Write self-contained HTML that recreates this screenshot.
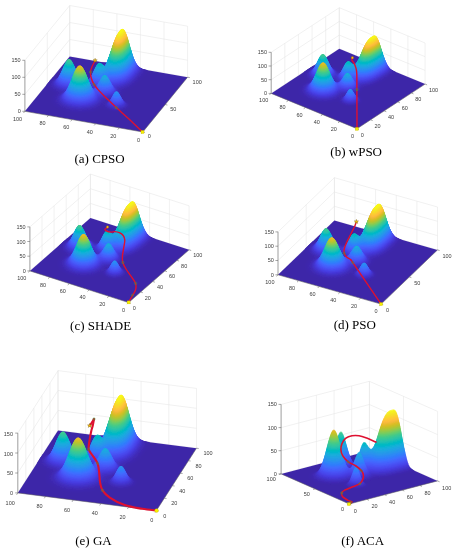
<!DOCTYPE html>
<html><head><meta charset="utf-8"><title>Figure</title><style>html,body{margin:0;padding:0;background:#fff}svg{display:block}</style></head><body>
<svg width="454" height="550" viewBox="0 0 454 550">
<style>.g{stroke:#e2e2e2;stroke-width:.5;fill:none}.ax{stroke:#606060;stroke-width:.55;fill:none}.t{font-family:"Liberation Sans",sans-serif;font-size:5.5px;fill:#3c3c3c}.cap{font-family:"Liberation Serif",serif;font-size:13px;fill:#000}</style>
<filter id="b" x="-5%" y="-5%" width="110%" height="110%"><feGaussianBlur stdDeviation=".3"/></filter>
<rect width="454" height="550" fill="#fff"/>
<g>
<path class="g" d="M24.9 111.3L24.9 60.3M47.3 83.9L47.3 32.9M69.7 56.5L69.7 5.5M24.9 111.3L69.7 56.5L187.6 77.2M24.9 94.3L69.7 39.5L187.6 60.2M24.9 77.3L69.7 22.5L187.6 43.2M24.9 60.3L69.7 5.5L187.6 26.2M187.6 77.2L187.6 26.2M164 73.1L164 22.1M140.4 68.9L140.4 17.9M116.9 64.8L116.9 13.8M93.3 60.6L93.3 9.6M69.7 56.5L69.7 5.5"/>
<g filter="url(#b)"><path fill="#3e26a8" d="M142.8 132L24.9 111.3L69.7 56.5L187.6 77.2Z"/>
<g transform="matrix(-.1179 -.0207 .0448 -.0548 142.8 132)">
<path fill="#3e27aa" transform="translate(.4 1.1)" d="M1000 616l0-134-7-16-14-22-17-20-18-17-34-25-6-6-5-8-5-14-5-50-7-34-7-18-7-16-9-18-9-14-20-24-24-23-26-18-32-16-18-6-22-6-20-3-22-1-20 0-22 3-22 5-20 6-22 10-20 11-18 12-18 16-14 14-13 16-12 18-17 31-7 7-5 2-6-1-36-13-22-5-24-1-24 5-12 4-12 6-20 15-10 10-8 10-11 22-7 24-1 14 0 14 2 14 4 14 5 12 7 12 15 19 18 14 10 6 14 6 40 12 5 5 3 8 0 42 8 49 0 17-4 16-21 50-10 34-6 26-4 24-4 54-2 72 1 68 5 34 4 14 7 16 384 0 6-14 5-14 4-16 3-18 1-26 0-52-2-98 2-20 3-7 4-7 8-6 10-2 50 7 18 1 16-1 26-4 28-10 16-8 14-9 14-11 12-11 11-12 10-14 10-16z"/>
<path fill="#3e27ac" transform="translate(.9 2.4)" d="M1000 558l-1-26-4-26-10-26-12-22-12-16-15-16-18-15-34-23-7-6-5-8-4-14-3-46-6-30-9-30-15-28-20-28-23-24-26-19-14-8-18-9-22-7-22-5-22-3-22-1-24 2-22 5-20 6-20 8-18 10-18 12-16 13-14 14-12 14-10 14-11 20-15 30-4 6-4 2-4 0-6-2-26-15-18-8-14-4-14-2-18 0-18 3-18 7-14 8-12 9-11 12-9 14-7 14-4 14-3 18 1 18 3 16 5 16 10 16 11 14 14 12 12 7 14 6 16 5 30 4 6 3 3 3 2 4 0 6-2 30 1 20 2 16 9 44 0 12-3 10-21 48-12 36-8 36-6 46-3 68 1 90 2 20 3 18 6 16 6 14 353 0 8-14 6-16 4-16 2-16 1-26 0-50-2-104 4-22 8-19 4-5 6-5 10-3 10 1 30 7 20 3 20 0 20-1 16-4 16-4 16-7 14-8 18-12 14-13 13-14 12-18 8-16 8-20 5-20z"/>
<path fill="#3f28ae" transform="translate(1.5 4.1)" d="M990 572l2-28-3-26-8-26-13-26-13-18-17-18-20-15-36-23-7-6-5-8-3-14-2-44-5-30-9-30-15-30-10-14-11-14-11-12-14-12-14-11-16-9-16-8-16-7-16-4-18-4-18-2-18-1-18 2-18 2-32 10-22 9-22 14-18 14-17 17-13 16-13 20-10 20-13 31-6 8-4 2-6-2-30-24-12-7-12-5-12-3-12-2-22 0-16 3-12 4-12 6-12 9-10 9-9 11-7 12-5 12-3 10-2 14 0 14 2 12 3 14 5 12 7 12 8 10 17 15 18 10 12 4 14 3 38 4 4 2 3 6 0 8-4 30 0 22 4 24 9 38 1 16-5 16-23 48-12 38-9 46-5 58-1 86 1 44 2 16 4 18 6 16 6 14 333 0 7-12 6-14 4-14 3-18 2-26 1-44-1-44-2-56 0-16 2-13 4-13 6-14 6-10 8-9 4-3 6-2 12 2 28 7 16 4 28 2 18-1 16-3 18-6 18-8 18-10 14-11 14-14 11-14 10-16 7-16 6-18z"/>
<path fill="#3f29b0" transform="translate(2.3 6)" d="M984 566l1-26-4-26-9-26-13-24-13-16-16-16-18-13-38-22-8-7-4-6-4-14-1-46-4-30-4-16-6-16-8-16-8-14-19-26-24-23-14-10-14-8-16-8-16-6-20-6-22-3-22-1-20 1-20 3-22 6-20 9-20 11-16 11-16 14-13 14-13 16-9 16-8 16-19 53-3 5-3 2-6-3-18-21-10-10-18-13-12-6-14-4-12-3-14 0-14 1-14 4-14 6-12 8-10 9-9 10-7 12-6 14-3 12-2 12 0 14 2 12 4 14 6 12 6 10 9 10 8 7 10 7 12 7 10 3 12 3 12 1 38 0 5 2 2 4-1 8-7 36 0 24 4 26 11 40 1 8 0 8-5 16-23 46-12 36-6 24-4 24-5 54-1 90 1 46 3 18 4 16 5 14 7 14 317 0 9-16 6-16 4-16 3-20 1-22 0-44-3-96 1-20 2-12 5-13 8-16 8-13 4-6 6-5 4-1 6-1 10 2 26 8 18 5 20 2 20 0 28-5 16-6 14-6 16-10 14-11 14-14 11-14 9-16 8-16 5-18z"/>
<path fill="#402ab3" transform="translate(3.1 8.1)" d="M978 568l1-28-4-26-8-24-14-24-14-18-17-15-18-12-39-21-7-6-4-6-3-14 0-46-4-30-4-16-6-16-6-14-9-16-10-14-10-12-11-12-13-11-14-10-14-8-28-12-24-6-24-3-24 0-24 3-24 6-24 10-20 12-20 15-16 16-13 16-12 18-9 18-9 26-6 28-3 22-1 28-2 10-5 11-4 3-4 2-2 0-2-4 4-28 0-16-4-12-6-14-12-18-12-13-16-12-16-8-18-4-18-1-18 3-16 6-16 10-12 11-12 16-7 16-3 12-1 14 1 12 2 14 4 12 7 12 7 10 10 10 10 8 10 5 10 4 12 3 14 2 12 0 38-5 4 1 2 4-2 8-10 38-2 14 0 14 1 14 3 14 14 44 1 8-1 8-4 14-25 48-12 34-6 24-4 22-5 52-2 72 0 42 2 24 2 20 5 16 5 14 7 14 303 0 9-14 7-16 4-18 3-20 1-24 1-44-4-94 1-20 3-12 5-13 20-38 8-9 4-2 6-1 10 2 42 14 28 3 18 0 18-3 16-4 16-6 16-9 14-10 13-12 12-14 10-16 8-16 6-18z"/>
<path fill="#402bb6" transform="translate(4.1 10.9)" d="M446 360l0-16-4-16-7-16-10-14-13-13-14-9-16-6-16-4-18 0-16 4-16 6-14 10-12 12-9 14-7 16-3 16 0 16 4 18 7 16 10 14 12 12 14 9 16 6 16 3 18 0 18-3 20-8 14-8 9-9 7-14 7-18zM972 572l2-26-3-26-8-26-13-24-15-18-17-15-22-14-38-19-7-6-4-6-3-6-1-8 1-40-1-20-3-18-5-20-8-22-12-20-14-20-16-16-25-19-26-14-30-10-16-3-16-2-32 1-30 7-16 5-14 6-26 16-16 14-15 15-12 16-12 20-10 26-7 28-3 26-1 36-3 14-3 6-6 7-28 21-11 12-8 14-7 14-5 14-4 14-2 22 1 24 5 20 13 36 2 8 0 8-2 8-4 8-17 30-8 18-8 20-6 18-6 26-4 24-3 28-1 32-1 86 1 38 3 18 5 16 5 14 7 12 290 0 9-14 7-16 5-18 3-20 1-22 0-42 0-44-3-54 1-22 3-12 5-12 26-48 8-8 4-1 6 0 8 2 26 10 16 5 16 4 18 1 14 0 14-2 16-4 14-6 16-8 14-10 13-11 12-14 10-14 8-16 5-16z"/>
<path fill="#412cba" transform="translate(5.4 14.1)" d="M440 366l1-16-2-16-6-16-8-14-11-12-14-10-14-7-16-4-16-1-18 3-14 5-14 8-12 11-10 13-6 14-4 16-1 16 2 16 6 16 7 12 11 12 13 10 14 7 16 4 16 1 18-2 16-5 16-9 11-10 9-12 7-16zM968 564l0-26-4-26-10-24-14-22-14-16-16-13-20-11-39-18-7-5-4-5-3-8-1-8 2-40-1-22-2-18-6-20-8-22-12-20-13-18-16-16-24-19-14-8-14-6-28-9-30-4-30 2-16 2-16 5-26 10-26 17-18 15-16 19-15 22-10 22-6 20-4 20-1 22 0 36-2 10-2 7-9 11-29 23-14 15-8 12-6 12-5 14-3 12-3 22 2 22 6 22 14 36 2 8 0 8-5 14-19 32-8 16-8 18-6 20-6 24-4 26-4 30-2 34 0 84 2 36 2 16 4 16 6 14 8 14 277 0 10-14 7-16 5-18 3-20 1-24 0-42 0-44-3-52 1-22 3-12 5-12 30-57 4-4 4-3 4-1 6 0 50 19 18 4 16 2 16-1 14-2 14-3 14-5 16-9 14-10 14-12 11-14 10-16 7-14 5-16z"/>
<path fill="#422fc0" transform="translate(7 18.4)" d="M436 358l0-16-4-14-6-14-9-12-11-11-12-8-14-6-16-3-16 0-14 3-14 6-14 10-11 11-7 12-7 16-2 14 0 14 4 16 6 14 9 13 11 11 13 8 14 5 16 3 16 0 14-3 14-6 14-10 11-11 7-12 5-14zM962 566l1-26-4-26-10-24-14-22-15-16-18-13-22-12-38-15-6-4-5-6-2-6-1-10 3-38 0-20-2-20-4-18-8-22-12-22-13-18-16-17-24-18-26-14-28-8-28-4-30 1-28 6-26 11-26 16-18 16-17 19-12 20-10 22-6 20-3 20-2 20 1 38-1 8-3 8-8 10-31 24-15 16-7 10-7 12-5 12-3 14-3 22 3 22 6 22 15 34 2 8 1 8-5 14-19 30-10 20-8 18-6 18-6 24-5 30-4 30-1 34-1 82 2 36 3 16 5 16 5 12 8 14 264 0 10-14 7-16 6-18 3-20 1-26 0-56-4-84 2-20 6-18 19-36 18-36 3-4 4-3 8 0 48 22 16 4 16 3 14 0 16-1 14-3 14-4 16-7 14-9 14-12 11-12 10-14 8-16 6-16zM690 538l-4 3-4 0-12-4-11-9-1-4 0-4 6-4 6-1 8 0 6 2 4 3 3 6 1 6z"/>
<path fill="#4332c9" transform="translate(10.1 26.6)" d="M428 368l2-14-1-14-4-14-6-12-10-12-11-9-12-7-14-5-14-1-14 1-14 4-12 6-11 9-9 10-7 12-4 14-2 14 1 16 4 14 7 12 9 11 10 8 12 7 14 5 14 1 14-1 14-4 12-6 12-9 9-10 6-12zM954 566l1-26-4-24-10-24-7-12-8-10-16-16-20-13-22-10-36-11-8-4-5-6-2-6-1-8 5-40 1-22-1-18-4-20-8-22-10-20-13-19-16-17-22-17-24-12-28-9-28-4-28 2-28 6-26 11-24 16-16 15-15 18-12 20-8 20-6 20-2 18-1 20 2 38-1 8-3 8-8 10-34 24-16 16-8 10-7 12-4 12-3 12-2 22 1 12 2 12 8 22 17 32 3 8 0 6-1 6-3 8-27 40-9 16-6 16-7 18-5 20-8 46-2 32-1 36-1 60 2 28 3 20 4 18 7 16 9 14 244 0 11-14 8-16 6-18 3-22 2-26-1-58-4-82 2-20 7-18 17-30 8-16 13-37 4-8 2-2 4-2 6 2 42 24 16 7 16 4 16 2 14 0 14-1 16-4 16-6 14-8 14-11 12-12 11-14 8-16 6-16zM706 548l-3 10-4 4-5 1-10-4-33-19-11-8-4-5-2-5 0-6 1-4 3-4 4-3 14-4 24-1 10 1 6 2 7 5 3 8 2 14z"/>
<path fill="#4435d1" transform="translate(13.2 34.7)" d="M424 362l1-14-2-12-4-12-7-12-10-10-10-8-12-5-14-4-14 0-12 2-12 4-12 7-10 10-7 10-6 12-3 12 0 12 1 14 5 12 7 12 9 10 10 8 12 5 14 4 14 0 12-2 12-4 12-7 10-9 8-11 5-12zM948 566l1-12 0-14-4-24-5-12-6-12-8-12-8-10-16-14-20-12-22-9-40-9-8-4-4-4-2-6 0-10 7-40 2-22-1-20-3-18-8-24-10-20-13-19-16-17-20-15-24-12-26-8-28-4-26 2-26 6-26 11-22 15-16 15-14 18-12 20-8 20-4 18-2 18-1 20 3 38 0 8-3 8-4 6-5 4-34 22-18 16-8 10-7 12-5 12-3 12-2 22 2 12 3 12 9 22 19 32 3 8 0 6-1 6-3 6-29 40-9 16-7 14-7 20-6 20-7 44-3 32-2 36 0 62 1 28 3 20 6 18 7 16 10 14 228 0 11-14 9-16 6-18 3-20 2-24 0-46-1-42-4-54 2-22 6-18 20-34 10-22 7-22 5-34 2-6 2-1 6 4 25 21 15 11 24 13 16 5 16 3 16 0 16-1 16-4 18-8 16-10 12-11 12-14 9-16 8-18zM716 531l-3 47-1 7-2 2-6-2-34-25-31-18-9-6-4-5-3-5-1-6 0-8 2-6 4-6 6-4 6-2 10-2 20-1 18-1 12 1 10 4 5 7 1 10z"/>
<path fill="#4538d8" transform="translate(16.3 42.9)" d="M420 362l1-14-2-12-5-12-6-10-8-9-10-7-12-6-12-3-12 0-12 1-12 4-10 6-9 8-8 10-6 12-3 12 0 12 2 14 4 12 6 10 8 9 10 7 12 6 12 3 14 0 12-2 12-4 10-7 9-8 7-10 5-10zM944 556l-1-24-3-12-4-12-5-12-6-10-8-10-9-9-16-12-20-10-22-7-42-7-8-3-3-4-1-6 0-8 9-40 3-22 1-20-3-20-7-24-10-22-14-20-16-16-21-16-24-11-26-7-24-3-26 2-24 6-24 11-22 15-15 15-14 18-10 18-8 22-4 16-2 18 1 20 4 38-1 8-3 8-2 4-6 5-36 20-18 15-8 10-8 12-5 12-3 12-2 12 0 12 2 12 3 12 11 22 22 32 2 6 1 6-1 6-4 8-30 36-9 14-8 16-8 20-5 18-5 20-4 24-3 32-2 36 0 66 1 28 3 20 6 18 7 16 10 14 216 0 13-16 9-18 5-12 3-14 2-30 0-68-5-76 1-20 3-10 4-10 21-34 10-22 7-24 1-24-2-12-4-10-6-10-8-10-19-15-12-8-26-13-6-4-6-6-4-10 0-12 3-12 6-8 9-5 18-2 54-2 10 1 6 3 3 5 1 8-3 44 1 24 3 16 5 14 7 10 8 10 21 19 22 12 24 8 24 2 22-2 22-8 20-12 17-15 14-20 9-22z"/>
<path fill="#463cdf" transform="translate(19.4 51)" d="M416 364l1-12-1-12-4-12-5-10-7-8-10-8-10-6-12-3-12-1-10 1-12 3-10 6-10 8-7 8-5 10-4 12-1 12 1 12 4 12 5 10 7 8 10 8 10 6 12 3 12 1 12-1 10-3 11-6 9-8 7-8 5-10zM938 568l2-14 0-14-3-14-3-12-5-12-7-12-8-11-10-10-18-13-22-9-26-6-42-3-6-2-4-4-1-4 1-8 12-40 4-22 2-22-2-20-5-24-10-22-12-20-17-18-20-16-22-11-24-7-26-4-26 2-24 6-24 11-20 14-16 15-14 18-9 18-8 22-4 18-1 18 1 20 5 36 0 8-2 6-4 6-5 4-37 19-10 6-10 9-9 10-7 12-5 12-3 12-2 12 1 12 2 12 3 12 12 22 24 30 3 6 1 6-1 6-4 8-32 36-10 14-8 14-8 18-6 18-5 20-4 22-3 30-2 36-1 68 1 30 3 20 5 18 7 16 9 14 4 4 204 0 14-16 10-20 7-24 2-32 0-68-5-74 1-20 2-10 4-10 24-36 8-18 7-22 1-22-2-14-5-12-7-12-8-10-10-8-12-8-38-19-8-9-4-12 0-18 4-13 6-8 6-3 10-2 40-2 38-3 12 0 6 3 3 4 0 8-6 40-1 24 3 20 5 18 6 10 7 10 17 17 20 14 22 8 22 4 22-1 20-5 20-10 18-14 14-17 11-20z"/>
<path fill="#4740e4" transform="translate(22.5 59.1)" d="M414 354l-1-12-3-10-4-10-6-8-8-7-10-6-10-4-12-2-12 1-10 2-10 5-9 7-8 8-6 10-3 10-2 12 1 12 3 10 5 10 7 10 8 6 10 6 10 3 12 2 12-1 10-3 10-5 8-6 7-8 6-10 3-10zM936 554l0-14-2-14-4-12-5-12-7-11-8-10-10-10-10-8-20-10-24-7-26-2-42 3-4-1-3-2 0-4 1-6 16-40 7-24 4-24 0-22-5-26-10-24-14-22-18-20-20-14-22-10-24-7-24-2-24 2-24 7-22 10-20 14-15 16-12 16-10 20-6 20-3 18-1 16 1 20 6 38 0 8-2 7-4 5-6 4-36 16-12 7-9 7-9 10-7 10-6 12-4 14-1 14 1 12 2 12 4 12 7 12 7 10 26 30 4 6 0 6-1 6-4 6-34 34-10 14-9 14-8 16-6 18-6 20-5 24-3 30-3 38 0 68 1 30 2 20 5 18 8 16 10 14 3 4 194 0 8-8 8-10 6-10 5-12 6-26 2-30 0-68-5-72 1-20 2-10 5-10 22-34 10-18 6-22 1-22-2-12-5-12-7-12-8-10-18-14-14-7-26-12-6-4-5-5-4-12 0-22 3-17 2-5 4-4 6-4 8-1 50-2 20-2 38-6 8 0 3 1 1 2 0 6-11 38-4 26 1 26 5 22 6 12 6 10 9 10 8 8 10 7 12 7 12 5 12 4 22 2 22-2 22-8 18-11 16-15 13-19 8-20z"/>
<path fill="#4745e9" transform="translate(25.6 67.3)" d="M410 362l1-10-1-10-3-10-5-10-6-8-8-6-10-6-10-3-12-1-10 1-10 3-10 6-8 6-6 8-5 10-3 10-1 10 1 10 3 10 5 10 6 8 8 6 10 6 10 3 10 1 12-1 10-3 10-6 8-6 6-8 5-10zM794 354l1-24-3-22-7-22-10-20-13-18-18-17-18-12-22-9-22-6-24-1-22 2-22 7-22 11-18 13-16 17-13 19-6 12-5 14-3 14-2 16 1 28 8 46 0 6-1 6-3 4-5 4-41 16-12 6-10 8-9 10-8 12-6 12-3 14-1 12 2 14 3 12 5 12 6 10 9 11 28 27 4 6 1 4-1 6-6 8-36 34-11 14-9 14-9 18-7 18-6 22-5 22-4 32-2 38 0 68 1 30 4 20 6 18 8 16 12 14 184 0 12-12 10-14 6-14 4-14 3-14 1-18 0-74-5-78 1-20 2-9 4-9 24-34 9-18 6-20 1-12 0-10-2-14-5-12-7-12-9-10-9-7-10-7-12-5-27-11-6-4-4-4-3-8-2-12 1-26 2-14 2-6 3-3 8-5 12-1 42 1 24-3 34-8 14-6 8-5 7-6 7-8 15-26 11-28zM932 560l0-18-3-20-7-18-10-15-12-13-16-12-18-9-18-4-20-2-22 1-22 5-14 6-10 9-10 14-8 18-5 22-3 22 2 20 4 18 10 18 13 16 15 12 18 10 20 6 20 2 20-3 18-6 18-10 16-15 12-16 8-18z"/>
<path fill="#4849ed" transform="translate(28.7 75.4)" d="M408 358l0-10-1-10-4-10-6-8-7-8-8-5-8-4-10-2-10 0-10 1-10 4-8 5-8 7-5 8-5 10-2 10 0 10 1 10 4 10 6 8 7 8 8 5 10 4 10 2 10 0 10-2 10-4 8-5 7-8 6-8 3-8zM790 356l1-22-2-22-6-22-10-20-12-18-17-16-18-13-22-9-22-6-22-1-22 2-22 6-20 10-19 13-15 16-14 20-6 14-5 14-3 14-1 16 0 14 2 16 10 44 0 6-1 6-3 4-6 4-41 13-12 5-11 8-10 10-9 12-5 12-4 14-1 14 2 12 4 14 6 12 7 10 9 10 31 26 3 4 2 6-1 6-6 8-39 33-11 13-10 14-9 16-7 18-7 20-5 24-4 32-3 38 0 70 1 30 4 22 6 18 9 16 12 14 176 0 12-12 11-16 6-12 4-14 3-16 1-18 0-74-6-78 1-18 2-10 5-10 23-32 10-18 6-20 1-20-2-14-4-12-8-12-9-10-18-13-12-6-30-11-6-4-4-4-3-8-1-10 1-40 2-12 3-7 4-3 4-1 12-1 40 2 24-2 30-6 12-5 12-6 10-7 8-8 8-10 7-12 12-26 4-14zM928 564l1-18-2-18-6-18-9-16-12-14-14-11-16-9-18-5-20-3-20 1-20 5-16 7-12 9-9 12-8 16-6 20-3 20 1 20 4 18 8 18 13 16 14 13 18 10 18 5 18 2 20-1 18-6 18-9 14-12 13-16 9-18z"/>
<path fill="#484df0" transform="translate(31.7 83.6)" d="M406 354l-1-10-2-8-3-8-6-8-8-7-8-5-8-3-10-2-10 1-10 2-8 4-8 6-7 8-5 8-2 8-2 10 1 10 2 10 4 8 7 8 8 7 8 4 8 3 10 1 10-1 8-2 8-4 8-6 7-8 5-8 3-8zM788 340l-1-20-4-20-8-20-11-18-14-16-16-13-18-11-20-7-20-4-22-1-22 4-20 6-20 11-16 13-14 15-11 17-6 14-5 16-3 14-1 16 1 14 2 16 12 46 1 6-1 6-4 4-5 2-28 6-16 4-12 6-10 6-11 10-9 11-6 13-4 14-1 12 2 14 4 14 6 12 9 12 10 9 33 23 4 4 2 6-2 8-6 8-43 35-11 11-10 14-9 16-8 18-7 20-5 22-4 34-3 36-1 72 2 30 3 22 7 18 9 16 12 14 168 0 15-14 11-16 5-12 4-14 3-16 1-18 0-74-2-32-5-44 1-20 3-10 4-8 24-32 10-18 6-20 1-20-2-14-5-12-7-12-10-10-10-8-12-6-40-14-4-2-4-5-3-7 0-8 0-58 0-8 2-4 3-3 8-2 52 4 16-1 16-2 26-7 22-11 10-7 10-10 9-13 7-12 6-14 6-16 3-16zM926 558l0-18-3-18-7-16-10-15-13-13-15-11-16-6-18-5-20-1-18 3-18 6-14 8-12 12-9 14-7 18-4 18-1 20 3 18 5 16 10 16 13 14 16 11 16 8 18 4 18 0 18-3 18-7 16-10 13-13 10-14 8-18z"/>
<path fill="#4851f4" transform="translate(34.8 91.7)" d="M402 364l1-8 0-10-1-8-4-8-5-8-7-6-8-6-8-3-8-1-10 0-10 2-8 3-8 6-6 7-5 8-3 8-1 8 0 10 2 10 4 8 6 8 7 6 8 5 8 2 8 2 10-1 8-2 9-4 7-5 6-7 5-8zM784 350l1-22-4-22-7-20-10-18-12-16-16-14-18-11-20-9-20-4-22-1-22 3-20 7-18 9-16 12-15 16-11 18-7 14-5 16-2 16-1 18 4 28 16 50 1 6 0 5-3 3-5 2-28 2-18 3-12 4-12 6-12 9-10 12-7 14-4 14-1 14 2 14 5 14 7 12 8 10 12 10 35 20 4 4 2 6-2 10-8 10-9 8-24 16-12 10-12 12-9 12-10 16-8 18-6 18-6 22-5 32-2 40-1 72 1 30 4 22 6 18 10 16 13 14 160 0 15-14 13-18 5-12 4-14 2-16 1-18 0-74-2-30-5-46 1-18 2-10 5-10 24-31 10-17 7-20 1-20-3-14-5-12-8-12-10-10-10-7-12-6-40-12-5-3-3-4-3-10 1-42-4-42 2-4 8-2 52 7 30 0 26-6 24-9 12-8 9-8 9-10 9-12 6-12 6-14 4-14zM922 566l2-16-2-18-5-16-8-16-11-14-12-10-16-9-16-6-18-3-18 1-18 4-16 7-14 10-10 12-7 14-7 18-2 18 0 18 4 18 8 16 10 14 14 13 16 9 18 7 18 2 18-2 18-5 15-8 15-12 11-14 8-16z"/>
<path fill="#4756f6" transform="translate(37.9 99.8)" d="M400 362l1-8 0-8-2-8-4-8-5-8-6-5-8-5-8-3-8-1-10 0-8 2-8 4-8 6-5 6-4 8-3 8-1 8 0 10 3 8 4 8 6 8 6 5 8 4 8 2 8 1 8 0 8-2 8-4 8-6 5-6 5-8zM682 652l1-18-3-16-7-16-10-12-11-9-12-6-16-6-30-7-5-2-4-4-2-10 2-36-2-24-2-12-5-12-4-8-4-5-10-5-14-3-16 0-16 1-14 4-12 6-10 7-10 9-10 16-5 18-1 10 1 10 6 18 9 15 12 12 16 11 32 14 3 4 2 6-4 12-9 12-10 8-24 16-12 9-12 11-10 12-9 14-8 18-7 20-6 20-5 32-3 38-1 74 1 32 4 22 7 18 10 16 14 14 152 0 13-11 11-13 8-14 4-14 4-16 1-18 0-80-2-32-5-44 1-20 2-10 6-10 22-27 8-13 7-14zM780 358l2-24-3-24-7-22-11-20-15-18-18-14-20-11-24-7-24-2-24 3-22 7-20 11-18 15-14 18-11 20-7 24-2 26 3 26 10 30 14 30 7 9 8 6 16 6 26 6 28 3 26-1 26-6 22-11 18-14 15-18 12-24zM920 562l1-18-2-16-6-16-8-14-11-12-14-11-16-8-16-4-18-2-18 2-16 5-14 7-12 10-10 13-8 16-4 18-2 18 2 18 6 16 8 14 12 14 14 11 16 8 16 4 18 1 16-2 16-6 16-9 12-11 11-14 7-16z"/>
<path fill="#475af9" transform="translate(41 108)" d="M398 360l1-8-1-8-2-8-4-7-5-7-7-5-14-6-8-1-8 0-8 3-8 4-7 5-5 6-4 8-2 8-1 8 1 8 2 8 4 7 5 7 7 5 14 6 8 1 8 0 8-3 8-4 7-5 5-6 4-8zM680 650l1-16-3-16-8-16-10-12-12-9-12-5-16-5-30-5-6-3-3-3-2-4 0-6 3-34-1-24-3-12-3-10-5-8-6-7-10-6-12-4-14-1-14 1-14 3-12 6-10 6-10 10-10 16-3 10-2 10 0 10 2 10 7 18 10 14 12 10 16 9 32 11 5 4 1 6-2 8-3 8-11 14-9 8-27 16-12 9-12 11-10 12-9 14-9 18-6 18-5 20-6 32-3 38-1 74 2 32 4 22 7 18 10 16 14 14 145 0 15-12 11-14 8-14 4-14 3-16 2-18-1-78-2-32-5-46 1-20 3-10 4-8 23-28 10-14 5-12zM778 352l1-24-4-22-8-22-11-18-16-17-18-14-22-10-22-5-24-1-22 4-22 8-18 11-17 16-14 18-10 22-5 22-1 24 4 26 10 26 13 24 10 11 12 8 22 8 24 5 26 1 24-3 22-7 20-11 16-14 14-20 10-22zM918 558l0-16-2-16-7-16-9-14-12-12-12-9-16-7-16-4-18 0-16 2-16 6-14 8-10 10-10 14-7 16-3 16-1 18 3 16 5 16 9 14 12 13 14 10 16 7 16 3 16 1 16-3 16-6 14-9 12-12 10-14 7-16z"/>
<path fill="#465efb" transform="translate(44.1 116.1)" d="M396 360l1-8-1-8-2-8-4-6-10-11-6-3-8-3-8-1-8 1-8 2-6 3-6 5-6 7-4 6-2 8-1 8 1 8 2 8 4 6 5 6 7 6 6 3 8 2 8 1 8-1 8-3 6-3 10-11 4-6zM678 648l0-18-4-16-8-14-12-12-12-7-14-6-16-3-30-3-6-2-2-3-1-8 6-38 0-20-2-12-5-12-4-8-8-8-8-5-12-5-12-1-14 1-12 2-12 5-10 7-10 9-6 9-4 8-3 10-2 10 1 10 2 10 3 10 5 8 10 12 14 11 18 8 33 7 4 4 1 4-2 8-5 12-7 10-6 8-10 8-28 17-12 8-12 11-10 12-9 14-8 16-7 18-5 20-5 32-4 38-1 74 2 32 4 22 8 20 11 16 13 12 139 0 15-12 13-16 7-14 4-14 3-16 1-18 0-78-2-30-6-48 1-20 2-8 6-10 22-26 10-14 7-14zM776 346l0-22-5-22-8-20-14-20-16-16-19-12-20-8-22-4-22 0-22 5-20 8-20 14-16 16-12 19-8 20-4 22 0 24 5 24 10 24 13 21 12 11 16 9 22 7 24 4 24 0 24-5 20-8 18-12 15-15 13-20 8-22zM916 556l0-16-4-16-5-14-10-14-11-11-14-9-16-7-16-3-16 0-16 3-14 6-14 9-10 10-9 14-6 16-3 16 0 16 3 16 6 16 9 13 11 11 13 9 16 7 16 3 16 0 16-3 16-7 13-9 12-12 9-14 5-14z"/>
<path fill="#4562fc" transform="translate(47.2 124.2)" d="M394 358l0-14-3-8-3-6-6-6-5-4-13-5-14 0-8 2-6 4-6 5-5 6-3 6-2 8 0 14 3 8 3 6 6 6 6 5 6 2 8 2 14 0 8-3 6-4 9-10 3-6zM676 646l0-18-5-16-5-8-6-7-14-12-16-7-18-3-22-1-26 2-4 3-18 35-13 18-11 9-28 16-14 10-14 13-12 16-9 16-8 20-6 22-4 22-3 24-2 28-1 78 3 30 2 14 4 12 6 12 7 10 8 8 9 8 132 0 18-14 12-16 6-12 5-14 3-16 1-20-1-78-2-30-5-46 0-20 3-10 5-8 24-28 10-14 6-14zM576 524l1-14-1-12-2-12-4-10-6-9-7-7-9-5-10-4-12-1-14 1-12 3-12 5-10 7-9 10-6 10-4 12-1 12 1 12 3 12 6 12 9 10 11 9 12 6 12 4 12 1 14 1 16-1 6-2 4-8 6-16zM772 356l2-22-3-22-6-20-11-20-14-16-18-15-20-10-20-5-22-2-22 3-20 6-20 11-16 14-15 18-10 20-5 20-2 22 3 24 8 24 11 21 12 15 14 10 18 9 22 5 24 2 22-2 22-6 20-11 16-13 14-18 10-20zM914 552l-1-16-4-16-7-14-10-12-12-11-14-8-14-4-16-3-16 1-16 4-14 7-11 8-10 12-8 14-5 14-2 16 0 16 4 16 7 14 9 12 12 11 14 9 14 5 16 2 16-1 14-3 15-7 13-10 11-12 8-14 5-14z"/>
<path fill="#4367fd" transform="translate(50.3 132.4)" d="M392 358l0-14-5-12-5-5-6-5-12-5-14 0-8 3-6 3-5 5-5 6-4 12 0 14 6 13 10 9 6 3 8 2 14 0 12-6 5-5 5-6zM674 646l0-16-5-16-9-14-11-10-15-8-16-4-20-1-18 2-10 4-8 6-7 9-17 28-10 12-10 7-28 15-14 10-14 14-12 16-9 18-7 18-5 20-5 24-2 24-2 28-1 78 3 30 3 12 4 12 6 10 7 10 8 9 9 7 125 0 18-13 14-17 7-14 4-14 3-16 1-18-1-78-2-32-6-46 1-20 3-10 5-8 24-26 10-14 6-14zM574 520l1-12-2-12-3-12-5-10-6-8-8-6-9-4-10-3-12-1-12 2-12 4-10 5-10 8-7 9-5 10-3 12-1 12 2 12 4 12 7 10 9 9 10 7 12 6 12 2 12 1 12-1 10-3 6-4 6-7 6-12 4-12zM770 354l2-22-3-20-7-20-11-20-14-16-17-13-20-10-20-5-22-1-20 2-20 7-20 11-16 14-13 17-10 20-5 20-2 22 3 22 7 22 12 21 12 14 14 11 18 8 22 6 24 2 22-3 20-6 20-11 16-14 13-18 10-20zM910 566l2-14-1-16-4-14-7-14-9-12-11-10-14-8-14-5-16-2-16 0-14 4-14 6-11 9-9 10-9 14-5 14-2 16 1 16 3 14 6 14 10 13 12 11 14 8 14 5 16 2 16-1 14-4 14-7 12-10 10-11 8-14z"/>
<path fill="#416bfe" transform="translate(53.4 140.5)" d="M390 358l0-12-5-12-9-10-12-5-8-1-6 1-12 5-9 10-5 12 0 8 0 6 6 12 10 9 12 4 12 0 12-5 9-10zM672 646l0-16-4-14-7-12-11-11-14-8-16-5-18-1-16 2-12 5-10 7-8 11-17 26-9 10-10 8-28 14-14 10-15 14-12 18-8 16-8 20-5 22-4 22-4 52-1 78 4 30 7 22 6 10 8 10 8 8 8 6 119 0 9-6 10-8 8-8 7-10 6-12 4-14 3-16 1-20-1-80-3-30-6-46 1-18 3-10 4-8 25-26 10-14 7-14zM572 516l0-12-2-10-3-10-5-10-8-8-8-6-10-3-10-2-12 0-10 2-12 5-9 6-8 8-6 8-4 10-3 12 0 12 3 10 4 10 7 10 8 8 10 7 12 4 12 3 12 0 10-2 8-3 8-7 6-8 5-10 3-12zM768 352l1-22-3-20-7-20-11-18-14-15-16-12-20-10-20-5-22-1-20 3-20 7-18 11-15 14-12 16-10 20-5 20-1 22 3 22 7 20 12 20 12 14 15 11 18 8 22 5 22 1 22-3 20-7 18-10 16-15 12-16 9-20zM908 564l2-14-1-14-4-14-7-14-10-12-10-9-14-8-14-4-14-2-16 1-14 3-14 7-12 10-9 10-7 14-4 14-2 16 1 14 4 14 7 14 10 12 10 9 14 8 14 4 14 2 16-1 14-5 14-7 12-10 8-10 8-14z"/>
<path fill="#3e70ff" transform="translate(56.5 148.7)" d="M388 356l-1-12-2-6-4-6-9-8-12-3-12 1-10 5-8 9-4 12 1 12 2 6 4 6 9 8 12 3 12-1 10-5 8-9zM670 646l0-14-4-15-8-13-10-10-12-7-16-5-16-1-16 3-12 5-12 9-7 10-17 26-9 10-9 6-28 14-15 10-14 14-13 18-9 18-6 18-6 22-4 22-4 52 0 76 4 30 7 22 6 10 8 10 8 7 10 7 111 0 11-7 10-8 9-9 6-10 6-12 4-14 3-16 1-20-1-78-3-30-6-48 0-18 3-10 5-8 25-25 10-13 7-14zM568 526l2-12 0-10-2-10-4-10-4-8-8-8-8-5-8-4-10-2-12 0-10 2-10 4-10 7-8 8-5 8-5 10-2 10 1 12 2 10 4 10 7 9 8 8 10 6 10 4 10 2 12 0 10-2 10-5 7-6 6-8 5-10zM766 350l1-22-4-20-7-18-11-18-15-16-16-11-18-8-20-5-22-1-20 4-18 7-18 11-16 15-11 16-8 18-5 20-1 20 4 22 8 22 11 18 12 13 16 11 18 8 20 4 22 1 20-3 20-7 18-11 15-14 11-16 9-20zM906 564l2-14-1-14-4-14-7-13-9-11-11-10-12-7-14-4-14-2-16 1-14 4-12 6-12 9-9 11-7 12-4 14-2 16 1 14 4 14 6 12 10 12 11 10 12 6 14 5 14 2 16-2 14-4 12-6 12-10 9-11 7-12z"/>
<path fill="#3974fe" transform="translate(59.6 156.8)" d="M386 356l-1-12-5-10-8-7-10-4-12 1-10 4-8 9-4 11 1 12 5 10 10 8 10 3 12-1 10-6 7-8zM668 646l0-14-4-14-7-12-10-10-13-8-14-4-16 0-14 2-12 5-11 9-9 11-16 25-9 10-9 7-28 13-16 11-16 15-12 18-8 16-7 20-5 20-3 22-4 52 0 78 4 28 4 12 4 10 7 10 6 8 10 8 9 6 104 0 13-7 10-8 8-9 8-12 7-14 3-14 2-16 1-20-1-76-3-30-7-46 0-12 1-8 2-8 5-8 26-26 10-12 7-14zM566 524l2-12-1-10-2-10-3-8-6-8-6-6-8-6-8-3-10-1-10 0-10 2-10 4-9 6-8 8-5 8-4 10-2 10 1 10 2 10 5 10 6 8 8 8 8 4 10 4 12 2 10 0 10-2 8-4 7-6 6-8 5-10zM764 348l1-20-4-20-8-20-11-16-14-15-16-11-18-8-20-4-20-1-20 4-20 8-16 11-15 14-11 16-8 18-4 20-1 20 4 20 7 20 11 18 13 14 16 10 18 8 20 4 22 1 20-4 20-8 16-10 14-13 12-18 8-18zM904 564l2-14-1-14-4-14-7-12-8-11-11-9-11-6-14-5-14-2-14 1-14 3-12 6-12 9-9 10-7 12-4 14-2 14 1 14 4 14 5 12 9 12 11 9 12 7 14 5 14 2 14-1 14-4 12-6 12-9 9-11 7-12z"/>
<path fill="#3579fd" transform="translate(62.7 164.9)" d="M384 354l-1-10-5-9-8-7-10-3-10 1-10 5-7 9-3 10 1 10 6 10 9 7 10 2 10-1 9-6 6-8zM666 648l0-14-3-14-7-12-9-10-13-8-14-4-14 0-15 2-13 6-10 8-9 12-16 26-9 10-10 6-28 13-14 9-16 15-13 19-7 16-7 18-5 20-4 24-4 52 0 76 5 28 3 12 5 10 7 10 7 8 7 6 10 7 2 1 98 0 12-7 12-9 10-10 6-10 7-14 3-14 2-16 1-22-1-76-3-28-7-48 0-18 3-10 5-8 25-24 10-12 7-12zM564 524l1-10 0-10-2-10-3-8-5-8-7-7-8-5-8-3-10-1-10 0-10 3-8 3-8 6-6 6-6 8-4 10-1 10 0 10 2 10 4 8 6 8 7 7 8 5 10 4 10 2 10 0 10-3 8-4 7-5 6-8 4-8zM762 348l0-20-3-20-7-18-11-16-13-14-16-11-18-9-20-4-20 0-20 3-18 7-16 11-14 13-11 16-9 18-4 20 0 20 3 20 8 20 10 16 13 14 14 10 18 8 20 4 20 1 20-3 18-7 18-11 15-14 11-16 8-18zM902 564l2-12-1-14-4-14-6-12-7-10-12-10-12-7-12-4-14-2-14 1-14 3-12 6-11 9-9 10-6 12-4 12-2 14 1 14 4 14 6 12 7 10 12 10 12 7 12 4 14 2 14-1 14-4 11-6 11-8 9-10 7-12z"/>
<path fill="#317dfb" transform="translate(65.8 173.1)" d="M380 360l2-10-3-10-7-8-8-4-10-1-8 3-8 6-4 8-2 10 3 10 7 8 8 4 10 1 8-3 8-6zM664 648l1-14-3-12-6-12-10-10-12-7-14-5-14 0-14 2-12 6-12 10-8 11-15 25-9 10-10 7-28 12-16 10-15 15-13 19-7 15-7 18-5 22-3 22-4 52 0 74 4 28 4 12 5 10 7 10 6 7 8 7 10 6 3 2 91 0 14-7 12-9 9-10 8-12 6-14 4-14 2-18 0-22-1-74-3-28-8-48 1-18 3-10 5-7 25-23 10-12 7-12zM562 522l1-10 0-8-2-10-4-8-5-7-6-6-8-5-8-3-8-1-10 0-10 3-8 4-8 6-6 6-5 9-3 8-1 8 0 10 3 10 4 8 6 8 7 6 7 4 10 4 10 1 10 0 8-3 8-4 6-5 5-7 4-8zM760 346l0-20-3-18-8-18-10-16-14-14-17-11-18-8-18-3-20 0-18 3-18 8-16 10-14 14-11 17-8 18-3 18 0 20 4 20 7 18 11 17 12 12 16 10 18 8 20 3 20 0 18-3 18-7 16-11 14-13 10-16 8-18zM900 564l2-12-1-14-3-12-6-12-8-11-10-9-12-7-12-4-12-2-14 0-14 4-12 5-10 8-9 10-7 12-4 12-2 12 0 14 4 14 6 12 8 11 10 9 12 7 12 4 12 2 14-1 14-3 12-6 11-9 9-10 6-12z"/>
<path fill="#2f82fa" transform="translate(68.9 181.2)" d="M379 358l0-10-3-8-6-6-8-4-8 0-8 2-6 6-5 8 0 10 3 8 6 6 8 4 8 0 8-2 7-6zM662 648l1-14-3-12-7-12-9-9-12-7-12-4-14 0-14 3-12 6-10 9-9 12-15 25-8 9-10 7-28 12-16 9-16 16-13 18-7 16-6 18-5 20-4 22-4 50 0 74 4 28 4 12 5 10 6 10 7 8 9 8 8 5 6 3 84 0 14-7 13-9 10-10 8-12 6-14 5-18 1-18 1-30-2-66-3-26-8-46-1-12 1-8 3-8 5-8 25-22 11-12 7-12zM560 520l1-10-1-8-2-8-4-8-4-6-7-6-7-4-8-3-8-1-10 1-8 2-8 4-8 6-6 7-4 8-2 8-1 8 0 10 3 8 4 8 6 7 8 7 8 4 8 2 10 1 8-1 8-2 6-4 7-6 5-7 4-8zM758 346l0-18-3-18-7-18-10-16-14-14-16-11-18-8-18-3-18 0-18 3-18 7-16 10-14 14-11 16-8 18-3 18 0 20 3 18 7 18 11 16 13 14 14 9 18 7 20 4 20 0 18-3 18-8 16-10 13-13 10-16 8-18zM900 552l-1-14-3-12-6-12-8-10-8-8-12-7-12-4-12-2-14 0-12 3-12 5-10 8-9 9-6 10-5 12-2 14 0 14 3 12 6 12 7 10 10 10 10 6 12 5 14 2 14-1 12-3 12-5 10-8 9-10 6-10 5-12z"/>
<path fill="#2e86f7" transform="translate(72 189.4)" d="M376 356l0-8-3-8-5-5-8-3-8 1-6 2-6 7-2 6 0 8 3 8 5 5 8 3 8-1 6-2 6-7zM660 650l1-14-2-12-7-12-8-9-11-7-13-4-14 0-12 2-12 6-11 10-9 12-14 25-8 10-10 7-30 11-16 10-15 15-13 19-7 15-6 18-5 20-4 22-3 50 0 74 4 26 4 12 4 10 5 8 8 9 8 7 10 6 8 4 76 0 16-7 13-9 11-11 8-13 7-16 3-18 2-20 0-38-2-56-4-26-7-44-1-12 1-8 2-8 6-8 25-21 11-11 7-12zM558 520l0-16-1-8-4-8-5-7-6-5-6-4-8-3-8-1-10 1-8 2-8 5-6 4-6 7-4 7-2 8-1 8 1 10 2 8 4 7 6 7 6 5 8 4 8 3 8 1 8-1 8-2 7-4 7-6 4-6 4-8zM756 348l0-20-3-18-6-16-10-16-13-14-15-10-17-8-18-4-18-1-18 3-18 7-16 10-14 13-10 15-8 17-4 18 0 20 3 18 7 18 10 16 12 13 14 10 18 7 18 4 20 1 18-4 16-6 16-10 14-13 10-14 8-18zM898 554l0-14-3-12-6-12-7-10-9-8-11-7-12-4-12-2-12 0-12 2-12 5-11 8-9 10-6 10-4 12-2 12 0 12 2 12 6 12 6 10 10 9 10 7 12 5 12 2 14 0 12-3 12-5 10-7 9-10 6-10 5-12z"/>
<path fill="#2d8af5" transform="translate(75 197.5)" d="M374 352l-1-6-4-6-5-4-6-1-7 1-6 4-4 6-1 6 1 6 4 6 6 4 7 1 6-1 5-4 4-6zM658 650l1-14-2-12-5-10-10-10-10-6-12-4-14 0-12 2-12 7-10 9-8 12-15 26-7 9-10 7-30 11-16 9-16 15-14 21-7 16-6 18-4 20-4 22-3 50 1 72 4 26 8 20 5 8 8 9 9 7 9 6 10 4 68 0 16-7 14-9 12-11 9-13 6-16 4-20 1-20 0-42-3-54-3-24-8-44 0-18 2-8 5-8 27-22 12-12 6-10zM556 518l1-8-1-8-6-14-4-6-6-5-6-3-8-3-8 0-8 0-8 3-8 4-6 5-5 7-3 6-3 8 0 8 1 8 2 8 4 6 6 7 6 5 8 4 8 2 8 0 8-1 8-3 6-4 6-6 4-6zM754 348l1-18-3-18-6-16-10-16-13-14-15-11-16-7-18-4-18-1-18 3-16 6-16 10-14 13-11 15-7 16-4 18-1 18 3 18 7 18 10 16 13 14 14 9 16 7 18 4 18 1 18-3 18-7 14-9 14-13 11-15 7-16zM896 556l0-12-2-12-5-12-6-10-9-9-10-7-12-5-12-2-12-1-12 3-12 4-10 7-8 8-7 10-5 12-2 12 0 12 2 12 5 12 6 10 9 9 10 7 12 5 12 2 12 0 12-2 12-5 10-7 9-9 6-10 5-10z"/>
<path fill="#2c8ef1" transform="translate(78.1 205.6)" d="M370 356l1-6-3-6-4-4-4-2-6 0-4 2-4 4-2 4-1 6 3 6 4 4 4 2 6 0 4-2 4-4zM656 650l2-12-3-12-5-11-8-9-10-6-12-4-14 0-12 3-12 6-10 10-8 13-12 24-8 10-10 6-30 11-18 10-8 7-8 8-13 20-6 14-6 18-5 20-3 22-3 50 0 70 4 26 8 20 5 8 7 9 8 7 10 6 14 6 60 0 18-7 14-9 13-12 9-14 6-16 4-20 1-20-1-46-2-50-4-24-8-44-1-18 3-8 5-8 27-20 12-12 6-10zM554 516l0-14-3-8-4-6-5-6-6-4-6-3-8-2-14 1-8 3-6 4-6 5-4 6-3 6-2 8 1 14 3 8 3 6 6 6 6 4 6 3 8 2 14 0 8-3 6-4 6-6 4-6zM752 348l1-18-3-18-6-16-10-16-12-12-14-11-16-7-18-4-18-1-18 3-16 6-16 10-12 12-11 14-7 16-4 18-1 18 3 18 7 18 9 15 12 12 14 10 16 7 18 4 18 1 18-3 16-6 16-10 13-12 10-14 7-16zM894 558l1-12-2-12-5-12-6-10-8-9-10-7-10-4-12-3-12-1-12 2-11 4-10 6-9 8-7 10-4 10-3 12-1 12 2 12 5 12 6 10 8 9 10 7 10 4 12 3 12 1 12-2 10-4 10-6 9-8 7-10 5-10z"/>
<path fill="#2b92ee" transform="translate(81.2 213.8)" d="M366 356l1-4-1-4-2-3-4-2-4-1-4 2-4 4-1 4 1 4 2 3 4 2 4 1 4-2zM654 652l2-12-2-12-4-10-8-9-10-7-12-4-12-1-12 3-12 6-11 12-8 12-12 26-7 8-10 7-32 10-16 9-8 7-8 8-7 9-7 12-7 16-6 18-4 20-3 20-3 50 0 70 4 24 4 12 5 9 6 9 7 8 7 6 10 6 16 6 50 0 6-2 18-7 14-9 11-10 9-14 6-16 4-20 1-22 0-48-4-50-3-24-9-42-1-18 3-8 6-8 27-19 10-10 7-9zM552 514l-1-14-3-7-4-6-10-8-6-2-8-2-14 2-12 7-8 10-3 6-2 8 2 14 6 12 11 9 6 3 8 1 8 0 6-1 6-3 6-4 8-11zM750 350l1-18-2-16-5-16-10-16-12-14-13-10-15-7-18-5-18-1-16 2-16 5-16 10-14 12-10 13-7 15-5 18-1 18 2 18 6 16 9 15 12 14 14 10 16 7 16 4 18 1 16-2 16-5 16-9 14-13 10-13 7-15zM892 558l1-12-2-12-4-10-5-10-8-8-10-8-10-5-12-3-12 0-12 2-10 4-10 6-8 7-7 9-4 10-4 12 0 12 2 12 4 10 5 10 8 8 10 8 10 5 10 2 12 1 10-1 12-4 10-6 8-7 8-10 5-10z"/>
<path fill="#2896ec" transform="translate(84.3 221.9)" d="M358 354l1-2-1-2-2 0-1 2 1 2zM652 652l2-12-1-10-5-11-7-9-9-6-12-4-12-1-12 3-12 7-10 11-7 12-12 26-7 10-10 6-32 9-16 8-8 6-9 9-7 10-7 12-6 14-6 18-4 18-4 22-3 50 1 70 4 26 4 10 5 10 6 9 7 7 8 6 9 5 19 7 39 0 12-3 16-6 14-9 12-12 9-14 6-16 4-20 0-22 0-50-3-48-4-24-10-44-1-10 1-8 3-8 5-6 26-17 12-10 8-11zM548 522l2-14-3-12-8-10-5-4-6-3-6-1-8 0-12 3-10 8-7 11-1 6-1 8 4 12 7 10 12 7 6 2 8 0 12-3 10-8zM748 350l1-18-2-16-5-16-10-16-10-12-14-10-16-8-16-4-18-1-16 2-16 5-16 10-12 10-10 14-8 16-4 16-1 18 2 16 5 16 9 16 11 12 14 11 16 7 16 4 18 1 16-2 16-5 16-10 12-10 10-14 8-16zM890 560l1-10-1-12-4-12-5-10-7-8-10-8-10-5-10-3-12 0-10 1-10 3-10 5-9 7-7 9-6 11-2 10-1 12 1 11 4 11 5 10 7 8 10 8 10 5 10 2 12 1 10-1 10-3 10-6 8-6 8-10 5-10z"/>
<path fill="#2699e9" transform="translate(87.4 230)" d="M652 642l-1-10-3-10-6-8-8-7-10-4-10-2-10 1-10 3-10 7-10 11-7 13-10 26-6 8-10 6-33 9-18 9-10 8-7 8-8 10-6 12-6 14-6 18-4 20-3 20-2 50-1 48 1 20 5 24 3 10 5 10 6 8 8 8 17 11 12 4 13 3 23 0 22-5 16-7 14-10 10-10 8-14 6-16 3-20 1-26-1-52-4-44-13-66-2-10 1-8 2-6 5-7 30-18 12-11 9-14zM546 520l1-12-3-12-8-10-10-5-12-1-12 4-10 8-5 10-1 12 3 12 9 10 10 5 12 2 12-4 6-5 4-4zM746 352l2-18-2-16-5-16-8-14-11-13-14-11-14-7-16-5-18-2-16 2-16 5-14 8-13 11-11 14-7 14-5 16-2 16 2 18 5 16 8 14 11 14 12 9 16 9 16 4 18 2 16-2 16-5 14-8 12-10 11-13 8-16zM888 560l2-10-2-12-3-10-5-10-6-8-10-8-10-5-10-3-12-1-10 1-10 4-10 5-8 7-7 8-5 10-3 10-1 12 1 10 4 10 5 10 6 8 10 8 10 5 10 3 12 1 10-2 10-3 10-6 8-6 6-8 5-10z"/>
<path fill="#259de7" transform="translate(90.5 238.2)" d="M650 644l0-10-3-10-6-8-6-6-9-5-10-2-10 0-10 3-12 8-9 12-7 14-8 24-6 9-10 6-34 7-18 9-10 8-8 8-8 11-6 11-6 15-5 16-4 18-3 22-3 48 0 68 4 24 4 10 5 10 5 8 8 8 7 6 10 6 16 5 16 2 18-1 18-4 16-6 14-10 10-10 9-14 6-16 3-20 0-32 0-48-5-46-14-64-2-10 0-8 2-6 5-6 30-17 14-11 8-12zM544 518l1-12-4-10-7-8-10-5-12 0-10 3-8 8-5 10-1 12 4 10 8 9 10 4 12 1 10-4 8-8zM744 352l2-16-2-16-4-16-8-14-11-14-13-10-14-8-16-4-16-2-16 2-16 4-14 8-13 10-11 14-8 14-4 16-2 18 2 16 5 16 8 14 10 12 13 11 14 7 16 4 16 2 16-2 16-4 14-8 14-11 10-13 8-14zM886 562l2-10-1-12-3-10-4-9-6-8-8-7-10-6-10-4-10-1-10 1-10 2-10 5-8 5-8 9-5 9-3 10-2 10 1 12 3 10 4 9 6 8 8 7 10 6 10 3 10 2 10-1 10-2 10-5 9-7 7-8 5-8z"/>
<path fill="#23a0e5" transform="translate(93.6 246.3)" d="M648 644l0-10-2-8-5-8-7-6-8-5-10-2-10 0-10 4-11 7-9 12-6 14-8 28-4 6-4 3-6 3-36 6-18 8-10 7-9 9-7 10-8 14-5 14-6 18-6 38-3 50 0 46 1 20 4 24 8 18 6 8 8 8 8 6 9 5 14 5 16 2 18-1 18-4 16-7 12-8 10-10 9-14 6-18 3-20 1-42-1-40-5-44-4-22-12-44-1-10 0-8 2-6 4-5 30-14 14-10 10-13zM542 516l0-10-4-10-6-6-10-5-10 0-10 5-7 6-4 10 0 10 4 10 7 7 10 4 10 0 10-5 6-6zM744 340l-1-16-4-16-7-15-10-13-12-11-14-8-14-5-16-2-16 1-16 4-15 7-13 10-11 12-8 14-5 14-2 16 1 16 4 16 7 15 9 13 11 10 14 8 16 6 16 2 16-1 16-4 15-7 13-10 11-12 8-14 5-14zM886 552l0-10-3-10-4-10-6-8-9-8-8-4-10-4-10-1-10 0-10 3-9 4-8 6-7 8-5 8-4 10-1 10 0 10 3 10 4 10 6 8 9 8 8 4 10 4 10 1 10-1 10-2 8-4 9-6 7-8 5-8 3-10z"/>
<path fill="#20a4e3" transform="translate(96.7 254.5)" d="M646 644l0-10-3-8-5-8-6-5-8-4-10-2-10 1-8 3-12 9-8 12-6 16-4 27-4 7-10 3-38 5-10 3-8 4-10 7-10 10-8 11-7 13-6 16-5 16-6 38-3 50 0 44 1 20 5 24 8 18 6 8 7 7 16 11 14 5 16 2 18-1 18-4 16-7 12-9 11-12 8-12 5-18 3-20 0-48-1-38-2-22-3-22-5-22-13-44-2-10 0-8 1-4 4-4 30-10 16-10 6-6 6-8 2-6zM539 518l1-10-3-8-5-7-8-4-10-1-8 2-7 6-5 8 0 10 2 8 6 7 8 5 10 0 8-2 7-6zM742 344l0-16-3-16-6-14-9-13-11-11-13-9-14-6-16-3-16 0-16 3-14 6-13 9-11 11-9 13-6 14-3 16 0 16 3 16 6 14 9 14 10 10 14 9 14 6 16 3 16 0 16-3 14-6 13-9 11-11 9-13 6-14zM884 554l0-10-2-10-4-10-6-8-6-6-9-6-9-3-10-2-10 0-10 2-8 3-8 6-8 8-5 8-3 8-2 10 0 10 2 10 4 10 6 8 6 6 9 6 9 3 10 2 10 0 10-2 8-4 8-5 8-8 5-8 3-8z"/>
<path fill="#1ea7e1" transform="translate(99.8 262.6)" d="M604 904l-1-64-4-44-9-40-19-58-3-4-4-2-8-2-14 0-26 2-10 3-8 3-10 7-8 7-13 18-6 12-5 14-8 30-3 22-2 26-1 74 3 28 4 12 4 10 8 12 9 10 12 8 12 4 14 3 14 1 16-2 14-4 13-6 11-8 9-8 7-10 5-12 4-12 2-14zM536 516l0-8-2-7-6-7-6-3-8 0-8 3-6 5-3 7 0 8 2 8 6 6 7 3 8 0 8-3 6-6zM644 644l0-8-2-8-5-8-7-6-8-4-8-1-8 0-8 3-6 4-7 6-5 8-4 8-3 10-1 12 0 10 2 9 4 4 10 2 16-3 14-5 10-6 8-8 6-9zM740 346l1-16-3-14-5-14-8-14-11-11-12-9-14-6-16-4-16-1-14 3-14 5-14 8-11 11-9 12-6 14-4 16-1 16 3 16 6 14 8 13 10 11 12 8 14 7 16 3 16 1 14-3 14-5 14-8 11-11 9-12 6-14zM882 556l1-10-2-8-3-10-5-8-7-8-8-5-8-4-10-2-10-1-9 2-9 3-8 5-6 6-6 8-4 8-2 10-1 10 2 8 3 10 5 8 7 8 8 5 8 4 10 2 10 1 9-2 9-4 8-5 6-5 6-8 4-9z"/>
<path fill="#1babde" transform="translate(102.9 270.7)" d="M602 916l0-66-3-48-4-22-5-20-17-46-4-8-5-6-6-4-6-2-14-1-14 0-12 2-10 4-10 5-8 7-8 8-6 9-12 24-8 30-3 22-2 26-1 72 2 30 3 12 3 10 6 10 8 10 10 9 12 6 12 4 14 2 14-1 14-2 12-4 12-6 10-7 8-9 7-10 6-12 3-14zM532 516l1-6-1-6-4-5-6-4-6-1-7 2-5 4-3 6-1 8 2 6 4 4 6 3 6 1 6-2 5-4zM642 644l0-8-2-8-4-6-6-6-6-3-8-2-8 0-8 3-6 3-6 5-5 6-4 8-2 8-2 10 0 8 2 8 5 7 8 3 12 0 12-4 12-6 8-8 5-8zM738 348l1-16-2-14-5-14-8-14-10-11-12-9-14-7-14-3-16-1-14 2-14 5-14 8-11 10-9 12-7 14-3 14-1 16 2 14 5 14 8 14 10 11 12 9 14 7 14 3 16 1 14-2 14-5 14-8 11-10 9-12 7-14zM880 558l1-8-1-10-3-10-5-8-5-6-7-6-8-4-10-3-10-1-8 1-8 2-9 5-7 6-6 8-4 8-2 8-1 10 1 8 3 10 5 8 5 6 7 6 8 4 10 3 10 1 8-1 8-3 8-4 7-6 7-8 4-8z"/>
<path fill="#18aedb" transform="translate(106 278.9)" d="M600 922l1-20 0-46-3-50-4-20-4-20-7-22-8-20-5-10-6-8-6-5-6-2-12-3-14 0-12 1-12 4-10 6-8 6-8 9-6 9-11 23-8 30-3 22-2 26-1 70 2 30 3 12 4 10 6 11 8 9 9 8 11 6 12 4 12 1 12 0 14-2 12-3 12-5 10-7 9-8 7-10 6-10 4-12zM528 516l1-6-1-4-3-4-3-2-4-2-6 1-4 3-3 4-1 4 1 6 3 4 4 3 6 1 4-2 3-2zM640 644l0-8-2-6-3-6-5-5-6-4-6-1-8-1-6 1-6 3-6 4-6 7-3 6-3 8-2 8 2 14 4 8 6 3 10 2 12-3 10-4 10-8 5-8zM736 350l2-16-2-14-5-14-6-12-10-12-11-9-14-7-14-4-16-2-14 2-14 5-12 6-11 9-10 12-7 14-4 14-2 16 2 14 5 14 7 13 10 12 12 9 12 6 14 4 16 2 14-2 14-5 12-6 11-9 10-12 7-14zM878 558l1-8-1-10-2-8-4-8-6-7-8-6-8-4-8-3-10 0-8 1-8 2-8 5-6 5-6 7-4 8-2 8-1 10 1 8 2 8 4 8 6 7 8 6 8 4 8 2 10 1 8-1 8-3 8-4 6-5 6-7 4-8z"/>
<path fill="#13b1d7" transform="translate(109.1 287)" d="M600 892l-1-56-4-40-4-20-5-18-8-21-7-15-5-8-6-7-8-5-8-2-12-2-14 1-10 2-10 4-8 5-8 8-8 10-6 10-10 24-7 30-3 22-1 26-1 70 3 26 4 12 4 10 7 10 10 10 12 8 12 4 14 2 14 0 16-3 14-5 11-6 10-8 9-10 5-10 5-12 2-12zM523 512l-1-4-4-3-5 1-3 4 2 5 4 2 4-1zM638 642l0-6-2-6-4-6-4-4-6-3-6-1-12 1-6 3-6 4-7 10-4 14 1 12 4 7 6 5 10 1 10-1 10-5 8-7 6-8zM734 352l2-14-1-14-4-14-7-14-9-12-11-9-12-7-14-4-14-2-14 1-14 4-14 7-12 9-9 11-7 12-4 14-2 14 1 14 4 14 7 14 9 12 11 9 12 7 14 4 14 2 16-1 14-5 12-6 12-9 9-11 7-12zM876 560l1-8 0-10-2-8-4-8-5-6-6-6-8-5-8-2-8-2-8 1-8 2-8 3-7 5-5 6-5 8-3 8-1 8 0 10 2 8 4 8 5 6 6 6 8 5 8 2 8 1 8 0 8-2 8-4 6-4 6-6 5-8z"/>
<path fill="#0cb3d3" transform="translate(112.2 295.2)" d="M598 914l0-62-3-44-7-38-13-34-7-14-6-8-6-5-8-5-12-3-12-1-12 2-10 3-8 5-8 6-8 9-6 9-11 24-8 30-3 22-2 24-1 70 3 28 6 21 6 11 8 9 10 8 10 5 12 4 12 1 14 0 14-3 12-4 11-6 9-7 8-9 7-10 4-10 3-14zM635 648l1-6-1-6-4-10-9-6-6-2-6 0-11 4-9 8-4 10-2 12 2 8 5 6 7 4 8 0 10-2 8-5 7-7zM734 342l0-14-3-14-5-12-8-12-10-10-12-8-14-5-14-3-14 0-14 3-12 5-12 8-10 10-8 12-5 14-3 14 0 14 3 14 5 12 8 12 10 10 12 8 14 6 14 2 14 0 14-3 12-5 12-8 10-10 8-12 6-14zM874 560l2-8-1-8-1-8-4-8-4-6-7-6-7-5-8-3-8-1-8 1-8 2-8 3-6 5-6 6-3 6-3 8-2 8 1 8 1 8 4 8 4 6 7 6 7 5 8 2 8 2 8-1 8-2 8-4 6-4 5-6 4-6z"/>
<path fill="#05b6ce" transform="translate(115.2 303.3)" d="M596 922l1-18 0-40-2-48-7-38-5-18-6-16-7-14-6-9-6-7-8-6-10-3-12-2-12 0-12 4-8 4-8 6-8 8-6 9-7 12-5 12-7 28-4 22-2 24-1 68 2 28 6 22 5 10 8 10 9 8 10 6 10 4 12 2 12 0 14-2 12-3 11-5 10-6 8-8 8-10 5-10 4-12zM632 646l1-10-5-9-8-5-10-1-10 3-8 8-4 10 0 10 2 7 4 5 6 2 8 1 8-2 8-5 5-6zM732 344l0-14-2-14-5-12-8-12-9-10-12-8-12-5-14-3-14 0-14 2-12 5-12 8-10 9-8 12-5 12-3 14 0 14 2 14 5 12 8 12 9 10 12 8 12 5 14 3 14 0 14-2 12-5 12-8 10-9 8-12 5-12zM872 560l2-8 0-8-5-14-5-7-6-6-6-4-8-3-8-1-8 0-14 5-6 5-5 5-4 6-3 8-2 8 0 8 5 14 5 7 6 6 6 4 8 3 8 1 8-1 14-5 11-9 4-6z"/>
<path fill="#01b8c9" transform="translate(118.3 311.4)" d="M596 892l-1-54-4-38-8-34-6-16-6-14-7-11-6-7-8-6-8-4-10-2-12-1-10 2-10 4-8 5-8 7-12 17-11 24-7 30-2 22-2 24-1 68 4 28 3 10 4 10 8 11 9 9 11 7 12 4 12 2 14 0 14-3 14-5 10-5 10-8 8-10 6-10 4-12 2-12zM630 644l0-8-5-8-7-4-8-1-8 3-6 6-4 8-1 10 2 6 5 5 6 2 6 0 8-3 6-4 4-6zM730 348l1-14-2-14-4-12-7-12-8-10-10-8-12-6-14-4-14-1-14 2-12 4-12 7-10 8-8 10-6 12-4 14-1 14 2 14 4 12 7 12 8 10 10 8 12 6 14 4 14 1 14-2 12-4 12-7 10-8 8-10 6-12zM872 550l-1-8-2-8-8-12-7-5-6-3-14-3-14 2-6 3-7 6-8 12-3 14 2 14 3 6 5 7 6 5 6 4 14 3 8 0 8-3 12-7 6-7 3-6z"/>
<path fill="#02bac4" transform="translate(121.4 319.6)" d="M594 914l0-60-2-42-7-34-5-17-6-15-7-12-7-10-6-6-8-6-10-3-12-2-12 1-10 4-8 4-8 7-13 17-10 24-7 28-5 44-1 68 3 28 6 20 6 10 7 8 10 8 10 5 12 4 12 1 14-1 12-2 12-5 10-6 8-6 7-8 6-10 4-10 3-12zM728 350l1-12-1-14-3-12-6-12-9-11-10-9-12-6-12-4-12-1-14 1-12 3-12 6-11 9-9 10-6 12-4 12-1 12 1 14 4 14 6 12 8 10 10 8 12 6 12 4 12 2 14-2 12-3 12-6 12-9 8-10 6-12zM626 646l1-8-3-6-5-4-7-1-6 1-6 4-4 6-2 8 2 6 2 4 4 3 6 1 6-2 5-2 4-4zM870 552l-2-14-6-12-6-6-6-3-6-3-8-1-14 2-12 7-8 10-3 6-1 8 2 14 6 12 10 8 6 3 8 2 14-1 12-6 6-6 4-6 2-6z"/>
<path fill="#07bcbf" transform="translate(124.5 327.7)" d="M592 922l1-18 0-36-2-48-6-36-10-30-6-14-7-10-8-9-8-6-10-4-10-1-12 0-10 3-8 4-8 7-13 16-10 22-7 28-3 20-2 24-1 66 2 28 5 20 5 10 6 8 8 8 10 6 10 4 12 3 12 0 12-2 12-3 10-4 10-7 8-7 6-8 6-10 4-12zM726 350l2-12-1-14-4-12-6-12-8-10-9-8-12-7-12-3-12-2-14 1-12 4-12 6-10 8-8 9-7 12-3 12-2 12 1 14 4 12 6 12 8 10 9 8 12 7 12 3 12 2 14-1 12-4 12-6 10-8 8-9 7-12zM622 646l1-6-1-4-4-4-4-1-6 0-4 3-3 4-2 6 0 4 2 4 7 3 8-2 4-3zM868 552l0-8-2-6-6-11-5-5-6-4-13-3-12 1-12 7-8 9-3 6-1 8 0 8 2 6 6 11 5 5 7 4 12 3 12-1 12-7 8-10 3-7z"/>
<path fill="#0fbeba" transform="translate(127.6 335.8)" d="M592 902l0-54-3-38-7-34-11-28-7-12-6-8-8-7-8-5-10-3-10-1-10 1-10 3-8 5-8 7-12 17-10 23-6 28-5 44 0 66 2 26 7 20 6 10 10 10 10 7 10 4 12 3 12 0 14-2 12-4 10-5 10-7 8-8 5-8 5-10 3-12zM726 342l0-12-2-12-5-12-7-10-10-10-10-7-12-5-12-2-12 0-12 2-12 5-10 7-10 10-7 10-5 12-2 12 0 12 2 12 5 12 7 11 9 9 11 7 12 5 12 2 12 0 12-2 12-5 10-7 10-10 7-10 5-12zM616 644l0-4-4-3-4 2-2 3 0 4 4 2 4-1zM866 552l-1-12-2-6-5-6-10-8-12-3-12 1-11 6-8 10-3 12 1 12 2 6 5 6 10 8 12 3 12-1 10-6 9-10z"/>
<path fill="#19bfb5" transform="translate(130.7 344)" d="M590 916l1-56-3-42-6-34-9-28-6-12-7-10-8-9-8-5-10-4-10-2-10 0-10 3-8 5-8 6-12 16-10 22-6 26-3 20-2 24-1 64 2 28 5 20 6 10 7 9 8 7 10 6 10 3 12 2 12-1 12-2 12-4 10-5 8-7 8-8 5-8 4-10 3-12zM724 344l1-12-2-12-5-12-6-10-8-9-10-7-12-5-12-3-12-1-12 2-12 5-10 6-9 8-7 10-5 12-3 12-1 12 2 12 5 12 6 10 8 9 10 7 12 5 12 3 12 1 12-2 12-5 10-6 9-8 7-10 5-12zM864 550l-2-12-6-10-10-7-12-2-12 2-10 7-6 10-2 10 2 12 6 10 9 6 11 3 12-2 10-5 7-10z"/>
<path fill="#22c1b0" transform="translate(133.8 352.1)" d="M588 922l1-16 1-32-2-50-6-34-9-30-6-12-7-11-8-9-8-6-10-4-10-2-10 0-10 3-8 5-6 5-7 7-6 10-10 22-7 26-4 42-1 64 2 26 5 20 5 10 7 9 7 7 9 5 10 4 10 2 10 1 12-2 12-3 10-4 8-5 9-8 6-8 5-10 4-10zM722 346l1-12-1-12-5-12-6-10-7-8-10-8-10-5-12-3-12-1-12 1-12 5-10 6-8 7-8 10-5 10-3 12-1 12 1 12 5 12 6 10 7 8 10 8 10 5 12 3 12 1 12-1 12-5 10-6 8-7 8-10 5-10zM860 558l2-12-3-10-7-8-10-6-10-1-11 3-8 6-6 10-1 12 3 10 7 8 10 6 10 1 11-3 8-6z"/>
<path fill="#28c3aa" transform="translate(136.9 360.3)" d="M588 908l0-54-3-38-6-32-9-26-6-12-6-9-8-8-8-5-10-4-10-2-10 1-8 2-8 5-6 5-6 7-7 10-9 22-7 26-4 42-1 64 2 26 6 20 5 10 7 8 10 8 10 5 10 3 12 1 12-1 12-3 10-4 10-7 8-7 6-8 5-9 3-10 3-12zM720 348l1-10 0-12-4-12-5-10-8-10-8-7-10-5-12-4-10-1-12 0-12 4-10 5-10 8-7 8-5 10-4 12-2 12 2 12 3 10 5 10 8 10 8 7 10 6 12 3 12 2 12-2 10-3 10-5 10-8 7-8 5-10zM858 558l2-10-3-10-6-8-9-5-10-2-10 3-7 6-5 8-2 10 3 10 6 8 9 5 10 2 9-3 8-6z"/>
<path fill="#2ec4a5" transform="translate(140 368.4)" d="M586 918l1-52-2-42-5-32-9-28-6-12-6-10-7-8-8-7-8-4-10-2-10-1-10 3-8 4-7 5-7 8-5 8-10 22-7 26-4 42-1 62 2 26 5 20 6 10 6 8 8 7 8 5 10 4 10 1 10 0 12-1 10-3 10-5 9-6 8-8 5-8 5-10 3-10zM718 350l2-10-1-12-3-12-4-10-8-10-8-7-10-6-10-3-10-2-12 1-12 3-10 4-10 8-7 8-6 10-3 10-2 10 1 12 3 12 4 10 8 10 8 7 10 6 10 3 10 2 12-1 12-3 10-4 10-8 7-8 6-10zM856 556l1-10-3-8-6-8-8-3-10-1-8 3-6 5-4 8-1 10 3 8 6 7 8 4 8 1 8-2 8-6z"/>
<path fill="#32c69f" transform="translate(143.1 376.5)" d="M584 922l2-16 0-26-2-52-5-32-8-28-5-12-8-12-6-7-8-7-8-4-10-3-10-1-10 3-8 4-6 5-12 15-10 21-6 26-5 42-1 60 2 26 5 20 5 10 5 8 7 6 9 6 9 4 10 2 10 0 12-1 10-3 10-4 8-5 7-7 7-8 4-8 4-10zM718 340l0-12-3-10-4-10-7-9-8-8-10-6-10-4-10-1-12 0-10 3-10 4-9 7-8 8-6 10-4 10-1 10 0 12 3 10 4 10 7 10 8 7 10 6 10 4 10 1 12 0 10-3 10-4 10-7 7-8 6-10 4-10zM854 552l0-8-4-8-6-5-8-2-8 0-6 3-5 6-3 8 0 8 4 8 6 5 8 2 8 0 6-3 5-6z"/>
<path fill="#36c898" transform="translate(146.2 384.7)" d="M584 912l0-52-2-38-5-30-8-26-6-12-7-10-6-7-8-6-8-4-10-2-10 0-8 2-8 4-6 5-12 16-9 20-7 26-4 40-1 62 2 26 5 18 5 10 6 8 7 6 10 6 10 4 10 1 12 0 10-2 10-3 10-6 8-6 7-8 5-8 4-10 3-12zM716 344l1-12-2-10-4-10-5-8-7-8-9-7-10-5-10-2-12-1-10 2-10 4-8 5-8 7-7 9-5 10-2 10-1 12 2 10 4 10 5 9 7 7 9 7 10 5 10 2 12 1 10-2 10-4 8-5 8-7 7-9 5-10zM851 554l0-8-2-6-5-5-6-3-6 0-7 2-5 4-3 6 0 8 2 6 5 5 6 3 6 0 7-2 5-4z"/>
<path fill="#3cc992" transform="translate(149.3 392.8)" d="M582 920l1-16 0-30-2-46-4-32-8-26-6-12-6-10-7-8-8-6-8-5-10-2-10 0-8 2-6 3-7 6-11 14-10 20-6 26-5 40-1 62 2 24 5 20 4 8 6 8 7 7 8 5 8 4 10 2 10 0 12-1 10-3 9-4 9-6 6-6 6-8 4-8 4-10zM714 346l1-10-1-10-3-10-5-10-7-8-7-6-10-5-10-3-10-1-10 1-10 3-10 5-8 7-6 7-5 10-3 10-1 10 1 10 3 10 5 10 7 8 7 6 10 5 10 3 10 1 10-1 10-3 10-5 8-7 6-7 5-10zM847 554l1-4-1-6-3-5-5-3-5-1-6 1-4 3-3 5-1 4 1 6 3 5 5 3 5 1 6-2 4-2z"/>
<path fill="#43ca8b" transform="translate(152.4 401)" d="M582 900l0-48-3-34-5-28-9-24-5-10-7-10-7-7-8-5-8-4-10-1-8 0-8 3-6 4-7 6-11 16-8 20-6 26-4 40-1 60 3 24 5 18 6 10 7 8 8 6 10 4 10 3 10 0 12-1 12-4 8-4 8-6 8-8 5-8 4-10 3-10zM712 346l1-10-1-10-3-10-4-8-6-8-7-6-10-5-10-3-10-1-10 1-10 3-8 4-8 6-6 7-5 10-3 10-1 10 1 10 3 10 4 8 6 8 7 6 10 5 10 3 10 1 10-1 10-3 8-4 8-6 6-7 5-10zM842 552l0-7-2-3-4-2-6 1-4 5-1 4 1 3 2 3 4 2 6-1z"/>
<path fill="#4bcb83" transform="translate(155.4 409.1)" d="M580 914l1-48-2-38-5-30-8-26-6-12-6-10-6-7-8-6-8-4-10-2-8 0-8 2-6 4-7 5-11 15-8 19-7 26-4 40-1 58 2 24 5 18 5 10 6 8 6 6 8 5 8 3 10 2 10 0 12-2 10-3 8-5 8-6 6-6 5-8 5-10zM710 348l2-10-1-10-3-10-4-8-6-8-7-6-7-5-10-3-10-2-10 1-10 3-8 4-8 6-6 7-5 7-3 10-2 10 1 10 3 10 4 8 6 8 6 6 8 5 10 3 10 2 10-1 10-3 8-4 8-6 6-7 5-7z"/>
<path fill="#55cc7c" transform="translate(158.5 417.2)" d="M578 920l2-36-2-50-4-30-7-26-5-12-6-10-6-8-8-7-8-5-8-2-10-1-8 2-12 7-6 6-6 8-9 20-6 24-5 38-1 56 2 26 4 20 4 8 5 8 6 7 8 5 8 4 10 2 10 1 10-1 10-3 8-4 8-5 7-6 6-8 4-8zM708 348l2-8 0-10-3-10-3-8-6-8-7-6-7-5-10-3-8-2-10 0-10 3-8 3-8 6-6 7-5 7-3 10-2 8 0 10 3 10 3 8 6 8 7 6 7 5 10 3 8 2 10 0 10-3 8-3 8-6 6-7 5-7z"/>
<path fill="#5ecd74" transform="translate(161.6 425.4)" d="M578 908l0-48-2-34-4-28-8-24-6-12-6-9-6-6-8-6-8-4-8-2-8 0-8 3-12 8-10 14-9 20-6 24-4 38-1 58 2 24 5 18 5 9 6 8 8 7 8 4 8 3 10 1 10-1 10-2 10-4 8-5 7-6 6-8 4-8 4-10zM708 340l0-10-2-8-3-8-6-8-6-6-7-5-8-3-10-2-10 0-8 2-8 3-8 6-6 6-5 7-3 8-2 10 0 10 2 8 3 8 6 8 6 6 7 5 8 3 10 2 10 0 8-2 8-3 8-6 6-6 5-7 3-8z"/>
<path fill="#68cd6b" transform="translate(164.7 433.5)" d="M576 916l1-42-1-40-5-30-6-24-11-21-6-7-8-8-8-4-8-2-8-1-8 2-12 8-6 6-6 9-8 19-6 23-4 38-1 56 2 24 5 18 3 8 6 8 7 7 8 5 8 3 8 1 10 1 10-2 9-3 8-4 7-5 7-7 5-8 4-8zM706 342l0-8-1-8-2-8-5-8-6-7-7-5-8-4-9-2-8 0-8 1-8 2-8 5-7 6-5 7-4 8-2 9 0 8 1 8 2 8 5 8 6 7 7 5 8 4 9 2 8 0 8-1 8-2 8-5 7-6 5-7 4-8z"/>
<path fill="#73cd63" transform="translate(167.8 441.6)" d="M574 922l2-26-1-58-4-30-7-26-10-20-6-8-8-7-8-5-8-2-8-1-8 2-6 3-6 5-10 13-8 18-6 24-5 36 0 54 1 26 4 18 8 15 6 7 6 4 8 4 8 3 8 1 10-1 10-2 8-4 14-10 6-7 5-8zM704 342l1-8-1-8-3-8-5-8-6-6-6-5-8-3-8-2-8-1-8 1-8 3-8 5-6 6-5 6-3 8-2 8-1 8 1 8 3 8 5 8 6 6 6 5 8 3 8 2 8 1 8-1 8-3 8-5 6-6 5-6 3-8z"/>
<path fill="#7ecc5b" transform="translate(170.9 449.8)" d="M574 912l1-46-2-34-4-28-7-23-10-19-7-8-7-6-8-4-8-2-8 0-6 1-6 3-6 5-10 14-8 19-6 24-4 36 0 56 1 22 5 18 4 8 6 8 7 6 7 4 8 3 8 1 10 0 10-2 8-3 8-5 8-6 5-6 7-16zM702 344l1-8-1-8-2-8-4-7-6-7-5-4-7-4-8-2-8-1-8 1-8 2-7 4-5 4-6 7-4 7-2 8-1 8 1 8 2 8 4 7 4 5 7 6 7 4 8 2 8 1 8-1 8-2 7-4 7-6 4-5 4-7z"/>
<path fill="#89cb52" transform="translate(174 457.9)" d="M572 918l1-32-1-48-3-28-7-24-10-21-6-7-8-8-8-4-8-2-8 0-6 2-6 3-6 5-10 14-8 18-5 22-4 36 0 54 1 22 4 18 4 8 6 8 6 6 6 4 8 3 8 2 17-1 16-6 13-10 6-8 4-8zM700 344l1-8-1-8-2-8-4-6-10-10-6-4-8-2-8-1-8 1-8 2-6 4-10 10-4 6-2 8-1 8 1 8 2 8 4 6 10 10 6 4 8 2 8 1 8-1 8-2 6-4 10-10 4-6z"/>
<path fill="#94ca4a" transform="translate(177.1 466.1)" d="M572 902l0-44-2-30-4-24-7-22-10-18-7-8-6-4-6-4-8-2-8 0-6 2-6 3-6 5-10 14-7 18-5 22-4 36 0 54 1 22 5 17 5 9 5 7 6 5 8 5 8 2 10 1 10-1 10-3 14-8 6-6 5-8 4-8 3-10zM698 344l0-14-2-8-3-6-9-10-7-4-7-2-14 0-8 2-6 3-10 9-4 7-2 7 0 14 2 8 3 6 9 10 7 4 7 2 14 0 8-2 6-3 10-9 4-7z"/>
<path fill="#9fc942" transform="translate(180.2 474.2)" d="M570 914l1-40-1-36-4-27-6-22-10-21-6-7-6-6-6-3-8-3-8-1-6 1-11 7-10 12-8 18-5 22-4 36-1 52 1 22 4 18 4 9 5 7 6 6 7 4 14 5 8 0 10-2 8-2 8-4 12-11 4-6 4-9zM696 344l0-14-4-12-9-10-7-4-6-2-14 0-12 4-10 9-4 7-2 6 0 14 4 12 9 10 7 4 6 2 14 0 12-4 10-9 4-7z"/>
<path fill="#a9c73a" transform="translate(183.3 482.3)" d="M568 918l2-24-1-52-4-28-5-22-10-20-6-8-6-6-6-4-8-3-8-1-6 2-11 6-9 12-8 18-6 22-3 34-1 50 1 24 4 16 7 15 6 6 6 5 14 5 16 0 16-6 12-9 9-14zM694 342l0-12-5-12-9-9-12-5-12 0-12 5-9 9-5 12 0 12 5 12 9 9 12 5 12 0 12-5 9-9z"/>
<path fill="#b3c534" transform="translate(186.4 490.5)" d="M568 906l0-42-1-30-4-24-6-20-9-18-11-12-7-4-6-3-8 0-6 1-10 6-10 13-7 17-6 22-3 34-1 52 1 22 5 16 3 8 6 8 6 5 6 4 8 2 8 1 10 0 8-2 14-8 11-12 6-16zM692 342l0-12-4-10-8-9-6-3-6-2-12 0-10 4-9 8-3 6-2 6 0 12 4 10 8 9 6 3 6 2 12 0 10-4 9-8 3-6z"/>
<path fill="#bdc32e" transform="translate(189.5 498.6)" d="M566 914l1-38-1-36-4-26-5-20-9-19-6-8-6-5-6-4-6-2-8-1-6 1-10 7-10 13-7 16-5 22-3 34-1 48 1 22 4 16 8 14 5 6 6 4 6 3 8 2 16-1 15-6 11-10 8-14zM690 338l-1-10-5-10-10-8-10-2-10 1-10 5-8 10-2 10 1 10 5 10 10 8 10 2 10-1 10-5 8-10z"/>
<path fill="#c6c22a" transform="translate(192.6 506.8)" d="M564 918l2-22-1-52-3-26-6-22-8-18-6-8-6-6-6-4-7-2-7-1-6 2-10 6-9 13-7 16-5 20-3 32-1 48 1 22 4 16 7 14 5 6 6 5 6 2 8 3 14-1 14-5 12-10 8-12zM686 344l2-10-3-10-7-8-8-4-10-2-10 3-8 7-4 8-2 10 3 10 7 8 8 4 10 2 10-3 8-7z"/>
<path fill="#cfc028" transform="translate(195.6 514.9)" d="M564 908l0-40-1-30-4-24-5-19-8-17-11-12-7-4-6-2-6 0-6 1-10 7-9 12-6 16-5 22-3 32-1 48 2 20 4 16 4 8 4 6 6 6 6 3 6 2 8 2 8-1 8-2 8-3 6-5 9-10 6-14zM684 342l1-8-3-9-6-7-8-4-8-1-9 3-7 6-4 8-1 8 3 9 6 7 8 4 8 1 9-3 7-6z"/>
<path fill="#d8be28" transform="translate(198.7 523)" d="M562 914l1-32-1-38-3-24-5-21-8-17-10-12-6-4-6-3-8-1-6 2-10 7-8 11-6 16-5 20-3 32-1 46 2 20 3 16 8 14 10 9 6 2 8 2 14-1 14-6 10-10 6-12zM680 344l2-8-2-8-4-6-6-4-8-2-8 2-6 4-4 6-2 8 2 8 4 6 6 4 8 2 8-2 6-4z"/>
<path fill="#e0bc2a" transform="translate(201.8 531.2)" d="M560 918l2-20-1-48-3-26-4-20-8-18-10-13-6-5-6-2-6-1-6 1-10 6-8 10-6 14-5 20-4 30 0 40 0 26 4 18 6 12 9 10 12 5 14 0 14-4 10-8 8-13zM678 338l0-6-3-6-5-4-6-2-6 0-6 3-4 5-2 6 0 6 3 6 5 4 6 2 6 0 6-3 4-5z"/>
<path fill="#e7bb2e" transform="translate(204.9 539.3)" d="M560 906l0-38-1-26-3-22-5-18-7-16-10-12-10-6-6-1-6 1-10 6-7 10-7 16-4 18-3 30-1 46 1 20 3 16 8 14 10 9 6 2 8 2 14-3 12-6 10-11 5-13zM673 340l1-4-2-6-6-5-4-1-6 2-5 6-1 4 2 6 6 5 4 1 6-2z"/>
<path fill="#eeba34" transform="translate(208 547.4)" d="M558 912l1-32-1-34-3-22-5-20-7-16-9-11-10-6-6-1-6 1-8 5-8 10-6 14-5 20-3 28-1 42 1 22 3 16 5 12 5 6 5 4 12 5 14-1 12-5 10-9 7-12zM664 338l0-4-4 0 0 4z"/>
<path fill="#f4ba3a" transform="translate(211.1 555.6)" d="M556 916l2-20-1-44-3-24-4-20-7-16-9-12-10-6-6-1-6 1-8 5-8 10-6 15-4 18-3 28-1 42 1 20 3 16 6 12 8 8 6 3 6 2 12 0 12-4 10-9 6-10z"/>
<path fill="#fabb3d" transform="translate(214.2 563.7)" d="M556 900l0-34-1-24-3-20-5-16-7-15-8-10-10-5-6 0-4 0-8 6-8 11-6 16-4 19-2 30 0 46 2 18 4 12 8 11 10 6 12 1 8-2 6-2 10-8 6-10 4-12z"/>
<path fill="#febe3c" transform="translate(217.3 571.9)" d="M554 908l1-32-1-28-3-20-4-18-7-15-8-10-10-6-6 0-4 0-8 6-6 9-6 14-4 18-3 28 0 40 1 18 2 14 6 12 8 8 6 3 6 1 12-1 11-5 9-9 6-13z"/>
<path fill="#fec239" transform="translate(220.4 580)" d="M552 912l1-18-1-42-2-22-4-16-6-15-8-11-8-5-6-1-4 0-8 4-6 8-6 13-4 17-3 24-1 30 0 30 3 16 6 12 7 8 10 4 12 0 10-4 9-8 6-10z"/>
<path fill="#fec736" transform="translate(223.5 588.1)" d="M550 914l2-18-1-40-2-20-4-18-5-15-8-11-8-6-6-1-4 0-8 5-6 8-5 12-4 16-3 22-1 26 1 32 2 16 5 12 7 8 10 5 10 0 10-4 9-7 6-10z"/>
<path fill="#fdcb33" transform="translate(226.6 596.3)" d="M548 916l2-18 0-38-2-22-4-18-5-14-7-10-8-6-6-2-4 0-8 5-6 9-5 12-3 15-2 21-1 30 0 26 3 16 4 10 7 8 7 4 10 1 10-3 8-5 6-9z"/>
<path fill="#fcd030" transform="translate(229.7 604.4)" d="M548 902l-1-50-2-18-3-14-6-14-6-8-8-6-8 0-4 2-4 3-5 9-5 12-3 18-2 26-1 40 2 15 4 12 6 8 8 5 10 1 10-3 8-6 5-8 3-10z"/>
<path fill="#fad52e" transform="translate(232.8 612.6)" d="M546 906l0-52-2-16-4-16-4-11-6-9-8-6-8 0-6 3-6 9-4 10-4 16-2 22 0 28 0 22 2 14 5 10 7 8 8 3 10-1 9-4 7-8 4-10z"/>
<path fill="#f8da2b" transform="translate(235.9 620.7)" d="M544 908l0-50-2-18-3-14-5-14-6-8-6-4-8 0-6 4-5 8-4 10-3 14-2 22-1 34 1 16 2 12 4 9 6 6 8 4 8 0 8-4 7-7 5-10z"/>
<path fill="#f6de29" transform="translate(238.9 628.8)" d="M542 908l0-48-1-16-3-14-4-12-6-9-6-4-4-2-4 1-6 5-4 6-4 11-3 14-2 22 0 30 1 16 1 10 5 10 6 6 6 3 8-1 8-3 6-7 4-8z"/>
<path fill="#f5e327" transform="translate(242 637)" d="M540 906l0-44-3-28-5-12-4-8-6-5-6-1-6 4-4 5-4 10-3 13-2 18 0 24 0 22 2 12 3 8 6 7 6 3 8 0 7-4 6-6 3-8z"/>
<path fill="#f5e825" transform="translate(245.1 645.1)" d="M538 904l0-41-4-27-4-12-4-6-4-3-6-2-6 4-4 7-4 12-2 14-1 22 0 30 1 10 3 10 5 6 4 3 6 1 6-2 6-4 4-6 2-6z"/>
<path fill="#f5ec22" transform="translate(248.2 653.2)" d="M534 912l2-12 0-22-1-20-2-14-3-11-4-8-4-4-6-2-4 3-4 5-5 19-2 30 0 22 1 12 2 8 4 6 4 3 4 1 6-1 5-3 5-6z"/>
<path fill="#f6f11f" transform="translate(251.3 661.4)" d="M532 908l1-10 0-24-2-26-3-10-4-7-4-4-4 0-4 2-2 3-3 8-2 10-2 26 1 32 2 7 3 5 5 4 4 0 4-1 4-3 4-6z"/>
<path fill="#f7f51b" transform="translate(254.4 669.5)" d="M528 908l2-10 0-14-2-29-2-9-3-6-3-3-4-1-2 1-3 5-4 14-1 24 1 26 3 9 3 3 3 1 4 0 4-3z"/>
<path fill="#f9f916" transform="translate(257.5 677.7)" d="M524 904l1-18-1-23-4-12-2-2-2 0-4 7-1 10-1 18 0 18 2 6 4 4 2 0 3-2z"/>
</g></g>
<path class="ax" d="M24.9 60.3L24.9 111.3L142.8 132M142.8 132L187.6 77.2M142.8 132L141.4 133.7M119.2 127.9L117.8 129.6M95.6 123.7L94.2 125.4M72.1 119.6L70.7 121.3M48.5 115.4L47.1 117.1M24.9 111.3L23.5 113M142.8 132L145 132.4M165.2 104.6L167.4 105M187.6 77.2L189.8 77.6M24.9 111.3L22.3 111.3M24.9 94.3L22.3 94.3M24.9 77.3L22.3 77.3M24.9 60.3L22.3 60.3"/>
<text class="t" x="140" y="141.8" text-anchor="end">0</text>
<text class="t" x="116.4" y="137.6" text-anchor="end">20</text>
<text class="t" x="92.8" y="133.5" text-anchor="end">40</text>
<text class="t" x="69.3" y="129.3" text-anchor="end">60</text>
<text class="t" x="45.7" y="125.2" text-anchor="end">80</text>
<text class="t" x="22.1" y="121" text-anchor="end">100</text>
<text class="t" x="147.8" y="138.4">0</text>
<text class="t" x="170.2" y="111.1">50</text>
<text class="t" x="192.6" y="83.7">100</text>
<text class="t" x="20.7" y="113.2" text-anchor="end">0</text>
<text class="t" x="20.7" y="96.2" text-anchor="end">50</text>
<text class="t" x="20.7" y="79.2" text-anchor="end">100</text>
<text class="t" x="20.7" y="62.2" text-anchor="end">150</text>
<path d="M142.5 132C140.2 129.8 132.8 122.6 128.4 118.5C124 114.4 119.9 110.9 116.3 107.6C112.7 104.2 109.6 101.2 106.7 98.4C103.8 95.6 101.1 92.9 99 90.6C96.9 88.3 95.4 86.5 94.1 84.5C92.8 82.5 91.9 80.4 91.3 78.3C90.7 76.2 90.4 74 90.5 72.1C90.6 70.2 91.2 68.6 92 66.7C92.8 64.8 94.6 61.8 95.1 60.8" fill="none" stroke="#de1030" stroke-width="1.4" stroke-linecap="round" stroke-linejoin="round"/>
<circle cx="116.3" cy="107.6" r="1.1" fill="none" stroke="#3c9a3c" stroke-width=".6"/>
<circle cx="94.1" cy="84.5" r="1.1" fill="none" stroke="#3c9a3c" stroke-width=".6"/>
<circle cx="90.5" cy="72.1" r="1.1" fill="none" stroke="#3c9a3c" stroke-width=".6"/>
<rect x="141" y="130.5" width="3" height="3" fill="#f6f000" stroke="#c8b400" stroke-width=".3"/>
<polygon points="95.1 58.3 95.6 59.8 97.2 59.8 96 60.8 96.4 62.3 95.1 61.4 93.8 62.3 94.2 60.8 93 59.8 94.6 59.8" fill="#f4c20a" stroke="#7a5a10" stroke-width=".4"/>
<text class="cap" x="99.6" y="163" text-anchor="middle">(a) CPSO</text>
</g>
<g>
<path class="g" d="M271.2 93.4L271.2 52.3M284.8 84.5L284.8 43.4M298.4 75.6L298.4 34.5M312.1 66.6L312.1 25.5M325.7 57.7L325.7 16.6M339.3 48.8L339.3 7.7M271.2 93.4L339.3 48.8L425.1 84.1M271.2 79.7L339.3 35.1L425.1 70.4M271.2 66L339.3 21.4L425.1 56.7M271.2 52.3L339.3 7.7L425.1 43M425.1 84.1L425.1 43M407.9 77L407.9 35.9M390.8 70L390.8 28.9M373.6 62.9L373.6 21.8M356.5 55.9L356.5 14.8M339.3 48.8L339.3 7.7"/>
<g filter="url(#b)"><path fill="#3e26a8" d="M357 128.7L271.2 93.4L339.3 48.8L425.1 84.1Z"/>
<g transform="matrix(-.0858 -.0353 .0681 -.0446 357 128.7)">
<path fill="#3e27aa" transform="translate(.6 .8)" d="M1000 616l0-134-7-16-14-22-17-20-18-17-34-25-6-6-5-8-5-14-5-50-7-34-7-18-7-16-9-18-9-14-20-24-24-23-26-18-32-16-18-6-22-6-20-3-22-1-20 0-22 3-22 5-20 6-22 10-20 11-18 12-18 16-14 14-13 16-12 18-17 31-7 7-5 2-6-1-36-13-22-5-24-1-24 5-12 4-12 6-20 15-10 10-8 10-11 22-7 24-1 14 0 14 2 14 4 14 5 12 7 12 15 19 18 14 10 6 14 6 40 12 5 5 3 8 0 42 8 49 0 17-4 16-21 50-10 34-6 26-4 24-4 54-2 72 1 68 5 34 4 14 7 16 384 0 6-14 5-14 4-16 3-18 1-26 0-52-2-98 2-20 3-7 4-7 8-6 10-2 50 7 18 1 16-1 26-4 28-10 16-8 14-9 14-11 12-11 11-12 10-14 10-16z"/>
<path fill="#3e27ac" transform="translate(1.3 1.7)" d="M1000 558l-1-26-4-26-10-26-12-22-12-16-15-16-18-15-34-23-7-6-5-8-4-14-3-46-6-30-9-30-15-28-20-28-23-24-26-19-14-8-18-9-22-7-22-5-22-3-22-1-24 2-22 5-20 6-20 8-18 10-18 12-16 13-14 14-12 14-10 14-11 20-15 30-4 6-4 2-4 0-6-2-26-15-18-8-14-4-14-2-18 0-18 3-18 7-14 8-12 9-11 12-9 14-7 14-4 14-3 18 1 18 3 16 5 16 10 16 11 14 14 12 12 7 14 6 16 5 30 4 6 3 3 3 2 4 0 6-2 30 1 20 2 16 9 44 0 12-3 10-21 48-12 36-8 36-6 46-3 68 1 90 2 20 3 18 6 16 6 14 353 0 8-14 6-16 4-16 2-16 1-26 0-50-2-104 4-22 8-19 4-5 6-5 10-3 10 1 30 7 20 3 20 0 20-1 16-4 16-4 16-7 14-8 18-12 14-13 13-14 12-18 8-16 8-20 5-20z"/>
<path fill="#3f28ae" transform="translate(2.2 2.8)" d="M990 572l2-28-3-26-8-26-13-26-13-18-17-18-20-15-36-23-7-6-5-8-3-14-2-44-5-30-9-30-15-30-10-14-11-14-11-12-14-12-14-11-16-9-16-8-16-7-16-4-18-4-18-2-18-1-18 2-18 2-32 10-22 9-22 14-18 14-17 17-13 16-13 20-10 20-13 31-6 8-4 2-6-2-30-24-12-7-12-5-12-3-12-2-22 0-16 3-12 4-12 6-12 9-10 9-9 11-7 12-5 12-3 10-2 14 0 14 2 12 3 14 5 12 7 12 8 10 17 15 18 10 12 4 14 3 38 4 4 2 3 6 0 8-4 30 0 22 4 24 9 38 1 16-5 16-23 48-12 38-9 46-5 58-1 86 1 44 2 16 4 18 6 16 6 14 333 0 7-12 6-14 4-14 3-18 2-26 1-44-1-44-2-56 0-16 2-13 4-13 6-14 6-10 8-9 4-3 6-2 12 2 28 7 16 4 28 2 18-1 16-3 18-6 18-8 18-10 14-11 14-14 11-14 10-16 7-16 6-18z"/>
<path fill="#3f29b0" transform="translate(3.3 4.2)" d="M984 566l1-26-4-26-9-26-13-24-13-16-16-16-18-13-38-22-8-7-4-6-4-14-1-46-4-30-4-16-6-16-8-16-8-14-19-26-24-23-14-10-14-8-16-8-16-6-20-6-22-3-22-1-20 1-20 3-22 6-20 9-20 11-16 11-16 14-13 14-13 16-9 16-8 16-19 53-3 5-3 2-6-3-18-21-10-10-18-13-12-6-14-4-12-3-14 0-14 1-14 4-14 6-12 8-10 9-9 10-7 12-6 14-3 12-2 12 0 14 2 12 4 14 6 12 6 10 9 10 8 7 10 7 12 7 10 3 12 3 12 1 38 0 5 2 2 4-1 8-7 36 0 24 4 26 11 40 1 8 0 8-5 16-23 46-12 36-6 24-4 24-5 54-1 90 1 46 3 18 4 16 5 14 7 14 317 0 9-16 6-16 4-16 3-20 1-22 0-44-3-96 1-20 2-12 5-13 8-16 8-13 4-6 6-5 4-1 6-1 10 2 26 8 18 5 20 2 20 0 28-5 16-6 14-6 16-10 14-11 14-14 11-14 9-16 8-16 5-18z"/>
<path fill="#402ab3" transform="translate(4.5 5.7)" d="M978 568l1-28-4-26-8-24-14-24-14-18-17-15-18-12-39-21-7-6-4-6-3-14 0-46-4-30-4-16-6-16-6-14-9-16-10-14-10-12-11-12-13-11-14-10-14-8-28-12-24-6-24-3-24 0-24 3-24 6-24 10-20 12-20 15-16 16-13 16-12 18-9 18-9 26-6 28-3 22-1 28-2 10-5 11-4 3-4 2-2 0-2-4 4-28 0-16-4-12-6-14-12-18-12-13-16-12-16-8-18-4-18-1-18 3-16 6-16 10-12 11-12 16-7 16-3 12-1 14 1 12 2 14 4 12 7 12 7 10 10 10 10 8 10 5 10 4 12 3 14 2 12 0 38-5 4 1 2 4-2 8-10 38-2 14 0 14 1 14 3 14 14 44 1 8-1 8-4 14-25 48-12 34-6 24-4 22-5 52-2 72 0 42 2 24 2 20 5 16 5 14 7 14 303 0 9-14 7-16 4-18 3-20 1-24 1-44-4-94 1-20 3-12 5-13 20-38 8-9 4-2 6-1 10 2 42 14 28 3 18 0 18-3 16-4 16-6 16-9 14-10 13-12 12-14 10-16 8-16 6-18z"/>
<path fill="#402bb6" transform="translate(6 7.5)" d="M446 360l0-16-4-16-7-16-10-14-13-13-14-9-16-6-16-4-18 0-16 4-16 6-14 10-12 12-9 14-7 16-3 16 0 16 4 18 7 16 10 14 12 12 14 9 16 6 16 3 18 0 18-3 20-8 14-8 9-9 7-14 7-18zM972 572l2-26-3-26-8-26-13-24-15-18-17-15-22-14-38-19-7-6-4-6-3-6-1-8 1-40-1-20-3-18-5-20-8-22-12-20-14-20-16-16-25-19-26-14-30-10-16-3-16-2-32 1-30 7-16 5-14 6-26 16-16 14-15 15-12 16-12 20-10 26-7 28-3 26-1 36-3 14-3 6-6 7-28 21-11 12-8 14-7 14-5 14-4 14-2 22 1 24 5 20 13 36 2 8 0 8-2 8-4 8-17 30-8 18-8 20-6 18-6 26-4 24-3 28-1 32-1 86 1 38 3 18 5 16 5 14 7 12 290 0 9-14 7-16 5-18 3-20 1-22 0-42 0-44-3-54 1-22 3-12 5-12 26-48 8-8 4-1 6 0 8 2 26 10 16 5 16 4 18 1 14 0 14-2 16-4 14-6 16-8 14-10 13-11 12-14 10-14 8-16 5-16z"/>
<path fill="#412cba" transform="translate(7.8 9.8)" d="M440 366l1-16-2-16-6-16-8-14-11-12-14-10-14-7-16-4-16-1-18 3-14 5-14 8-12 11-10 13-6 14-4 16-1 16 2 16 6 16 7 12 11 12 13 10 14 7 16 4 16 1 18-2 16-5 16-9 11-10 9-12 7-16zM968 564l0-26-4-26-10-24-14-22-14-16-16-13-20-11-39-18-7-5-4-5-3-8-1-8 2-40-1-22-2-18-6-20-8-22-12-20-13-18-16-16-24-19-14-8-14-6-28-9-30-4-30 2-16 2-16 5-26 10-26 17-18 15-16 19-15 22-10 22-6 20-4 20-1 22 0 36-2 10-2 7-9 11-29 23-14 15-8 12-6 12-5 14-3 12-3 22 2 22 6 22 14 36 2 8 0 8-5 14-19 32-8 16-8 18-6 20-6 24-4 26-4 30-2 34 0 84 2 36 2 16 4 16 6 14 8 14 277 0 10-14 7-16 5-18 3-20 1-24 0-42 0-44-3-52 1-22 3-12 5-12 30-57 4-4 4-3 4-1 6 0 50 19 18 4 16 2 16-1 14-2 14-3 14-5 16-9 14-10 14-12 11-14 10-16 7-14 5-16z"/>
<path fill="#422fc0" transform="translate(10.2 12.8)" d="M436 358l0-16-4-14-6-14-9-12-11-11-12-8-14-6-16-3-16 0-14 3-14 6-14 10-11 11-7 12-7 16-2 14 0 14 4 16 6 14 9 13 11 11 13 8 14 5 16 3 16 0 14-3 14-6 14-10 11-11 7-12 5-14zM962 566l1-26-4-26-10-24-14-22-15-16-18-13-22-12-38-15-6-4-5-6-2-6-1-10 3-38 0-20-2-20-4-18-8-22-12-22-13-18-16-17-24-18-26-14-28-8-28-4-30 1-28 6-26 11-26 16-18 16-17 19-12 20-10 22-6 20-3 20-2 20 1 38-1 8-3 8-8 10-31 24-15 16-7 10-7 12-5 12-3 14-3 22 3 22 6 22 15 34 2 8 1 8-5 14-19 30-10 20-8 18-6 18-6 24-5 30-4 30-1 34-1 82 2 36 3 16 5 16 5 12 8 14 264 0 10-14 7-16 6-18 3-20 1-26 0-56-4-84 2-20 6-18 19-36 18-36 3-4 4-3 8 0 48 22 16 4 16 3 14 0 16-1 14-3 14-4 16-7 14-9 14-12 11-12 10-14 8-16 6-16zM690 538l-4 3-4 0-12-4-11-9-1-4 0-4 6-4 6-1 8 0 6 2 4 3 3 6 1 6z"/>
<path fill="#4332c9" transform="translate(14.7 18.5)" d="M428 368l2-14-1-14-4-14-6-12-10-12-11-9-12-7-14-5-14-1-14 1-14 4-12 6-11 9-9 10-7 12-4 14-2 14 1 16 4 14 7 12 9 11 10 8 12 7 14 5 14 1 14-1 14-4 12-6 12-9 9-10 6-12zM954 566l1-26-4-24-10-24-7-12-8-10-16-16-20-13-22-10-36-11-8-4-5-6-2-6-1-8 5-40 1-22-1-18-4-20-8-22-10-20-13-19-16-17-22-17-24-12-28-9-28-4-28 2-28 6-26 11-24 16-16 15-15 18-12 20-8 20-6 20-2 18-1 20 2 38-1 8-3 8-8 10-34 24-16 16-8 10-7 12-4 12-3 12-2 22 1 12 2 12 8 22 17 32 3 8 0 6-1 6-3 8-27 40-9 16-6 16-7 18-5 20-8 46-2 32-1 36-1 60 2 28 3 20 4 18 7 16 9 14 244 0 11-14 8-16 6-18 3-22 2-26-1-58-4-82 2-20 7-18 17-30 8-16 13-37 4-8 2-2 4-2 6 2 42 24 16 7 16 4 16 2 14 0 14-1 16-4 16-6 14-8 14-11 12-12 11-14 8-16 6-16zM706 548l-3 10-4 4-5 1-10-4-33-19-11-8-4-5-2-5 0-6 1-4 3-4 4-3 14-4 24-1 10 1 6 2 7 5 3 8 2 14z"/>
<path fill="#4435d1" transform="translate(19.2 24.1)" d="M424 362l1-14-2-12-4-12-7-12-10-10-10-8-12-5-14-4-14 0-12 2-12 4-12 7-10 10-7 10-6 12-3 12 0 12 1 14 5 12 7 12 9 10 10 8 12 5 14 4 14 0 12-2 12-4 12-7 10-9 8-11 5-12zM948 566l1-12 0-14-4-24-5-12-6-12-8-12-8-10-16-14-20-12-22-9-40-9-8-4-4-4-2-6 0-10 7-40 2-22-1-20-3-18-8-24-10-20-13-19-16-17-20-15-24-12-26-8-28-4-26 2-26 6-26 11-22 15-16 15-14 18-12 20-8 20-4 18-2 18-1 20 3 38 0 8-3 8-4 6-5 4-34 22-18 16-8 10-7 12-5 12-3 12-2 22 2 12 3 12 9 22 19 32 3 8 0 6-1 6-3 6-29 40-9 16-7 14-7 20-6 20-7 44-3 32-2 36 0 62 1 28 3 20 6 18 7 16 10 14 228 0 11-14 9-16 6-18 3-20 2-24 0-46-1-42-4-54 2-22 6-18 20-34 10-22 7-22 5-34 2-6 2-1 6 4 25 21 15 11 24 13 16 5 16 3 16 0 16-1 16-4 18-8 16-10 12-11 12-14 9-16 8-18zM716 531l-3 47-1 7-2 2-6-2-34-25-31-18-9-6-4-5-3-5-1-6 0-8 2-6 4-6 6-4 6-2 10-2 20-1 18-1 12 1 10 4 5 7 1 10z"/>
<path fill="#4538d8" transform="translate(23.7 29.8)" d="M420 362l1-14-2-12-5-12-6-10-8-9-10-7-12-6-12-3-12 0-12 1-12 4-10 6-9 8-8 10-6 12-3 12 0 12 2 14 4 12 6 10 8 9 10 7 12 6 12 3 14 0 12-2 12-4 10-7 9-8 7-10 5-10zM944 556l-1-24-3-12-4-12-5-12-6-10-8-10-9-9-16-12-20-10-22-7-42-7-8-3-3-4-1-6 0-8 9-40 3-22 1-20-3-20-7-24-10-22-14-20-16-16-21-16-24-11-26-7-24-3-26 2-24 6-24 11-22 15-15 15-14 18-10 18-8 22-4 16-2 18 1 20 4 38-1 8-3 8-2 4-6 5-36 20-18 15-8 10-8 12-5 12-3 12-2 12 0 12 2 12 3 12 11 22 22 32 2 6 1 6-1 6-4 8-30 36-9 14-8 16-8 20-5 18-5 20-4 24-3 32-2 36 0 66 1 28 3 20 6 18 7 16 10 14 216 0 13-16 9-18 5-12 3-14 2-30 0-68-5-76 1-20 3-10 4-10 21-34 10-22 7-24 1-24-2-12-4-10-6-10-8-10-19-15-12-8-26-13-6-4-6-6-4-10 0-12 3-12 6-8 9-5 18-2 54-2 10 1 6 3 3 5 1 8-3 44 1 24 3 16 5 14 7 10 8 10 21 19 22 12 24 8 24 2 22-2 22-8 20-12 17-15 14-20 9-22z"/>
<path fill="#463cdf" transform="translate(28.2 35.5)" d="M416 364l1-12-1-12-4-12-5-10-7-8-10-8-10-6-12-3-12-1-10 1-12 3-10 6-10 8-7 8-5 10-4 12-1 12 1 12 4 12 5 10 7 8 10 8 10 6 12 3 12 1 12-1 10-3 11-6 9-8 7-8 5-10zM938 568l2-14 0-14-3-14-3-12-5-12-7-12-8-11-10-10-18-13-22-9-26-6-42-3-6-2-4-4-1-4 1-8 12-40 4-22 2-22-2-20-5-24-10-22-12-20-17-18-20-16-22-11-24-7-26-4-26 2-24 6-24 11-20 14-16 15-14 18-9 18-8 22-4 18-1 18 1 20 5 36 0 8-2 6-4 6-5 4-37 19-10 6-10 9-9 10-7 12-5 12-3 12-2 12 1 12 2 12 3 12 12 22 24 30 3 6 1 6-1 6-4 8-32 36-10 14-8 14-8 18-6 18-5 20-4 22-3 30-2 36-1 68 1 30 3 20 5 18 7 16 9 14 4 4 204 0 14-16 10-20 7-24 2-32 0-68-5-74 1-20 2-10 4-10 24-36 8-18 7-22 1-22-2-14-5-12-7-12-8-10-10-8-12-8-38-19-8-9-4-12 0-18 4-13 6-8 6-3 10-2 40-2 38-3 12 0 6 3 3 4 0 8-6 40-1 24 3 20 5 18 6 10 7 10 17 17 20 14 22 8 22 4 22-1 20-5 20-10 18-14 14-17 11-20z"/>
<path fill="#4740e4" transform="translate(32.6 41.1)" d="M414 354l-1-12-3-10-4-10-6-8-8-7-10-6-10-4-12-2-12 1-10 2-10 5-9 7-8 8-6 10-3 10-2 12 1 12 3 10 5 10 7 10 8 6 10 6 10 3 12 2 12-1 10-3 10-5 8-6 7-8 6-10 3-10zM936 554l0-14-2-14-4-12-5-12-7-11-8-10-10-10-10-8-20-10-24-7-26-2-42 3-4-1-3-2 0-4 1-6 16-40 7-24 4-24 0-22-5-26-10-24-14-22-18-20-20-14-22-10-24-7-24-2-24 2-24 7-22 10-20 14-15 16-12 16-10 20-6 20-3 18-1 16 1 20 6 38 0 8-2 7-4 5-6 4-36 16-12 7-9 7-9 10-7 10-6 12-4 14-1 14 1 12 2 12 4 12 7 12 7 10 26 30 4 6 0 6-1 6-4 6-34 34-10 14-9 14-8 16-6 18-6 20-5 24-3 30-3 38 0 68 1 30 2 20 5 18 8 16 10 14 3 4 194 0 8-8 8-10 6-10 5-12 6-26 2-30 0-68-5-72 1-20 2-10 5-10 22-34 10-18 6-22 1-22-2-12-5-12-7-12-8-10-18-14-14-7-26-12-6-4-5-5-4-12 0-22 3-17 2-5 4-4 6-4 8-1 50-2 20-2 38-6 8 0 3 1 1 2 0 6-11 38-4 26 1 26 5 22 6 12 6 10 9 10 8 8 10 7 12 7 12 5 12 4 22 2 22-2 22-8 18-11 16-15 13-19 8-20z"/>
<path fill="#4745e9" transform="translate(37.1 46.8)" d="M410 362l1-10-1-10-3-10-5-10-6-8-8-6-10-6-10-3-12-1-10 1-10 3-10 6-8 6-6 8-5 10-3 10-1 10 1 10 3 10 5 10 6 8 8 6 10 6 10 3 10 1 12-1 10-3 10-6 8-6 6-8 5-10zM794 354l1-24-3-22-7-22-10-20-13-18-18-17-18-12-22-9-22-6-24-1-22 2-22 7-22 11-18 13-16 17-13 19-6 12-5 14-3 14-2 16 1 28 8 46 0 6-1 6-3 4-5 4-41 16-12 6-10 8-9 10-8 12-6 12-3 14-1 12 2 14 3 12 5 12 6 10 9 11 28 27 4 6 1 4-1 6-6 8-36 34-11 14-9 14-9 18-7 18-6 22-5 22-4 32-2 38 0 68 1 30 4 20 6 18 8 16 12 14 184 0 12-12 10-14 6-14 4-14 3-14 1-18 0-74-5-78 1-20 2-9 4-9 24-34 9-18 6-20 1-12 0-10-2-14-5-12-7-12-9-10-9-7-10-7-12-5-27-11-6-4-4-4-3-8-2-12 1-26 2-14 2-6 3-3 8-5 12-1 42 1 24-3 34-8 14-6 8-5 7-6 7-8 15-26 11-28zM932 560l0-18-3-20-7-18-10-15-12-13-16-12-18-9-18-4-20-2-22 1-22 5-14 6-10 9-10 14-8 18-5 22-3 22 2 20 4 18 10 18 13 16 15 12 18 10 20 6 20 2 20-3 18-6 18-10 16-15 12-16 8-18z"/>
<path fill="#4849ed" transform="translate(41.6 52.4)" d="M408 358l0-10-1-10-4-10-6-8-7-8-8-5-8-4-10-2-10 0-10 1-10 4-8 5-8 7-5 8-5 10-2 10 0 10 1 10 4 10 6 8 7 8 8 5 10 4 10 2 10 0 10-2 10-4 8-5 7-8 6-8 3-8zM790 356l1-22-2-22-6-22-10-20-12-18-17-16-18-13-22-9-22-6-22-1-22 2-22 6-20 10-19 13-15 16-14 20-6 14-5 14-3 14-1 16 0 14 2 16 10 44 0 6-1 6-3 4-6 4-41 13-12 5-11 8-10 10-9 12-5 12-4 14-1 14 2 12 4 14 6 12 7 10 9 10 31 26 3 4 2 6-1 6-6 8-39 33-11 13-10 14-9 16-7 18-7 20-5 24-4 32-3 38 0 70 1 30 4 22 6 18 9 16 12 14 176 0 12-12 11-16 6-12 4-14 3-16 1-18 0-74-6-78 1-18 2-10 5-10 23-32 10-18 6-20 1-20-2-14-4-12-8-12-9-10-18-13-12-6-30-11-6-4-4-4-3-8-1-10 1-40 2-12 3-7 4-3 4-1 12-1 40 2 24-2 30-6 12-5 12-6 10-7 8-8 8-10 7-12 12-26 4-14zM928 564l1-18-2-18-6-18-9-16-12-14-14-11-16-9-18-5-20-3-20 1-20 5-16 7-12 9-9 12-8 16-6 20-3 20 1 20 4 18 8 18 13 16 14 13 18 10 18 5 18 2 20-1 18-6 18-9 14-12 13-16 9-18z"/>
<path fill="#484df0" transform="translate(46.1 58.1)" d="M406 354l-1-10-2-8-3-8-6-8-8-7-8-5-8-3-10-2-10 1-10 2-8 4-8 6-7 8-5 8-2 8-2 10 1 10 2 10 4 8 7 8 8 7 8 4 8 3 10 1 10-1 8-2 8-4 8-6 7-8 5-8 3-8zM788 340l-1-20-4-20-8-20-11-18-14-16-16-13-18-11-20-7-20-4-22-1-22 4-20 6-20 11-16 13-14 15-11 17-6 14-5 16-3 14-1 16 1 14 2 16 12 46 1 6-1 6-4 4-5 2-28 6-16 4-12 6-10 6-11 10-9 11-6 13-4 14-1 12 2 14 4 14 6 12 9 12 10 9 33 23 4 4 2 6-2 8-6 8-43 35-11 11-10 14-9 16-8 18-7 20-5 22-4 34-3 36-1 72 2 30 3 22 7 18 9 16 12 14 168 0 15-14 11-16 5-12 4-14 3-16 1-18 0-74-2-32-5-44 1-20 3-10 4-8 24-32 10-18 6-20 1-20-2-14-5-12-7-12-10-10-10-8-12-6-40-14-4-2-4-5-3-7 0-8 0-58 0-8 2-4 3-3 8-2 52 4 16-1 16-2 26-7 22-11 10-7 10-10 9-13 7-12 6-14 6-16 3-16zM926 558l0-18-3-18-7-16-10-15-13-13-15-11-16-6-18-5-20-1-18 3-18 6-14 8-12 12-9 14-7 18-4 18-1 20 3 18 5 16 10 16 13 14 16 11 16 8 18 4 18 0 18-3 18-7 16-10 13-13 10-14 8-18z"/>
<path fill="#4851f4" transform="translate(50.6 63.8)" d="M402 364l1-8 0-10-1-8-4-8-5-8-7-6-8-6-8-3-8-1-10 0-10 2-8 3-8 6-6 7-5 8-3 8-1 8 0 10 2 10 4 8 6 8 7 6 8 5 8 2 8 2 10-1 8-2 9-4 7-5 6-7 5-8zM784 350l1-22-4-22-7-20-10-18-12-16-16-14-18-11-20-9-20-4-22-1-22 3-20 7-18 9-16 12-15 16-11 18-7 14-5 16-2 16-1 18 4 28 16 50 1 6 0 5-3 3-5 2-28 2-18 3-12 4-12 6-12 9-10 12-7 14-4 14-1 14 2 14 5 14 7 12 8 10 12 10 35 20 4 4 2 6-2 10-8 10-9 8-24 16-12 10-12 12-9 12-10 16-8 18-6 18-6 22-5 32-2 40-1 72 1 30 4 22 6 18 10 16 13 14 160 0 15-14 13-18 5-12 4-14 2-16 1-18 0-74-2-30-5-46 1-18 2-10 5-10 24-31 10-17 7-20 1-20-3-14-5-12-8-12-10-10-10-7-12-6-40-12-5-3-3-4-3-10 1-42-4-42 2-4 8-2 52 7 30 0 26-6 24-9 12-8 9-8 9-10 9-12 6-12 6-14 4-14zM922 566l2-16-2-18-5-16-8-16-11-14-12-10-16-9-16-6-18-3-18 1-18 4-16 7-14 10-10 12-7 14-7 18-2 18 0 18 4 18 8 16 10 14 14 13 16 9 18 7 18 2 18-2 18-5 15-8 15-12 11-14 8-16z"/>
<path fill="#4756f6" transform="translate(55.1 69.4)" d="M400 362l1-8 0-8-2-8-4-8-5-8-6-5-8-5-8-3-8-1-10 0-8 2-8 4-8 6-5 6-4 8-3 8-1 8 0 10 3 8 4 8 6 8 6 5 8 4 8 2 8 1 8 0 8-2 8-4 8-6 5-6 5-8zM682 652l1-18-3-16-7-16-10-12-11-9-12-6-16-6-30-7-5-2-4-4-2-10 2-36-2-24-2-12-5-12-4-8-4-5-10-5-14-3-16 0-16 1-14 4-12 6-10 7-10 9-10 16-5 18-1 10 1 10 6 18 9 15 12 12 16 11 32 14 3 4 2 6-4 12-9 12-10 8-24 16-12 9-12 11-10 12-9 14-8 18-7 20-6 20-5 32-3 38-1 74 1 32 4 22 7 18 10 16 14 14 152 0 13-11 11-13 8-14 4-14 4-16 1-18 0-80-2-32-5-44 1-20 2-10 6-10 22-27 8-13 7-14zM780 358l2-24-3-24-7-22-11-20-15-18-18-14-20-11-24-7-24-2-24 3-22 7-20 11-18 15-14 18-11 20-7 24-2 26 3 26 10 30 14 30 7 9 8 6 16 6 26 6 28 3 26-1 26-6 22-11 18-14 15-18 12-24zM920 562l1-18-2-16-6-16-8-14-11-12-14-11-16-8-16-4-18-2-18 2-16 5-14 7-12 10-10 13-8 16-4 18-2 18 2 18 6 16 8 14 12 14 14 11 16 8 16 4 18 1 16-2 16-6 16-9 12-11 11-14 7-16z"/>
<path fill="#475af9" transform="translate(59.6 75.1)" d="M398 360l1-8-1-8-2-8-4-7-5-7-7-5-14-6-8-1-8 0-8 3-8 4-7 5-5 6-4 8-2 8-1 8 1 8 2 8 4 7 5 7 7 5 14 6 8 1 8 0 8-3 8-4 7-5 5-6 4-8zM680 650l1-16-3-16-8-16-10-12-12-9-12-5-16-5-30-5-6-3-3-3-2-4 0-6 3-34-1-24-3-12-3-10-5-8-6-7-10-6-12-4-14-1-14 1-14 3-12 6-10 6-10 10-10 16-3 10-2 10 0 10 2 10 7 18 10 14 12 10 16 9 32 11 5 4 1 6-2 8-3 8-11 14-9 8-27 16-12 9-12 11-10 12-9 14-9 18-6 18-5 20-6 32-3 38-1 74 2 32 4 22 7 18 10 16 14 14 145 0 15-12 11-14 8-14 4-14 3-16 2-18-1-78-2-32-5-46 1-20 3-10 4-8 23-28 10-14 5-12zM778 352l1-24-4-22-8-22-11-18-16-17-18-14-22-10-22-5-24-1-22 4-22 8-18 11-17 16-14 18-10 22-5 22-1 24 4 26 10 26 13 24 10 11 12 8 22 8 24 5 26 1 24-3 22-7 20-11 16-14 14-20 10-22zM918 558l0-16-2-16-7-16-9-14-12-12-12-9-16-7-16-4-18 0-16 2-16 6-14 8-10 10-10 14-7 16-3 16-1 18 3 16 5 16 9 14 12 13 14 10 16 7 16 3 16 1 16-3 16-6 14-9 12-12 10-14 7-16z"/>
<path fill="#465efb" transform="translate(64.1 80.7)" d="M396 360l1-8-1-8-2-8-4-6-10-11-6-3-8-3-8-1-8 1-8 2-6 3-6 5-6 7-4 6-2 8-1 8 1 8 2 8 4 6 5 6 7 6 6 3 8 2 8 1 8-1 8-3 6-3 10-11 4-6zM678 648l0-18-4-16-8-14-12-12-12-7-14-6-16-3-30-3-6-2-2-3-1-8 6-38 0-20-2-12-5-12-4-8-8-8-8-5-12-5-12-1-14 1-12 2-12 5-10 7-10 9-6 9-4 8-3 10-2 10 1 10 2 10 3 10 5 8 10 12 14 11 18 8 33 7 4 4 1 4-2 8-5 12-7 10-6 8-10 8-28 17-12 8-12 11-10 12-9 14-8 16-7 18-5 20-5 32-4 38-1 74 2 32 4 22 8 20 11 16 13 12 139 0 15-12 13-16 7-14 4-14 3-16 1-18 0-78-2-30-6-48 1-20 2-8 6-10 22-26 10-14 7-14zM776 346l0-22-5-22-8-20-14-20-16-16-19-12-20-8-22-4-22 0-22 5-20 8-20 14-16 16-12 19-8 20-4 22 0 24 5 24 10 24 13 21 12 11 16 9 22 7 24 4 24 0 24-5 20-8 18-12 15-15 13-20 8-22zM916 556l0-16-4-16-5-14-10-14-11-11-14-9-16-7-16-3-16 0-16 3-14 6-14 9-10 10-9 14-6 16-3 16 0 16 3 16 6 16 9 13 11 11 13 9 16 7 16 3 16 0 16-3 16-7 13-9 12-12 9-14 5-14z"/>
<path fill="#4562fc" transform="translate(68.6 86.4)" d="M394 358l0-14-3-8-3-6-6-6-5-4-13-5-14 0-8 2-6 4-6 5-5 6-3 6-2 8 0 14 3 8 3 6 6 6 6 5 6 2 8 2 14 0 8-3 6-4 9-10 3-6zM676 646l0-18-5-16-5-8-6-7-14-12-16-7-18-3-22-1-26 2-4 3-18 35-13 18-11 9-28 16-14 10-14 13-12 16-9 16-8 20-6 22-4 22-3 24-2 28-1 78 3 30 2 14 4 12 6 12 7 10 8 8 9 8 132 0 18-14 12-16 6-12 5-14 3-16 1-20-1-78-2-30-5-46 0-20 3-10 5-8 24-28 10-14 6-14zM576 524l1-14-1-12-2-12-4-10-6-9-7-7-9-5-10-4-12-1-14 1-12 3-12 5-10 7-9 10-6 10-4 12-1 12 1 12 3 12 6 12 9 10 11 9 12 6 12 4 12 1 14 1 16-1 6-2 4-8 6-16zM772 356l2-22-3-22-6-20-11-20-14-16-18-15-20-10-20-5-22-2-22 3-20 6-20 11-16 14-15 18-10 20-5 20-2 22 3 24 8 24 11 21 12 15 14 10 18 9 22 5 24 2 22-2 22-6 20-11 16-13 14-18 10-20zM914 552l-1-16-4-16-7-14-10-12-12-11-14-8-14-4-16-3-16 1-16 4-14 7-11 8-10 12-8 14-5 14-2 16 0 16 4 16 7 14 9 12 12 11 14 9 14 5 16 2 16-1 14-3 15-7 13-10 11-12 8-14 5-14z"/>
<path fill="#4367fd" transform="translate(73.1 92.1)" d="M392 358l0-14-5-12-5-5-6-5-12-5-14 0-8 3-6 3-5 5-5 6-4 12 0 14 6 13 10 9 6 3 8 2 14 0 12-6 5-5 5-6zM674 646l0-16-5-16-9-14-11-10-15-8-16-4-20-1-18 2-10 4-8 6-7 9-17 28-10 12-10 7-28 15-14 10-14 14-12 16-9 18-7 18-5 20-5 24-2 24-2 28-1 78 3 30 3 12 4 12 6 10 7 10 8 9 9 7 125 0 18-13 14-17 7-14 4-14 3-16 1-18-1-78-2-32-6-46 1-20 3-10 5-8 24-26 10-14 6-14zM574 520l1-12-2-12-3-12-5-10-6-8-8-6-9-4-10-3-12-1-12 2-12 4-10 5-10 8-7 9-5 10-3 12-1 12 2 12 4 12 7 10 9 9 10 7 12 6 12 2 12 1 12-1 10-3 6-4 6-7 6-12 4-12zM770 354l2-22-3-20-7-20-11-20-14-16-17-13-20-10-20-5-22-1-20 2-20 7-20 11-16 14-13 17-10 20-5 20-2 22 3 22 7 22 12 21 12 14 14 11 18 8 22 6 24 2 22-3 20-6 20-11 16-14 13-18 10-20zM910 566l2-14-1-16-4-14-7-14-9-12-11-10-14-8-14-5-16-2-16 0-14 4-14 6-11 9-9 10-9 14-5 14-2 16 1 16 3 14 6 14 10 13 12 11 14 8 14 5 16 2 16-1 14-4 14-7 12-10 10-11 8-14z"/>
<path fill="#416bfe" transform="translate(77.6 97.7)" d="M390 358l0-12-5-12-9-10-12-5-8-1-6 1-12 5-9 10-5 12 0 8 0 6 6 12 10 9 12 4 12 0 12-5 9-10zM672 646l0-16-4-14-7-12-11-11-14-8-16-5-18-1-16 2-12 5-10 7-8 11-17 26-9 10-10 8-28 14-14 10-15 14-12 18-8 16-8 20-5 22-4 22-4 52-1 78 4 30 7 22 6 10 8 10 8 8 8 6 119 0 9-6 10-8 8-8 7-10 6-12 4-14 3-16 1-20-1-80-3-30-6-46 1-18 3-10 4-8 25-26 10-14 7-14zM572 516l0-12-2-10-3-10-5-10-8-8-8-6-10-3-10-2-12 0-10 2-12 5-9 6-8 8-6 8-4 10-3 12 0 12 3 10 4 10 7 10 8 8 10 7 12 4 12 3 12 0 10-2 8-3 8-7 6-8 5-10 3-12zM768 352l1-22-3-20-7-20-11-18-14-15-16-12-20-10-20-5-22-1-20 3-20 7-18 11-15 14-12 16-10 20-5 20-1 22 3 22 7 20 12 20 12 14 15 11 18 8 22 5 22 1 22-3 20-7 18-10 16-15 12-16 9-20zM908 564l2-14-1-14-4-14-7-14-10-12-10-9-14-8-14-4-14-2-16 1-14 3-14 7-12 10-9 10-7 14-4 14-2 16 1 14 4 14 7 14 10 12 10 9 14 8 14 4 14 2 16-1 14-5 14-7 12-10 8-10 8-14z"/>
<path fill="#3e70ff" transform="translate(82.1 103.4)" d="M388 356l-1-12-2-6-4-6-9-8-12-3-12 1-10 5-8 9-4 12 1 12 2 6 4 6 9 8 12 3 12-1 10-5 8-9zM670 646l0-14-4-15-8-13-10-10-12-7-16-5-16-1-16 3-12 5-12 9-7 10-17 26-9 10-9 6-28 14-15 10-14 14-13 18-9 18-6 18-6 22-4 22-4 52 0 76 4 30 7 22 6 10 8 10 8 7 10 7 111 0 11-7 10-8 9-9 6-10 6-12 4-14 3-16 1-20-1-78-3-30-6-48 0-18 3-10 5-8 25-25 10-13 7-14zM568 526l2-12 0-10-2-10-4-10-4-8-8-8-8-5-8-4-10-2-12 0-10 2-10 4-10 7-8 8-5 8-5 10-2 10 1 12 2 10 4 10 7 9 8 8 10 6 10 4 10 2 12 0 10-2 10-5 7-6 6-8 5-10zM766 350l1-22-4-20-7-18-11-18-15-16-16-11-18-8-20-5-22-1-20 4-18 7-18 11-16 15-11 16-8 18-5 20-1 20 4 22 8 22 11 18 12 13 16 11 18 8 20 4 22 1 20-3 20-7 18-11 15-14 11-16 9-20zM906 564l2-14-1-14-4-14-7-13-9-11-11-10-12-7-14-4-14-2-16 1-14 4-12 6-12 9-9 11-7 12-4 14-2 16 1 14 4 14 6 12 10 12 11 10 12 6 14 5 14 2 16-2 14-4 12-6 12-10 9-11 7-12z"/>
<path fill="#3974fe" transform="translate(86.5 109)" d="M386 356l-1-12-5-10-8-7-10-4-12 1-10 4-8 9-4 11 1 12 5 10 10 8 10 3 12-1 10-6 7-8zM668 646l0-14-4-14-7-12-10-10-13-8-14-4-16 0-14 2-12 5-11 9-9 11-16 25-9 10-9 7-28 13-16 11-16 15-12 18-8 16-7 20-5 20-3 22-4 52 0 78 4 28 4 12 4 10 7 10 6 8 10 8 9 6 104 0 13-7 10-8 8-9 8-12 7-14 3-14 2-16 1-20-1-76-3-30-7-46 0-12 1-8 2-8 5-8 26-26 10-12 7-14zM566 524l2-12-1-10-2-10-3-8-6-8-6-6-8-6-8-3-10-1-10 0-10 2-10 4-9 6-8 8-5 8-4 10-2 10 1 10 2 10 5 10 6 8 8 8 8 4 10 4 12 2 10 0 10-2 8-4 7-6 6-8 5-10zM764 348l1-20-4-20-8-20-11-16-14-15-16-11-18-8-20-4-20-1-20 4-20 8-16 11-15 14-11 16-8 18-4 20-1 20 4 20 7 20 11 18 13 14 16 10 18 8 20 4 22 1 20-4 20-8 16-10 14-13 12-18 8-18zM904 564l2-14-1-14-4-14-7-12-8-11-11-9-11-6-14-5-14-2-14 1-14 3-12 6-12 9-9 10-7 12-4 14-2 14 1 14 4 14 5 12 9 12 11 9 12 7 14 5 14 2 14-1 14-4 12-6 12-9 9-11 7-12z"/>
<path fill="#3579fd" transform="translate(91 114.7)" d="M384 354l-1-10-5-9-8-7-10-3-10 1-10 5-7 9-3 10 1 10 6 10 9 7 10 2 10-1 9-6 6-8zM666 648l0-14-3-14-7-12-9-10-13-8-14-4-14 0-15 2-13 6-10 8-9 12-16 26-9 10-10 6-28 13-14 9-16 15-13 19-7 16-7 18-5 20-4 24-4 52 0 76 5 28 3 12 5 10 7 10 7 8 7 6 10 7 2 1 98 0 12-7 12-9 10-10 6-10 7-14 3-14 2-16 1-22-1-76-3-28-7-48 0-18 3-10 5-8 25-24 10-12 7-12zM564 524l1-10 0-10-2-10-3-8-5-8-7-7-8-5-8-3-10-1-10 0-10 3-8 3-8 6-6 6-6 8-4 10-1 10 0 10 2 10 4 8 6 8 7 7 8 5 10 4 10 2 10 0 10-3 8-4 7-5 6-8 4-8zM762 348l0-20-3-20-7-18-11-16-13-14-16-11-18-9-20-4-20 0-20 3-18 7-16 11-14 13-11 16-9 18-4 20 0 20 3 20 8 20 10 16 13 14 14 10 18 8 20 4 20 1 20-3 18-7 18-11 15-14 11-16 8-18zM902 564l2-12-1-14-4-14-6-12-7-10-12-10-12-7-12-4-14-2-14 1-14 3-12 6-11 9-9 10-6 12-4 12-2 14 1 14 4 14 6 12 7 10 12 10 12 7 12 4 14 2 14-1 14-4 11-6 11-8 9-10 7-12z"/>
<path fill="#317dfb" transform="translate(95.5 120.4)" d="M380 360l2-10-3-10-7-8-8-4-10-1-8 3-8 6-4 8-2 10 3 10 7 8 8 4 10 1 8-3 8-6zM664 648l1-14-3-12-6-12-10-10-12-7-14-5-14 0-14 2-12 6-12 10-8 11-15 25-9 10-10 7-28 12-16 10-15 15-13 19-7 15-7 18-5 22-3 22-4 52 0 74 4 28 4 12 5 10 7 10 6 7 8 7 10 6 3 2 91 0 14-7 12-9 9-10 8-12 6-14 4-14 2-18 0-22-1-74-3-28-8-48 1-18 3-10 5-7 25-23 10-12 7-12zM562 522l1-10 0-8-2-10-4-8-5-7-6-6-8-5-8-3-8-1-10 0-10 3-8 4-8 6-6 6-5 9-3 8-1 8 0 10 3 10 4 8 6 8 7 6 7 4 10 4 10 1 10 0 8-3 8-4 6-5 5-7 4-8zM760 346l0-20-3-18-8-18-10-16-14-14-17-11-18-8-18-3-20 0-18 3-18 8-16 10-14 14-11 17-8 18-3 18 0 20 4 20 7 18 11 17 12 12 16 10 18 8 20 3 20 0 18-3 18-7 16-11 14-13 10-16 8-18zM900 564l2-12-1-14-3-12-6-12-8-11-10-9-12-7-12-4-12-2-14 0-14 4-12 5-10 8-9 10-7 12-4 12-2 12 0 14 4 14 6 12 8 11 10 9 12 7 12 4 12 2 14-1 14-3 12-6 11-9 9-10 6-12z"/>
<path fill="#2f82fa" transform="translate(100 126)" d="M379 358l0-10-3-8-6-6-8-4-8 0-8 2-6 6-5 8 0 10 3 8 6 6 8 4 8 0 8-2 7-6zM662 648l1-14-3-12-7-12-9-9-12-7-12-4-14 0-14 3-12 6-10 9-9 12-15 25-8 9-10 7-28 12-16 9-16 16-13 18-7 16-6 18-5 20-4 22-4 50 0 74 4 28 4 12 5 10 6 10 7 8 9 8 8 5 6 3 84 0 14-7 13-9 10-10 8-12 6-14 5-18 1-18 1-30-2-66-3-26-8-46-1-12 1-8 3-8 5-8 25-22 11-12 7-12zM560 520l1-10-1-8-2-8-4-8-4-6-7-6-7-4-8-3-8-1-10 1-8 2-8 4-8 6-6 7-4 8-2 8-1 8 0 10 3 8 4 8 6 7 8 7 8 4 8 2 10 1 8-1 8-2 6-4 7-6 5-7 4-8zM758 346l0-18-3-18-7-18-10-16-14-14-16-11-18-8-18-3-18 0-18 3-18 7-16 10-14 14-11 16-8 18-3 18 0 20 3 18 7 18 11 16 13 14 14 9 18 7 20 4 20 0 18-3 18-8 16-10 13-13 10-16 8-18zM900 552l-1-14-3-12-6-12-8-10-8-8-12-7-12-4-12-2-14 0-12 3-12 5-10 8-9 9-6 10-5 12-2 14 0 14 3 12 6 12 7 10 10 10 10 6 12 5 14 2 14-1 12-3 12-5 10-8 9-10 6-10 5-12z"/>
<path fill="#2e86f7" transform="translate(104.5 131.7)" d="M376 356l0-8-3-8-5-5-8-3-8 1-6 2-6 7-2 6 0 8 3 8 5 5 8 3 8-1 6-2 6-7zM660 650l1-14-2-12-7-12-8-9-11-7-13-4-14 0-12 2-12 6-11 10-9 12-14 25-8 10-10 7-30 11-16 10-15 15-13 19-7 15-6 18-5 20-4 22-3 50 0 74 4 26 4 12 4 10 5 8 8 9 8 7 10 6 8 4 76 0 16-7 13-9 11-11 8-13 7-16 3-18 2-20 0-38-2-56-4-26-7-44-1-12 1-8 2-8 6-8 25-21 11-11 7-12zM558 520l0-16-1-8-4-8-5-7-6-5-6-4-8-3-8-1-10 1-8 2-8 5-6 4-6 7-4 7-2 8-1 8 1 10 2 8 4 7 6 7 6 5 8 4 8 3 8 1 8-1 8-2 7-4 7-6 4-6 4-8zM756 348l0-20-3-18-6-16-10-16-13-14-15-10-17-8-18-4-18-1-18 3-18 7-16 10-14 13-10 15-8 17-4 18 0 20 3 18 7 18 10 16 12 13 14 10 18 7 18 4 20 1 18-4 16-6 16-10 14-13 10-14 8-18zM898 554l0-14-3-12-6-12-7-10-9-8-11-7-12-4-12-2-12 0-12 2-12 5-11 8-9 10-6 10-4 12-2 12 0 12 2 12 6 12 6 10 10 9 10 7 12 5 12 2 14 0 12-3 12-5 10-7 9-10 6-10 5-12z"/>
<path fill="#2d8af5" transform="translate(109 137.3)" d="M374 352l-1-6-4-6-5-4-6-1-7 1-6 4-4 6-1 6 1 6 4 6 6 4 7 1 6-1 5-4 4-6zM658 650l1-14-2-12-5-10-10-10-10-6-12-4-14 0-12 2-12 7-10 9-8 12-15 26-7 9-10 7-30 11-16 9-16 15-14 21-7 16-6 18-4 20-4 22-3 50 1 72 4 26 8 20 5 8 8 9 9 7 9 6 10 4 68 0 16-7 14-9 12-11 9-13 6-16 4-20 1-20 0-42-3-54-3-24-8-44 0-18 2-8 5-8 27-22 12-12 6-10zM556 518l1-8-1-8-6-14-4-6-6-5-6-3-8-3-8 0-8 0-8 3-8 4-6 5-5 7-3 6-3 8 0 8 1 8 2 8 4 6 6 7 6 5 8 4 8 2 8 0 8-1 8-3 6-4 6-6 4-6zM754 348l1-18-3-18-6-16-10-16-13-14-15-11-16-7-18-4-18-1-18 3-16 6-16 10-14 13-11 15-7 16-4 18-1 18 3 18 7 18 10 16 13 14 14 9 16 7 18 4 18 1 18-3 18-7 14-9 14-13 11-15 7-16zM896 556l0-12-2-12-5-12-6-10-9-9-10-7-12-5-12-2-12-1-12 3-12 4-10 7-8 8-7 10-5 12-2 12 0 12 2 12 5 12 6 10 9 9 10 7 12 5 12 2 12 0 12-2 12-5 10-7 9-9 6-10 5-10z"/>
<path fill="#2c8ef1" transform="translate(113.5 143)" d="M370 356l1-6-3-6-4-4-4-2-6 0-4 2-4 4-2 4-1 6 3 6 4 4 4 2 6 0 4-2 4-4zM656 650l2-12-3-12-5-11-8-9-10-6-12-4-14 0-12 3-12 6-10 10-8 13-12 24-8 10-10 6-30 11-18 10-8 7-8 8-13 20-6 14-6 18-5 20-3 22-3 50 0 70 4 26 8 20 5 8 7 9 8 7 10 6 14 6 60 0 18-7 14-9 13-12 9-14 6-16 4-20 1-20-1-46-2-50-4-24-8-44-1-18 3-8 5-8 27-20 12-12 6-10zM554 516l0-14-3-8-4-6-5-6-6-4-6-3-8-2-14 1-8 3-6 4-6 5-4 6-3 6-2 8 1 14 3 8 3 6 6 6 6 4 6 3 8 2 14 0 8-3 6-4 6-6 4-6zM752 348l1-18-3-18-6-16-10-16-12-12-14-11-16-7-18-4-18-1-18 3-16 6-16 10-12 12-11 14-7 16-4 18-1 18 3 18 7 18 9 15 12 12 14 10 16 7 18 4 18 1 18-3 16-6 16-10 13-12 10-14 7-16zM894 558l1-12-2-12-5-12-6-10-8-9-10-7-10-4-12-3-12-1-12 2-11 4-10 6-9 8-7 10-4 10-3 12-1 12 2 12 5 12 6 10 8 9 10 7 10 4 12 3 12 1 12-2 10-4 10-6 9-8 7-10 5-10z"/>
<path fill="#2b92ee" transform="translate(118 148.7)" d="M366 356l1-4-1-4-2-3-4-2-4-1-4 2-4 4-1 4 1 4 2 3 4 2 4 1 4-2zM654 652l2-12-2-12-4-10-8-9-10-7-12-4-12-1-12 3-12 6-11 12-8 12-12 26-7 8-10 7-32 10-16 9-8 7-8 8-7 9-7 12-7 16-6 18-4 20-3 20-3 50 0 70 4 24 4 12 5 9 6 9 7 8 7 6 10 6 16 6 50 0 6-2 18-7 14-9 11-10 9-14 6-16 4-20 1-22 0-48-4-50-3-24-9-42-1-18 3-8 6-8 27-19 10-10 7-9zM552 514l-1-14-3-7-4-6-10-8-6-2-8-2-14 2-12 7-8 10-3 6-2 8 2 14 6 12 11 9 6 3 8 1 8 0 6-1 6-3 6-4 8-11zM750 350l1-18-2-16-5-16-10-16-12-14-13-10-15-7-18-5-18-1-16 2-16 5-16 10-14 12-10 13-7 15-5 18-1 18 2 18 6 16 9 15 12 14 14 10 16 7 16 4 18 1 16-2 16-5 16-9 14-13 10-13 7-15zM892 558l1-12-2-12-4-10-5-10-8-8-10-8-10-5-12-3-12 0-12 2-10 4-10 6-8 7-7 9-4 10-4 12 0 12 2 12 4 10 5 10 8 8 10 8 10 5 10 2 12 1 10-1 12-4 10-6 8-7 8-10 5-10z"/>
<path fill="#2896ec" transform="translate(122.5 154.3)" d="M358 354l1-2-1-2-2 0-1 2 1 2zM652 652l2-12-1-10-5-11-7-9-9-6-12-4-12-1-12 3-12 7-10 11-7 12-12 26-7 10-10 6-32 9-16 8-8 6-9 9-7 10-7 12-6 14-6 18-4 18-4 22-3 50 1 70 4 26 4 10 5 10 6 9 7 7 8 6 9 5 19 7 39 0 12-3 16-6 14-9 12-12 9-14 6-16 4-20 0-22 0-50-3-48-4-24-10-44-1-10 1-8 3-8 5-6 26-17 12-10 8-11zM548 522l2-14-3-12-8-10-5-4-6-3-6-1-8 0-12 3-10 8-7 11-1 6-1 8 4 12 7 10 12 7 6 2 8 0 12-3 10-8zM748 350l1-18-2-16-5-16-10-16-10-12-14-10-16-8-16-4-18-1-16 2-16 5-16 10-12 10-10 14-8 16-4 16-1 18 2 16 5 16 9 16 11 12 14 11 16 7 16 4 18 1 16-2 16-5 16-10 12-10 10-14 8-16zM890 560l1-10-1-12-4-12-5-10-7-8-10-8-10-5-10-3-12 0-10 1-10 3-10 5-9 7-7 9-6 11-2 10-1 12 1 11 4 11 5 10 7 8 10 8 10 5 10 2 12 1 10-1 10-3 10-6 8-6 8-10 5-10z"/>
<path fill="#2699e9" transform="translate(127 160)" d="M652 642l-1-10-3-10-6-8-8-7-10-4-10-2-10 1-10 3-10 7-10 11-7 13-10 26-6 8-10 6-33 9-18 9-10 8-7 8-8 10-6 12-6 14-6 18-4 20-3 20-2 50-1 48 1 20 5 24 3 10 5 10 6 8 8 8 17 11 12 4 13 3 23 0 22-5 16-7 14-10 10-10 8-14 6-16 3-20 1-26-1-52-4-44-13-66-2-10 1-8 2-6 5-7 30-18 12-11 9-14zM546 520l1-12-3-12-8-10-10-5-12-1-12 4-10 8-5 10-1 12 3 12 9 10 10 5 12 2 12-4 6-5 4-4zM746 352l2-18-2-16-5-16-8-14-11-13-14-11-14-7-16-5-18-2-16 2-16 5-14 8-13 11-11 14-7 14-5 16-2 16 2 18 5 16 8 14 11 14 12 9 16 9 16 4 18 2 16-2 16-5 14-8 12-10 11-13 8-16zM888 560l2-10-2-12-3-10-5-10-6-8-10-8-10-5-10-3-12-1-10 1-10 4-10 5-8 7-7 8-5 10-3 10-1 12 1 10 4 10 5 10 6 8 10 8 10 5 10 3 12 1 10-2 10-3 10-6 8-6 6-8 5-10z"/>
<path fill="#259de7" transform="translate(131.5 165.6)" d="M650 644l0-10-3-10-6-8-6-6-9-5-10-2-10 0-10 3-12 8-9 12-7 14-8 24-6 9-10 6-34 7-18 9-10 8-8 8-8 11-6 11-6 15-5 16-4 18-3 22-3 48 0 68 4 24 4 10 5 10 5 8 8 8 7 6 10 6 16 5 16 2 18-1 18-4 16-6 14-10 10-10 9-14 6-16 3-20 0-32 0-48-5-46-14-64-2-10 0-8 2-6 5-6 30-17 14-11 8-12zM544 518l1-12-4-10-7-8-10-5-12 0-10 3-8 8-5 10-1 12 4 10 8 9 10 4 12 1 10-4 8-8zM744 352l2-16-2-16-4-16-8-14-11-14-13-10-14-8-16-4-16-2-16 2-16 4-14 8-13 10-11 14-8 14-4 16-2 18 2 16 5 16 8 14 10 12 13 11 14 7 16 4 16 2 16-2 16-4 14-8 14-11 10-13 8-14zM886 562l2-10-1-12-3-10-4-9-6-8-8-7-10-6-10-4-10-1-10 1-10 2-10 5-8 5-8 9-5 9-3 10-2 10 1 12 3 10 4 9 6 8 8 7 10 6 10 3 10 2 10-1 10-2 10-5 9-7 7-8 5-8z"/>
<path fill="#23a0e5" transform="translate(136 171.3)" d="M648 644l0-10-2-8-5-8-7-6-8-5-10-2-10 0-10 4-11 7-9 12-6 14-8 28-4 6-4 3-6 3-36 6-18 8-10 7-9 9-7 10-8 14-5 14-6 18-6 38-3 50 0 46 1 20 4 24 8 18 6 8 8 8 8 6 9 5 14 5 16 2 18-1 18-4 16-7 12-8 10-10 9-14 6-18 3-20 1-42-1-40-5-44-4-22-12-44-1-10 0-8 2-6 4-5 30-14 14-10 10-13zM542 516l0-10-4-10-6-6-10-5-10 0-10 5-7 6-4 10 0 10 4 10 7 7 10 4 10 0 10-5 6-6zM744 340l-1-16-4-16-7-15-10-13-12-11-14-8-14-5-16-2-16 1-16 4-15 7-13 10-11 12-8 14-5 14-2 16 1 16 4 16 7 15 9 13 11 10 14 8 16 6 16 2 16-1 16-4 15-7 13-10 11-12 8-14 5-14zM886 552l0-10-3-10-4-10-6-8-9-8-8-4-10-4-10-1-10 0-10 3-9 4-8 6-7 8-5 8-4 10-1 10 0 10 3 10 4 10 6 8 9 8 8 4 10 4 10 1 10-1 10-2 8-4 9-6 7-8 5-8 3-10z"/>
<path fill="#20a4e3" transform="translate(140.5 177)" d="M646 644l0-10-3-8-5-8-6-5-8-4-10-2-10 1-8 3-12 9-8 12-6 16-4 27-4 7-10 3-38 5-10 3-8 4-10 7-10 10-8 11-7 13-6 16-5 16-6 38-3 50 0 44 1 20 5 24 8 18 6 8 7 7 16 11 14 5 16 2 18-1 18-4 16-7 12-9 11-12 8-12 5-18 3-20 0-48-1-38-2-22-3-22-5-22-13-44-2-10 0-8 1-4 4-4 30-10 16-10 6-6 6-8 2-6zM539 518l1-10-3-8-5-7-8-4-10-1-8 2-7 6-5 8 0 10 2 8 6 7 8 5 10 0 8-2 7-6zM742 344l0-16-3-16-6-14-9-13-11-11-13-9-14-6-16-3-16 0-16 3-14 6-13 9-11 11-9 13-6 14-3 16 0 16 3 16 6 14 9 14 10 10 14 9 14 6 16 3 16 0 16-3 14-6 13-9 11-11 9-13 6-14zM884 554l0-10-2-10-4-10-6-8-6-6-9-6-9-3-10-2-10 0-10 2-8 3-8 6-8 8-5 8-3 8-2 10 0 10 2 10 4 10 6 8 6 6 9 6 9 3 10 2 10 0 10-2 8-4 8-5 8-8 5-8 3-8z"/>
<path fill="#1ea7e1" transform="translate(144.9 182.6)" d="M604 904l-1-64-4-44-9-40-19-58-3-4-4-2-8-2-14 0-26 2-10 3-8 3-10 7-8 7-13 18-6 12-5 14-8 30-3 22-2 26-1 74 3 28 4 12 4 10 8 12 9 10 12 8 12 4 14 3 14 1 16-2 14-4 13-6 11-8 9-8 7-10 5-12 4-12 2-14zM536 516l0-8-2-7-6-7-6-3-8 0-8 3-6 5-3 7 0 8 2 8 6 6 7 3 8 0 8-3 6-6zM644 644l0-8-2-8-5-8-7-6-8-4-8-1-8 0-8 3-6 4-7 6-5 8-4 8-3 10-1 12 0 10 2 9 4 4 10 2 16-3 14-5 10-6 8-8 6-9zM740 346l1-16-3-14-5-14-8-14-11-11-12-9-14-6-16-4-16-1-14 3-14 5-14 8-11 11-9 12-6 14-4 16-1 16 3 16 6 14 8 13 10 11 12 8 14 7 16 3 16 1 14-3 14-5 14-8 11-11 9-12 6-14zM882 556l1-10-2-8-3-10-5-8-7-8-8-5-8-4-10-2-10-1-9 2-9 3-8 5-6 6-6 8-4 8-2 10-1 10 2 8 3 10 5 8 7 8 8 5 8 4 10 2 10 1 9-2 9-4 8-5 6-5 6-8 4-9z"/>
<path fill="#1babde" transform="translate(149.4 188.3)" d="M602 916l0-66-3-48-4-22-5-20-17-46-4-8-5-6-6-4-6-2-14-1-14 0-12 2-10 4-10 5-8 7-8 8-6 9-12 24-8 30-3 22-2 26-1 72 2 30 3 12 3 10 6 10 8 10 10 9 12 6 12 4 14 2 14-1 14-2 12-4 12-6 10-7 8-9 7-10 6-12 3-14zM532 516l1-6-1-6-4-5-6-4-6-1-7 2-5 4-3 6-1 8 2 6 4 4 6 3 6 1 6-2 5-4zM642 644l0-8-2-8-4-6-6-6-6-3-8-2-8 0-8 3-6 3-6 5-5 6-4 8-2 8-2 10 0 8 2 8 5 7 8 3 12 0 12-4 12-6 8-8 5-8zM738 348l1-16-2-14-5-14-8-14-10-11-12-9-14-7-14-3-16-1-14 2-14 5-14 8-11 10-9 12-7 14-3 14-1 16 2 14 5 14 8 14 10 11 12 9 14 7 14 3 16 1 14-2 14-5 14-8 11-10 9-12 7-14zM880 558l1-8-1-10-3-10-5-8-5-6-7-6-8-4-10-3-10-1-8 1-8 2-9 5-7 6-6 8-4 8-2 8-1 10 1 8 3 10 5 8 5 6 7 6 8 4 10 3 10 1 8-1 8-3 8-4 7-6 7-8 4-8z"/>
<path fill="#18aedb" transform="translate(153.9 193.9)" d="M600 922l1-20 0-46-3-50-4-20-4-20-7-22-8-20-5-10-6-8-6-5-6-2-12-3-14 0-12 1-12 4-10 6-8 6-8 9-6 9-11 23-8 30-3 22-2 26-1 70 2 30 3 12 4 10 6 11 8 9 9 8 11 6 12 4 12 1 12 0 14-2 12-3 12-5 10-7 9-8 7-10 6-10 4-12zM528 516l1-6-1-4-3-4-3-2-4-2-6 1-4 3-3 4-1 4 1 6 3 4 4 3 6 1 4-2 3-2zM640 644l0-8-2-6-3-6-5-5-6-4-6-1-8-1-6 1-6 3-6 4-6 7-3 6-3 8-2 8 2 14 4 8 6 3 10 2 12-3 10-4 10-8 5-8zM736 350l2-16-2-14-5-14-6-12-10-12-11-9-14-7-14-4-16-2-14 2-14 5-12 6-11 9-10 12-7 14-4 14-2 16 2 14 5 14 7 13 10 12 12 9 12 6 14 4 16 2 14-2 14-5 12-6 11-9 10-12 7-14zM878 558l1-8-1-10-2-8-4-8-6-7-8-6-8-4-8-3-10 0-8 1-8 2-8 5-6 5-6 7-4 8-2 8-1 10 1 8 2 8 4 8 6 7 8 6 8 4 8 2 10 1 8-1 8-3 8-4 6-5 6-7 4-8z"/>
<path fill="#13b1d7" transform="translate(158.4 199.6)" d="M600 892l-1-56-4-40-4-20-5-18-8-21-7-15-5-8-6-7-8-5-8-2-12-2-14 1-10 2-10 4-8 5-8 8-8 10-6 10-10 24-7 30-3 22-1 26-1 70 3 26 4 12 4 10 7 10 10 10 12 8 12 4 14 2 14 0 16-3 14-5 11-6 10-8 9-10 5-10 5-12 2-12zM523 512l-1-4-4-3-5 1-3 4 2 5 4 2 4-1zM638 642l0-6-2-6-4-6-4-4-6-3-6-1-12 1-6 3-6 4-7 10-4 14 1 12 4 7 6 5 10 1 10-1 10-5 8-7 6-8zM734 352l2-14-1-14-4-14-7-14-9-12-11-9-12-7-14-4-14-2-14 1-14 4-14 7-12 9-9 11-7 12-4 14-2 14 1 14 4 14 7 14 9 12 11 9 12 7 14 4 14 2 16-1 14-5 12-6 12-9 9-11 7-12zM876 560l1-8 0-10-2-8-4-8-5-6-6-6-8-5-8-2-8-2-8 1-8 2-8 3-7 5-5 6-5 8-3 8-1 8 0 10 2 8 4 8 5 6 6 6 8 5 8 2 8 1 8 0 8-2 8-4 6-4 6-6 5-8z"/>
<path fill="#0cb3d3" transform="translate(162.9 205.3)" d="M598 914l0-62-3-44-7-38-13-34-7-14-6-8-6-5-8-5-12-3-12-1-12 2-10 3-8 5-8 6-8 9-6 9-11 24-8 30-3 22-2 24-1 70 3 28 6 21 6 11 8 9 10 8 10 5 12 4 12 1 14 0 14-3 12-4 11-6 9-7 8-9 7-10 4-10 3-14zM635 648l1-6-1-6-4-10-9-6-6-2-6 0-11 4-9 8-4 10-2 12 2 8 5 6 7 4 8 0 10-2 8-5 7-7zM734 342l0-14-3-14-5-12-8-12-10-10-12-8-14-5-14-3-14 0-14 3-12 5-12 8-10 10-8 12-5 14-3 14 0 14 3 14 5 12 8 12 10 10 12 8 14 6 14 2 14 0 14-3 12-5 12-8 10-10 8-12 6-14zM874 560l2-8-1-8-1-8-4-8-4-6-7-6-7-5-8-3-8-1-8 1-8 2-8 3-6 5-6 6-3 6-3 8-2 8 1 8 1 8 4 8 4 6 7 6 7 5 8 2 8 2 8-1 8-2 8-4 6-4 5-6 4-6z"/>
<path fill="#05b6ce" transform="translate(167.4 210.9)" d="M596 922l1-18 0-40-2-48-7-38-5-18-6-16-7-14-6-9-6-7-8-6-10-3-12-2-12 0-12 4-8 4-8 6-8 8-6 9-7 12-5 12-7 28-4 22-2 24-1 68 2 28 6 22 5 10 8 10 9 8 10 6 10 4 12 2 12 0 14-2 12-3 11-5 10-6 8-8 8-10 5-10 4-12zM632 646l1-10-5-9-8-5-10-1-10 3-8 8-4 10 0 10 2 7 4 5 6 2 8 1 8-2 8-5 5-6zM732 344l0-14-2-14-5-12-8-12-9-10-12-8-12-5-14-3-14 0-14 2-12 5-12 8-10 9-8 12-5 12-3 14 0 14 2 14 5 12 8 12 9 10 12 8 12 5 14 3 14 0 14-2 12-5 12-8 10-9 8-12 5-12zM872 560l2-8 0-8-5-14-5-7-6-6-6-4-8-3-8-1-8 0-14 5-6 5-5 5-4 6-3 8-2 8 0 8 5 14 5 7 6 6 6 4 8 3 8 1 8-1 14-5 11-9 4-6z"/>
<path fill="#01b8c9" transform="translate(171.9 216.6)" d="M596 892l-1-54-4-38-8-34-6-16-6-14-7-11-6-7-8-6-8-4-10-2-12-1-10 2-10 4-8 5-8 7-12 17-11 24-7 30-2 22-2 24-1 68 4 28 3 10 4 10 8 11 9 9 11 7 12 4 12 2 14 0 14-3 14-5 10-5 10-8 8-10 6-10 4-12 2-12zM630 644l0-8-5-8-7-4-8-1-8 3-6 6-4 8-1 10 2 6 5 5 6 2 6 0 8-3 6-4 4-6zM730 348l1-14-2-14-4-12-7-12-8-10-10-8-12-6-14-4-14-1-14 2-12 4-12 7-10 8-8 10-6 12-4 14-1 14 2 14 4 12 7 12 8 10 10 8 12 6 14 4 14 1 14-2 12-4 12-7 10-8 8-10 6-12zM872 550l-1-8-2-8-8-12-7-5-6-3-14-3-14 2-6 3-7 6-8 12-3 14 2 14 3 6 5 7 6 5 6 4 14 3 8 0 8-3 12-7 6-7 3-6z"/>
<path fill="#02bac4" transform="translate(176.4 222.2)" d="M594 914l0-60-2-42-7-34-5-17-6-15-7-12-7-10-6-6-8-6-10-3-12-2-12 1-10 4-8 4-8 7-13 17-10 24-7 28-5 44-1 68 3 28 6 20 6 10 7 8 10 8 10 5 12 4 12 1 14-1 12-2 12-5 10-6 8-6 7-8 6-10 4-10 3-12zM728 350l1-12-1-14-3-12-6-12-9-11-10-9-12-6-12-4-12-1-14 1-12 3-12 6-11 9-9 10-6 12-4 12-1 12 1 14 4 14 6 12 8 10 10 8 12 6 12 4 12 2 14-2 12-3 12-6 12-9 8-10 6-12zM626 646l1-8-3-6-5-4-7-1-6 1-6 4-4 6-2 8 2 6 2 4 4 3 6 1 6-2 5-2 4-4zM870 552l-2-14-6-12-6-6-6-3-6-3-8-1-14 2-12 7-8 10-3 6-1 8 2 14 6 12 10 8 6 3 8 2 14-1 12-6 6-6 4-6 2-6z"/>
<path fill="#07bcbf" transform="translate(180.9 227.9)" d="M592 922l1-18 0-36-2-48-6-36-10-30-6-14-7-10-8-9-8-6-10-4-10-1-12 0-10 3-8 4-8 7-13 16-10 22-7 28-3 20-2 24-1 66 2 28 5 20 5 10 6 8 8 8 10 6 10 4 12 3 12 0 12-2 12-3 10-4 10-7 8-7 6-8 6-10 4-12zM726 350l2-12-1-14-4-12-6-12-8-10-9-8-12-7-12-3-12-2-14 1-12 4-12 6-10 8-8 9-7 12-3 12-2 12 1 14 4 12 6 12 8 10 9 8 12 7 12 3 12 2 14-1 12-4 12-6 10-8 8-9 7-12zM622 646l1-6-1-4-4-4-4-1-6 0-4 3-3 4-2 6 0 4 2 4 7 3 8-2 4-3zM868 552l0-8-2-6-6-11-5-5-6-4-13-3-12 1-12 7-8 9-3 6-1 8 0 8 2 6 6 11 5 5 7 4 12 3 12-1 12-7 8-10 3-7z"/>
<path fill="#0fbeba" transform="translate(185.4 233.6)" d="M592 902l0-54-3-38-7-34-11-28-7-12-6-8-8-7-8-5-10-3-10-1-10 1-10 3-8 5-8 7-12 17-10 23-6 28-5 44 0 66 2 26 7 20 6 10 10 10 10 7 10 4 12 3 12 0 14-2 12-4 10-5 10-7 8-8 5-8 5-10 3-12zM726 342l0-12-2-12-5-12-7-10-10-10-10-7-12-5-12-2-12 0-12 2-12 5-10 7-10 10-7 10-5 12-2 12 0 12 2 12 5 12 7 11 9 9 11 7 12 5 12 2 12 0 12-2 12-5 10-7 10-10 7-10 5-12zM616 644l0-4-4-3-4 2-2 3 0 4 4 2 4-1zM866 552l-1-12-2-6-5-6-10-8-12-3-12 1-11 6-8 10-3 12 1 12 2 6 5 6 10 8 12 3 12-1 10-6 9-10z"/>
<path fill="#19bfb5" transform="translate(189.9 239.2)" d="M590 916l1-56-3-42-6-34-9-28-6-12-7-10-8-9-8-5-10-4-10-2-10 0-10 3-8 5-8 6-12 16-10 22-6 26-3 20-2 24-1 64 2 28 5 20 6 10 7 9 8 7 10 6 10 3 12 2 12-1 12-2 12-4 10-5 8-7 8-8 5-8 4-10 3-12zM724 344l1-12-2-12-5-12-6-10-8-9-10-7-12-5-12-3-12-1-12 2-12 5-10 6-9 8-7 10-5 12-3 12-1 12 2 12 5 12 6 10 8 9 10 7 12 5 12 3 12 1 12-2 12-5 10-6 9-8 7-10 5-12zM864 550l-2-12-6-10-10-7-12-2-12 2-10 7-6 10-2 10 2 12 6 10 9 6 11 3 12-2 10-5 7-10z"/>
<path fill="#22c1b0" transform="translate(194.4 244.9)" d="M588 922l1-16 1-32-2-50-6-34-9-30-6-12-7-11-8-9-8-6-10-4-10-2-10 0-10 3-8 5-6 5-7 7-6 10-10 22-7 26-4 42-1 64 2 26 5 20 5 10 7 9 7 7 9 5 10 4 10 2 10 1 12-2 12-3 10-4 8-5 9-8 6-8 5-10 4-10zM722 346l1-12-1-12-5-12-6-10-7-8-10-8-10-5-12-3-12-1-12 1-12 5-10 6-8 7-8 10-5 10-3 12-1 12 1 12 5 12 6 10 7 8 10 8 10 5 12 3 12 1 12-1 12-5 10-6 8-7 8-10 5-10zM860 558l2-12-3-10-7-8-10-6-10-1-11 3-8 6-6 10-1 12 3 10 7 8 10 6 10 1 11-3 8-6z"/>
<path fill="#28c3aa" transform="translate(198.9 250.5)" d="M588 908l0-54-3-38-6-32-9-26-6-12-6-9-8-8-8-5-10-4-10-2-10 1-8 2-8 5-6 5-6 7-7 10-9 22-7 26-4 42-1 64 2 26 6 20 5 10 7 8 10 8 10 5 10 3 12 1 12-1 12-3 10-4 10-7 8-7 6-8 5-9 3-10 3-12zM720 348l1-10 0-12-4-12-5-10-8-10-8-7-10-5-12-4-10-1-12 0-12 4-10 5-10 8-7 8-5 10-4 12-2 12 2 12 3 10 5 10 8 10 8 7 10 6 12 3 12 2 12-2 10-3 10-5 10-8 7-8 5-10zM858 558l2-10-3-10-6-8-9-5-10-2-10 3-7 6-5 8-2 10 3 10 6 8 9 5 10 2 9-3 8-6z"/>
<path fill="#2ec4a5" transform="translate(203.3 256.2)" d="M586 918l1-52-2-42-5-32-9-28-6-12-6-10-7-8-8-7-8-4-10-2-10-1-10 3-8 4-7 5-7 8-5 8-10 22-7 26-4 42-1 62 2 26 5 20 6 10 6 8 8 7 8 5 10 4 10 1 10 0 12-1 10-3 10-5 9-6 8-8 5-8 5-10 3-10zM718 350l2-10-1-12-3-12-4-10-8-10-8-7-10-6-10-3-10-2-12 1-12 3-10 4-10 8-7 8-6 10-3 10-2 10 1 12 3 12 4 10 8 10 8 7 10 6 10 3 10 2 12-1 12-3 10-4 10-8 7-8 6-10zM856 556l1-10-3-8-6-8-8-3-10-1-8 3-6 5-4 8-1 10 3 8 6 7 8 4 8 1 8-2 8-6z"/>
<path fill="#32c69f" transform="translate(207.8 261.9)" d="M584 922l2-16 0-26-2-52-5-32-8-28-5-12-8-12-6-7-8-7-8-4-10-3-10-1-10 3-8 4-6 5-12 15-10 21-6 26-5 42-1 60 2 26 5 20 5 10 5 8 7 6 9 6 9 4 10 2 10 0 12-1 10-3 10-4 8-5 7-7 7-8 4-8 4-10zM718 340l0-12-3-10-4-10-7-9-8-8-10-6-10-4-10-1-12 0-10 3-10 4-9 7-8 8-6 10-4 10-1 10 0 12 3 10 4 10 7 10 8 7 10 6 10 4 10 1 12 0 10-3 10-4 10-7 7-8 6-10 4-10zM854 552l0-8-4-8-6-5-8-2-8 0-6 3-5 6-3 8 0 8 4 8 6 5 8 2 8 0 6-3 5-6z"/>
<path fill="#36c898" transform="translate(212.3 267.5)" d="M584 912l0-52-2-38-5-30-8-26-6-12-7-10-6-7-8-6-8-4-10-2-10 0-8 2-8 4-6 5-12 16-9 20-7 26-4 40-1 62 2 26 5 18 5 10 6 8 7 6 10 6 10 4 10 1 12 0 10-2 10-3 10-6 8-6 7-8 5-8 4-10 3-12zM716 344l1-12-2-10-4-10-5-8-7-8-9-7-10-5-10-2-12-1-10 2-10 4-8 5-8 7-7 9-5 10-2 10-1 12 2 10 4 10 5 9 7 7 9 7 10 5 10 2 12 1 10-2 10-4 8-5 8-7 7-9 5-10zM851 554l0-8-2-6-5-5-6-3-6 0-7 2-5 4-3 6 0 8 2 6 5 5 6 3 6 0 7-2 5-4z"/>
<path fill="#3cc992" transform="translate(216.8 273.2)" d="M582 920l1-16 0-30-2-46-4-32-8-26-6-12-6-10-7-8-8-6-8-5-10-2-10 0-8 2-6 3-7 6-11 14-10 20-6 26-5 40-1 62 2 24 5 20 4 8 6 8 7 7 8 5 8 4 10 2 10 0 12-1 10-3 9-4 9-6 6-6 6-8 4-8 4-10zM714 346l1-10-1-10-3-10-5-10-7-8-7-6-10-5-10-3-10-1-10 1-10 3-10 5-8 7-6 7-5 10-3 10-1 10 1 10 3 10 5 10 7 8 7 6 10 5 10 3 10 1 10-1 10-3 10-5 8-7 6-7 5-10zM847 554l1-4-1-6-3-5-5-3-5-1-6 1-4 3-3 5-1 4 1 6 3 5 5 3 5 1 6-2 4-2z"/>
<path fill="#43ca8b" transform="translate(221.3 278.8)" d="M582 900l0-48-3-34-5-28-9-24-5-10-7-10-7-7-8-5-8-4-10-1-8 0-8 3-6 4-7 6-11 16-8 20-6 26-4 40-1 60 3 24 5 18 6 10 7 8 8 6 10 4 10 3 10 0 12-1 12-4 8-4 8-6 8-8 5-8 4-10 3-10zM712 346l1-10-1-10-3-10-4-8-6-8-7-6-10-5-10-3-10-1-10 1-10 3-8 4-8 6-6 7-5 10-3 10-1 10 1 10 3 10 4 8 6 8 7 6 10 5 10 3 10 1 10-1 10-3 8-4 8-6 6-7 5-10zM842 552l0-7-2-3-4-2-6 1-4 5-1 4 1 3 2 3 4 2 6-1z"/>
<path fill="#4bcb83" transform="translate(225.8 284.5)" d="M580 914l1-48-2-38-5-30-8-26-6-12-6-10-6-7-8-6-8-4-10-2-8 0-8 2-6 4-7 5-11 15-8 19-7 26-4 40-1 58 2 24 5 18 5 10 6 8 6 6 8 5 8 3 10 2 10 0 12-2 10-3 8-5 8-6 6-6 5-8 5-10zM710 348l2-10-1-10-3-10-4-8-6-8-7-6-7-5-10-3-10-2-10 1-10 3-8 4-8 6-6 7-5 7-3 10-2 10 1 10 3 10 4 8 6 8 6 6 8 5 10 3 10 2 10-1 10-3 8-4 8-6 6-7 5-7z"/>
<path fill="#55cc7c" transform="translate(230.3 290.2)" d="M578 920l2-36-2-50-4-30-7-26-5-12-6-10-6-8-8-7-8-5-8-2-10-1-8 2-12 7-6 6-6 8-9 20-6 24-5 38-1 56 2 26 4 20 4 8 5 8 6 7 8 5 8 4 10 2 10 1 10-1 10-3 8-4 8-5 7-6 6-8 4-8zM708 348l2-8 0-10-3-10-3-8-6-8-7-6-7-5-10-3-8-2-10 0-10 3-8 3-8 6-6 7-5 7-3 10-2 8 0 10 3 10 3 8 6 8 7 6 7 5 10 3 8 2 10 0 10-3 8-3 8-6 6-7 5-7z"/>
<path fill="#5ecd74" transform="translate(234.8 295.8)" d="M578 908l0-48-2-34-4-28-8-24-6-12-6-9-6-6-8-6-8-4-8-2-8 0-8 3-12 8-10 14-9 20-6 24-4 38-1 58 2 24 5 18 5 9 6 8 8 7 8 4 8 3 10 1 10-1 10-2 10-4 8-5 7-6 6-8 4-8 4-10zM708 340l0-10-2-8-3-8-6-8-6-6-7-5-8-3-10-2-10 0-8 2-8 3-8 6-6 6-5 7-3 8-2 10 0 10 2 8 3 8 6 8 6 6 7 5 8 3 10 2 10 0 8-2 8-3 8-6 6-6 5-7 3-8z"/>
<path fill="#68cd6b" transform="translate(239.3 301.5)" d="M576 916l1-42-1-40-5-30-6-24-11-21-6-7-8-8-8-4-8-2-8-1-8 2-12 8-6 6-6 9-8 19-6 23-4 38-1 56 2 24 5 18 3 8 6 8 7 7 8 5 8 3 8 1 10 1 10-2 9-3 8-4 7-5 7-7 5-8 4-8zM706 342l0-8-1-8-2-8-5-8-6-7-7-5-8-4-9-2-8 0-8 1-8 2-8 5-7 6-5 7-4 8-2 9 0 8 1 8 2 8 5 8 6 7 7 5 8 4 9 2 8 0 8-1 8-2 8-5 7-6 5-7 4-8z"/>
<path fill="#73cd63" transform="translate(243.8 307.1)" d="M574 922l2-26-1-58-4-30-7-26-10-20-6-8-8-7-8-5-8-2-8-1-8 2-6 3-6 5-10 13-8 18-6 24-5 36 0 54 1 26 4 18 8 15 6 7 6 4 8 4 8 3 8 1 10-1 10-2 8-4 14-10 6-7 5-8zM704 342l1-8-1-8-3-8-5-8-6-6-6-5-8-3-8-2-8-1-8 1-8 3-8 5-6 6-5 6-3 8-2 8-1 8 1 8 3 8 5 8 6 6 6 5 8 3 8 2 8 1 8-1 8-3 8-5 6-6 5-6 3-8z"/>
<path fill="#7ecc5b" transform="translate(248.3 312.8)" d="M574 912l1-46-2-34-4-28-7-23-10-19-7-8-7-6-8-4-8-2-8 0-6 1-6 3-6 5-10 14-8 19-6 24-4 36 0 56 1 22 5 18 4 8 6 8 7 6 7 4 8 3 8 1 10 0 10-2 8-3 8-5 8-6 5-6 7-16zM702 344l1-8-1-8-2-8-4-7-6-7-5-4-7-4-8-2-8-1-8 1-8 2-7 4-5 4-6 7-4 7-2 8-1 8 1 8 2 8 4 7 4 5 7 6 7 4 8 2 8 1 8-1 8-2 7-4 7-6 4-5 4-7z"/>
<path fill="#89cb52" transform="translate(252.8 318.5)" d="M572 918l1-32-1-48-3-28-7-24-10-21-6-7-8-8-8-4-8-2-8 0-6 2-6 3-6 5-10 14-8 18-5 22-4 36 0 54 1 22 4 18 4 8 6 8 6 6 6 4 8 3 8 2 17-1 16-6 13-10 6-8 4-8zM700 344l1-8-1-8-2-8-4-6-10-10-6-4-8-2-8-1-8 1-8 2-6 4-10 10-4 6-2 8-1 8 1 8 2 8 4 6 10 10 6 4 8 2 8 1 8-1 8-2 6-4 10-10 4-6z"/>
<path fill="#94ca4a" transform="translate(257.3 324.1)" d="M572 902l0-44-2-30-4-24-7-22-10-18-7-8-6-4-6-4-8-2-8 0-6 2-6 3-6 5-10 14-7 18-5 22-4 36 0 54 1 22 5 17 5 9 5 7 6 5 8 5 8 2 10 1 10-1 10-3 14-8 6-6 5-8 4-8 3-10zM698 344l0-14-2-8-3-6-9-10-7-4-7-2-14 0-8 2-6 3-10 9-4 7-2 7 0 14 2 8 3 6 9 10 7 4 7 2 14 0 8-2 6-3 10-9 4-7z"/>
<path fill="#9fc942" transform="translate(261.7 329.8)" d="M570 914l1-40-1-36-4-27-6-22-10-21-6-7-6-6-6-3-8-3-8-1-6 1-11 7-10 12-8 18-5 22-4 36-1 52 1 22 4 18 4 9 5 7 6 6 7 4 14 5 8 0 10-2 8-2 8-4 12-11 4-6 4-9zM696 344l0-14-4-12-9-10-7-4-6-2-14 0-12 4-10 9-4 7-2 6 0 14 4 12 9 10 7 4 6 2 14 0 12-4 10-9 4-7z"/>
<path fill="#a9c73a" transform="translate(266.2 335.4)" d="M568 918l2-24-1-52-4-28-5-22-10-20-6-8-6-6-6-4-8-3-8-1-6 2-11 6-9 12-8 18-6 22-3 34-1 50 1 24 4 16 7 15 6 6 6 5 14 5 16 0 16-6 12-9 9-14zM694 342l0-12-5-12-9-9-12-5-12 0-12 5-9 9-5 12 0 12 5 12 9 9 12 5 12 0 12-5 9-9z"/>
<path fill="#b3c534" transform="translate(270.7 341.1)" d="M568 906l0-42-1-30-4-24-6-20-9-18-11-12-7-4-6-3-8 0-6 1-10 6-10 13-7 17-6 22-3 34-1 52 1 22 5 16 3 8 6 8 6 5 6 4 8 2 8 1 10 0 8-2 14-8 11-12 6-16zM692 342l0-12-4-10-8-9-6-3-6-2-12 0-10 4-9 8-3 6-2 6 0 12 4 10 8 9 6 3 6 2 12 0 10-4 9-8 3-6z"/>
<path fill="#bdc32e" transform="translate(275.2 346.8)" d="M566 914l1-38-1-36-4-26-5-20-9-19-6-8-6-5-6-4-6-2-8-1-6 1-10 7-10 13-7 16-5 22-3 34-1 48 1 22 4 16 8 14 5 6 6 4 6 3 8 2 16-1 15-6 11-10 8-14zM690 338l-1-10-5-10-10-8-10-2-10 1-10 5-8 10-2 10 1 10 5 10 10 8 10 2 10-1 10-5 8-10z"/>
<path fill="#c6c22a" transform="translate(279.7 352.4)" d="M564 918l2-22-1-52-3-26-6-22-8-18-6-8-6-6-6-4-7-2-7-1-6 2-10 6-9 13-7 16-5 20-3 32-1 48 1 22 4 16 7 14 5 6 6 5 6 2 8 3 14-1 14-5 12-10 8-12zM686 344l2-10-3-10-7-8-8-4-10-2-10 3-8 7-4 8-2 10 3 10 7 8 8 4 10 2 10-3 8-7z"/>
<path fill="#cfc028" transform="translate(284.2 358.1)" d="M564 908l0-40-1-30-4-24-5-19-8-17-11-12-7-4-6-2-6 0-6 1-10 7-9 12-6 16-5 22-3 32-1 48 2 20 4 16 4 8 4 6 6 6 6 3 6 2 8 2 8-1 8-2 8-3 6-5 9-10 6-14zM684 342l1-8-3-9-6-7-8-4-8-1-9 3-7 6-4 8-1 8 3 9 6 7 8 4 8 1 9-3 7-6z"/>
<path fill="#d8be28" transform="translate(288.7 363.7)" d="M562 914l1-32-1-38-3-24-5-21-8-17-10-12-6-4-6-3-8-1-6 2-10 7-8 11-6 16-5 20-3 32-1 46 2 20 3 16 8 14 10 9 6 2 8 2 14-1 14-6 10-10 6-12zM680 344l2-8-2-8-4-6-6-4-8-2-8 2-6 4-4 6-2 8 2 8 4 6 6 4 8 2 8-2 6-4z"/>
<path fill="#e0bc2a" transform="translate(293.2 369.4)" d="M560 918l2-20-1-48-3-26-4-20-8-18-10-13-6-5-6-2-6-1-6 1-10 6-8 10-6 14-5 20-4 30 0 40 0 26 4 18 6 12 9 10 12 5 14 0 14-4 10-8 8-13zM678 338l0-6-3-6-5-4-6-2-6 0-6 3-4 5-2 6 0 6 3 6 5 4 6 2 6 0 6-3 4-5z"/>
<path fill="#e7bb2e" transform="translate(297.7 375.1)" d="M560 906l0-38-1-26-3-22-5-18-7-16-10-12-10-6-6-1-6 1-10 6-7 10-7 16-4 18-3 30-1 46 1 20 3 16 8 14 10 9 6 2 8 2 14-3 12-6 10-11 5-13zM673 340l1-4-2-6-6-5-4-1-6 2-5 6-1 4 2 6 6 5 4 1 6-2z"/>
<path fill="#eeba34" transform="translate(302.2 380.7)" d="M558 912l1-32-1-34-3-22-5-20-7-16-9-11-10-6-6-1-6 1-8 5-8 10-6 14-5 20-3 28-1 42 1 22 3 16 5 12 5 6 5 4 12 5 14-1 12-5 10-9 7-12zM664 338l0-4-4 0 0 4z"/>
<path fill="#f4ba3a" transform="translate(306.7 386.4)" d="M556 916l2-20-1-44-3-24-4-20-7-16-9-12-10-6-6-1-6 1-8 5-8 10-6 15-4 18-3 28-1 42 1 20 3 16 6 12 8 8 6 3 6 2 12 0 12-4 10-9 6-10z"/>
<path fill="#fabb3d" transform="translate(311.2 392)" d="M556 900l0-34-1-24-3-20-5-16-7-15-8-10-10-5-6 0-4 0-8 6-8 11-6 16-4 19-2 30 0 46 2 18 4 12 8 11 10 6 12 1 8-2 6-2 10-8 6-10 4-12z"/>
<path fill="#febe3c" transform="translate(315.7 397.7)" d="M554 908l1-32-1-28-3-20-4-18-7-15-8-10-10-6-6 0-4 0-8 6-6 9-6 14-4 18-3 28 0 40 1 18 2 14 6 12 8 8 6 3 6 1 12-1 11-5 9-9 6-13z"/>
<path fill="#fec239" transform="translate(320.1 403.4)" d="M552 912l1-18-1-42-2-22-4-16-6-15-8-11-8-5-6-1-4 0-8 4-6 8-6 13-4 17-3 24-1 30 0 30 3 16 6 12 7 8 10 4 12 0 10-4 9-8 6-10z"/>
<path fill="#fec736" transform="translate(324.6 409)" d="M550 914l2-18-1-40-2-20-4-18-5-15-8-11-8-6-6-1-4 0-8 5-6 8-5 12-4 16-3 22-1 26 1 32 2 16 5 12 7 8 10 5 10 0 10-4 9-7 6-10z"/>
<path fill="#fdcb33" transform="translate(329.1 414.7)" d="M548 916l2-18 0-38-2-22-4-18-5-14-7-10-8-6-6-2-4 0-8 5-6 9-5 12-3 15-2 21-1 30 0 26 3 16 4 10 7 8 7 4 10 1 10-3 8-5 6-9z"/>
<path fill="#fcd030" transform="translate(333.6 420.3)" d="M548 902l-1-50-2-18-3-14-6-14-6-8-8-6-8 0-4 2-4 3-5 9-5 12-3 18-2 26-1 40 2 15 4 12 6 8 8 5 10 1 10-3 8-6 5-8 3-10z"/>
<path fill="#fad52e" transform="translate(338.1 426)" d="M546 906l0-52-2-16-4-16-4-11-6-9-8-6-8 0-6 3-6 9-4 10-4 16-2 22 0 28 0 22 2 14 5 10 7 8 8 3 10-1 9-4 7-8 4-10z"/>
<path fill="#f8da2b" transform="translate(342.6 431.7)" d="M544 908l0-50-2-18-3-14-5-14-6-8-6-4-8 0-6 4-5 8-4 10-3 14-2 22-1 34 1 16 2 12 4 9 6 6 8 4 8 0 8-4 7-7 5-10z"/>
<path fill="#f6de29" transform="translate(347.1 437.3)" d="M542 908l0-48-1-16-3-14-4-12-6-9-6-4-4-2-4 1-6 5-4 6-4 11-3 14-2 22 0 30 1 16 1 10 5 10 6 6 6 3 8-1 8-3 6-7 4-8z"/>
<path fill="#f5e327" transform="translate(351.6 443)" d="M540 906l0-44-3-28-5-12-4-8-6-5-6-1-6 4-4 5-4 10-3 13-2 18 0 24 0 22 2 12 3 8 6 7 6 3 8 0 7-4 6-6 3-8z"/>
<path fill="#f5e825" transform="translate(356.1 448.6)" d="M538 904l0-41-4-27-4-12-4-6-4-3-6-2-6 4-4 7-4 12-2 14-1 22 0 30 1 10 3 10 5 6 4 3 6 1 6-2 6-4 4-6 2-6z"/>
<path fill="#f5ec22" transform="translate(360.6 454.3)" d="M534 912l2-12 0-22-1-20-2-14-3-11-4-8-4-4-6-2-4 3-4 5-5 19-2 30 0 22 1 12 2 8 4 6 4 3 4 1 6-1 5-3 5-6z"/>
<path fill="#f6f11f" transform="translate(365.1 460)" d="M532 908l1-10 0-24-2-26-3-10-4-7-4-4-4 0-4 2-2 3-3 8-2 10-2 26 1 32 2 7 3 5 5 4 4 0 4-1 4-3 4-6z"/>
<path fill="#f7f51b" transform="translate(369.6 465.6)" d="M528 908l2-10 0-14-2-29-2-9-3-6-3-3-4-1-2 1-3 5-4 14-1 24 1 26 3 9 3 3 3 1 4 0 4-3z"/>
<path fill="#f9f916" transform="translate(374 471.3)" d="M524 904l1-18-1-23-4-12-2-2-2 0-4 7-1 10-1 18 0 18 2 6 4 4 2 0 3-2z"/>
</g></g>
<path class="ax" d="M271.2 52.3L271.2 93.4L357 128.7M357 128.7L425.1 84.1M357 128.7L355.2 129.9M339.8 121.6L338 122.8M322.7 114.6L320.8 115.8M305.5 107.5L303.7 108.7M288.4 100.5L286.5 101.7M271.2 93.4L269.4 94.6M357 128.7L359 129.5M370.6 119.8L372.7 120.6M384.2 110.9L386.3 111.7M397.9 101.9L399.9 102.8M411.5 93L413.5 93.9M425.1 84.1L427.1 84.9M271.2 93.4L268.6 93.4M271.2 79.7L268.6 79.7M271.2 66L268.6 66M271.2 52.3L268.6 52.3"/>
<text class="t" x="354.1" y="137.6" text-anchor="end">0</text>
<text class="t" x="336.9" y="130.6" text-anchor="end">20</text>
<text class="t" x="319.8" y="123.5" text-anchor="end">40</text>
<text class="t" x="302.6" y="116.5" text-anchor="end">60</text>
<text class="t" x="285.5" y="109.4" text-anchor="end">80</text>
<text class="t" x="268.3" y="102.4" text-anchor="end">100</text>
<text class="t" x="360.8" y="136.7">0</text>
<text class="t" x="374.4" y="127.8">20</text>
<text class="t" x="388" y="118.9">40</text>
<text class="t" x="401.7" y="110">60</text>
<text class="t" x="415.3" y="101.1">80</text>
<text class="t" x="428.9" y="92.1">100</text>
<text class="t" x="267" y="95.4" text-anchor="end">0</text>
<text class="t" x="267" y="81.7" text-anchor="end">50</text>
<text class="t" x="267" y="68" text-anchor="end">100</text>
<text class="t" x="267" y="54.3" text-anchor="end">150</text>
<path d="M357 128.7C357 122.2 356.9 98.8 356.9 89.7C356.9 80.6 356.9 77.9 356.8 74.3C356.7 70.7 356.5 70 356 68.1C355.5 66.2 354.4 64 353.7 62.7C353 61.4 352.1 60.9 351.8 60.1C351.6 59.4 352.1 58.5 352.2 58.2" fill="none" stroke="#de1030" stroke-width="1.4" stroke-linecap="round" stroke-linejoin="round"/>
<circle cx="356.9" cy="89.7" r="1.1" fill="none" stroke="#3c9a3c" stroke-width=".6"/>
<rect x="355.5" y="127.4" width="3" height="3" fill="#f6f000" stroke="#c8b400" stroke-width=".3"/>
<circle cx="352.4" cy="57.7" r="1.2" fill="#f8c010" stroke="#8a5a10" stroke-width=".4"/>
<text class="cap" x="356.2" y="155.5" text-anchor="middle">(b) wPSO</text>
</g>
<g>
<path class="g" d="M29.9 270.9L29.9 226.9M42 260.3L42 216.3M54.1 249.8L54.1 205.8M66.2 239.2L66.2 195.2M78.3 228.7L78.3 184.6M90.4 218.1L90.4 174.1M29.9 270.9L90.4 218.1L189.1 249.8M29.9 256.2L90.4 203.4L189.1 235.1M29.9 241.5L90.4 188.7L189.1 220.5M29.9 226.9L90.4 174.1L189.1 205.8M189.1 249.8L189.1 205.8M169.4 243.5L169.4 199.4M149.6 237.1L149.6 193.1M129.9 230.8L129.9 186.8M110.1 224.4L110.1 180.4M90.4 218.1L90.4 174.1"/>
<g filter="url(#b)"><path fill="#3e26a8" d="M128.6 302.6L29.9 270.9L90.4 218.1L189.1 249.8Z"/>
<g transform="matrix(-.0987 -.0317 .0605 -.0528 128.6 302.6)">
<path fill="#3e27aa" transform="translate(.5 .8)" d="M1000 616l0-134-7-16-14-22-17-20-18-17-34-25-6-6-5-8-5-14-5-50-7-34-7-18-7-16-9-18-9-14-20-24-24-23-26-18-32-16-18-6-22-6-20-3-22-1-20 0-22 3-22 5-20 6-22 10-20 11-18 12-18 16-14 14-13 16-12 18-17 31-7 7-5 2-6-1-36-13-22-5-24-1-24 5-12 4-12 6-20 15-10 10-8 10-11 22-7 24-1 14 0 14 2 14 4 14 5 12 7 12 15 19 18 14 10 6 14 6 40 12 5 5 3 8 0 42 8 49 0 17-4 16-21 50-10 34-6 26-4 24-4 54-2 72 1 68 5 34 4 14 7 16 384 0 6-14 5-14 4-16 3-18 1-26 0-52-2-98 2-20 3-7 4-7 8-6 10-2 50 7 18 1 16-1 26-4 28-10 16-8 14-9 14-11 12-11 11-12 10-14 10-16z"/>
<path fill="#3e27ac" transform="translate(1.1 1.8)" d="M1000 558l-1-26-4-26-10-26-12-22-12-16-15-16-18-15-34-23-7-6-5-8-4-14-3-46-6-30-9-30-15-28-20-28-23-24-26-19-14-8-18-9-22-7-22-5-22-3-22-1-24 2-22 5-20 6-20 8-18 10-18 12-16 13-14 14-12 14-10 14-11 20-15 30-4 6-4 2-4 0-6-2-26-15-18-8-14-4-14-2-18 0-18 3-18 7-14 8-12 9-11 12-9 14-7 14-4 14-3 18 1 18 3 16 5 16 10 16 11 14 14 12 12 7 14 6 16 5 30 4 6 3 3 3 2 4 0 6-2 30 1 20 2 16 9 44 0 12-3 10-21 48-12 36-8 36-6 46-3 68 1 90 2 20 3 18 6 16 6 14 353 0 8-14 6-16 4-16 2-16 1-26 0-50-2-104 4-22 8-19 4-5 6-5 10-3 10 1 30 7 20 3 20 0 20-1 16-4 16-4 16-7 14-8 18-12 14-13 13-14 12-18 8-16 8-20 5-20z"/>
<path fill="#3f28ae" transform="translate(1.9 3)" d="M990 572l2-28-3-26-8-26-13-26-13-18-17-18-20-15-36-23-7-6-5-8-3-14-2-44-5-30-9-30-15-30-10-14-11-14-11-12-14-12-14-11-16-9-16-8-16-7-16-4-18-4-18-2-18-1-18 2-18 2-32 10-22 9-22 14-18 14-17 17-13 16-13 20-10 20-13 31-6 8-4 2-6-2-30-24-12-7-12-5-12-3-12-2-22 0-16 3-12 4-12 6-12 9-10 9-9 11-7 12-5 12-3 10-2 14 0 14 2 12 3 14 5 12 7 12 8 10 17 15 18 10 12 4 14 3 38 4 4 2 3 6 0 8-4 30 0 22 4 24 9 38 1 16-5 16-23 48-12 38-9 46-5 58-1 86 1 44 2 16 4 18 6 16 6 14 333 0 7-12 6-14 4-14 3-18 2-26 1-44-1-44-2-56 0-16 2-13 4-13 6-14 6-10 8-9 4-3 6-2 12 2 28 7 16 4 28 2 18-1 16-3 18-6 18-8 18-10 14-11 14-14 11-14 10-16 7-16 6-18z"/>
<path fill="#3f29b0" transform="translate(2.7 4.5)" d="M984 566l1-26-4-26-9-26-13-24-13-16-16-16-18-13-38-22-8-7-4-6-4-14-1-46-4-30-4-16-6-16-8-16-8-14-19-26-24-23-14-10-14-8-16-8-16-6-20-6-22-3-22-1-20 1-20 3-22 6-20 9-20 11-16 11-16 14-13 14-13 16-9 16-8 16-19 53-3 5-3 2-6-3-18-21-10-10-18-13-12-6-14-4-12-3-14 0-14 1-14 4-14 6-12 8-10 9-9 10-7 12-6 14-3 12-2 12 0 14 2 12 4 14 6 12 6 10 9 10 8 7 10 7 12 7 10 3 12 3 12 1 38 0 5 2 2 4-1 8-7 36 0 24 4 26 11 40 1 8 0 8-5 16-23 46-12 36-6 24-4 24-5 54-1 90 1 46 3 18 4 16 5 14 7 14 317 0 9-16 6-16 4-16 3-20 1-22 0-44-3-96 1-20 2-12 5-13 8-16 8-13 4-6 6-5 4-1 6-1 10 2 26 8 18 5 20 2 20 0 28-5 16-6 14-6 16-10 14-11 14-14 11-14 9-16 8-16 5-18z"/>
<path fill="#402ab3" transform="translate(3.7 6.1)" d="M978 568l1-28-4-26-8-24-14-24-14-18-17-15-18-12-39-21-7-6-4-6-3-14 0-46-4-30-4-16-6-16-6-14-9-16-10-14-10-12-11-12-13-11-14-10-14-8-28-12-24-6-24-3-24 0-24 3-24 6-24 10-20 12-20 15-16 16-13 16-12 18-9 18-9 26-6 28-3 22-1 28-2 10-5 11-4 3-4 2-2 0-2-4 4-28 0-16-4-12-6-14-12-18-12-13-16-12-16-8-18-4-18-1-18 3-16 6-16 10-12 11-12 16-7 16-3 12-1 14 1 12 2 14 4 12 7 12 7 10 10 10 10 8 10 5 10 4 12 3 14 2 12 0 38-5 4 1 2 4-2 8-10 38-2 14 0 14 1 14 3 14 14 44 1 8-1 8-4 14-25 48-12 34-6 24-4 22-5 52-2 72 0 42 2 24 2 20 5 16 5 14 7 14 303 0 9-14 7-16 4-18 3-20 1-24 1-44-4-94 1-20 3-12 5-13 20-38 8-9 4-2 6-1 10 2 42 14 28 3 18 0 18-3 16-4 16-6 16-9 14-10 13-12 12-14 10-16 8-16 6-18z"/>
<path fill="#402bb6" transform="translate(5 8.1)" d="M446 360l0-16-4-16-7-16-10-14-13-13-14-9-16-6-16-4-18 0-16 4-16 6-14 10-12 12-9 14-7 16-3 16 0 16 4 18 7 16 10 14 12 12 14 9 16 6 16 3 18 0 18-3 20-8 14-8 9-9 7-14 7-18zM972 572l2-26-3-26-8-26-13-24-15-18-17-15-22-14-38-19-7-6-4-6-3-6-1-8 1-40-1-20-3-18-5-20-8-22-12-20-14-20-16-16-25-19-26-14-30-10-16-3-16-2-32 1-30 7-16 5-14 6-26 16-16 14-15 15-12 16-12 20-10 26-7 28-3 26-1 36-3 14-3 6-6 7-28 21-11 12-8 14-7 14-5 14-4 14-2 22 1 24 5 20 13 36 2 8 0 8-2 8-4 8-17 30-8 18-8 20-6 18-6 26-4 24-3 28-1 32-1 86 1 38 3 18 5 16 5 14 7 12 290 0 9-14 7-16 5-18 3-20 1-22 0-42 0-44-3-54 1-22 3-12 5-12 26-48 8-8 4-1 6 0 8 2 26 10 16 5 16 4 18 1 14 0 14-2 16-4 14-6 16-8 14-10 13-11 12-14 10-14 8-16 5-16z"/>
<path fill="#412cba" transform="translate(6.5 10.6)" d="M440 366l1-16-2-16-6-16-8-14-11-12-14-10-14-7-16-4-16-1-18 3-14 5-14 8-12 11-10 13-6 14-4 16-1 16 2 16 6 16 7 12 11 12 13 10 14 7 16 4 16 1 18-2 16-5 16-9 11-10 9-12 7-16zM968 564l0-26-4-26-10-24-14-22-14-16-16-13-20-11-39-18-7-5-4-5-3-8-1-8 2-40-1-22-2-18-6-20-8-22-12-20-13-18-16-16-24-19-14-8-14-6-28-9-30-4-30 2-16 2-16 5-26 10-26 17-18 15-16 19-15 22-10 22-6 20-4 20-1 22 0 36-2 10-2 7-9 11-29 23-14 15-8 12-6 12-5 14-3 12-3 22 2 22 6 22 14 36 2 8 0 8-5 14-19 32-8 16-8 18-6 20-6 24-4 26-4 30-2 34 0 84 2 36 2 16 4 16 6 14 8 14 277 0 10-14 7-16 5-18 3-20 1-24 0-42 0-44-3-52 1-22 3-12 5-12 30-57 4-4 4-3 4-1 6 0 50 19 18 4 16 2 16-1 14-2 14-3 14-5 16-9 14-10 14-12 11-14 10-16 7-14 5-16z"/>
<path fill="#422fc0" transform="translate(8.5 13.8)" d="M436 358l0-16-4-14-6-14-9-12-11-11-12-8-14-6-16-3-16 0-14 3-14 6-14 10-11 11-7 12-7 16-2 14 0 14 4 16 6 14 9 13 11 11 13 8 14 5 16 3 16 0 14-3 14-6 14-10 11-11 7-12 5-14zM962 566l1-26-4-26-10-24-14-22-15-16-18-13-22-12-38-15-6-4-5-6-2-6-1-10 3-38 0-20-2-20-4-18-8-22-12-22-13-18-16-17-24-18-26-14-28-8-28-4-30 1-28 6-26 11-26 16-18 16-17 19-12 20-10 22-6 20-3 20-2 20 1 38-1 8-3 8-8 10-31 24-15 16-7 10-7 12-5 12-3 14-3 22 3 22 6 22 15 34 2 8 1 8-5 14-19 30-10 20-8 18-6 18-6 24-5 30-4 30-1 34-1 82 2 36 3 16 5 16 5 12 8 14 264 0 10-14 7-16 6-18 3-20 1-26 0-56-4-84 2-20 6-18 19-36 18-36 3-4 4-3 8 0 48 22 16 4 16 3 14 0 16-1 14-3 14-4 16-7 14-9 14-12 11-12 10-14 8-16 6-16zM690 538l-4 3-4 0-12-4-11-9-1-4 0-4 6-4 6-1 8 0 6 2 4 3 3 6 1 6z"/>
<path fill="#4332c9" transform="translate(12.2 19.9)" d="M428 368l2-14-1-14-4-14-6-12-10-12-11-9-12-7-14-5-14-1-14 1-14 4-12 6-11 9-9 10-7 12-4 14-2 14 1 16 4 14 7 12 9 11 10 8 12 7 14 5 14 1 14-1 14-4 12-6 12-9 9-10 6-12zM954 566l1-26-4-24-10-24-7-12-8-10-16-16-20-13-22-10-36-11-8-4-5-6-2-6-1-8 5-40 1-22-1-18-4-20-8-22-10-20-13-19-16-17-22-17-24-12-28-9-28-4-28 2-28 6-26 11-24 16-16 15-15 18-12 20-8 20-6 20-2 18-1 20 2 38-1 8-3 8-8 10-34 24-16 16-8 10-7 12-4 12-3 12-2 22 1 12 2 12 8 22 17 32 3 8 0 6-1 6-3 8-27 40-9 16-6 16-7 18-5 20-8 46-2 32-1 36-1 60 2 28 3 20 4 18 7 16 9 14 244 0 11-14 8-16 6-18 3-22 2-26-1-58-4-82 2-20 7-18 17-30 8-16 13-37 4-8 2-2 4-2 6 2 42 24 16 7 16 4 16 2 14 0 14-1 16-4 16-6 14-8 14-11 12-12 11-14 8-16 6-16zM706 548l-3 10-4 4-5 1-10-4-33-19-11-8-4-5-2-5 0-6 1-4 3-4 4-3 14-4 24-1 10 1 6 2 7 5 3 8 2 14z"/>
<path fill="#4435d1" transform="translate(15.9 26)" d="M424 362l1-14-2-12-4-12-7-12-10-10-10-8-12-5-14-4-14 0-12 2-12 4-12 7-10 10-7 10-6 12-3 12 0 12 1 14 5 12 7 12 9 10 10 8 12 5 14 4 14 0 12-2 12-4 12-7 10-9 8-11 5-12zM948 566l1-12 0-14-4-24-5-12-6-12-8-12-8-10-16-14-20-12-22-9-40-9-8-4-4-4-2-6 0-10 7-40 2-22-1-20-3-18-8-24-10-20-13-19-16-17-20-15-24-12-26-8-28-4-26 2-26 6-26 11-22 15-16 15-14 18-12 20-8 20-4 18-2 18-1 20 3 38 0 8-3 8-4 6-5 4-34 22-18 16-8 10-7 12-5 12-3 12-2 22 2 12 3 12 9 22 19 32 3 8 0 6-1 6-3 6-29 40-9 16-7 14-7 20-6 20-7 44-3 32-2 36 0 62 1 28 3 20 6 18 7 16 10 14 228 0 11-14 9-16 6-18 3-20 2-24 0-46-1-42-4-54 2-22 6-18 20-34 10-22 7-22 5-34 2-6 2-1 6 4 25 21 15 11 24 13 16 5 16 3 16 0 16-1 16-4 18-8 16-10 12-11 12-14 9-16 8-18zM716 531l-3 47-1 7-2 2-6-2-34-25-31-18-9-6-4-5-3-5-1-6 0-8 2-6 4-6 6-4 6-2 10-2 20-1 18-1 12 1 10 4 5 7 1 10z"/>
<path fill="#4538d8" transform="translate(19.7 32.1)" d="M420 362l1-14-2-12-5-12-6-10-8-9-10-7-12-6-12-3-12 0-12 1-12 4-10 6-9 8-8 10-6 12-3 12 0 12 2 14 4 12 6 10 8 9 10 7 12 6 12 3 14 0 12-2 12-4 10-7 9-8 7-10 5-10zM944 556l-1-24-3-12-4-12-5-12-6-10-8-10-9-9-16-12-20-10-22-7-42-7-8-3-3-4-1-6 0-8 9-40 3-22 1-20-3-20-7-24-10-22-14-20-16-16-21-16-24-11-26-7-24-3-26 2-24 6-24 11-22 15-15 15-14 18-10 18-8 22-4 16-2 18 1 20 4 38-1 8-3 8-2 4-6 5-36 20-18 15-8 10-8 12-5 12-3 12-2 12 0 12 2 12 3 12 11 22 22 32 2 6 1 6-1 6-4 8-30 36-9 14-8 16-8 20-5 18-5 20-4 24-3 32-2 36 0 66 1 28 3 20 6 18 7 16 10 14 216 0 13-16 9-18 5-12 3-14 2-30 0-68-5-76 1-20 3-10 4-10 21-34 10-22 7-24 1-24-2-12-4-10-6-10-8-10-19-15-12-8-26-13-6-4-6-6-4-10 0-12 3-12 6-8 9-5 18-2 54-2 10 1 6 3 3 5 1 8-3 44 1 24 3 16 5 14 7 10 8 10 21 19 22 12 24 8 24 2 22-2 22-8 20-12 17-15 14-20 9-22z"/>
<path fill="#463cdf" transform="translate(23.4 38.2)" d="M416 364l1-12-1-12-4-12-5-10-7-8-10-8-10-6-12-3-12-1-10 1-12 3-10 6-10 8-7 8-5 10-4 12-1 12 1 12 4 12 5 10 7 8 10 8 10 6 12 3 12 1 12-1 10-3 11-6 9-8 7-8 5-10zM938 568l2-14 0-14-3-14-3-12-5-12-7-12-8-11-10-10-18-13-22-9-26-6-42-3-6-2-4-4-1-4 1-8 12-40 4-22 2-22-2-20-5-24-10-22-12-20-17-18-20-16-22-11-24-7-26-4-26 2-24 6-24 11-20 14-16 15-14 18-9 18-8 22-4 18-1 18 1 20 5 36 0 8-2 6-4 6-5 4-37 19-10 6-10 9-9 10-7 12-5 12-3 12-2 12 1 12 2 12 3 12 12 22 24 30 3 6 1 6-1 6-4 8-32 36-10 14-8 14-8 18-6 18-5 20-4 22-3 30-2 36-1 68 1 30 3 20 5 18 7 16 9 14 4 4 204 0 14-16 10-20 7-24 2-32 0-68-5-74 1-20 2-10 4-10 24-36 8-18 7-22 1-22-2-14-5-12-7-12-8-10-10-8-12-8-38-19-8-9-4-12 0-18 4-13 6-8 6-3 10-2 40-2 38-3 12 0 6 3 3 4 0 8-6 40-1 24 3 20 5 18 6 10 7 10 17 17 20 14 22 8 22 4 22-1 20-5 20-10 18-14 14-17 11-20z"/>
<path fill="#4740e4" transform="translate(27.1 44.3)" d="M414 354l-1-12-3-10-4-10-6-8-8-7-10-6-10-4-12-2-12 1-10 2-10 5-9 7-8 8-6 10-3 10-2 12 1 12 3 10 5 10 7 10 8 6 10 6 10 3 12 2 12-1 10-3 10-5 8-6 7-8 6-10 3-10zM936 554l0-14-2-14-4-12-5-12-7-11-8-10-10-10-10-8-20-10-24-7-26-2-42 3-4-1-3-2 0-4 1-6 16-40 7-24 4-24 0-22-5-26-10-24-14-22-18-20-20-14-22-10-24-7-24-2-24 2-24 7-22 10-20 14-15 16-12 16-10 20-6 20-3 18-1 16 1 20 6 38 0 8-2 7-4 5-6 4-36 16-12 7-9 7-9 10-7 10-6 12-4 14-1 14 1 12 2 12 4 12 7 12 7 10 26 30 4 6 0 6-1 6-4 6-34 34-10 14-9 14-8 16-6 18-6 20-5 24-3 30-3 38 0 68 1 30 2 20 5 18 8 16 10 14 3 4 194 0 8-8 8-10 6-10 5-12 6-26 2-30 0-68-5-72 1-20 2-10 5-10 22-34 10-18 6-22 1-22-2-12-5-12-7-12-8-10-18-14-14-7-26-12-6-4-5-5-4-12 0-22 3-17 2-5 4-4 6-4 8-1 50-2 20-2 38-6 8 0 3 1 1 2 0 6-11 38-4 26 1 26 5 22 6 12 6 10 9 10 8 8 10 7 12 7 12 5 12 4 22 2 22-2 22-8 18-11 16-15 13-19 8-20z"/>
<path fill="#4745e9" transform="translate(30.9 50.4)" d="M410 362l1-10-1-10-3-10-5-10-6-8-8-6-10-6-10-3-12-1-10 1-10 3-10 6-8 6-6 8-5 10-3 10-1 10 1 10 3 10 5 10 6 8 8 6 10 6 10 3 10 1 12-1 10-3 10-6 8-6 6-8 5-10zM794 354l1-24-3-22-7-22-10-20-13-18-18-17-18-12-22-9-22-6-24-1-22 2-22 7-22 11-18 13-16 17-13 19-6 12-5 14-3 14-2 16 1 28 8 46 0 6-1 6-3 4-5 4-41 16-12 6-10 8-9 10-8 12-6 12-3 14-1 12 2 14 3 12 5 12 6 10 9 11 28 27 4 6 1 4-1 6-6 8-36 34-11 14-9 14-9 18-7 18-6 22-5 22-4 32-2 38 0 68 1 30 4 20 6 18 8 16 12 14 184 0 12-12 10-14 6-14 4-14 3-14 1-18 0-74-5-78 1-20 2-9 4-9 24-34 9-18 6-20 1-12 0-10-2-14-5-12-7-12-9-10-9-7-10-7-12-5-27-11-6-4-4-4-3-8-2-12 1-26 2-14 2-6 3-3 8-5 12-1 42 1 24-3 34-8 14-6 8-5 7-6 7-8 15-26 11-28zM932 560l0-18-3-20-7-18-10-15-12-13-16-12-18-9-18-4-20-2-22 1-22 5-14 6-10 9-10 14-8 18-5 22-3 22 2 20 4 18 10 18 13 16 15 12 18 10 20 6 20 2 20-3 18-6 18-10 16-15 12-16 8-18z"/>
<path fill="#4849ed" transform="translate(34.6 56.5)" d="M408 358l0-10-1-10-4-10-6-8-7-8-8-5-8-4-10-2-10 0-10 1-10 4-8 5-8 7-5 8-5 10-2 10 0 10 1 10 4 10 6 8 7 8 8 5 10 4 10 2 10 0 10-2 10-4 8-5 7-8 6-8 3-8zM790 356l1-22-2-22-6-22-10-20-12-18-17-16-18-13-22-9-22-6-22-1-22 2-22 6-20 10-19 13-15 16-14 20-6 14-5 14-3 14-1 16 0 14 2 16 10 44 0 6-1 6-3 4-6 4-41 13-12 5-11 8-10 10-9 12-5 12-4 14-1 14 2 12 4 14 6 12 7 10 9 10 31 26 3 4 2 6-1 6-6 8-39 33-11 13-10 14-9 16-7 18-7 20-5 24-4 32-3 38 0 70 1 30 4 22 6 18 9 16 12 14 176 0 12-12 11-16 6-12 4-14 3-16 1-18 0-74-6-78 1-18 2-10 5-10 23-32 10-18 6-20 1-20-2-14-4-12-8-12-9-10-18-13-12-6-30-11-6-4-4-4-3-8-1-10 1-40 2-12 3-7 4-3 4-1 12-1 40 2 24-2 30-6 12-5 12-6 10-7 8-8 8-10 7-12 12-26 4-14zM928 564l1-18-2-18-6-18-9-16-12-14-14-11-16-9-18-5-20-3-20 1-20 5-16 7-12 9-9 12-8 16-6 20-3 20 1 20 4 18 8 18 13 16 14 13 18 10 18 5 18 2 20-1 18-6 18-9 14-12 13-16 9-18z"/>
<path fill="#484df0" transform="translate(38.4 62.6)" d="M406 354l-1-10-2-8-3-8-6-8-8-7-8-5-8-3-10-2-10 1-10 2-8 4-8 6-7 8-5 8-2 8-2 10 1 10 2 10 4 8 7 8 8 7 8 4 8 3 10 1 10-1 8-2 8-4 8-6 7-8 5-8 3-8zM788 340l-1-20-4-20-8-20-11-18-14-16-16-13-18-11-20-7-20-4-22-1-22 4-20 6-20 11-16 13-14 15-11 17-6 14-5 16-3 14-1 16 1 14 2 16 12 46 1 6-1 6-4 4-5 2-28 6-16 4-12 6-10 6-11 10-9 11-6 13-4 14-1 12 2 14 4 14 6 12 9 12 10 9 33 23 4 4 2 6-2 8-6 8-43 35-11 11-10 14-9 16-8 18-7 20-5 22-4 34-3 36-1 72 2 30 3 22 7 18 9 16 12 14 168 0 15-14 11-16 5-12 4-14 3-16 1-18 0-74-2-32-5-44 1-20 3-10 4-8 24-32 10-18 6-20 1-20-2-14-5-12-7-12-10-10-10-8-12-6-40-14-4-2-4-5-3-7 0-8 0-58 0-8 2-4 3-3 8-2 52 4 16-1 16-2 26-7 22-11 10-7 10-10 9-13 7-12 6-14 6-16 3-16zM926 558l0-18-3-18-7-16-10-15-13-13-15-11-16-6-18-5-20-1-18 3-18 6-14 8-12 12-9 14-7 18-4 18-1 20 3 18 5 16 10 16 13 14 16 11 16 8 18 4 18 0 18-3 18-7 16-10 13-13 10-14 8-18z"/>
<path fill="#4851f4" transform="translate(42.1 68.7)" d="M402 364l1-8 0-10-1-8-4-8-5-8-7-6-8-6-8-3-8-1-10 0-10 2-8 3-8 6-6 7-5 8-3 8-1 8 0 10 2 10 4 8 6 8 7 6 8 5 8 2 8 2 10-1 8-2 9-4 7-5 6-7 5-8zM784 350l1-22-4-22-7-20-10-18-12-16-16-14-18-11-20-9-20-4-22-1-22 3-20 7-18 9-16 12-15 16-11 18-7 14-5 16-2 16-1 18 4 28 16 50 1 6 0 5-3 3-5 2-28 2-18 3-12 4-12 6-12 9-10 12-7 14-4 14-1 14 2 14 5 14 7 12 8 10 12 10 35 20 4 4 2 6-2 10-8 10-9 8-24 16-12 10-12 12-9 12-10 16-8 18-6 18-6 22-5 32-2 40-1 72 1 30 4 22 6 18 10 16 13 14 160 0 15-14 13-18 5-12 4-14 2-16 1-18 0-74-2-30-5-46 1-18 2-10 5-10 24-31 10-17 7-20 1-20-3-14-5-12-8-12-10-10-10-7-12-6-40-12-5-3-3-4-3-10 1-42-4-42 2-4 8-2 52 7 30 0 26-6 24-9 12-8 9-8 9-10 9-12 6-12 6-14 4-14zM922 566l2-16-2-18-5-16-8-16-11-14-12-10-16-9-16-6-18-3-18 1-18 4-16 7-14 10-10 12-7 14-7 18-2 18 0 18 4 18 8 16 10 14 14 13 16 9 18 7 18 2 18-2 18-5 15-8 15-12 11-14 8-16z"/>
<path fill="#4756f6" transform="translate(45.8 74.8)" d="M400 362l1-8 0-8-2-8-4-8-5-8-6-5-8-5-8-3-8-1-10 0-8 2-8 4-8 6-5 6-4 8-3 8-1 8 0 10 3 8 4 8 6 8 6 5 8 4 8 2 8 1 8 0 8-2 8-4 8-6 5-6 5-8zM682 652l1-18-3-16-7-16-10-12-11-9-12-6-16-6-30-7-5-2-4-4-2-10 2-36-2-24-2-12-5-12-4-8-4-5-10-5-14-3-16 0-16 1-14 4-12 6-10 7-10 9-10 16-5 18-1 10 1 10 6 18 9 15 12 12 16 11 32 14 3 4 2 6-4 12-9 12-10 8-24 16-12 9-12 11-10 12-9 14-8 18-7 20-6 20-5 32-3 38-1 74 1 32 4 22 7 18 10 16 14 14 152 0 13-11 11-13 8-14 4-14 4-16 1-18 0-80-2-32-5-44 1-20 2-10 6-10 22-27 8-13 7-14zM780 358l2-24-3-24-7-22-11-20-15-18-18-14-20-11-24-7-24-2-24 3-22 7-20 11-18 15-14 18-11 20-7 24-2 26 3 26 10 30 14 30 7 9 8 6 16 6 26 6 28 3 26-1 26-6 22-11 18-14 15-18 12-24zM920 562l1-18-2-16-6-16-8-14-11-12-14-11-16-8-16-4-18-2-18 2-16 5-14 7-12 10-10 13-8 16-4 18-2 18 2 18 6 16 8 14 12 14 14 11 16 8 16 4 18 1 16-2 16-6 16-9 12-11 11-14 7-16z"/>
<path fill="#475af9" transform="translate(49.6 80.9)" d="M398 360l1-8-1-8-2-8-4-7-5-7-7-5-14-6-8-1-8 0-8 3-8 4-7 5-5 6-4 8-2 8-1 8 1 8 2 8 4 7 5 7 7 5 14 6 8 1 8 0 8-3 8-4 7-5 5-6 4-8zM680 650l1-16-3-16-8-16-10-12-12-9-12-5-16-5-30-5-6-3-3-3-2-4 0-6 3-34-1-24-3-12-3-10-5-8-6-7-10-6-12-4-14-1-14 1-14 3-12 6-10 6-10 10-10 16-3 10-2 10 0 10 2 10 7 18 10 14 12 10 16 9 32 11 5 4 1 6-2 8-3 8-11 14-9 8-27 16-12 9-12 11-10 12-9 14-9 18-6 18-5 20-6 32-3 38-1 74 2 32 4 22 7 18 10 16 14 14 145 0 15-12 11-14 8-14 4-14 3-16 2-18-1-78-2-32-5-46 1-20 3-10 4-8 23-28 10-14 5-12zM778 352l1-24-4-22-8-22-11-18-16-17-18-14-22-10-22-5-24-1-22 4-22 8-18 11-17 16-14 18-10 22-5 22-1 24 4 26 10 26 13 24 10 11 12 8 22 8 24 5 26 1 24-3 22-7 20-11 16-14 14-20 10-22zM918 558l0-16-2-16-7-16-9-14-12-12-12-9-16-7-16-4-18 0-16 2-16 6-14 8-10 10-10 14-7 16-3 16-1 18 3 16 5 16 9 14 12 13 14 10 16 7 16 3 16 1 16-3 16-6 14-9 12-12 10-14 7-16z"/>
<path fill="#465efb" transform="translate(53.3 87)" d="M396 360l1-8-1-8-2-8-4-6-10-11-6-3-8-3-8-1-8 1-8 2-6 3-6 5-6 7-4 6-2 8-1 8 1 8 2 8 4 6 5 6 7 6 6 3 8 2 8 1 8-1 8-3 6-3 10-11 4-6zM678 648l0-18-4-16-8-14-12-12-12-7-14-6-16-3-30-3-6-2-2-3-1-8 6-38 0-20-2-12-5-12-4-8-8-8-8-5-12-5-12-1-14 1-12 2-12 5-10 7-10 9-6 9-4 8-3 10-2 10 1 10 2 10 3 10 5 8 10 12 14 11 18 8 33 7 4 4 1 4-2 8-5 12-7 10-6 8-10 8-28 17-12 8-12 11-10 12-9 14-8 16-7 18-5 20-5 32-4 38-1 74 2 32 4 22 8 20 11 16 13 12 139 0 15-12 13-16 7-14 4-14 3-16 1-18 0-78-2-30-6-48 1-20 2-8 6-10 22-26 10-14 7-14zM776 346l0-22-5-22-8-20-14-20-16-16-19-12-20-8-22-4-22 0-22 5-20 8-20 14-16 16-12 19-8 20-4 22 0 24 5 24 10 24 13 21 12 11 16 9 22 7 24 4 24 0 24-5 20-8 18-12 15-15 13-20 8-22zM916 556l0-16-4-16-5-14-10-14-11-11-14-9-16-7-16-3-16 0-16 3-14 6-14 9-10 10-9 14-6 16-3 16 0 16 3 16 6 16 9 13 11 11 13 9 16 7 16 3 16 0 16-3 16-7 13-9 12-12 9-14 5-14z"/>
<path fill="#4562fc" transform="translate(57 93.1)" d="M394 358l0-14-3-8-3-6-6-6-5-4-13-5-14 0-8 2-6 4-6 5-5 6-3 6-2 8 0 14 3 8 3 6 6 6 6 5 6 2 8 2 14 0 8-3 6-4 9-10 3-6zM676 646l0-18-5-16-5-8-6-7-14-12-16-7-18-3-22-1-26 2-4 3-18 35-13 18-11 9-28 16-14 10-14 13-12 16-9 16-8 20-6 22-4 22-3 24-2 28-1 78 3 30 2 14 4 12 6 12 7 10 8 8 9 8 132 0 18-14 12-16 6-12 5-14 3-16 1-20-1-78-2-30-5-46 0-20 3-10 5-8 24-28 10-14 6-14zM576 524l1-14-1-12-2-12-4-10-6-9-7-7-9-5-10-4-12-1-14 1-12 3-12 5-10 7-9 10-6 10-4 12-1 12 1 12 3 12 6 12 9 10 11 9 12 6 12 4 12 1 14 1 16-1 6-2 4-8 6-16zM772 356l2-22-3-22-6-20-11-20-14-16-18-15-20-10-20-5-22-2-22 3-20 6-20 11-16 14-15 18-10 20-5 20-2 22 3 24 8 24 11 21 12 15 14 10 18 9 22 5 24 2 22-2 22-6 20-11 16-13 14-18 10-20zM914 552l-1-16-4-16-7-14-10-12-12-11-14-8-14-4-16-3-16 1-16 4-14 7-11 8-10 12-8 14-5 14-2 16 0 16 4 16 7 14 9 12 12 11 14 9 14 5 16 2 16-1 14-3 15-7 13-10 11-12 8-14 5-14z"/>
<path fill="#4367fd" transform="translate(60.8 99.1)" d="M392 358l0-14-5-12-5-5-6-5-12-5-14 0-8 3-6 3-5 5-5 6-4 12 0 14 6 13 10 9 6 3 8 2 14 0 12-6 5-5 5-6zM674 646l0-16-5-16-9-14-11-10-15-8-16-4-20-1-18 2-10 4-8 6-7 9-17 28-10 12-10 7-28 15-14 10-14 14-12 16-9 18-7 18-5 20-5 24-2 24-2 28-1 78 3 30 3 12 4 12 6 10 7 10 8 9 9 7 125 0 18-13 14-17 7-14 4-14 3-16 1-18-1-78-2-32-6-46 1-20 3-10 5-8 24-26 10-14 6-14zM574 520l1-12-2-12-3-12-5-10-6-8-8-6-9-4-10-3-12-1-12 2-12 4-10 5-10 8-7 9-5 10-3 12-1 12 2 12 4 12 7 10 9 9 10 7 12 6 12 2 12 1 12-1 10-3 6-4 6-7 6-12 4-12zM770 354l2-22-3-20-7-20-11-20-14-16-17-13-20-10-20-5-22-1-20 2-20 7-20 11-16 14-13 17-10 20-5 20-2 22 3 22 7 22 12 21 12 14 14 11 18 8 22 6 24 2 22-3 20-6 20-11 16-14 13-18 10-20zM910 566l2-14-1-16-4-14-7-14-9-12-11-10-14-8-14-5-16-2-16 0-14 4-14 6-11 9-9 10-9 14-5 14-2 16 1 16 3 14 6 14 10 13 12 11 14 8 14 5 16 2 16-1 14-4 14-7 12-10 10-11 8-14z"/>
<path fill="#416bfe" transform="translate(64.5 105.2)" d="M390 358l0-12-5-12-9-10-12-5-8-1-6 1-12 5-9 10-5 12 0 8 0 6 6 12 10 9 12 4 12 0 12-5 9-10zM672 646l0-16-4-14-7-12-11-11-14-8-16-5-18-1-16 2-12 5-10 7-8 11-17 26-9 10-10 8-28 14-14 10-15 14-12 18-8 16-8 20-5 22-4 22-4 52-1 78 4 30 7 22 6 10 8 10 8 8 8 6 119 0 9-6 10-8 8-8 7-10 6-12 4-14 3-16 1-20-1-80-3-30-6-46 1-18 3-10 4-8 25-26 10-14 7-14zM572 516l0-12-2-10-3-10-5-10-8-8-8-6-10-3-10-2-12 0-10 2-12 5-9 6-8 8-6 8-4 10-3 12 0 12 3 10 4 10 7 10 8 8 10 7 12 4 12 3 12 0 10-2 8-3 8-7 6-8 5-10 3-12zM768 352l1-22-3-20-7-20-11-18-14-15-16-12-20-10-20-5-22-1-20 3-20 7-18 11-15 14-12 16-10 20-5 20-1 22 3 22 7 20 12 20 12 14 15 11 18 8 22 5 22 1 22-3 20-7 18-10 16-15 12-16 9-20zM908 564l2-14-1-14-4-14-7-14-10-12-10-9-14-8-14-4-14-2-16 1-14 3-14 7-12 10-9 10-7 14-4 14-2 16 1 14 4 14 7 14 10 12 10 9 14 8 14 4 14 2 16-1 14-5 14-7 12-10 8-10 8-14z"/>
<path fill="#3e70ff" transform="translate(68.2 111.3)" d="M388 356l-1-12-2-6-4-6-9-8-12-3-12 1-10 5-8 9-4 12 1 12 2 6 4 6 9 8 12 3 12-1 10-5 8-9zM670 646l0-14-4-15-8-13-10-10-12-7-16-5-16-1-16 3-12 5-12 9-7 10-17 26-9 10-9 6-28 14-15 10-14 14-13 18-9 18-6 18-6 22-4 22-4 52 0 76 4 30 7 22 6 10 8 10 8 7 10 7 111 0 11-7 10-8 9-9 6-10 6-12 4-14 3-16 1-20-1-78-3-30-6-48 0-18 3-10 5-8 25-25 10-13 7-14zM568 526l2-12 0-10-2-10-4-10-4-8-8-8-8-5-8-4-10-2-12 0-10 2-10 4-10 7-8 8-5 8-5 10-2 10 1 12 2 10 4 10 7 9 8 8 10 6 10 4 10 2 12 0 10-2 10-5 7-6 6-8 5-10zM766 350l1-22-4-20-7-18-11-18-15-16-16-11-18-8-20-5-22-1-20 4-18 7-18 11-16 15-11 16-8 18-5 20-1 20 4 22 8 22 11 18 12 13 16 11 18 8 20 4 22 1 20-3 20-7 18-11 15-14 11-16 9-20zM906 564l2-14-1-14-4-14-7-13-9-11-11-10-12-7-14-4-14-2-16 1-14 4-12 6-12 9-9 11-7 12-4 14-2 16 1 14 4 14 6 12 10 12 11 10 12 6 14 5 14 2 16-2 14-4 12-6 12-10 9-11 7-12z"/>
<path fill="#3974fe" transform="translate(72 117.4)" d="M386 356l-1-12-5-10-8-7-10-4-12 1-10 4-8 9-4 11 1 12 5 10 10 8 10 3 12-1 10-6 7-8zM668 646l0-14-4-14-7-12-10-10-13-8-14-4-16 0-14 2-12 5-11 9-9 11-16 25-9 10-9 7-28 13-16 11-16 15-12 18-8 16-7 20-5 20-3 22-4 52 0 78 4 28 4 12 4 10 7 10 6 8 10 8 9 6 104 0 13-7 10-8 8-9 8-12 7-14 3-14 2-16 1-20-1-76-3-30-7-46 0-12 1-8 2-8 5-8 26-26 10-12 7-14zM566 524l2-12-1-10-2-10-3-8-6-8-6-6-8-6-8-3-10-1-10 0-10 2-10 4-9 6-8 8-5 8-4 10-2 10 1 10 2 10 5 10 6 8 8 8 8 4 10 4 12 2 10 0 10-2 8-4 7-6 6-8 5-10zM764 348l1-20-4-20-8-20-11-16-14-15-16-11-18-8-20-4-20-1-20 4-20 8-16 11-15 14-11 16-8 18-4 20-1 20 4 20 7 20 11 18 13 14 16 10 18 8 20 4 22 1 20-4 20-8 16-10 14-13 12-18 8-18zM904 564l2-14-1-14-4-14-7-12-8-11-11-9-11-6-14-5-14-2-14 1-14 3-12 6-12 9-9 10-7 12-4 14-2 14 1 14 4 14 5 12 9 12 11 9 12 7 14 5 14 2 14-1 14-4 12-6 12-9 9-11 7-12z"/>
<path fill="#3579fd" transform="translate(75.7 123.5)" d="M384 354l-1-10-5-9-8-7-10-3-10 1-10 5-7 9-3 10 1 10 6 10 9 7 10 2 10-1 9-6 6-8zM666 648l0-14-3-14-7-12-9-10-13-8-14-4-14 0-15 2-13 6-10 8-9 12-16 26-9 10-10 6-28 13-14 9-16 15-13 19-7 16-7 18-5 20-4 24-4 52 0 76 5 28 3 12 5 10 7 10 7 8 7 6 10 7 2 1 98 0 12-7 12-9 10-10 6-10 7-14 3-14 2-16 1-22-1-76-3-28-7-48 0-18 3-10 5-8 25-24 10-12 7-12zM564 524l1-10 0-10-2-10-3-8-5-8-7-7-8-5-8-3-10-1-10 0-10 3-8 3-8 6-6 6-6 8-4 10-1 10 0 10 2 10 4 8 6 8 7 7 8 5 10 4 10 2 10 0 10-3 8-4 7-5 6-8 4-8zM762 348l0-20-3-20-7-18-11-16-13-14-16-11-18-9-20-4-20 0-20 3-18 7-16 11-14 13-11 16-9 18-4 20 0 20 3 20 8 20 10 16 13 14 14 10 18 8 20 4 20 1 20-3 18-7 18-11 15-14 11-16 8-18zM902 564l2-12-1-14-4-14-6-12-7-10-12-10-12-7-12-4-14-2-14 1-14 3-12 6-11 9-9 10-6 12-4 12-2 14 1 14 4 14 6 12 7 10 12 10 12 7 12 4 14 2 14-1 14-4 11-6 11-8 9-10 7-12z"/>
<path fill="#317dfb" transform="translate(79.5 129.6)" d="M380 360l2-10-3-10-7-8-8-4-10-1-8 3-8 6-4 8-2 10 3 10 7 8 8 4 10 1 8-3 8-6zM664 648l1-14-3-12-6-12-10-10-12-7-14-5-14 0-14 2-12 6-12 10-8 11-15 25-9 10-10 7-28 12-16 10-15 15-13 19-7 15-7 18-5 22-3 22-4 52 0 74 4 28 4 12 5 10 7 10 6 7 8 7 10 6 3 2 91 0 14-7 12-9 9-10 8-12 6-14 4-14 2-18 0-22-1-74-3-28-8-48 1-18 3-10 5-7 25-23 10-12 7-12zM562 522l1-10 0-8-2-10-4-8-5-7-6-6-8-5-8-3-8-1-10 0-10 3-8 4-8 6-6 6-5 9-3 8-1 8 0 10 3 10 4 8 6 8 7 6 7 4 10 4 10 1 10 0 8-3 8-4 6-5 5-7 4-8zM760 346l0-20-3-18-8-18-10-16-14-14-17-11-18-8-18-3-20 0-18 3-18 8-16 10-14 14-11 17-8 18-3 18 0 20 4 20 7 18 11 17 12 12 16 10 18 8 20 3 20 0 18-3 18-7 16-11 14-13 10-16 8-18zM900 564l2-12-1-14-3-12-6-12-8-11-10-9-12-7-12-4-12-2-14 0-14 4-12 5-10 8-9 10-7 12-4 12-2 12 0 14 4 14 6 12 8 11 10 9 12 7 12 4 12 2 14-1 14-3 12-6 11-9 9-10 6-12z"/>
<path fill="#2f82fa" transform="translate(83.2 135.7)" d="M379 358l0-10-3-8-6-6-8-4-8 0-8 2-6 6-5 8 0 10 3 8 6 6 8 4 8 0 8-2 7-6zM662 648l1-14-3-12-7-12-9-9-12-7-12-4-14 0-14 3-12 6-10 9-9 12-15 25-8 9-10 7-28 12-16 9-16 16-13 18-7 16-6 18-5 20-4 22-4 50 0 74 4 28 4 12 5 10 6 10 7 8 9 8 8 5 6 3 84 0 14-7 13-9 10-10 8-12 6-14 5-18 1-18 1-30-2-66-3-26-8-46-1-12 1-8 3-8 5-8 25-22 11-12 7-12zM560 520l1-10-1-8-2-8-4-8-4-6-7-6-7-4-8-3-8-1-10 1-8 2-8 4-8 6-6 7-4 8-2 8-1 8 0 10 3 8 4 8 6 7 8 7 8 4 8 2 10 1 8-1 8-2 6-4 7-6 5-7 4-8zM758 346l0-18-3-18-7-18-10-16-14-14-16-11-18-8-18-3-18 0-18 3-18 7-16 10-14 14-11 16-8 18-3 18 0 20 3 18 7 18 11 16 13 14 14 9 18 7 20 4 20 0 18-3 18-8 16-10 13-13 10-16 8-18zM900 552l-1-14-3-12-6-12-8-10-8-8-12-7-12-4-12-2-14 0-12 3-12 5-10 8-9 9-6 10-5 12-2 14 0 14 3 12 6 12 7 10 10 10 10 6 12 5 14 2 14-1 12-3 12-5 10-8 9-10 6-10 5-12z"/>
<path fill="#2e86f7" transform="translate(86.9 141.8)" d="M376 356l0-8-3-8-5-5-8-3-8 1-6 2-6 7-2 6 0 8 3 8 5 5 8 3 8-1 6-2 6-7zM660 650l1-14-2-12-7-12-8-9-11-7-13-4-14 0-12 2-12 6-11 10-9 12-14 25-8 10-10 7-30 11-16 10-15 15-13 19-7 15-6 18-5 20-4 22-3 50 0 74 4 26 4 12 4 10 5 8 8 9 8 7 10 6 8 4 76 0 16-7 13-9 11-11 8-13 7-16 3-18 2-20 0-38-2-56-4-26-7-44-1-12 1-8 2-8 6-8 25-21 11-11 7-12zM558 520l0-16-1-8-4-8-5-7-6-5-6-4-8-3-8-1-10 1-8 2-8 5-6 4-6 7-4 7-2 8-1 8 1 10 2 8 4 7 6 7 6 5 8 4 8 3 8 1 8-1 8-2 7-4 7-6 4-6 4-8zM756 348l0-20-3-18-6-16-10-16-13-14-15-10-17-8-18-4-18-1-18 3-18 7-16 10-14 13-10 15-8 17-4 18 0 20 3 18 7 18 10 16 12 13 14 10 18 7 18 4 20 1 18-4 16-6 16-10 14-13 10-14 8-18zM898 554l0-14-3-12-6-12-7-10-9-8-11-7-12-4-12-2-12 0-12 2-12 5-11 8-9 10-6 10-4 12-2 12 0 12 2 12 6 12 6 10 10 9 10 7 12 5 12 2 14 0 12-3 12-5 10-7 9-10 6-10 5-12z"/>
<path fill="#2d8af5" transform="translate(90.7 147.9)" d="M374 352l-1-6-4-6-5-4-6-1-7 1-6 4-4 6-1 6 1 6 4 6 6 4 7 1 6-1 5-4 4-6zM658 650l1-14-2-12-5-10-10-10-10-6-12-4-14 0-12 2-12 7-10 9-8 12-15 26-7 9-10 7-30 11-16 9-16 15-14 21-7 16-6 18-4 20-4 22-3 50 1 72 4 26 8 20 5 8 8 9 9 7 9 6 10 4 68 0 16-7 14-9 12-11 9-13 6-16 4-20 1-20 0-42-3-54-3-24-8-44 0-18 2-8 5-8 27-22 12-12 6-10zM556 518l1-8-1-8-6-14-4-6-6-5-6-3-8-3-8 0-8 0-8 3-8 4-6 5-5 7-3 6-3 8 0 8 1 8 2 8 4 6 6 7 6 5 8 4 8 2 8 0 8-1 8-3 6-4 6-6 4-6zM754 348l1-18-3-18-6-16-10-16-13-14-15-11-16-7-18-4-18-1-18 3-16 6-16 10-14 13-11 15-7 16-4 18-1 18 3 18 7 18 10 16 13 14 14 9 16 7 18 4 18 1 18-3 18-7 14-9 14-13 11-15 7-16zM896 556l0-12-2-12-5-12-6-10-9-9-10-7-12-5-12-2-12-1-12 3-12 4-10 7-8 8-7 10-5 12-2 12 0 12 2 12 5 12 6 10 9 9 10 7 12 5 12 2 12 0 12-2 12-5 10-7 9-9 6-10 5-10z"/>
<path fill="#2c8ef1" transform="translate(94.4 154)" d="M370 356l1-6-3-6-4-4-4-2-6 0-4 2-4 4-2 4-1 6 3 6 4 4 4 2 6 0 4-2 4-4zM656 650l2-12-3-12-5-11-8-9-10-6-12-4-14 0-12 3-12 6-10 10-8 13-12 24-8 10-10 6-30 11-18 10-8 7-8 8-13 20-6 14-6 18-5 20-3 22-3 50 0 70 4 26 8 20 5 8 7 9 8 7 10 6 14 6 60 0 18-7 14-9 13-12 9-14 6-16 4-20 1-20-1-46-2-50-4-24-8-44-1-18 3-8 5-8 27-20 12-12 6-10zM554 516l0-14-3-8-4-6-5-6-6-4-6-3-8-2-14 1-8 3-6 4-6 5-4 6-3 6-2 8 1 14 3 8 3 6 6 6 6 4 6 3 8 2 14 0 8-3 6-4 6-6 4-6zM752 348l1-18-3-18-6-16-10-16-12-12-14-11-16-7-18-4-18-1-18 3-16 6-16 10-12 12-11 14-7 16-4 18-1 18 3 18 7 18 9 15 12 12 14 10 16 7 18 4 18 1 18-3 16-6 16-10 13-12 10-14 7-16zM894 558l1-12-2-12-5-12-6-10-8-9-10-7-10-4-12-3-12-1-12 2-11 4-10 6-9 8-7 10-4 10-3 12-1 12 2 12 5 12 6 10 8 9 10 7 10 4 12 3 12 1 12-2 10-4 10-6 9-8 7-10 5-10z"/>
<path fill="#2b92ee" transform="translate(98.1 160.1)" d="M366 356l1-4-1-4-2-3-4-2-4-1-4 2-4 4-1 4 1 4 2 3 4 2 4 1 4-2zM654 652l2-12-2-12-4-10-8-9-10-7-12-4-12-1-12 3-12 6-11 12-8 12-12 26-7 8-10 7-32 10-16 9-8 7-8 8-7 9-7 12-7 16-6 18-4 20-3 20-3 50 0 70 4 24 4 12 5 9 6 9 7 8 7 6 10 6 16 6 50 0 6-2 18-7 14-9 11-10 9-14 6-16 4-20 1-22 0-48-4-50-3-24-9-42-1-18 3-8 6-8 27-19 10-10 7-9zM552 514l-1-14-3-7-4-6-10-8-6-2-8-2-14 2-12 7-8 10-3 6-2 8 2 14 6 12 11 9 6 3 8 1 8 0 6-1 6-3 6-4 8-11zM750 350l1-18-2-16-5-16-10-16-12-14-13-10-15-7-18-5-18-1-16 2-16 5-16 10-14 12-10 13-7 15-5 18-1 18 2 18 6 16 9 15 12 14 14 10 16 7 16 4 18 1 16-2 16-5 16-9 14-13 10-13 7-15zM892 558l1-12-2-12-4-10-5-10-8-8-10-8-10-5-12-3-12 0-12 2-10 4-10 6-8 7-7 9-4 10-4 12 0 12 2 12 4 10 5 10 8 8 10 8 10 5 10 2 12 1 10-1 12-4 10-6 8-7 8-10 5-10z"/>
<path fill="#2896ec" transform="translate(101.9 166.2)" d="M358 354l1-2-1-2-2 0-1 2 1 2zM652 652l2-12-1-10-5-11-7-9-9-6-12-4-12-1-12 3-12 7-10 11-7 12-12 26-7 10-10 6-32 9-16 8-8 6-9 9-7 10-7 12-6 14-6 18-4 18-4 22-3 50 1 70 4 26 4 10 5 10 6 9 7 7 8 6 9 5 19 7 39 0 12-3 16-6 14-9 12-12 9-14 6-16 4-20 0-22 0-50-3-48-4-24-10-44-1-10 1-8 3-8 5-6 26-17 12-10 8-11zM548 522l2-14-3-12-8-10-5-4-6-3-6-1-8 0-12 3-10 8-7 11-1 6-1 8 4 12 7 10 12 7 6 2 8 0 12-3 10-8zM748 350l1-18-2-16-5-16-10-16-10-12-14-10-16-8-16-4-18-1-16 2-16 5-16 10-12 10-10 14-8 16-4 16-1 18 2 16 5 16 9 16 11 12 14 11 16 7 16 4 18 1 16-2 16-5 16-10 12-10 10-14 8-16zM890 560l1-10-1-12-4-12-5-10-7-8-10-8-10-5-10-3-12 0-10 1-10 3-10 5-9 7-7 9-6 11-2 10-1 12 1 11 4 11 5 10 7 8 10 8 10 5 10 2 12 1 10-1 10-3 10-6 8-6 8-10 5-10z"/>
<path fill="#2699e9" transform="translate(105.6 172.3)" d="M652 642l-1-10-3-10-6-8-8-7-10-4-10-2-10 1-10 3-10 7-10 11-7 13-10 26-6 8-10 6-33 9-18 9-10 8-7 8-8 10-6 12-6 14-6 18-4 20-3 20-2 50-1 48 1 20 5 24 3 10 5 10 6 8 8 8 17 11 12 4 13 3 23 0 22-5 16-7 14-10 10-10 8-14 6-16 3-20 1-26-1-52-4-44-13-66-2-10 1-8 2-6 5-7 30-18 12-11 9-14zM546 520l1-12-3-12-8-10-10-5-12-1-12 4-10 8-5 10-1 12 3 12 9 10 10 5 12 2 12-4 6-5 4-4zM746 352l2-18-2-16-5-16-8-14-11-13-14-11-14-7-16-5-18-2-16 2-16 5-14 8-13 11-11 14-7 14-5 16-2 16 2 18 5 16 8 14 11 14 12 9 16 9 16 4 18 2 16-2 16-5 14-8 12-10 11-13 8-16zM888 560l2-10-2-12-3-10-5-10-6-8-10-8-10-5-10-3-12-1-10 1-10 4-10 5-8 7-7 8-5 10-3 10-1 12 1 10 4 10 5 10 6 8 10 8 10 5 10 3 12 1 10-2 10-3 10-6 8-6 6-8 5-10z"/>
<path fill="#259de7" transform="translate(109.3 178.4)" d="M650 644l0-10-3-10-6-8-6-6-9-5-10-2-10 0-10 3-12 8-9 12-7 14-8 24-6 9-10 6-34 7-18 9-10 8-8 8-8 11-6 11-6 15-5 16-4 18-3 22-3 48 0 68 4 24 4 10 5 10 5 8 8 8 7 6 10 6 16 5 16 2 18-1 18-4 16-6 14-10 10-10 9-14 6-16 3-20 0-32 0-48-5-46-14-64-2-10 0-8 2-6 5-6 30-17 14-11 8-12zM544 518l1-12-4-10-7-8-10-5-12 0-10 3-8 8-5 10-1 12 4 10 8 9 10 4 12 1 10-4 8-8zM744 352l2-16-2-16-4-16-8-14-11-14-13-10-14-8-16-4-16-2-16 2-16 4-14 8-13 10-11 14-8 14-4 16-2 18 2 16 5 16 8 14 10 12 13 11 14 7 16 4 16 2 16-2 16-4 14-8 14-11 10-13 8-14zM886 562l2-10-1-12-3-10-4-9-6-8-8-7-10-6-10-4-10-1-10 1-10 2-10 5-8 5-8 9-5 9-3 10-2 10 1 12 3 10 4 9 6 8 8 7 10 6 10 3 10 2 10-1 10-2 10-5 9-7 7-8 5-8z"/>
<path fill="#23a0e5" transform="translate(113.1 184.5)" d="M648 644l0-10-2-8-5-8-7-6-8-5-10-2-10 0-10 4-11 7-9 12-6 14-8 28-4 6-4 3-6 3-36 6-18 8-10 7-9 9-7 10-8 14-5 14-6 18-6 38-3 50 0 46 1 20 4 24 8 18 6 8 8 8 8 6 9 5 14 5 16 2 18-1 18-4 16-7 12-8 10-10 9-14 6-18 3-20 1-42-1-40-5-44-4-22-12-44-1-10 0-8 2-6 4-5 30-14 14-10 10-13zM542 516l0-10-4-10-6-6-10-5-10 0-10 5-7 6-4 10 0 10 4 10 7 7 10 4 10 0 10-5 6-6zM744 340l-1-16-4-16-7-15-10-13-12-11-14-8-14-5-16-2-16 1-16 4-15 7-13 10-11 12-8 14-5 14-2 16 1 16 4 16 7 15 9 13 11 10 14 8 16 6 16 2 16-1 16-4 15-7 13-10 11-12 8-14 5-14zM886 552l0-10-3-10-4-10-6-8-9-8-8-4-10-4-10-1-10 0-10 3-9 4-8 6-7 8-5 8-4 10-1 10 0 10 3 10 4 10 6 8 9 8 8 4 10 4 10 1 10-1 10-2 8-4 9-6 7-8 5-8 3-10z"/>
<path fill="#20a4e3" transform="translate(116.8 190.6)" d="M646 644l0-10-3-8-5-8-6-5-8-4-10-2-10 1-8 3-12 9-8 12-6 16-4 27-4 7-10 3-38 5-10 3-8 4-10 7-10 10-8 11-7 13-6 16-5 16-6 38-3 50 0 44 1 20 5 24 8 18 6 8 7 7 16 11 14 5 16 2 18-1 18-4 16-7 12-9 11-12 8-12 5-18 3-20 0-48-1-38-2-22-3-22-5-22-13-44-2-10 0-8 1-4 4-4 30-10 16-10 6-6 6-8 2-6zM539 518l1-10-3-8-5-7-8-4-10-1-8 2-7 6-5 8 0 10 2 8 6 7 8 5 10 0 8-2 7-6zM742 344l0-16-3-16-6-14-9-13-11-11-13-9-14-6-16-3-16 0-16 3-14 6-13 9-11 11-9 13-6 14-3 16 0 16 3 16 6 14 9 14 10 10 14 9 14 6 16 3 16 0 16-3 14-6 13-9 11-11 9-13 6-14zM884 554l0-10-2-10-4-10-6-8-6-6-9-6-9-3-10-2-10 0-10 2-8 3-8 6-8 8-5 8-3 8-2 10 0 10 2 10 4 10 6 8 6 6 9 6 9 3 10 2 10 0 10-2 8-4 8-5 8-8 5-8 3-8z"/>
<path fill="#1ea7e1" transform="translate(120.6 196.7)" d="M604 904l-1-64-4-44-9-40-19-58-3-4-4-2-8-2-14 0-26 2-10 3-8 3-10 7-8 7-13 18-6 12-5 14-8 30-3 22-2 26-1 74 3 28 4 12 4 10 8 12 9 10 12 8 12 4 14 3 14 1 16-2 14-4 13-6 11-8 9-8 7-10 5-12 4-12 2-14zM536 516l0-8-2-7-6-7-6-3-8 0-8 3-6 5-3 7 0 8 2 8 6 6 7 3 8 0 8-3 6-6zM644 644l0-8-2-8-5-8-7-6-8-4-8-1-8 0-8 3-6 4-7 6-5 8-4 8-3 10-1 12 0 10 2 9 4 4 10 2 16-3 14-5 10-6 8-8 6-9zM740 346l1-16-3-14-5-14-8-14-11-11-12-9-14-6-16-4-16-1-14 3-14 5-14 8-11 11-9 12-6 14-4 16-1 16 3 16 6 14 8 13 10 11 12 8 14 7 16 3 16 1 14-3 14-5 14-8 11-11 9-12 6-14zM882 556l1-10-2-8-3-10-5-8-7-8-8-5-8-4-10-2-10-1-9 2-9 3-8 5-6 6-6 8-4 8-2 10-1 10 2 8 3 10 5 8 7 8 8 5 8 4 10 2 10 1 9-2 9-4 8-5 6-5 6-8 4-9z"/>
<path fill="#1babde" transform="translate(124.3 202.8)" d="M602 916l0-66-3-48-4-22-5-20-17-46-4-8-5-6-6-4-6-2-14-1-14 0-12 2-10 4-10 5-8 7-8 8-6 9-12 24-8 30-3 22-2 26-1 72 2 30 3 12 3 10 6 10 8 10 10 9 12 6 12 4 14 2 14-1 14-2 12-4 12-6 10-7 8-9 7-10 6-12 3-14zM532 516l1-6-1-6-4-5-6-4-6-1-7 2-5 4-3 6-1 8 2 6 4 4 6 3 6 1 6-2 5-4zM642 644l0-8-2-8-4-6-6-6-6-3-8-2-8 0-8 3-6 3-6 5-5 6-4 8-2 8-2 10 0 8 2 8 5 7 8 3 12 0 12-4 12-6 8-8 5-8zM738 348l1-16-2-14-5-14-8-14-10-11-12-9-14-7-14-3-16-1-14 2-14 5-14 8-11 10-9 12-7 14-3 14-1 16 2 14 5 14 8 14 10 11 12 9 14 7 14 3 16 1 14-2 14-5 14-8 11-10 9-12 7-14zM880 558l1-8-1-10-3-10-5-8-5-6-7-6-8-4-10-3-10-1-8 1-8 2-9 5-7 6-6 8-4 8-2 8-1 10 1 8 3 10 5 8 5 6 7 6 8 4 10 3 10 1 8-1 8-3 8-4 7-6 7-8 4-8z"/>
<path fill="#18aedb" transform="translate(128 208.9)" d="M600 922l1-20 0-46-3-50-4-20-4-20-7-22-8-20-5-10-6-8-6-5-6-2-12-3-14 0-12 1-12 4-10 6-8 6-8 9-6 9-11 23-8 30-3 22-2 26-1 70 2 30 3 12 4 10 6 11 8 9 9 8 11 6 12 4 12 1 12 0 14-2 12-3 12-5 10-7 9-8 7-10 6-10 4-12zM528 516l1-6-1-4-3-4-3-2-4-2-6 1-4 3-3 4-1 4 1 6 3 4 4 3 6 1 4-2 3-2zM640 644l0-8-2-6-3-6-5-5-6-4-6-1-8-1-6 1-6 3-6 4-6 7-3 6-3 8-2 8 2 14 4 8 6 3 10 2 12-3 10-4 10-8 5-8zM736 350l2-16-2-14-5-14-6-12-10-12-11-9-14-7-14-4-16-2-14 2-14 5-12 6-11 9-10 12-7 14-4 14-2 16 2 14 5 14 7 13 10 12 12 9 12 6 14 4 16 2 14-2 14-5 12-6 11-9 10-12 7-14zM878 558l1-8-1-10-2-8-4-8-6-7-8-6-8-4-8-3-10 0-8 1-8 2-8 5-6 5-6 7-4 8-2 8-1 10 1 8 2 8 4 8 6 7 8 6 8 4 8 2 10 1 8-1 8-3 8-4 6-5 6-7 4-8z"/>
<path fill="#13b1d7" transform="translate(131.8 215)" d="M600 892l-1-56-4-40-4-20-5-18-8-21-7-15-5-8-6-7-8-5-8-2-12-2-14 1-10 2-10 4-8 5-8 8-8 10-6 10-10 24-7 30-3 22-1 26-1 70 3 26 4 12 4 10 7 10 10 10 12 8 12 4 14 2 14 0 16-3 14-5 11-6 10-8 9-10 5-10 5-12 2-12zM523 512l-1-4-4-3-5 1-3 4 2 5 4 2 4-1zM638 642l0-6-2-6-4-6-4-4-6-3-6-1-12 1-6 3-6 4-7 10-4 14 1 12 4 7 6 5 10 1 10-1 10-5 8-7 6-8zM734 352l2-14-1-14-4-14-7-14-9-12-11-9-12-7-14-4-14-2-14 1-14 4-14 7-12 9-9 11-7 12-4 14-2 14 1 14 4 14 7 14 9 12 11 9 12 7 14 4 14 2 16-1 14-5 12-6 12-9 9-11 7-12zM876 560l1-8 0-10-2-8-4-8-5-6-6-6-8-5-8-2-8-2-8 1-8 2-8 3-7 5-5 6-5 8-3 8-1 8 0 10 2 8 4 8 5 6 6 6 8 5 8 2 8 1 8 0 8-2 8-4 6-4 6-6 5-8z"/>
<path fill="#0cb3d3" transform="translate(135.5 221)" d="M598 914l0-62-3-44-7-38-13-34-7-14-6-8-6-5-8-5-12-3-12-1-12 2-10 3-8 5-8 6-8 9-6 9-11 24-8 30-3 22-2 24-1 70 3 28 6 21 6 11 8 9 10 8 10 5 12 4 12 1 14 0 14-3 12-4 11-6 9-7 8-9 7-10 4-10 3-14zM635 648l1-6-1-6-4-10-9-6-6-2-6 0-11 4-9 8-4 10-2 12 2 8 5 6 7 4 8 0 10-2 8-5 7-7zM734 342l0-14-3-14-5-12-8-12-10-10-12-8-14-5-14-3-14 0-14 3-12 5-12 8-10 10-8 12-5 14-3 14 0 14 3 14 5 12 8 12 10 10 12 8 14 6 14 2 14 0 14-3 12-5 12-8 10-10 8-12 6-14zM874 560l2-8-1-8-1-8-4-8-4-6-7-6-7-5-8-3-8-1-8 1-8 2-8 3-6 5-6 6-3 6-3 8-2 8 1 8 1 8 4 8 4 6 7 6 7 5 8 2 8 2 8-1 8-2 8-4 6-4 5-6 4-6z"/>
<path fill="#05b6ce" transform="translate(139.2 227.1)" d="M596 922l1-18 0-40-2-48-7-38-5-18-6-16-7-14-6-9-6-7-8-6-10-3-12-2-12 0-12 4-8 4-8 6-8 8-6 9-7 12-5 12-7 28-4 22-2 24-1 68 2 28 6 22 5 10 8 10 9 8 10 6 10 4 12 2 12 0 14-2 12-3 11-5 10-6 8-8 8-10 5-10 4-12zM632 646l1-10-5-9-8-5-10-1-10 3-8 8-4 10 0 10 2 7 4 5 6 2 8 1 8-2 8-5 5-6zM732 344l0-14-2-14-5-12-8-12-9-10-12-8-12-5-14-3-14 0-14 2-12 5-12 8-10 9-8 12-5 12-3 14 0 14 2 14 5 12 8 12 9 10 12 8 12 5 14 3 14 0 14-2 12-5 12-8 10-9 8-12 5-12zM872 560l2-8 0-8-5-14-5-7-6-6-6-4-8-3-8-1-8 0-14 5-6 5-5 5-4 6-3 8-2 8 0 8 5 14 5 7 6 6 6 4 8 3 8 1 8-1 14-5 11-9 4-6z"/>
<path fill="#01b8c9" transform="translate(143 233.2)" d="M596 892l-1-54-4-38-8-34-6-16-6-14-7-11-6-7-8-6-8-4-10-2-12-1-10 2-10 4-8 5-8 7-12 17-11 24-7 30-2 22-2 24-1 68 4 28 3 10 4 10 8 11 9 9 11 7 12 4 12 2 14 0 14-3 14-5 10-5 10-8 8-10 6-10 4-12 2-12zM630 644l0-8-5-8-7-4-8-1-8 3-6 6-4 8-1 10 2 6 5 5 6 2 6 0 8-3 6-4 4-6zM730 348l1-14-2-14-4-12-7-12-8-10-10-8-12-6-14-4-14-1-14 2-12 4-12 7-10 8-8 10-6 12-4 14-1 14 2 14 4 12 7 12 8 10 10 8 12 6 14 4 14 1 14-2 12-4 12-7 10-8 8-10 6-12zM872 550l-1-8-2-8-8-12-7-5-6-3-14-3-14 2-6 3-7 6-8 12-3 14 2 14 3 6 5 7 6 5 6 4 14 3 8 0 8-3 12-7 6-7 3-6z"/>
<path fill="#02bac4" transform="translate(146.7 239.3)" d="M594 914l0-60-2-42-7-34-5-17-6-15-7-12-7-10-6-6-8-6-10-3-12-2-12 1-10 4-8 4-8 7-13 17-10 24-7 28-5 44-1 68 3 28 6 20 6 10 7 8 10 8 10 5 12 4 12 1 14-1 12-2 12-5 10-6 8-6 7-8 6-10 4-10 3-12zM728 350l1-12-1-14-3-12-6-12-9-11-10-9-12-6-12-4-12-1-14 1-12 3-12 6-11 9-9 10-6 12-4 12-1 12 1 14 4 14 6 12 8 10 10 8 12 6 12 4 12 2 14-2 12-3 12-6 12-9 8-10 6-12zM626 646l1-8-3-6-5-4-7-1-6 1-6 4-4 6-2 8 2 6 2 4 4 3 6 1 6-2 5-2 4-4zM870 552l-2-14-6-12-6-6-6-3-6-3-8-1-14 2-12 7-8 10-3 6-1 8 2 14 6 12 10 8 6 3 8 2 14-1 12-6 6-6 4-6 2-6z"/>
<path fill="#07bcbf" transform="translate(150.4 245.4)" d="M592 922l1-18 0-36-2-48-6-36-10-30-6-14-7-10-8-9-8-6-10-4-10-1-12 0-10 3-8 4-8 7-13 16-10 22-7 28-3 20-2 24-1 66 2 28 5 20 5 10 6 8 8 8 10 6 10 4 12 3 12 0 12-2 12-3 10-4 10-7 8-7 6-8 6-10 4-12zM726 350l2-12-1-14-4-12-6-12-8-10-9-8-12-7-12-3-12-2-14 1-12 4-12 6-10 8-8 9-7 12-3 12-2 12 1 14 4 12 6 12 8 10 9 8 12 7 12 3 12 2 14-1 12-4 12-6 10-8 8-9 7-12zM622 646l1-6-1-4-4-4-4-1-6 0-4 3-3 4-2 6 0 4 2 4 7 3 8-2 4-3zM868 552l0-8-2-6-6-11-5-5-6-4-13-3-12 1-12 7-8 9-3 6-1 8 0 8 2 6 6 11 5 5 7 4 12 3 12-1 12-7 8-10 3-7z"/>
<path fill="#0fbeba" transform="translate(154.2 251.5)" d="M592 902l0-54-3-38-7-34-11-28-7-12-6-8-8-7-8-5-10-3-10-1-10 1-10 3-8 5-8 7-12 17-10 23-6 28-5 44 0 66 2 26 7 20 6 10 10 10 10 7 10 4 12 3 12 0 14-2 12-4 10-5 10-7 8-8 5-8 5-10 3-12zM726 342l0-12-2-12-5-12-7-10-10-10-10-7-12-5-12-2-12 0-12 2-12 5-10 7-10 10-7 10-5 12-2 12 0 12 2 12 5 12 7 11 9 9 11 7 12 5 12 2 12 0 12-2 12-5 10-7 10-10 7-10 5-12zM616 644l0-4-4-3-4 2-2 3 0 4 4 2 4-1zM866 552l-1-12-2-6-5-6-10-8-12-3-12 1-11 6-8 10-3 12 1 12 2 6 5 6 10 8 12 3 12-1 10-6 9-10z"/>
<path fill="#19bfb5" transform="translate(157.9 257.6)" d="M590 916l1-56-3-42-6-34-9-28-6-12-7-10-8-9-8-5-10-4-10-2-10 0-10 3-8 5-8 6-12 16-10 22-6 26-3 20-2 24-1 64 2 28 5 20 6 10 7 9 8 7 10 6 10 3 12 2 12-1 12-2 12-4 10-5 8-7 8-8 5-8 4-10 3-12zM724 344l1-12-2-12-5-12-6-10-8-9-10-7-12-5-12-3-12-1-12 2-12 5-10 6-9 8-7 10-5 12-3 12-1 12 2 12 5 12 6 10 8 9 10 7 12 5 12 3 12 1 12-2 12-5 10-6 9-8 7-10 5-12zM864 550l-2-12-6-10-10-7-12-2-12 2-10 7-6 10-2 10 2 12 6 10 9 6 11 3 12-2 10-5 7-10z"/>
<path fill="#22c1b0" transform="translate(161.6 263.7)" d="M588 922l1-16 1-32-2-50-6-34-9-30-6-12-7-11-8-9-8-6-10-4-10-2-10 0-10 3-8 5-6 5-7 7-6 10-10 22-7 26-4 42-1 64 2 26 5 20 5 10 7 9 7 7 9 5 10 4 10 2 10 1 12-2 12-3 10-4 8-5 9-8 6-8 5-10 4-10zM722 346l1-12-1-12-5-12-6-10-7-8-10-8-10-5-12-3-12-1-12 1-12 5-10 6-8 7-8 10-5 10-3 12-1 12 1 12 5 12 6 10 7 8 10 8 10 5 12 3 12 1 12-1 12-5 10-6 8-7 8-10 5-10zM860 558l2-12-3-10-7-8-10-6-10-1-11 3-8 6-6 10-1 12 3 10 7 8 10 6 10 1 11-3 8-6z"/>
<path fill="#28c3aa" transform="translate(165.4 269.8)" d="M588 908l0-54-3-38-6-32-9-26-6-12-6-9-8-8-8-5-10-4-10-2-10 1-8 2-8 5-6 5-6 7-7 10-9 22-7 26-4 42-1 64 2 26 6 20 5 10 7 8 10 8 10 5 10 3 12 1 12-1 12-3 10-4 10-7 8-7 6-8 5-9 3-10 3-12zM720 348l1-10 0-12-4-12-5-10-8-10-8-7-10-5-12-4-10-1-12 0-12 4-10 5-10 8-7 8-5 10-4 12-2 12 2 12 3 10 5 10 8 10 8 7 10 6 12 3 12 2 12-2 10-3 10-5 10-8 7-8 5-10zM858 558l2-10-3-10-6-8-9-5-10-2-10 3-7 6-5 8-2 10 3 10 6 8 9 5 10 2 9-3 8-6z"/>
<path fill="#2ec4a5" transform="translate(169.1 275.9)" d="M586 918l1-52-2-42-5-32-9-28-6-12-6-10-7-8-8-7-8-4-10-2-10-1-10 3-8 4-7 5-7 8-5 8-10 22-7 26-4 42-1 62 2 26 5 20 6 10 6 8 8 7 8 5 10 4 10 1 10 0 12-1 10-3 10-5 9-6 8-8 5-8 5-10 3-10zM718 350l2-10-1-12-3-12-4-10-8-10-8-7-10-6-10-3-10-2-12 1-12 3-10 4-10 8-7 8-6 10-3 10-2 10 1 12 3 12 4 10 8 10 8 7 10 6 10 3 10 2 12-1 12-3 10-4 10-8 7-8 6-10zM856 556l1-10-3-8-6-8-8-3-10-1-8 3-6 5-4 8-1 10 3 8 6 7 8 4 8 1 8-2 8-6z"/>
<path fill="#32c69f" transform="translate(172.9 282)" d="M584 922l2-16 0-26-2-52-5-32-8-28-5-12-8-12-6-7-8-7-8-4-10-3-10-1-10 3-8 4-6 5-12 15-10 21-6 26-5 42-1 60 2 26 5 20 5 10 5 8 7 6 9 6 9 4 10 2 10 0 12-1 10-3 10-4 8-5 7-7 7-8 4-8 4-10zM718 340l0-12-3-10-4-10-7-9-8-8-10-6-10-4-10-1-12 0-10 3-10 4-9 7-8 8-6 10-4 10-1 10 0 12 3 10 4 10 7 10 8 7 10 6 10 4 10 1 12 0 10-3 10-4 10-7 7-8 6-10 4-10zM854 552l0-8-4-8-6-5-8-2-8 0-6 3-5 6-3 8 0 8 4 8 6 5 8 2 8 0 6-3 5-6z"/>
<path fill="#36c898" transform="translate(176.6 288.1)" d="M584 912l0-52-2-38-5-30-8-26-6-12-7-10-6-7-8-6-8-4-10-2-10 0-8 2-8 4-6 5-12 16-9 20-7 26-4 40-1 62 2 26 5 18 5 10 6 8 7 6 10 6 10 4 10 1 12 0 10-2 10-3 10-6 8-6 7-8 5-8 4-10 3-12zM716 344l1-12-2-10-4-10-5-8-7-8-9-7-10-5-10-2-12-1-10 2-10 4-8 5-8 7-7 9-5 10-2 10-1 12 2 10 4 10 5 9 7 7 9 7 10 5 10 2 12 1 10-2 10-4 8-5 8-7 7-9 5-10zM851 554l0-8-2-6-5-5-6-3-6 0-7 2-5 4-3 6 0 8 2 6 5 5 6 3 6 0 7-2 5-4z"/>
<path fill="#3cc992" transform="translate(180.3 294.2)" d="M582 920l1-16 0-30-2-46-4-32-8-26-6-12-6-10-7-8-8-6-8-5-10-2-10 0-8 2-6 3-7 6-11 14-10 20-6 26-5 40-1 62 2 24 5 20 4 8 6 8 7 7 8 5 8 4 10 2 10 0 12-1 10-3 9-4 9-6 6-6 6-8 4-8 4-10zM714 346l1-10-1-10-3-10-5-10-7-8-7-6-10-5-10-3-10-1-10 1-10 3-10 5-8 7-6 7-5 10-3 10-1 10 1 10 3 10 5 10 7 8 7 6 10 5 10 3 10 1 10-1 10-3 10-5 8-7 6-7 5-10zM847 554l1-4-1-6-3-5-5-3-5-1-6 1-4 3-3 5-1 4 1 6 3 5 5 3 5 1 6-2 4-2z"/>
<path fill="#43ca8b" transform="translate(184.1 300.3)" d="M582 900l0-48-3-34-5-28-9-24-5-10-7-10-7-7-8-5-8-4-10-1-8 0-8 3-6 4-7 6-11 16-8 20-6 26-4 40-1 60 3 24 5 18 6 10 7 8 8 6 10 4 10 3 10 0 12-1 12-4 8-4 8-6 8-8 5-8 4-10 3-10zM712 346l1-10-1-10-3-10-4-8-6-8-7-6-10-5-10-3-10-1-10 1-10 3-8 4-8 6-6 7-5 10-3 10-1 10 1 10 3 10 4 8 6 8 7 6 10 5 10 3 10 1 10-1 10-3 8-4 8-6 6-7 5-10zM842 552l0-7-2-3-4-2-6 1-4 5-1 4 1 3 2 3 4 2 6-1z"/>
<path fill="#4bcb83" transform="translate(187.8 306.4)" d="M580 914l1-48-2-38-5-30-8-26-6-12-6-10-6-7-8-6-8-4-10-2-8 0-8 2-6 4-7 5-11 15-8 19-7 26-4 40-1 58 2 24 5 18 5 10 6 8 6 6 8 5 8 3 10 2 10 0 12-2 10-3 8-5 8-6 6-6 5-8 5-10zM710 348l2-10-1-10-3-10-4-8-6-8-7-6-7-5-10-3-10-2-10 1-10 3-8 4-8 6-6 7-5 7-3 10-2 10 1 10 3 10 4 8 6 8 6 6 8 5 10 3 10 2 10-1 10-3 8-4 8-6 6-7 5-7z"/>
<path fill="#55cc7c" transform="translate(191.5 312.5)" d="M578 920l2-36-2-50-4-30-7-26-5-12-6-10-6-8-8-7-8-5-8-2-10-1-8 2-12 7-6 6-6 8-9 20-6 24-5 38-1 56 2 26 4 20 4 8 5 8 6 7 8 5 8 4 10 2 10 1 10-1 10-3 8-4 8-5 7-6 6-8 4-8zM708 348l2-8 0-10-3-10-3-8-6-8-7-6-7-5-10-3-8-2-10 0-10 3-8 3-8 6-6 7-5 7-3 10-2 8 0 10 3 10 3 8 6 8 7 6 7 5 10 3 8 2 10 0 10-3 8-3 8-6 6-7 5-7z"/>
<path fill="#5ecd74" transform="translate(195.3 318.6)" d="M578 908l0-48-2-34-4-28-8-24-6-12-6-9-6-6-8-6-8-4-8-2-8 0-8 3-12 8-10 14-9 20-6 24-4 38-1 58 2 24 5 18 5 9 6 8 8 7 8 4 8 3 10 1 10-1 10-2 10-4 8-5 7-6 6-8 4-8 4-10zM708 340l0-10-2-8-3-8-6-8-6-6-7-5-8-3-10-2-10 0-8 2-8 3-8 6-6 6-5 7-3 8-2 10 0 10 2 8 3 8 6 8 6 6 7 5 8 3 10 2 10 0 8-2 8-3 8-6 6-6 5-7 3-8z"/>
<path fill="#68cd6b" transform="translate(199 324.7)" d="M576 916l1-42-1-40-5-30-6-24-11-21-6-7-8-8-8-4-8-2-8-1-8 2-12 8-6 6-6 9-8 19-6 23-4 38-1 56 2 24 5 18 3 8 6 8 7 7 8 5 8 3 8 1 10 1 10-2 9-3 8-4 7-5 7-7 5-8 4-8zM706 342l0-8-1-8-2-8-5-8-6-7-7-5-8-4-9-2-8 0-8 1-8 2-8 5-7 6-5 7-4 8-2 9 0 8 1 8 2 8 5 8 6 7 7 5 8 4 9 2 8 0 8-1 8-2 8-5 7-6 5-7 4-8z"/>
<path fill="#73cd63" transform="translate(202.7 330.8)" d="M574 922l2-26-1-58-4-30-7-26-10-20-6-8-8-7-8-5-8-2-8-1-8 2-6 3-6 5-10 13-8 18-6 24-5 36 0 54 1 26 4 18 8 15 6 7 6 4 8 4 8 3 8 1 10-1 10-2 8-4 14-10 6-7 5-8zM704 342l1-8-1-8-3-8-5-8-6-6-6-5-8-3-8-2-8-1-8 1-8 3-8 5-6 6-5 6-3 8-2 8-1 8 1 8 3 8 5 8 6 6 6 5 8 3 8 2 8 1 8-1 8-3 8-5 6-6 5-6 3-8z"/>
<path fill="#7ecc5b" transform="translate(206.5 336.9)" d="M574 912l1-46-2-34-4-28-7-23-10-19-7-8-7-6-8-4-8-2-8 0-6 1-6 3-6 5-10 14-8 19-6 24-4 36 0 56 1 22 5 18 4 8 6 8 7 6 7 4 8 3 8 1 10 0 10-2 8-3 8-5 8-6 5-6 7-16zM702 344l1-8-1-8-2-8-4-7-6-7-5-4-7-4-8-2-8-1-8 1-8 2-7 4-5 4-6 7-4 7-2 8-1 8 1 8 2 8 4 7 4 5 7 6 7 4 8 2 8 1 8-1 8-2 7-4 7-6 4-5 4-7z"/>
<path fill="#89cb52" transform="translate(210.2 342.9)" d="M572 918l1-32-1-48-3-28-7-24-10-21-6-7-8-8-8-4-8-2-8 0-6 2-6 3-6 5-10 14-8 18-5 22-4 36 0 54 1 22 4 18 4 8 6 8 6 6 6 4 8 3 8 2 17-1 16-6 13-10 6-8 4-8zM700 344l1-8-1-8-2-8-4-6-10-10-6-4-8-2-8-1-8 1-8 2-6 4-10 10-4 6-2 8-1 8 1 8 2 8 4 6 10 10 6 4 8 2 8 1 8-1 8-2 6-4 10-10 4-6z"/>
<path fill="#94ca4a" transform="translate(214 349)" d="M572 902l0-44-2-30-4-24-7-22-10-18-7-8-6-4-6-4-8-2-8 0-6 2-6 3-6 5-10 14-7 18-5 22-4 36 0 54 1 22 5 17 5 9 5 7 6 5 8 5 8 2 10 1 10-1 10-3 14-8 6-6 5-8 4-8 3-10zM698 344l0-14-2-8-3-6-9-10-7-4-7-2-14 0-8 2-6 3-10 9-4 7-2 7 0 14 2 8 3 6 9 10 7 4 7 2 14 0 8-2 6-3 10-9 4-7z"/>
<path fill="#9fc942" transform="translate(217.7 355.1)" d="M570 914l1-40-1-36-4-27-6-22-10-21-6-7-6-6-6-3-8-3-8-1-6 1-11 7-10 12-8 18-5 22-4 36-1 52 1 22 4 18 4 9 5 7 6 6 7 4 14 5 8 0 10-2 8-2 8-4 12-11 4-6 4-9zM696 344l0-14-4-12-9-10-7-4-6-2-14 0-12 4-10 9-4 7-2 6 0 14 4 12 9 10 7 4 6 2 14 0 12-4 10-9 4-7z"/>
<path fill="#a9c73a" transform="translate(221.4 361.2)" d="M568 918l2-24-1-52-4-28-5-22-10-20-6-8-6-6-6-4-8-3-8-1-6 2-11 6-9 12-8 18-6 22-3 34-1 50 1 24 4 16 7 15 6 6 6 5 14 5 16 0 16-6 12-9 9-14zM694 342l0-12-5-12-9-9-12-5-12 0-12 5-9 9-5 12 0 12 5 12 9 9 12 5 12 0 12-5 9-9z"/>
<path fill="#b3c534" transform="translate(225.2 367.3)" d="M568 906l0-42-1-30-4-24-6-20-9-18-11-12-7-4-6-3-8 0-6 1-10 6-10 13-7 17-6 22-3 34-1 52 1 22 5 16 3 8 6 8 6 5 6 4 8 2 8 1 10 0 8-2 14-8 11-12 6-16zM692 342l0-12-4-10-8-9-6-3-6-2-12 0-10 4-9 8-3 6-2 6 0 12 4 10 8 9 6 3 6 2 12 0 10-4 9-8 3-6z"/>
<path fill="#bdc32e" transform="translate(228.9 373.4)" d="M566 914l1-38-1-36-4-26-5-20-9-19-6-8-6-5-6-4-6-2-8-1-6 1-10 7-10 13-7 16-5 22-3 34-1 48 1 22 4 16 8 14 5 6 6 4 6 3 8 2 16-1 15-6 11-10 8-14zM690 338l-1-10-5-10-10-8-10-2-10 1-10 5-8 10-2 10 1 10 5 10 10 8 10 2 10-1 10-5 8-10z"/>
<path fill="#c6c22a" transform="translate(232.6 379.5)" d="M564 918l2-22-1-52-3-26-6-22-8-18-6-8-6-6-6-4-7-2-7-1-6 2-10 6-9 13-7 16-5 20-3 32-1 48 1 22 4 16 7 14 5 6 6 5 6 2 8 3 14-1 14-5 12-10 8-12zM686 344l2-10-3-10-7-8-8-4-10-2-10 3-8 7-4 8-2 10 3 10 7 8 8 4 10 2 10-3 8-7z"/>
<path fill="#cfc028" transform="translate(236.4 385.6)" d="M564 908l0-40-1-30-4-24-5-19-8-17-11-12-7-4-6-2-6 0-6 1-10 7-9 12-6 16-5 22-3 32-1 48 2 20 4 16 4 8 4 6 6 6 6 3 6 2 8 2 8-1 8-2 8-3 6-5 9-10 6-14zM684 342l1-8-3-9-6-7-8-4-8-1-9 3-7 6-4 8-1 8 3 9 6 7 8 4 8 1 9-3 7-6z"/>
<path fill="#d8be28" transform="translate(240.1 391.7)" d="M562 914l1-32-1-38-3-24-5-21-8-17-10-12-6-4-6-3-8-1-6 2-10 7-8 11-6 16-5 20-3 32-1 46 2 20 3 16 8 14 10 9 6 2 8 2 14-1 14-6 10-10 6-12zM680 344l2-8-2-8-4-6-6-4-8-2-8 2-6 4-4 6-2 8 2 8 4 6 6 4 8 2 8-2 6-4z"/>
<path fill="#e0bc2a" transform="translate(243.8 397.8)" d="M560 918l2-20-1-48-3-26-4-20-8-18-10-13-6-5-6-2-6-1-6 1-10 6-8 10-6 14-5 20-4 30 0 40 0 26 4 18 6 12 9 10 12 5 14 0 14-4 10-8 8-13zM678 338l0-6-3-6-5-4-6-2-6 0-6 3-4 5-2 6 0 6 3 6 5 4 6 2 6 0 6-3 4-5z"/>
<path fill="#e7bb2e" transform="translate(247.6 403.9)" d="M560 906l0-38-1-26-3-22-5-18-7-16-10-12-10-6-6-1-6 1-10 6-7 10-7 16-4 18-3 30-1 46 1 20 3 16 8 14 10 9 6 2 8 2 14-3 12-6 10-11 5-13zM673 340l1-4-2-6-6-5-4-1-6 2-5 6-1 4 2 6 6 5 4 1 6-2z"/>
<path fill="#eeba34" transform="translate(251.3 410)" d="M558 912l1-32-1-34-3-22-5-20-7-16-9-11-10-6-6-1-6 1-8 5-8 10-6 14-5 20-3 28-1 42 1 22 3 16 5 12 5 6 5 4 12 5 14-1 12-5 10-9 7-12zM664 338l0-4-4 0 0 4z"/>
<path fill="#f4ba3a" transform="translate(255 416.1)" d="M556 916l2-20-1-44-3-24-4-20-7-16-9-12-10-6-6-1-6 1-8 5-8 10-6 15-4 18-3 28-1 42 1 20 3 16 6 12 8 8 6 3 6 2 12 0 12-4 10-9 6-10z"/>
<path fill="#fabb3d" transform="translate(258.8 422.2)" d="M556 900l0-34-1-24-3-20-5-16-7-15-8-10-10-5-6 0-4 0-8 6-8 11-6 16-4 19-2 30 0 46 2 18 4 12 8 11 10 6 12 1 8-2 6-2 10-8 6-10 4-12z"/>
<path fill="#febe3c" transform="translate(262.5 428.3)" d="M554 908l1-32-1-28-3-20-4-18-7-15-8-10-10-6-6 0-4 0-8 6-6 9-6 14-4 18-3 28 0 40 1 18 2 14 6 12 8 8 6 3 6 1 12-1 11-5 9-9 6-13z"/>
<path fill="#fec239" transform="translate(266.3 434.4)" d="M552 912l1-18-1-42-2-22-4-16-6-15-8-11-8-5-6-1-4 0-8 4-6 8-6 13-4 17-3 24-1 30 0 30 3 16 6 12 7 8 10 4 12 0 10-4 9-8 6-10z"/>
<path fill="#fec736" transform="translate(270 440.5)" d="M550 914l2-18-1-40-2-20-4-18-5-15-8-11-8-6-6-1-4 0-8 5-6 8-5 12-4 16-3 22-1 26 1 32 2 16 5 12 7 8 10 5 10 0 10-4 9-7 6-10z"/>
<path fill="#fdcb33" transform="translate(273.7 446.6)" d="M548 916l2-18 0-38-2-22-4-18-5-14-7-10-8-6-6-2-4 0-8 5-6 9-5 12-3 15-2 21-1 30 0 26 3 16 4 10 7 8 7 4 10 1 10-3 8-5 6-9z"/>
<path fill="#fcd030" transform="translate(277.5 452.7)" d="M548 902l-1-50-2-18-3-14-6-14-6-8-8-6-8 0-4 2-4 3-5 9-5 12-3 18-2 26-1 40 2 15 4 12 6 8 8 5 10 1 10-3 8-6 5-8 3-10z"/>
<path fill="#fad52e" transform="translate(281.2 458.8)" d="M546 906l0-52-2-16-4-16-4-11-6-9-8-6-8 0-6 3-6 9-4 10-4 16-2 22 0 28 0 22 2 14 5 10 7 8 8 3 10-1 9-4 7-8 4-10z"/>
<path fill="#f8da2b" transform="translate(284.9 464.8)" d="M544 908l0-50-2-18-3-14-5-14-6-8-6-4-8 0-6 4-5 8-4 10-3 14-2 22-1 34 1 16 2 12 4 9 6 6 8 4 8 0 8-4 7-7 5-10z"/>
<path fill="#f6de29" transform="translate(288.7 470.9)" d="M542 908l0-48-1-16-3-14-4-12-6-9-6-4-4-2-4 1-6 5-4 6-4 11-3 14-2 22 0 30 1 16 1 10 5 10 6 6 6 3 8-1 8-3 6-7 4-8z"/>
<path fill="#f5e327" transform="translate(292.4 477)" d="M540 906l0-44-3-28-5-12-4-8-6-5-6-1-6 4-4 5-4 10-3 13-2 18 0 24 0 22 2 12 3 8 6 7 6 3 8 0 7-4 6-6 3-8z"/>
<path fill="#f5e825" transform="translate(296.1 483.1)" d="M538 904l0-41-4-27-4-12-4-6-4-3-6-2-6 4-4 7-4 12-2 14-1 22 0 30 1 10 3 10 5 6 4 3 6 1 6-2 6-4 4-6 2-6z"/>
<path fill="#f5ec22" transform="translate(299.9 489.2)" d="M534 912l2-12 0-22-1-20-2-14-3-11-4-8-4-4-6-2-4 3-4 5-5 19-2 30 0 22 1 12 2 8 4 6 4 3 4 1 6-1 5-3 5-6z"/>
<path fill="#f6f11f" transform="translate(303.6 495.3)" d="M532 908l1-10 0-24-2-26-3-10-4-7-4-4-4 0-4 2-2 3-3 8-2 10-2 26 1 32 2 7 3 5 5 4 4 0 4-1 4-3 4-6z"/>
<path fill="#f7f51b" transform="translate(307.4 501.4)" d="M528 908l2-10 0-14-2-29-2-9-3-6-3-3-4-1-2 1-3 5-4 14-1 24 1 26 3 9 3 3 3 1 4 0 4-3z"/>
<path fill="#f9f916" transform="translate(311.1 507.5)" d="M524 904l1-18-1-23-4-12-2-2-2 0-4 7-1 10-1 18 0 18 2 6 4 4 2 0 3-2z"/>
</g></g>
<path class="ax" d="M29.9 226.9L29.9 270.9L128.6 302.6M128.6 302.6L189.1 249.8M128.6 302.6L126.9 304M108.9 296.3L107.2 297.7M89.1 289.9L87.5 291.4M69.4 283.6L67.7 285M49.6 277.2L48 278.7M29.9 270.9L28.2 272.3M128.6 302.6L130.7 303.3M140.7 292L142.8 292.7M152.8 281.5L154.9 282.2M164.9 270.9L167 271.6M177 260.4L179.1 261M189.1 249.8L191.2 250.5M29.9 270.9L27.3 270.9M29.9 256.2L27.3 256.2M29.9 241.5L27.3 241.5M29.9 226.9L27.3 226.9"/>
<text class="t" x="125.1" y="312.1" text-anchor="end">0</text>
<text class="t" x="105.4" y="305.7" text-anchor="end">20</text>
<text class="t" x="85.6" y="299.4" text-anchor="end">40</text>
<text class="t" x="65.9" y="293" text-anchor="end">60</text>
<text class="t" x="46.1" y="286.7" text-anchor="end">80</text>
<text class="t" x="26.4" y="280.3" text-anchor="end">100</text>
<text class="t" x="132.7" y="310.1">0</text>
<text class="t" x="144.8" y="299.5">20</text>
<text class="t" x="156.9" y="288.9">40</text>
<text class="t" x="169" y="278.4">60</text>
<text class="t" x="181.1" y="267.8">80</text>
<text class="t" x="193.2" y="257.2">100</text>
<text class="t" x="25.7" y="272.8" text-anchor="end">0</text>
<text class="t" x="25.7" y="258.2" text-anchor="end">50</text>
<text class="t" x="25.7" y="243.5" text-anchor="end">100</text>
<text class="t" x="25.7" y="228.8" text-anchor="end">150</text>
<path d="M128.6 302.2C129.2 301.1 131.3 297.8 132.5 295.7C133.7 293.6 135.1 291.7 135.6 289.6C136.1 287.6 136.2 285.5 135.6 283.4C134.9 281.3 133.2 279.5 131.7 277.2C130.1 274.9 127.8 271.9 126.3 269.5C124.8 267.1 123.4 264.8 122.8 262.5C122.2 260.2 122.3 257.9 122.5 255.5C122.7 253.1 123.3 250.4 123.7 247.8C124.1 245.2 124.9 242.2 124.8 240.1C124.7 238 124.1 236.7 123.2 235.5C122.3 234.3 120.8 233.3 119.4 232.7C118 232 116.1 231.7 114.7 231.6C113.3 231.5 112.3 232.2 110.9 232.1C109.5 232 107.2 231.3 106.2 230.8C105.2 230.3 104.8 229.8 104.9 229.3C105 228.8 106.7 227.9 107 227.6" fill="none" stroke="#de1030" stroke-width="1.4" stroke-linecap="round" stroke-linejoin="round"/>
<circle cx="135.6" cy="283.4" r="1.1" fill="none" stroke="#3c9a3c" stroke-width=".6"/>
<circle cx="122.8" cy="262.5" r="1.1" fill="none" stroke="#3c9a3c" stroke-width=".6"/>
<circle cx="132.5" cy="295.2" r="1.1" fill="none" stroke="#3c9a3c" stroke-width=".6"/>
<rect x="127.1" y="300.9" width="3" height="3" fill="#f6f000" stroke="#c8b400" stroke-width=".3"/>
<circle cx="107.5" cy="227" r="1.2" fill="#f8c010" stroke="#8a5a10" stroke-width=".4"/>
<text class="cap" x="100.6" y="329.5" text-anchor="middle">(c) SHADE</text>
</g>
<g>
<path class="g" d="M278 274.8L278 231.9M306.2 247.7L306.2 204.8M334.4 220.6L334.4 177.7M278 274.8L334.4 220.6L437.5 249.9M278 260.5L334.4 206.3L437.5 235.6M278 246.2L334.4 192L437.5 221.3M278 231.9L334.4 177.7L437.5 207M437.5 249.9L437.5 207M416.9 244L416.9 201.1M396.3 238.2L396.3 195.3M375.6 232.3L375.6 189.4M355 226.5L355 183.6M334.4 220.6L334.4 177.7"/>
<g filter="url(#b)"><path fill="#3e26a8" d="M381.1 304.1L278 274.8L334.4 220.6L437.5 249.9Z"/>
<g transform="matrix(-.1031 -.0293 .0564 -.0542 381.1 304.1)">
<path fill="#3e27aa" transform="translate(.4 .8)" d="M1000 616l0-134-7-16-14-22-17-20-18-17-34-25-6-6-5-8-5-14-5-50-7-34-7-18-7-16-9-18-9-14-20-24-24-23-26-18-32-16-18-6-22-6-20-3-22-1-20 0-22 3-22 5-20 6-22 10-20 11-18 12-18 16-14 14-13 16-12 18-17 31-7 7-5 2-6-1-36-13-22-5-24-1-24 5-12 4-12 6-20 15-10 10-8 10-11 22-7 24-1 14 0 14 2 14 4 14 5 12 7 12 15 19 18 14 10 6 14 6 40 12 5 5 3 8 0 42 8 49 0 17-4 16-21 50-10 34-6 26-4 24-4 54-2 72 1 68 5 34 4 14 7 16 384 0 6-14 5-14 4-16 3-18 1-26 0-52-2-98 2-20 3-7 4-7 8-6 10-2 50 7 18 1 16-1 26-4 28-10 16-8 14-9 14-11 12-11 11-12 10-14 10-16z"/>
<path fill="#3e27ac" transform="translate(1 1.8)" d="M1000 558l-1-26-4-26-10-26-12-22-12-16-15-16-18-15-34-23-7-6-5-8-4-14-3-46-6-30-9-30-15-28-20-28-23-24-26-19-14-8-18-9-22-7-22-5-22-3-22-1-24 2-22 5-20 6-20 8-18 10-18 12-16 13-14 14-12 14-10 14-11 20-15 30-4 6-4 2-4 0-6-2-26-15-18-8-14-4-14-2-18 0-18 3-18 7-14 8-12 9-11 12-9 14-7 14-4 14-3 18 1 18 3 16 5 16 10 16 11 14 14 12 12 7 14 6 16 5 30 4 6 3 3 3 2 4 0 6-2 30 1 20 2 16 9 44 0 12-3 10-21 48-12 36-8 36-6 46-3 68 1 90 2 20 3 18 6 16 6 14 353 0 8-14 6-16 4-16 2-16 1-26 0-50-2-104 4-22 8-19 4-5 6-5 10-3 10 1 30 7 20 3 20 0 20-1 16-4 16-4 16-7 14-8 18-12 14-13 13-14 12-18 8-16 8-20 5-20z"/>
<path fill="#3f28ae" transform="translate(1.7 3.1)" d="M990 572l2-28-3-26-8-26-13-26-13-18-17-18-20-15-36-23-7-6-5-8-3-14-2-44-5-30-9-30-15-30-10-14-11-14-11-12-14-12-14-11-16-9-16-8-16-7-16-4-18-4-18-2-18-1-18 2-18 2-32 10-22 9-22 14-18 14-17 17-13 16-13 20-10 20-13 31-6 8-4 2-6-2-30-24-12-7-12-5-12-3-12-2-22 0-16 3-12 4-12 6-12 9-10 9-9 11-7 12-5 12-3 10-2 14 0 14 2 12 3 14 5 12 7 12 8 10 17 15 18 10 12 4 14 3 38 4 4 2 3 6 0 8-4 30 0 22 4 24 9 38 1 16-5 16-23 48-12 38-9 46-5 58-1 86 1 44 2 16 4 18 6 16 6 14 333 0 7-12 6-14 4-14 3-18 2-26 1-44-1-44-2-56 0-16 2-13 4-13 6-14 6-10 8-9 4-3 6-2 12 2 28 7 16 4 28 2 18-1 16-3 18-6 18-8 18-10 14-11 14-14 11-14 10-16 7-16 6-18z"/>
<path fill="#3f29b0" transform="translate(2.5 4.5)" d="M984 566l1-26-4-26-9-26-13-24-13-16-16-16-18-13-38-22-8-7-4-6-4-14-1-46-4-30-4-16-6-16-8-16-8-14-19-26-24-23-14-10-14-8-16-8-16-6-20-6-22-3-22-1-20 1-20 3-22 6-20 9-20 11-16 11-16 14-13 14-13 16-9 16-8 16-19 53-3 5-3 2-6-3-18-21-10-10-18-13-12-6-14-4-12-3-14 0-14 1-14 4-14 6-12 8-10 9-9 10-7 12-6 14-3 12-2 12 0 14 2 12 4 14 6 12 6 10 9 10 8 7 10 7 12 7 10 3 12 3 12 1 38 0 5 2 2 4-1 8-7 36 0 24 4 26 11 40 1 8 0 8-5 16-23 46-12 36-6 24-4 24-5 54-1 90 1 46 3 18 4 16 5 14 7 14 317 0 9-16 6-16 4-16 3-20 1-22 0-44-3-96 1-20 2-12 5-13 8-16 8-13 4-6 6-5 4-1 6-1 10 2 26 8 18 5 20 2 20 0 28-5 16-6 14-6 16-10 14-11 14-14 11-14 9-16 8-16 5-18z"/>
<path fill="#402ab3" transform="translate(3.3 6.1)" d="M978 568l1-28-4-26-8-24-14-24-14-18-17-15-18-12-39-21-7-6-4-6-3-14 0-46-4-30-4-16-6-16-6-14-9-16-10-14-10-12-11-12-13-11-14-10-14-8-28-12-24-6-24-3-24 0-24 3-24 6-24 10-20 12-20 15-16 16-13 16-12 18-9 18-9 26-6 28-3 22-1 28-2 10-5 11-4 3-4 2-2 0-2-4 4-28 0-16-4-12-6-14-12-18-12-13-16-12-16-8-18-4-18-1-18 3-16 6-16 10-12 11-12 16-7 16-3 12-1 14 1 12 2 14 4 12 7 12 7 10 10 10 10 8 10 5 10 4 12 3 14 2 12 0 38-5 4 1 2 4-2 8-10 38-2 14 0 14 1 14 3 14 14 44 1 8-1 8-4 14-25 48-12 34-6 24-4 22-5 52-2 72 0 42 2 24 2 20 5 16 5 14 7 14 303 0 9-14 7-16 4-18 3-20 1-24 1-44-4-94 1-20 3-12 5-13 20-38 8-9 4-2 6-1 10 2 42 14 28 3 18 0 18-3 16-4 16-6 16-9 14-10 13-12 12-14 10-16 8-16 6-18z"/>
<path fill="#402bb6" transform="translate(4.5 8.1)" d="M446 360l0-16-4-16-7-16-10-14-13-13-14-9-16-6-16-4-18 0-16 4-16 6-14 10-12 12-9 14-7 16-3 16 0 16 4 18 7 16 10 14 12 12 14 9 16 6 16 3 18 0 18-3 20-8 14-8 9-9 7-14 7-18zM972 572l2-26-3-26-8-26-13-24-15-18-17-15-22-14-38-19-7-6-4-6-3-6-1-8 1-40-1-20-3-18-5-20-8-22-12-20-14-20-16-16-25-19-26-14-30-10-16-3-16-2-32 1-30 7-16 5-14 6-26 16-16 14-15 15-12 16-12 20-10 26-7 28-3 26-1 36-3 14-3 6-6 7-28 21-11 12-8 14-7 14-5 14-4 14-2 22 1 24 5 20 13 36 2 8 0 8-2 8-4 8-17 30-8 18-8 20-6 18-6 26-4 24-3 28-1 32-1 86 1 38 3 18 5 16 5 14 7 12 290 0 9-14 7-16 5-18 3-20 1-22 0-42 0-44-3-54 1-22 3-12 5-12 26-48 8-8 4-1 6 0 8 2 26 10 16 5 16 4 18 1 14 0 14-2 16-4 14-6 16-8 14-10 13-11 12-14 10-14 8-16 5-16z"/>
<path fill="#412cba" transform="translate(5.8 10.6)" d="M440 366l1-16-2-16-6-16-8-14-11-12-14-10-14-7-16-4-16-1-18 3-14 5-14 8-12 11-10 13-6 14-4 16-1 16 2 16 6 16 7 12 11 12 13 10 14 7 16 4 16 1 18-2 16-5 16-9 11-10 9-12 7-16zM968 564l0-26-4-26-10-24-14-22-14-16-16-13-20-11-39-18-7-5-4-5-3-8-1-8 2-40-1-22-2-18-6-20-8-22-12-20-13-18-16-16-24-19-14-8-14-6-28-9-30-4-30 2-16 2-16 5-26 10-26 17-18 15-16 19-15 22-10 22-6 20-4 20-1 22 0 36-2 10-2 7-9 11-29 23-14 15-8 12-6 12-5 14-3 12-3 22 2 22 6 22 14 36 2 8 0 8-5 14-19 32-8 16-8 18-6 20-6 24-4 26-4 30-2 34 0 84 2 36 2 16 4 16 6 14 8 14 277 0 10-14 7-16 5-18 3-20 1-24 0-42 0-44-3-52 1-22 3-12 5-12 30-57 4-4 4-3 4-1 6 0 50 19 18 4 16 2 16-1 14-2 14-3 14-5 16-9 14-10 14-12 11-14 10-16 7-14 5-16z"/>
<path fill="#422fc0" transform="translate(7.6 13.8)" d="M436 358l0-16-4-14-6-14-9-12-11-11-12-8-14-6-16-3-16 0-14 3-14 6-14 10-11 11-7 12-7 16-2 14 0 14 4 16 6 14 9 13 11 11 13 8 14 5 16 3 16 0 14-3 14-6 14-10 11-11 7-12 5-14zM962 566l1-26-4-26-10-24-14-22-15-16-18-13-22-12-38-15-6-4-5-6-2-6-1-10 3-38 0-20-2-20-4-18-8-22-12-22-13-18-16-17-24-18-26-14-28-8-28-4-30 1-28 6-26 11-26 16-18 16-17 19-12 20-10 22-6 20-3 20-2 20 1 38-1 8-3 8-8 10-31 24-15 16-7 10-7 12-5 12-3 14-3 22 3 22 6 22 15 34 2 8 1 8-5 14-19 30-10 20-8 18-6 18-6 24-5 30-4 30-1 34-1 82 2 36 3 16 5 16 5 12 8 14 264 0 10-14 7-16 6-18 3-20 1-26 0-56-4-84 2-20 6-18 19-36 18-36 3-4 4-3 8 0 48 22 16 4 16 3 14 0 16-1 14-3 14-4 16-7 14-9 14-12 11-12 10-14 8-16 6-16zM690 538l-4 3-4 0-12-4-11-9-1-4 0-4 6-4 6-1 8 0 6 2 4 3 3 6 1 6z"/>
<path fill="#4332c9" transform="translate(10.9 20)" d="M428 368l2-14-1-14-4-14-6-12-10-12-11-9-12-7-14-5-14-1-14 1-14 4-12 6-11 9-9 10-7 12-4 14-2 14 1 16 4 14 7 12 9 11 10 8 12 7 14 5 14 1 14-1 14-4 12-6 12-9 9-10 6-12zM954 566l1-26-4-24-10-24-7-12-8-10-16-16-20-13-22-10-36-11-8-4-5-6-2-6-1-8 5-40 1-22-1-18-4-20-8-22-10-20-13-19-16-17-22-17-24-12-28-9-28-4-28 2-28 6-26 11-24 16-16 15-15 18-12 20-8 20-6 20-2 18-1 20 2 38-1 8-3 8-8 10-34 24-16 16-8 10-7 12-4 12-3 12-2 22 1 12 2 12 8 22 17 32 3 8 0 6-1 6-3 8-27 40-9 16-6 16-7 18-5 20-8 46-2 32-1 36-1 60 2 28 3 20 4 18 7 16 9 14 244 0 11-14 8-16 6-18 3-22 2-26-1-58-4-82 2-20 7-18 17-30 8-16 13-37 4-8 2-2 4-2 6 2 42 24 16 7 16 4 16 2 14 0 14-1 16-4 16-6 14-8 14-11 12-12 11-14 8-16 6-16zM706 548l-3 10-4 4-5 1-10-4-33-19-11-8-4-5-2-5 0-6 1-4 3-4 4-3 14-4 24-1 10 1 6 2 7 5 3 8 2 14z"/>
<path fill="#4435d1" transform="translate(14.3 26.1)" d="M424 362l1-14-2-12-4-12-7-12-10-10-10-8-12-5-14-4-14 0-12 2-12 4-12 7-10 10-7 10-6 12-3 12 0 12 1 14 5 12 7 12 9 10 10 8 12 5 14 4 14 0 12-2 12-4 12-7 10-9 8-11 5-12zM948 566l1-12 0-14-4-24-5-12-6-12-8-12-8-10-16-14-20-12-22-9-40-9-8-4-4-4-2-6 0-10 7-40 2-22-1-20-3-18-8-24-10-20-13-19-16-17-20-15-24-12-26-8-28-4-26 2-26 6-26 11-22 15-16 15-14 18-12 20-8 20-4 18-2 18-1 20 3 38 0 8-3 8-4 6-5 4-34 22-18 16-8 10-7 12-5 12-3 12-2 22 2 12 3 12 9 22 19 32 3 8 0 6-1 6-3 6-29 40-9 16-7 14-7 20-6 20-7 44-3 32-2 36 0 62 1 28 3 20 6 18 7 16 10 14 228 0 11-14 9-16 6-18 3-20 2-24 0-46-1-42-4-54 2-22 6-18 20-34 10-22 7-22 5-34 2-6 2-1 6 4 25 21 15 11 24 13 16 5 16 3 16 0 16-1 16-4 18-8 16-10 12-11 12-14 9-16 8-18zM716 531l-3 47-1 7-2 2-6-2-34-25-31-18-9-6-4-5-3-5-1-6 0-8 2-6 4-6 6-4 6-2 10-2 20-1 18-1 12 1 10 4 5 7 1 10z"/>
<path fill="#4538d8" transform="translate(17.6 32.2)" d="M420 362l1-14-2-12-5-12-6-10-8-9-10-7-12-6-12-3-12 0-12 1-12 4-10 6-9 8-8 10-6 12-3 12 0 12 2 14 4 12 6 10 8 9 10 7 12 6 12 3 14 0 12-2 12-4 10-7 9-8 7-10 5-10zM944 556l-1-24-3-12-4-12-5-12-6-10-8-10-9-9-16-12-20-10-22-7-42-7-8-3-3-4-1-6 0-8 9-40 3-22 1-20-3-20-7-24-10-22-14-20-16-16-21-16-24-11-26-7-24-3-26 2-24 6-24 11-22 15-15 15-14 18-10 18-8 22-4 16-2 18 1 20 4 38-1 8-3 8-2 4-6 5-36 20-18 15-8 10-8 12-5 12-3 12-2 12 0 12 2 12 3 12 11 22 22 32 2 6 1 6-1 6-4 8-30 36-9 14-8 16-8 20-5 18-5 20-4 24-3 32-2 36 0 66 1 28 3 20 6 18 7 16 10 14 216 0 13-16 9-18 5-12 3-14 2-30 0-68-5-76 1-20 3-10 4-10 21-34 10-22 7-24 1-24-2-12-4-10-6-10-8-10-19-15-12-8-26-13-6-4-6-6-4-10 0-12 3-12 6-8 9-5 18-2 54-2 10 1 6 3 3 5 1 8-3 44 1 24 3 16 5 14 7 10 8 10 21 19 22 12 24 8 24 2 22-2 22-8 20-12 17-15 14-20 9-22z"/>
<path fill="#463cdf" transform="translate(20.9 38.3)" d="M416 364l1-12-1-12-4-12-5-10-7-8-10-8-10-6-12-3-12-1-10 1-12 3-10 6-10 8-7 8-5 10-4 12-1 12 1 12 4 12 5 10 7 8 10 8 10 6 12 3 12 1 12-1 10-3 11-6 9-8 7-8 5-10zM938 568l2-14 0-14-3-14-3-12-5-12-7-12-8-11-10-10-18-13-22-9-26-6-42-3-6-2-4-4-1-4 1-8 12-40 4-22 2-22-2-20-5-24-10-22-12-20-17-18-20-16-22-11-24-7-26-4-26 2-24 6-24 11-20 14-16 15-14 18-9 18-8 22-4 18-1 18 1 20 5 36 0 8-2 6-4 6-5 4-37 19-10 6-10 9-9 10-7 12-5 12-3 12-2 12 1 12 2 12 3 12 12 22 24 30 3 6 1 6-1 6-4 8-32 36-10 14-8 14-8 18-6 18-5 20-4 22-3 30-2 36-1 68 1 30 3 20 5 18 7 16 9 14 4 4 204 0 14-16 10-20 7-24 2-32 0-68-5-74 1-20 2-10 4-10 24-36 8-18 7-22 1-22-2-14-5-12-7-12-8-10-10-8-12-8-38-19-8-9-4-12 0-18 4-13 6-8 6-3 10-2 40-2 38-3 12 0 6 3 3 4 0 8-6 40-1 24 3 20 5 18 6 10 7 10 17 17 20 14 22 8 22 4 22-1 20-5 20-10 18-14 14-17 11-20z"/>
<path fill="#4740e4" transform="translate(24.3 44.4)" d="M414 354l-1-12-3-10-4-10-6-8-8-7-10-6-10-4-12-2-12 1-10 2-10 5-9 7-8 8-6 10-3 10-2 12 1 12 3 10 5 10 7 10 8 6 10 6 10 3 12 2 12-1 10-3 10-5 8-6 7-8 6-10 3-10zM936 554l0-14-2-14-4-12-5-12-7-11-8-10-10-10-10-8-20-10-24-7-26-2-42 3-4-1-3-2 0-4 1-6 16-40 7-24 4-24 0-22-5-26-10-24-14-22-18-20-20-14-22-10-24-7-24-2-24 2-24 7-22 10-20 14-15 16-12 16-10 20-6 20-3 18-1 16 1 20 6 38 0 8-2 7-4 5-6 4-36 16-12 7-9 7-9 10-7 10-6 12-4 14-1 14 1 12 2 12 4 12 7 12 7 10 26 30 4 6 0 6-1 6-4 6-34 34-10 14-9 14-8 16-6 18-6 20-5 24-3 30-3 38 0 68 1 30 2 20 5 18 8 16 10 14 3 4 194 0 8-8 8-10 6-10 5-12 6-26 2-30 0-68-5-72 1-20 2-10 5-10 22-34 10-18 6-22 1-22-2-12-5-12-7-12-8-10-18-14-14-7-26-12-6-4-5-5-4-12 0-22 3-17 2-5 4-4 6-4 8-1 50-2 20-2 38-6 8 0 3 1 1 2 0 6-11 38-4 26 1 26 5 22 6 12 6 10 9 10 8 8 10 7 12 7 12 5 12 4 22 2 22-2 22-8 18-11 16-15 13-19 8-20z"/>
<path fill="#4745e9" transform="translate(27.6 50.5)" d="M410 362l1-10-1-10-3-10-5-10-6-8-8-6-10-6-10-3-12-1-10 1-10 3-10 6-8 6-6 8-5 10-3 10-1 10 1 10 3 10 5 10 6 8 8 6 10 6 10 3 10 1 12-1 10-3 10-6 8-6 6-8 5-10zM794 354l1-24-3-22-7-22-10-20-13-18-18-17-18-12-22-9-22-6-24-1-22 2-22 7-22 11-18 13-16 17-13 19-6 12-5 14-3 14-2 16 1 28 8 46 0 6-1 6-3 4-5 4-41 16-12 6-10 8-9 10-8 12-6 12-3 14-1 12 2 14 3 12 5 12 6 10 9 11 28 27 4 6 1 4-1 6-6 8-36 34-11 14-9 14-9 18-7 18-6 22-5 22-4 32-2 38 0 68 1 30 4 20 6 18 8 16 12 14 184 0 12-12 10-14 6-14 4-14 3-14 1-18 0-74-5-78 1-20 2-9 4-9 24-34 9-18 6-20 1-12 0-10-2-14-5-12-7-12-9-10-9-7-10-7-12-5-27-11-6-4-4-4-3-8-2-12 1-26 2-14 2-6 3-3 8-5 12-1 42 1 24-3 34-8 14-6 8-5 7-6 7-8 15-26 11-28zM932 560l0-18-3-20-7-18-10-15-12-13-16-12-18-9-18-4-20-2-22 1-22 5-14 6-10 9-10 14-8 18-5 22-3 22 2 20 4 18 10 18 13 16 15 12 18 10 20 6 20 2 20-3 18-6 18-10 16-15 12-16 8-18z"/>
<path fill="#4849ed" transform="translate(31 56.6)" d="M408 358l0-10-1-10-4-10-6-8-7-8-8-5-8-4-10-2-10 0-10 1-10 4-8 5-8 7-5 8-5 10-2 10 0 10 1 10 4 10 6 8 7 8 8 5 10 4 10 2 10 0 10-2 10-4 8-5 7-8 6-8 3-8zM790 356l1-22-2-22-6-22-10-20-12-18-17-16-18-13-22-9-22-6-22-1-22 2-22 6-20 10-19 13-15 16-14 20-6 14-5 14-3 14-1 16 0 14 2 16 10 44 0 6-1 6-3 4-6 4-41 13-12 5-11 8-10 10-9 12-5 12-4 14-1 14 2 12 4 14 6 12 7 10 9 10 31 26 3 4 2 6-1 6-6 8-39 33-11 13-10 14-9 16-7 18-7 20-5 24-4 32-3 38 0 70 1 30 4 22 6 18 9 16 12 14 176 0 12-12 11-16 6-12 4-14 3-16 1-18 0-74-6-78 1-18 2-10 5-10 23-32 10-18 6-20 1-20-2-14-4-12-8-12-9-10-18-13-12-6-30-11-6-4-4-4-3-8-1-10 1-40 2-12 3-7 4-3 4-1 12-1 40 2 24-2 30-6 12-5 12-6 10-7 8-8 8-10 7-12 12-26 4-14zM928 564l1-18-2-18-6-18-9-16-12-14-14-11-16-9-18-5-20-3-20 1-20 5-16 7-12 9-9 12-8 16-6 20-3 20 1 20 4 18 8 18 13 16 14 13 18 10 18 5 18 2 20-1 18-6 18-9 14-12 13-16 9-18z"/>
<path fill="#484df0" transform="translate(34.3 62.7)" d="M406 354l-1-10-2-8-3-8-6-8-8-7-8-5-8-3-10-2-10 1-10 2-8 4-8 6-7 8-5 8-2 8-2 10 1 10 2 10 4 8 7 8 8 7 8 4 8 3 10 1 10-1 8-2 8-4 8-6 7-8 5-8 3-8zM788 340l-1-20-4-20-8-20-11-18-14-16-16-13-18-11-20-7-20-4-22-1-22 4-20 6-20 11-16 13-14 15-11 17-6 14-5 16-3 14-1 16 1 14 2 16 12 46 1 6-1 6-4 4-5 2-28 6-16 4-12 6-10 6-11 10-9 11-6 13-4 14-1 12 2 14 4 14 6 12 9 12 10 9 33 23 4 4 2 6-2 8-6 8-43 35-11 11-10 14-9 16-8 18-7 20-5 22-4 34-3 36-1 72 2 30 3 22 7 18 9 16 12 14 168 0 15-14 11-16 5-12 4-14 3-16 1-18 0-74-2-32-5-44 1-20 3-10 4-8 24-32 10-18 6-20 1-20-2-14-5-12-7-12-10-10-10-8-12-6-40-14-4-2-4-5-3-7 0-8 0-58 0-8 2-4 3-3 8-2 52 4 16-1 16-2 26-7 22-11 10-7 10-10 9-13 7-12 6-14 6-16 3-16zM926 558l0-18-3-18-7-16-10-15-13-13-15-11-16-6-18-5-20-1-18 3-18 6-14 8-12 12-9 14-7 18-4 18-1 20 3 18 5 16 10 16 13 14 16 11 16 8 18 4 18 0 18-3 18-7 16-10 13-13 10-14 8-18z"/>
<path fill="#4851f4" transform="translate(37.6 68.8)" d="M402 364l1-8 0-10-1-8-4-8-5-8-7-6-8-6-8-3-8-1-10 0-10 2-8 3-8 6-6 7-5 8-3 8-1 8 0 10 2 10 4 8 6 8 7 6 8 5 8 2 8 2 10-1 8-2 9-4 7-5 6-7 5-8zM784 350l1-22-4-22-7-20-10-18-12-16-16-14-18-11-20-9-20-4-22-1-22 3-20 7-18 9-16 12-15 16-11 18-7 14-5 16-2 16-1 18 4 28 16 50 1 6 0 5-3 3-5 2-28 2-18 3-12 4-12 6-12 9-10 12-7 14-4 14-1 14 2 14 5 14 7 12 8 10 12 10 35 20 4 4 2 6-2 10-8 10-9 8-24 16-12 10-12 12-9 12-10 16-8 18-6 18-6 22-5 32-2 40-1 72 1 30 4 22 6 18 10 16 13 14 160 0 15-14 13-18 5-12 4-14 2-16 1-18 0-74-2-30-5-46 1-18 2-10 5-10 24-31 10-17 7-20 1-20-3-14-5-12-8-12-10-10-10-7-12-6-40-12-5-3-3-4-3-10 1-42-4-42 2-4 8-2 52 7 30 0 26-6 24-9 12-8 9-8 9-10 9-12 6-12 6-14 4-14zM922 566l2-16-2-18-5-16-8-16-11-14-12-10-16-9-16-6-18-3-18 1-18 4-16 7-14 10-10 12-7 14-7 18-2 18 0 18 4 18 8 16 10 14 14 13 16 9 18 7 18 2 18-2 18-5 15-8 15-12 11-14 8-16z"/>
<path fill="#4756f6" transform="translate(41 74.9)" d="M400 362l1-8 0-8-2-8-4-8-5-8-6-5-8-5-8-3-8-1-10 0-8 2-8 4-8 6-5 6-4 8-3 8-1 8 0 10 3 8 4 8 6 8 6 5 8 4 8 2 8 1 8 0 8-2 8-4 8-6 5-6 5-8zM682 652l1-18-3-16-7-16-10-12-11-9-12-6-16-6-30-7-5-2-4-4-2-10 2-36-2-24-2-12-5-12-4-8-4-5-10-5-14-3-16 0-16 1-14 4-12 6-10 7-10 9-10 16-5 18-1 10 1 10 6 18 9 15 12 12 16 11 32 14 3 4 2 6-4 12-9 12-10 8-24 16-12 9-12 11-10 12-9 14-8 18-7 20-6 20-5 32-3 38-1 74 1 32 4 22 7 18 10 16 14 14 152 0 13-11 11-13 8-14 4-14 4-16 1-18 0-80-2-32-5-44 1-20 2-10 6-10 22-27 8-13 7-14zM780 358l2-24-3-24-7-22-11-20-15-18-18-14-20-11-24-7-24-2-24 3-22 7-20 11-18 15-14 18-11 20-7 24-2 26 3 26 10 30 14 30 7 9 8 6 16 6 26 6 28 3 26-1 26-6 22-11 18-14 15-18 12-24zM920 562l1-18-2-16-6-16-8-14-11-12-14-11-16-8-16-4-18-2-18 2-16 5-14 7-12 10-10 13-8 16-4 18-2 18 2 18 6 16 8 14 12 14 14 11 16 8 16 4 18 1 16-2 16-6 16-9 12-11 11-14 7-16z"/>
<path fill="#475af9" transform="translate(44.3 81)" d="M398 360l1-8-1-8-2-8-4-7-5-7-7-5-14-6-8-1-8 0-8 3-8 4-7 5-5 6-4 8-2 8-1 8 1 8 2 8 4 7 5 7 7 5 14 6 8 1 8 0 8-3 8-4 7-5 5-6 4-8zM680 650l1-16-3-16-8-16-10-12-12-9-12-5-16-5-30-5-6-3-3-3-2-4 0-6 3-34-1-24-3-12-3-10-5-8-6-7-10-6-12-4-14-1-14 1-14 3-12 6-10 6-10 10-10 16-3 10-2 10 0 10 2 10 7 18 10 14 12 10 16 9 32 11 5 4 1 6-2 8-3 8-11 14-9 8-27 16-12 9-12 11-10 12-9 14-9 18-6 18-5 20-6 32-3 38-1 74 2 32 4 22 7 18 10 16 14 14 145 0 15-12 11-14 8-14 4-14 3-16 2-18-1-78-2-32-5-46 1-20 3-10 4-8 23-28 10-14 5-12zM778 352l1-24-4-22-8-22-11-18-16-17-18-14-22-10-22-5-24-1-22 4-22 8-18 11-17 16-14 18-10 22-5 22-1 24 4 26 10 26 13 24 10 11 12 8 22 8 24 5 26 1 24-3 22-7 20-11 16-14 14-20 10-22zM918 558l0-16-2-16-7-16-9-14-12-12-12-9-16-7-16-4-18 0-16 2-16 6-14 8-10 10-10 14-7 16-3 16-1 18 3 16 5 16 9 14 12 13 14 10 16 7 16 3 16 1 16-3 16-6 14-9 12-12 10-14 7-16z"/>
<path fill="#465efb" transform="translate(47.7 87.2)" d="M396 360l1-8-1-8-2-8-4-6-10-11-6-3-8-3-8-1-8 1-8 2-6 3-6 5-6 7-4 6-2 8-1 8 1 8 2 8 4 6 5 6 7 6 6 3 8 2 8 1 8-1 8-3 6-3 10-11 4-6zM678 648l0-18-4-16-8-14-12-12-12-7-14-6-16-3-30-3-6-2-2-3-1-8 6-38 0-20-2-12-5-12-4-8-8-8-8-5-12-5-12-1-14 1-12 2-12 5-10 7-10 9-6 9-4 8-3 10-2 10 1 10 2 10 3 10 5 8 10 12 14 11 18 8 33 7 4 4 1 4-2 8-5 12-7 10-6 8-10 8-28 17-12 8-12 11-10 12-9 14-8 16-7 18-5 20-5 32-4 38-1 74 2 32 4 22 8 20 11 16 13 12 139 0 15-12 13-16 7-14 4-14 3-16 1-18 0-78-2-30-6-48 1-20 2-8 6-10 22-26 10-14 7-14zM776 346l0-22-5-22-8-20-14-20-16-16-19-12-20-8-22-4-22 0-22 5-20 8-20 14-16 16-12 19-8 20-4 22 0 24 5 24 10 24 13 21 12 11 16 9 22 7 24 4 24 0 24-5 20-8 18-12 15-15 13-20 8-22zM916 556l0-16-4-16-5-14-10-14-11-11-14-9-16-7-16-3-16 0-16 3-14 6-14 9-10 10-9 14-6 16-3 16 0 16 3 16 6 16 9 13 11 11 13 9 16 7 16 3 16 0 16-3 16-7 13-9 12-12 9-14 5-14z"/>
<path fill="#4562fc" transform="translate(51 93.3)" d="M394 358l0-14-3-8-3-6-6-6-5-4-13-5-14 0-8 2-6 4-6 5-5 6-3 6-2 8 0 14 3 8 3 6 6 6 6 5 6 2 8 2 14 0 8-3 6-4 9-10 3-6zM676 646l0-18-5-16-5-8-6-7-14-12-16-7-18-3-22-1-26 2-4 3-18 35-13 18-11 9-28 16-14 10-14 13-12 16-9 16-8 20-6 22-4 22-3 24-2 28-1 78 3 30 2 14 4 12 6 12 7 10 8 8 9 8 132 0 18-14 12-16 6-12 5-14 3-16 1-20-1-78-2-30-5-46 0-20 3-10 5-8 24-28 10-14 6-14zM576 524l1-14-1-12-2-12-4-10-6-9-7-7-9-5-10-4-12-1-14 1-12 3-12 5-10 7-9 10-6 10-4 12-1 12 1 12 3 12 6 12 9 10 11 9 12 6 12 4 12 1 14 1 16-1 6-2 4-8 6-16zM772 356l2-22-3-22-6-20-11-20-14-16-18-15-20-10-20-5-22-2-22 3-20 6-20 11-16 14-15 18-10 20-5 20-2 22 3 24 8 24 11 21 12 15 14 10 18 9 22 5 24 2 22-2 22-6 20-11 16-13 14-18 10-20zM914 552l-1-16-4-16-7-14-10-12-12-11-14-8-14-4-16-3-16 1-16 4-14 7-11 8-10 12-8 14-5 14-2 16 0 16 4 16 7 14 9 12 12 11 14 9 14 5 16 2 16-1 14-3 15-7 13-10 11-12 8-14 5-14z"/>
<path fill="#4367fd" transform="translate(54.4 99.4)" d="M392 358l0-14-5-12-5-5-6-5-12-5-14 0-8 3-6 3-5 5-5 6-4 12 0 14 6 13 10 9 6 3 8 2 14 0 12-6 5-5 5-6zM674 646l0-16-5-16-9-14-11-10-15-8-16-4-20-1-18 2-10 4-8 6-7 9-17 28-10 12-10 7-28 15-14 10-14 14-12 16-9 18-7 18-5 20-5 24-2 24-2 28-1 78 3 30 3 12 4 12 6 10 7 10 8 9 9 7 125 0 18-13 14-17 7-14 4-14 3-16 1-18-1-78-2-32-6-46 1-20 3-10 5-8 24-26 10-14 6-14zM574 520l1-12-2-12-3-12-5-10-6-8-8-6-9-4-10-3-12-1-12 2-12 4-10 5-10 8-7 9-5 10-3 12-1 12 2 12 4 12 7 10 9 9 10 7 12 6 12 2 12 1 12-1 10-3 6-4 6-7 6-12 4-12zM770 354l2-22-3-20-7-20-11-20-14-16-17-13-20-10-20-5-22-1-20 2-20 7-20 11-16 14-13 17-10 20-5 20-2 22 3 22 7 22 12 21 12 14 14 11 18 8 22 6 24 2 22-3 20-6 20-11 16-14 13-18 10-20zM910 566l2-14-1-16-4-14-7-14-9-12-11-10-14-8-14-5-16-2-16 0-14 4-14 6-11 9-9 10-9 14-5 14-2 16 1 16 3 14 6 14 10 13 12 11 14 8 14 5 16 2 16-1 14-4 14-7 12-10 10-11 8-14z"/>
<path fill="#416bfe" transform="translate(57.7 105.5)" d="M390 358l0-12-5-12-9-10-12-5-8-1-6 1-12 5-9 10-5 12 0 8 0 6 6 12 10 9 12 4 12 0 12-5 9-10zM672 646l0-16-4-14-7-12-11-11-14-8-16-5-18-1-16 2-12 5-10 7-8 11-17 26-9 10-10 8-28 14-14 10-15 14-12 18-8 16-8 20-5 22-4 22-4 52-1 78 4 30 7 22 6 10 8 10 8 8 8 6 119 0 9-6 10-8 8-8 7-10 6-12 4-14 3-16 1-20-1-80-3-30-6-46 1-18 3-10 4-8 25-26 10-14 7-14zM572 516l0-12-2-10-3-10-5-10-8-8-8-6-10-3-10-2-12 0-10 2-12 5-9 6-8 8-6 8-4 10-3 12 0 12 3 10 4 10 7 10 8 8 10 7 12 4 12 3 12 0 10-2 8-3 8-7 6-8 5-10 3-12zM768 352l1-22-3-20-7-20-11-18-14-15-16-12-20-10-20-5-22-1-20 3-20 7-18 11-15 14-12 16-10 20-5 20-1 22 3 22 7 20 12 20 12 14 15 11 18 8 22 5 22 1 22-3 20-7 18-10 16-15 12-16 9-20zM908 564l2-14-1-14-4-14-7-14-10-12-10-9-14-8-14-4-14-2-16 1-14 3-14 7-12 10-9 10-7 14-4 14-2 16 1 14 4 14 7 14 10 12 10 9 14 8 14 4 14 2 16-1 14-5 14-7 12-10 8-10 8-14z"/>
<path fill="#3e70ff" transform="translate(61 111.6)" d="M388 356l-1-12-2-6-4-6-9-8-12-3-12 1-10 5-8 9-4 12 1 12 2 6 4 6 9 8 12 3 12-1 10-5 8-9zM670 646l0-14-4-15-8-13-10-10-12-7-16-5-16-1-16 3-12 5-12 9-7 10-17 26-9 10-9 6-28 14-15 10-14 14-13 18-9 18-6 18-6 22-4 22-4 52 0 76 4 30 7 22 6 10 8 10 8 7 10 7 111 0 11-7 10-8 9-9 6-10 6-12 4-14 3-16 1-20-1-78-3-30-6-48 0-18 3-10 5-8 25-25 10-13 7-14zM568 526l2-12 0-10-2-10-4-10-4-8-8-8-8-5-8-4-10-2-12 0-10 2-10 4-10 7-8 8-5 8-5 10-2 10 1 12 2 10 4 10 7 9 8 8 10 6 10 4 10 2 12 0 10-2 10-5 7-6 6-8 5-10zM766 350l1-22-4-20-7-18-11-18-15-16-16-11-18-8-20-5-22-1-20 4-18 7-18 11-16 15-11 16-8 18-5 20-1 20 4 22 8 22 11 18 12 13 16 11 18 8 20 4 22 1 20-3 20-7 18-11 15-14 11-16 9-20zM906 564l2-14-1-14-4-14-7-13-9-11-11-10-12-7-14-4-14-2-16 1-14 4-12 6-12 9-9 11-7 12-4 14-2 16 1 14 4 14 6 12 10 12 11 10 12 6 14 5 14 2 16-2 14-4 12-6 12-10 9-11 7-12z"/>
<path fill="#3974fe" transform="translate(64.4 117.7)" d="M386 356l-1-12-5-10-8-7-10-4-12 1-10 4-8 9-4 11 1 12 5 10 10 8 10 3 12-1 10-6 7-8zM668 646l0-14-4-14-7-12-10-10-13-8-14-4-16 0-14 2-12 5-11 9-9 11-16 25-9 10-9 7-28 13-16 11-16 15-12 18-8 16-7 20-5 20-3 22-4 52 0 78 4 28 4 12 4 10 7 10 6 8 10 8 9 6 104 0 13-7 10-8 8-9 8-12 7-14 3-14 2-16 1-20-1-76-3-30-7-46 0-12 1-8 2-8 5-8 26-26 10-12 7-14zM566 524l2-12-1-10-2-10-3-8-6-8-6-6-8-6-8-3-10-1-10 0-10 2-10 4-9 6-8 8-5 8-4 10-2 10 1 10 2 10 5 10 6 8 8 8 8 4 10 4 12 2 10 0 10-2 8-4 7-6 6-8 5-10zM764 348l1-20-4-20-8-20-11-16-14-15-16-11-18-8-20-4-20-1-20 4-20 8-16 11-15 14-11 16-8 18-4 20-1 20 4 20 7 20 11 18 13 14 16 10 18 8 20 4 22 1 20-4 20-8 16-10 14-13 12-18 8-18zM904 564l2-14-1-14-4-14-7-12-8-11-11-9-11-6-14-5-14-2-14 1-14 3-12 6-12 9-9 10-7 12-4 14-2 14 1 14 4 14 5 12 9 12 11 9 12 7 14 5 14 2 14-1 14-4 12-6 12-9 9-11 7-12z"/>
<path fill="#3579fd" transform="translate(67.7 123.8)" d="M384 354l-1-10-5-9-8-7-10-3-10 1-10 5-7 9-3 10 1 10 6 10 9 7 10 2 10-1 9-6 6-8zM666 648l0-14-3-14-7-12-9-10-13-8-14-4-14 0-15 2-13 6-10 8-9 12-16 26-9 10-10 6-28 13-14 9-16 15-13 19-7 16-7 18-5 20-4 24-4 52 0 76 5 28 3 12 5 10 7 10 7 8 7 6 10 7 2 1 98 0 12-7 12-9 10-10 6-10 7-14 3-14 2-16 1-22-1-76-3-28-7-48 0-18 3-10 5-8 25-24 10-12 7-12zM564 524l1-10 0-10-2-10-3-8-5-8-7-7-8-5-8-3-10-1-10 0-10 3-8 3-8 6-6 6-6 8-4 10-1 10 0 10 2 10 4 8 6 8 7 7 8 5 10 4 10 2 10 0 10-3 8-4 7-5 6-8 4-8zM762 348l0-20-3-20-7-18-11-16-13-14-16-11-18-9-20-4-20 0-20 3-18 7-16 11-14 13-11 16-9 18-4 20 0 20 3 20 8 20 10 16 13 14 14 10 18 8 20 4 20 1 20-3 18-7 18-11 15-14 11-16 8-18zM902 564l2-12-1-14-4-14-6-12-7-10-12-10-12-7-12-4-14-2-14 1-14 3-12 6-11 9-9 10-6 12-4 12-2 14 1 14 4 14 6 12 7 10 12 10 12 7 12 4 14 2 14-1 14-4 11-6 11-8 9-10 7-12z"/>
<path fill="#317dfb" transform="translate(71.1 129.9)" d="M380 360l2-10-3-10-7-8-8-4-10-1-8 3-8 6-4 8-2 10 3 10 7 8 8 4 10 1 8-3 8-6zM664 648l1-14-3-12-6-12-10-10-12-7-14-5-14 0-14 2-12 6-12 10-8 11-15 25-9 10-10 7-28 12-16 10-15 15-13 19-7 15-7 18-5 22-3 22-4 52 0 74 4 28 4 12 5 10 7 10 6 7 8 7 10 6 3 2 91 0 14-7 12-9 9-10 8-12 6-14 4-14 2-18 0-22-1-74-3-28-8-48 1-18 3-10 5-7 25-23 10-12 7-12zM562 522l1-10 0-8-2-10-4-8-5-7-6-6-8-5-8-3-8-1-10 0-10 3-8 4-8 6-6 6-5 9-3 8-1 8 0 10 3 10 4 8 6 8 7 6 7 4 10 4 10 1 10 0 8-3 8-4 6-5 5-7 4-8zM760 346l0-20-3-18-8-18-10-16-14-14-17-11-18-8-18-3-20 0-18 3-18 8-16 10-14 14-11 17-8 18-3 18 0 20 4 20 7 18 11 17 12 12 16 10 18 8 20 3 20 0 18-3 18-7 16-11 14-13 10-16 8-18zM900 564l2-12-1-14-3-12-6-12-8-11-10-9-12-7-12-4-12-2-14 0-14 4-12 5-10 8-9 10-7 12-4 12-2 12 0 14 4 14 6 12 8 11 10 9 12 7 12 4 12 2 14-1 14-3 12-6 11-9 9-10 6-12z"/>
<path fill="#2f82fa" transform="translate(74.4 136)" d="M379 358l0-10-3-8-6-6-8-4-8 0-8 2-6 6-5 8 0 10 3 8 6 6 8 4 8 0 8-2 7-6zM662 648l1-14-3-12-7-12-9-9-12-7-12-4-14 0-14 3-12 6-10 9-9 12-15 25-8 9-10 7-28 12-16 9-16 16-13 18-7 16-6 18-5 20-4 22-4 50 0 74 4 28 4 12 5 10 6 10 7 8 9 8 8 5 6 3 84 0 14-7 13-9 10-10 8-12 6-14 5-18 1-18 1-30-2-66-3-26-8-46-1-12 1-8 3-8 5-8 25-22 11-12 7-12zM560 520l1-10-1-8-2-8-4-8-4-6-7-6-7-4-8-3-8-1-10 1-8 2-8 4-8 6-6 7-4 8-2 8-1 8 0 10 3 8 4 8 6 7 8 7 8 4 8 2 10 1 8-1 8-2 6-4 7-6 5-7 4-8zM758 346l0-18-3-18-7-18-10-16-14-14-16-11-18-8-18-3-18 0-18 3-18 7-16 10-14 14-11 16-8 18-3 18 0 20 3 18 7 18 11 16 13 14 14 9 18 7 20 4 20 0 18-3 18-8 16-10 13-13 10-16 8-18zM900 552l-1-14-3-12-6-12-8-10-8-8-12-7-12-4-12-2-14 0-12 3-12 5-10 8-9 9-6 10-5 12-2 14 0 14 3 12 6 12 7 10 10 10 10 6 12 5 14 2 14-1 12-3 12-5 10-8 9-10 6-10 5-12z"/>
<path fill="#2e86f7" transform="translate(77.7 142.1)" d="M376 356l0-8-3-8-5-5-8-3-8 1-6 2-6 7-2 6 0 8 3 8 5 5 8 3 8-1 6-2 6-7zM660 650l1-14-2-12-7-12-8-9-11-7-13-4-14 0-12 2-12 6-11 10-9 12-14 25-8 10-10 7-30 11-16 10-15 15-13 19-7 15-6 18-5 20-4 22-3 50 0 74 4 26 4 12 4 10 5 8 8 9 8 7 10 6 8 4 76 0 16-7 13-9 11-11 8-13 7-16 3-18 2-20 0-38-2-56-4-26-7-44-1-12 1-8 2-8 6-8 25-21 11-11 7-12zM558 520l0-16-1-8-4-8-5-7-6-5-6-4-8-3-8-1-10 1-8 2-8 5-6 4-6 7-4 7-2 8-1 8 1 10 2 8 4 7 6 7 6 5 8 4 8 3 8 1 8-1 8-2 7-4 7-6 4-6 4-8zM756 348l0-20-3-18-6-16-10-16-13-14-15-10-17-8-18-4-18-1-18 3-18 7-16 10-14 13-10 15-8 17-4 18 0 20 3 18 7 18 10 16 12 13 14 10 18 7 18 4 20 1 18-4 16-6 16-10 14-13 10-14 8-18zM898 554l0-14-3-12-6-12-7-10-9-8-11-7-12-4-12-2-12 0-12 2-12 5-11 8-9 10-6 10-4 12-2 12 0 12 2 12 6 12 6 10 10 9 10 7 12 5 12 2 14 0 12-3 12-5 10-7 9-10 6-10 5-12z"/>
<path fill="#2d8af5" transform="translate(81.1 148.2)" d="M374 352l-1-6-4-6-5-4-6-1-7 1-6 4-4 6-1 6 1 6 4 6 6 4 7 1 6-1 5-4 4-6zM658 650l1-14-2-12-5-10-10-10-10-6-12-4-14 0-12 2-12 7-10 9-8 12-15 26-7 9-10 7-30 11-16 9-16 15-14 21-7 16-6 18-4 20-4 22-3 50 1 72 4 26 8 20 5 8 8 9 9 7 9 6 10 4 68 0 16-7 14-9 12-11 9-13 6-16 4-20 1-20 0-42-3-54-3-24-8-44 0-18 2-8 5-8 27-22 12-12 6-10zM556 518l1-8-1-8-6-14-4-6-6-5-6-3-8-3-8 0-8 0-8 3-8 4-6 5-5 7-3 6-3 8 0 8 1 8 2 8 4 6 6 7 6 5 8 4 8 2 8 0 8-1 8-3 6-4 6-6 4-6zM754 348l1-18-3-18-6-16-10-16-13-14-15-11-16-7-18-4-18-1-18 3-16 6-16 10-14 13-11 15-7 16-4 18-1 18 3 18 7 18 10 16 13 14 14 9 16 7 18 4 18 1 18-3 18-7 14-9 14-13 11-15 7-16zM896 556l0-12-2-12-5-12-6-10-9-9-10-7-12-5-12-2-12-1-12 3-12 4-10 7-8 8-7 10-5 12-2 12 0 12 2 12 5 12 6 10 9 9 10 7 12 5 12 2 12 0 12-2 12-5 10-7 9-9 6-10 5-10z"/>
<path fill="#2c8ef1" transform="translate(84.4 154.3)" d="M370 356l1-6-3-6-4-4-4-2-6 0-4 2-4 4-2 4-1 6 3 6 4 4 4 2 6 0 4-2 4-4zM656 650l2-12-3-12-5-11-8-9-10-6-12-4-14 0-12 3-12 6-10 10-8 13-12 24-8 10-10 6-30 11-18 10-8 7-8 8-13 20-6 14-6 18-5 20-3 22-3 50 0 70 4 26 8 20 5 8 7 9 8 7 10 6 14 6 60 0 18-7 14-9 13-12 9-14 6-16 4-20 1-20-1-46-2-50-4-24-8-44-1-18 3-8 5-8 27-20 12-12 6-10zM554 516l0-14-3-8-4-6-5-6-6-4-6-3-8-2-14 1-8 3-6 4-6 5-4 6-3 6-2 8 1 14 3 8 3 6 6 6 6 4 6 3 8 2 14 0 8-3 6-4 6-6 4-6zM752 348l1-18-3-18-6-16-10-16-12-12-14-11-16-7-18-4-18-1-18 3-16 6-16 10-12 12-11 14-7 16-4 18-1 18 3 18 7 18 9 15 12 12 14 10 16 7 18 4 18 1 18-3 16-6 16-10 13-12 10-14 7-16zM894 558l1-12-2-12-5-12-6-10-8-9-10-7-10-4-12-3-12-1-12 2-11 4-10 6-9 8-7 10-4 10-3 12-1 12 2 12 5 12 6 10 8 9 10 7 10 4 12 3 12 1 12-2 10-4 10-6 9-8 7-10 5-10z"/>
<path fill="#2b92ee" transform="translate(87.8 160.5)" d="M366 356l1-4-1-4-2-3-4-2-4-1-4 2-4 4-1 4 1 4 2 3 4 2 4 1 4-2zM654 652l2-12-2-12-4-10-8-9-10-7-12-4-12-1-12 3-12 6-11 12-8 12-12 26-7 8-10 7-32 10-16 9-8 7-8 8-7 9-7 12-7 16-6 18-4 20-3 20-3 50 0 70 4 24 4 12 5 9 6 9 7 8 7 6 10 6 16 6 50 0 6-2 18-7 14-9 11-10 9-14 6-16 4-20 1-22 0-48-4-50-3-24-9-42-1-18 3-8 6-8 27-19 10-10 7-9zM552 514l-1-14-3-7-4-6-10-8-6-2-8-2-14 2-12 7-8 10-3 6-2 8 2 14 6 12 11 9 6 3 8 1 8 0 6-1 6-3 6-4 8-11zM750 350l1-18-2-16-5-16-10-16-12-14-13-10-15-7-18-5-18-1-16 2-16 5-16 10-14 12-10 13-7 15-5 18-1 18 2 18 6 16 9 15 12 14 14 10 16 7 16 4 18 1 16-2 16-5 16-9 14-13 10-13 7-15zM892 558l1-12-2-12-4-10-5-10-8-8-10-8-10-5-12-3-12 0-12 2-10 4-10 6-8 7-7 9-4 10-4 12 0 12 2 12 4 10 5 10 8 8 10 8 10 5 10 2 12 1 10-1 12-4 10-6 8-7 8-10 5-10z"/>
<path fill="#2896ec" transform="translate(91.1 166.6)" d="M358 354l1-2-1-2-2 0-1 2 1 2zM652 652l2-12-1-10-5-11-7-9-9-6-12-4-12-1-12 3-12 7-10 11-7 12-12 26-7 10-10 6-32 9-16 8-8 6-9 9-7 10-7 12-6 14-6 18-4 18-4 22-3 50 1 70 4 26 4 10 5 10 6 9 7 7 8 6 9 5 19 7 39 0 12-3 16-6 14-9 12-12 9-14 6-16 4-20 0-22 0-50-3-48-4-24-10-44-1-10 1-8 3-8 5-6 26-17 12-10 8-11zM548 522l2-14-3-12-8-10-5-4-6-3-6-1-8 0-12 3-10 8-7 11-1 6-1 8 4 12 7 10 12 7 6 2 8 0 12-3 10-8zM748 350l1-18-2-16-5-16-10-16-10-12-14-10-16-8-16-4-18-1-16 2-16 5-16 10-12 10-10 14-8 16-4 16-1 18 2 16 5 16 9 16 11 12 14 11 16 7 16 4 18 1 16-2 16-5 16-10 12-10 10-14 8-16zM890 560l1-10-1-12-4-12-5-10-7-8-10-8-10-5-10-3-12 0-10 1-10 3-10 5-9 7-7 9-6 11-2 10-1 12 1 11 4 11 5 10 7 8 10 8 10 5 10 2 12 1 10-1 10-3 10-6 8-6 8-10 5-10z"/>
<path fill="#2699e9" transform="translate(94.5 172.7)" d="M652 642l-1-10-3-10-6-8-8-7-10-4-10-2-10 1-10 3-10 7-10 11-7 13-10 26-6 8-10 6-33 9-18 9-10 8-7 8-8 10-6 12-6 14-6 18-4 20-3 20-2 50-1 48 1 20 5 24 3 10 5 10 6 8 8 8 17 11 12 4 13 3 23 0 22-5 16-7 14-10 10-10 8-14 6-16 3-20 1-26-1-52-4-44-13-66-2-10 1-8 2-6 5-7 30-18 12-11 9-14zM546 520l1-12-3-12-8-10-10-5-12-1-12 4-10 8-5 10-1 12 3 12 9 10 10 5 12 2 12-4 6-5 4-4zM746 352l2-18-2-16-5-16-8-14-11-13-14-11-14-7-16-5-18-2-16 2-16 5-14 8-13 11-11 14-7 14-5 16-2 16 2 18 5 16 8 14 11 14 12 9 16 9 16 4 18 2 16-2 16-5 14-8 12-10 11-13 8-16zM888 560l2-10-2-12-3-10-5-10-6-8-10-8-10-5-10-3-12-1-10 1-10 4-10 5-8 7-7 8-5 10-3 10-1 12 1 10 4 10 5 10 6 8 10 8 10 5 10 3 12 1 10-2 10-3 10-6 8-6 6-8 5-10z"/>
<path fill="#259de7" transform="translate(97.8 178.8)" d="M650 644l0-10-3-10-6-8-6-6-9-5-10-2-10 0-10 3-12 8-9 12-7 14-8 24-6 9-10 6-34 7-18 9-10 8-8 8-8 11-6 11-6 15-5 16-4 18-3 22-3 48 0 68 4 24 4 10 5 10 5 8 8 8 7 6 10 6 16 5 16 2 18-1 18-4 16-6 14-10 10-10 9-14 6-16 3-20 0-32 0-48-5-46-14-64-2-10 0-8 2-6 5-6 30-17 14-11 8-12zM544 518l1-12-4-10-7-8-10-5-12 0-10 3-8 8-5 10-1 12 4 10 8 9 10 4 12 1 10-4 8-8zM744 352l2-16-2-16-4-16-8-14-11-14-13-10-14-8-16-4-16-2-16 2-16 4-14 8-13 10-11 14-8 14-4 16-2 18 2 16 5 16 8 14 10 12 13 11 14 7 16 4 16 2 16-2 16-4 14-8 14-11 10-13 8-14zM886 562l2-10-1-12-3-10-4-9-6-8-8-7-10-6-10-4-10-1-10 1-10 2-10 5-8 5-8 9-5 9-3 10-2 10 1 12 3 10 4 9 6 8 8 7 10 6 10 3 10 2 10-1 10-2 10-5 9-7 7-8 5-8z"/>
<path fill="#23a0e5" transform="translate(101.1 184.9)" d="M648 644l0-10-2-8-5-8-7-6-8-5-10-2-10 0-10 4-11 7-9 12-6 14-8 28-4 6-4 3-6 3-36 6-18 8-10 7-9 9-7 10-8 14-5 14-6 18-6 38-3 50 0 46 1 20 4 24 8 18 6 8 8 8 8 6 9 5 14 5 16 2 18-1 18-4 16-7 12-8 10-10 9-14 6-18 3-20 1-42-1-40-5-44-4-22-12-44-1-10 0-8 2-6 4-5 30-14 14-10 10-13zM542 516l0-10-4-10-6-6-10-5-10 0-10 5-7 6-4 10 0 10 4 10 7 7 10 4 10 0 10-5 6-6zM744 340l-1-16-4-16-7-15-10-13-12-11-14-8-14-5-16-2-16 1-16 4-15 7-13 10-11 12-8 14-5 14-2 16 1 16 4 16 7 15 9 13 11 10 14 8 16 6 16 2 16-1 16-4 15-7 13-10 11-12 8-14 5-14zM886 552l0-10-3-10-4-10-6-8-9-8-8-4-10-4-10-1-10 0-10 3-9 4-8 6-7 8-5 8-4 10-1 10 0 10 3 10 4 10 6 8 9 8 8 4 10 4 10 1 10-1 10-2 8-4 9-6 7-8 5-8 3-10z"/>
<path fill="#20a4e3" transform="translate(104.5 191)" d="M646 644l0-10-3-8-5-8-6-5-8-4-10-2-10 1-8 3-12 9-8 12-6 16-4 27-4 7-10 3-38 5-10 3-8 4-10 7-10 10-8 11-7 13-6 16-5 16-6 38-3 50 0 44 1 20 5 24 8 18 6 8 7 7 16 11 14 5 16 2 18-1 18-4 16-7 12-9 11-12 8-12 5-18 3-20 0-48-1-38-2-22-3-22-5-22-13-44-2-10 0-8 1-4 4-4 30-10 16-10 6-6 6-8 2-6zM539 518l1-10-3-8-5-7-8-4-10-1-8 2-7 6-5 8 0 10 2 8 6 7 8 5 10 0 8-2 7-6zM742 344l0-16-3-16-6-14-9-13-11-11-13-9-14-6-16-3-16 0-16 3-14 6-13 9-11 11-9 13-6 14-3 16 0 16 3 16 6 14 9 14 10 10 14 9 14 6 16 3 16 0 16-3 14-6 13-9 11-11 9-13 6-14zM884 554l0-10-2-10-4-10-6-8-6-6-9-6-9-3-10-2-10 0-10 2-8 3-8 6-8 8-5 8-3 8-2 10 0 10 2 10 4 10 6 8 6 6 9 6 9 3 10 2 10 0 10-2 8-4 8-5 8-8 5-8 3-8z"/>
<path fill="#1ea7e1" transform="translate(107.8 197.1)" d="M604 904l-1-64-4-44-9-40-19-58-3-4-4-2-8-2-14 0-26 2-10 3-8 3-10 7-8 7-13 18-6 12-5 14-8 30-3 22-2 26-1 74 3 28 4 12 4 10 8 12 9 10 12 8 12 4 14 3 14 1 16-2 14-4 13-6 11-8 9-8 7-10 5-12 4-12 2-14zM536 516l0-8-2-7-6-7-6-3-8 0-8 3-6 5-3 7 0 8 2 8 6 6 7 3 8 0 8-3 6-6zM644 644l0-8-2-8-5-8-7-6-8-4-8-1-8 0-8 3-6 4-7 6-5 8-4 8-3 10-1 12 0 10 2 9 4 4 10 2 16-3 14-5 10-6 8-8 6-9zM740 346l1-16-3-14-5-14-8-14-11-11-12-9-14-6-16-4-16-1-14 3-14 5-14 8-11 11-9 12-6 14-4 16-1 16 3 16 6 14 8 13 10 11 12 8 14 7 16 3 16 1 14-3 14-5 14-8 11-11 9-12 6-14zM882 556l1-10-2-8-3-10-5-8-7-8-8-5-8-4-10-2-10-1-9 2-9 3-8 5-6 6-6 8-4 8-2 10-1 10 2 8 3 10 5 8 7 8 8 5 8 4 10 2 10 1 9-2 9-4 8-5 6-5 6-8 4-9z"/>
<path fill="#1babde" transform="translate(111.2 203.2)" d="M602 916l0-66-3-48-4-22-5-20-17-46-4-8-5-6-6-4-6-2-14-1-14 0-12 2-10 4-10 5-8 7-8 8-6 9-12 24-8 30-3 22-2 26-1 72 2 30 3 12 3 10 6 10 8 10 10 9 12 6 12 4 14 2 14-1 14-2 12-4 12-6 10-7 8-9 7-10 6-12 3-14zM532 516l1-6-1-6-4-5-6-4-6-1-7 2-5 4-3 6-1 8 2 6 4 4 6 3 6 1 6-2 5-4zM642 644l0-8-2-8-4-6-6-6-6-3-8-2-8 0-8 3-6 3-6 5-5 6-4 8-2 8-2 10 0 8 2 8 5 7 8 3 12 0 12-4 12-6 8-8 5-8zM738 348l1-16-2-14-5-14-8-14-10-11-12-9-14-7-14-3-16-1-14 2-14 5-14 8-11 10-9 12-7 14-3 14-1 16 2 14 5 14 8 14 10 11 12 9 14 7 14 3 16 1 14-2 14-5 14-8 11-10 9-12 7-14zM880 558l1-8-1-10-3-10-5-8-5-6-7-6-8-4-10-3-10-1-8 1-8 2-9 5-7 6-6 8-4 8-2 8-1 10 1 8 3 10 5 8 5 6 7 6 8 4 10 3 10 1 8-1 8-3 8-4 7-6 7-8 4-8z"/>
<path fill="#18aedb" transform="translate(114.5 209.3)" d="M600 922l1-20 0-46-3-50-4-20-4-20-7-22-8-20-5-10-6-8-6-5-6-2-12-3-14 0-12 1-12 4-10 6-8 6-8 9-6 9-11 23-8 30-3 22-2 26-1 70 2 30 3 12 4 10 6 11 8 9 9 8 11 6 12 4 12 1 12 0 14-2 12-3 12-5 10-7 9-8 7-10 6-10 4-12zM528 516l1-6-1-4-3-4-3-2-4-2-6 1-4 3-3 4-1 4 1 6 3 4 4 3 6 1 4-2 3-2zM640 644l0-8-2-6-3-6-5-5-6-4-6-1-8-1-6 1-6 3-6 4-6 7-3 6-3 8-2 8 2 14 4 8 6 3 10 2 12-3 10-4 10-8 5-8zM736 350l2-16-2-14-5-14-6-12-10-12-11-9-14-7-14-4-16-2-14 2-14 5-12 6-11 9-10 12-7 14-4 14-2 16 2 14 5 14 7 13 10 12 12 9 12 6 14 4 16 2 14-2 14-5 12-6 11-9 10-12 7-14zM878 558l1-8-1-10-2-8-4-8-6-7-8-6-8-4-8-3-10 0-8 1-8 2-8 5-6 5-6 7-4 8-2 8-1 10 1 8 2 8 4 8 6 7 8 6 8 4 8 2 10 1 8-1 8-3 8-4 6-5 6-7 4-8z"/>
<path fill="#13b1d7" transform="translate(117.9 215.4)" d="M600 892l-1-56-4-40-4-20-5-18-8-21-7-15-5-8-6-7-8-5-8-2-12-2-14 1-10 2-10 4-8 5-8 8-8 10-6 10-10 24-7 30-3 22-1 26-1 70 3 26 4 12 4 10 7 10 10 10 12 8 12 4 14 2 14 0 16-3 14-5 11-6 10-8 9-10 5-10 5-12 2-12zM523 512l-1-4-4-3-5 1-3 4 2 5 4 2 4-1zM638 642l0-6-2-6-4-6-4-4-6-3-6-1-12 1-6 3-6 4-7 10-4 14 1 12 4 7 6 5 10 1 10-1 10-5 8-7 6-8zM734 352l2-14-1-14-4-14-7-14-9-12-11-9-12-7-14-4-14-2-14 1-14 4-14 7-12 9-9 11-7 12-4 14-2 14 1 14 4 14 7 14 9 12 11 9 12 7 14 4 14 2 16-1 14-5 12-6 12-9 9-11 7-12zM876 560l1-8 0-10-2-8-4-8-5-6-6-6-8-5-8-2-8-2-8 1-8 2-8 3-7 5-5 6-5 8-3 8-1 8 0 10 2 8 4 8 5 6 6 6 8 5 8 2 8 1 8 0 8-2 8-4 6-4 6-6 5-8z"/>
<path fill="#0cb3d3" transform="translate(121.2 221.5)" d="M598 914l0-62-3-44-7-38-13-34-7-14-6-8-6-5-8-5-12-3-12-1-12 2-10 3-8 5-8 6-8 9-6 9-11 24-8 30-3 22-2 24-1 70 3 28 6 21 6 11 8 9 10 8 10 5 12 4 12 1 14 0 14-3 12-4 11-6 9-7 8-9 7-10 4-10 3-14zM635 648l1-6-1-6-4-10-9-6-6-2-6 0-11 4-9 8-4 10-2 12 2 8 5 6 7 4 8 0 10-2 8-5 7-7zM734 342l0-14-3-14-5-12-8-12-10-10-12-8-14-5-14-3-14 0-14 3-12 5-12 8-10 10-8 12-5 14-3 14 0 14 3 14 5 12 8 12 10 10 12 8 14 6 14 2 14 0 14-3 12-5 12-8 10-10 8-12 6-14zM874 560l2-8-1-8-1-8-4-8-4-6-7-6-7-5-8-3-8-1-8 1-8 2-8 3-6 5-6 6-3 6-3 8-2 8 1 8 1 8 4 8 4 6 7 6 7 5 8 2 8 2 8-1 8-2 8-4 6-4 5-6 4-6z"/>
<path fill="#05b6ce" transform="translate(124.5 227.6)" d="M596 922l1-18 0-40-2-48-7-38-5-18-6-16-7-14-6-9-6-7-8-6-10-3-12-2-12 0-12 4-8 4-8 6-8 8-6 9-7 12-5 12-7 28-4 22-2 24-1 68 2 28 6 22 5 10 8 10 9 8 10 6 10 4 12 2 12 0 14-2 12-3 11-5 10-6 8-8 8-10 5-10 4-12zM632 646l1-10-5-9-8-5-10-1-10 3-8 8-4 10 0 10 2 7 4 5 6 2 8 1 8-2 8-5 5-6zM732 344l0-14-2-14-5-12-8-12-9-10-12-8-12-5-14-3-14 0-14 2-12 5-12 8-10 9-8 12-5 12-3 14 0 14 2 14 5 12 8 12 9 10 12 8 12 5 14 3 14 0 14-2 12-5 12-8 10-9 8-12 5-12zM872 560l2-8 0-8-5-14-5-7-6-6-6-4-8-3-8-1-8 0-14 5-6 5-5 5-4 6-3 8-2 8 0 8 5 14 5 7 6 6 6 4 8 3 8 1 8-1 14-5 11-9 4-6z"/>
<path fill="#01b8c9" transform="translate(127.9 233.8)" d="M596 892l-1-54-4-38-8-34-6-16-6-14-7-11-6-7-8-6-8-4-10-2-12-1-10 2-10 4-8 5-8 7-12 17-11 24-7 30-2 22-2 24-1 68 4 28 3 10 4 10 8 11 9 9 11 7 12 4 12 2 14 0 14-3 14-5 10-5 10-8 8-10 6-10 4-12 2-12zM630 644l0-8-5-8-7-4-8-1-8 3-6 6-4 8-1 10 2 6 5 5 6 2 6 0 8-3 6-4 4-6zM730 348l1-14-2-14-4-12-7-12-8-10-10-8-12-6-14-4-14-1-14 2-12 4-12 7-10 8-8 10-6 12-4 14-1 14 2 14 4 12 7 12 8 10 10 8 12 6 14 4 14 1 14-2 12-4 12-7 10-8 8-10 6-12zM872 550l-1-8-2-8-8-12-7-5-6-3-14-3-14 2-6 3-7 6-8 12-3 14 2 14 3 6 5 7 6 5 6 4 14 3 8 0 8-3 12-7 6-7 3-6z"/>
<path fill="#02bac4" transform="translate(131.2 239.9)" d="M594 914l0-60-2-42-7-34-5-17-6-15-7-12-7-10-6-6-8-6-10-3-12-2-12 1-10 4-8 4-8 7-13 17-10 24-7 28-5 44-1 68 3 28 6 20 6 10 7 8 10 8 10 5 12 4 12 1 14-1 12-2 12-5 10-6 8-6 7-8 6-10 4-10 3-12zM728 350l1-12-1-14-3-12-6-12-9-11-10-9-12-6-12-4-12-1-14 1-12 3-12 6-11 9-9 10-6 12-4 12-1 12 1 14 4 14 6 12 8 10 10 8 12 6 12 4 12 2 14-2 12-3 12-6 12-9 8-10 6-12zM626 646l1-8-3-6-5-4-7-1-6 1-6 4-4 6-2 8 2 6 2 4 4 3 6 1 6-2 5-2 4-4zM870 552l-2-14-6-12-6-6-6-3-6-3-8-1-14 2-12 7-8 10-3 6-1 8 2 14 6 12 10 8 6 3 8 2 14-1 12-6 6-6 4-6 2-6z"/>
<path fill="#07bcbf" transform="translate(134.6 246)" d="M592 922l1-18 0-36-2-48-6-36-10-30-6-14-7-10-8-9-8-6-10-4-10-1-12 0-10 3-8 4-8 7-13 16-10 22-7 28-3 20-2 24-1 66 2 28 5 20 5 10 6 8 8 8 10 6 10 4 12 3 12 0 12-2 12-3 10-4 10-7 8-7 6-8 6-10 4-12zM726 350l2-12-1-14-4-12-6-12-8-10-9-8-12-7-12-3-12-2-14 1-12 4-12 6-10 8-8 9-7 12-3 12-2 12 1 14 4 12 6 12 8 10 9 8 12 7 12 3 12 2 14-1 12-4 12-6 10-8 8-9 7-12zM622 646l1-6-1-4-4-4-4-1-6 0-4 3-3 4-2 6 0 4 2 4 7 3 8-2 4-3zM868 552l0-8-2-6-6-11-5-5-6-4-13-3-12 1-12 7-8 9-3 6-1 8 0 8 2 6 6 11 5 5 7 4 12 3 12-1 12-7 8-10 3-7z"/>
<path fill="#0fbeba" transform="translate(137.9 252.1)" d="M592 902l0-54-3-38-7-34-11-28-7-12-6-8-8-7-8-5-10-3-10-1-10 1-10 3-8 5-8 7-12 17-10 23-6 28-5 44 0 66 2 26 7 20 6 10 10 10 10 7 10 4 12 3 12 0 14-2 12-4 10-5 10-7 8-8 5-8 5-10 3-12zM726 342l0-12-2-12-5-12-7-10-10-10-10-7-12-5-12-2-12 0-12 2-12 5-10 7-10 10-7 10-5 12-2 12 0 12 2 12 5 12 7 11 9 9 11 7 12 5 12 2 12 0 12-2 12-5 10-7 10-10 7-10 5-12zM616 644l0-4-4-3-4 2-2 3 0 4 4 2 4-1zM866 552l-1-12-2-6-5-6-10-8-12-3-12 1-11 6-8 10-3 12 1 12 2 6 5 6 10 8 12 3 12-1 10-6 9-10z"/>
<path fill="#19bfb5" transform="translate(141.2 258.2)" d="M590 916l1-56-3-42-6-34-9-28-6-12-7-10-8-9-8-5-10-4-10-2-10 0-10 3-8 5-8 6-12 16-10 22-6 26-3 20-2 24-1 64 2 28 5 20 6 10 7 9 8 7 10 6 10 3 12 2 12-1 12-2 12-4 10-5 8-7 8-8 5-8 4-10 3-12zM724 344l1-12-2-12-5-12-6-10-8-9-10-7-12-5-12-3-12-1-12 2-12 5-10 6-9 8-7 10-5 12-3 12-1 12 2 12 5 12 6 10 8 9 10 7 12 5 12 3 12 1 12-2 12-5 10-6 9-8 7-10 5-12zM864 550l-2-12-6-10-10-7-12-2-12 2-10 7-6 10-2 10 2 12 6 10 9 6 11 3 12-2 10-5 7-10z"/>
<path fill="#22c1b0" transform="translate(144.6 264.3)" d="M588 922l1-16 1-32-2-50-6-34-9-30-6-12-7-11-8-9-8-6-10-4-10-2-10 0-10 3-8 5-6 5-7 7-6 10-10 22-7 26-4 42-1 64 2 26 5 20 5 10 7 9 7 7 9 5 10 4 10 2 10 1 12-2 12-3 10-4 8-5 9-8 6-8 5-10 4-10zM722 346l1-12-1-12-5-12-6-10-7-8-10-8-10-5-12-3-12-1-12 1-12 5-10 6-8 7-8 10-5 10-3 12-1 12 1 12 5 12 6 10 7 8 10 8 10 5 12 3 12 1 12-1 12-5 10-6 8-7 8-10 5-10zM860 558l2-12-3-10-7-8-10-6-10-1-11 3-8 6-6 10-1 12 3 10 7 8 10 6 10 1 11-3 8-6z"/>
<path fill="#28c3aa" transform="translate(147.9 270.4)" d="M588 908l0-54-3-38-6-32-9-26-6-12-6-9-8-8-8-5-10-4-10-2-10 1-8 2-8 5-6 5-6 7-7 10-9 22-7 26-4 42-1 64 2 26 6 20 5 10 7 8 10 8 10 5 10 3 12 1 12-1 12-3 10-4 10-7 8-7 6-8 5-9 3-10 3-12zM720 348l1-10 0-12-4-12-5-10-8-10-8-7-10-5-12-4-10-1-12 0-12 4-10 5-10 8-7 8-5 10-4 12-2 12 2 12 3 10 5 10 8 10 8 7 10 6 12 3 12 2 12-2 10-3 10-5 10-8 7-8 5-10zM858 558l2-10-3-10-6-8-9-5-10-2-10 3-7 6-5 8-2 10 3 10 6 8 9 5 10 2 9-3 8-6z"/>
<path fill="#2ec4a5" transform="translate(151.3 276.5)" d="M586 918l1-52-2-42-5-32-9-28-6-12-6-10-7-8-8-7-8-4-10-2-10-1-10 3-8 4-7 5-7 8-5 8-10 22-7 26-4 42-1 62 2 26 5 20 6 10 6 8 8 7 8 5 10 4 10 1 10 0 12-1 10-3 10-5 9-6 8-8 5-8 5-10 3-10zM718 350l2-10-1-12-3-12-4-10-8-10-8-7-10-6-10-3-10-2-12 1-12 3-10 4-10 8-7 8-6 10-3 10-2 10 1 12 3 12 4 10 8 10 8 7 10 6 10 3 10 2 12-1 12-3 10-4 10-8 7-8 6-10zM856 556l1-10-3-8-6-8-8-3-10-1-8 3-6 5-4 8-1 10 3 8 6 7 8 4 8 1 8-2 8-6z"/>
<path fill="#32c69f" transform="translate(154.6 282.6)" d="M584 922l2-16 0-26-2-52-5-32-8-28-5-12-8-12-6-7-8-7-8-4-10-3-10-1-10 3-8 4-6 5-12 15-10 21-6 26-5 42-1 60 2 26 5 20 5 10 5 8 7 6 9 6 9 4 10 2 10 0 12-1 10-3 10-4 8-5 7-7 7-8 4-8 4-10zM718 340l0-12-3-10-4-10-7-9-8-8-10-6-10-4-10-1-12 0-10 3-10 4-9 7-8 8-6 10-4 10-1 10 0 12 3 10 4 10 7 10 8 7 10 6 10 4 10 1 12 0 10-3 10-4 10-7 7-8 6-10 4-10zM854 552l0-8-4-8-6-5-8-2-8 0-6 3-5 6-3 8 0 8 4 8 6 5 8 2 8 0 6-3 5-6z"/>
<path fill="#36c898" transform="translate(158 288.7)" d="M584 912l0-52-2-38-5-30-8-26-6-12-7-10-6-7-8-6-8-4-10-2-10 0-8 2-8 4-6 5-12 16-9 20-7 26-4 40-1 62 2 26 5 18 5 10 6 8 7 6 10 6 10 4 10 1 12 0 10-2 10-3 10-6 8-6 7-8 5-8 4-10 3-12zM716 344l1-12-2-10-4-10-5-8-7-8-9-7-10-5-10-2-12-1-10 2-10 4-8 5-8 7-7 9-5 10-2 10-1 12 2 10 4 10 5 9 7 7 9 7 10 5 10 2 12 1 10-2 10-4 8-5 8-7 7-9 5-10zM851 554l0-8-2-6-5-5-6-3-6 0-7 2-5 4-3 6 0 8 2 6 5 5 6 3 6 0 7-2 5-4z"/>
<path fill="#3cc992" transform="translate(161.3 294.8)" d="M582 920l1-16 0-30-2-46-4-32-8-26-6-12-6-10-7-8-8-6-8-5-10-2-10 0-8 2-6 3-7 6-11 14-10 20-6 26-5 40-1 62 2 24 5 20 4 8 6 8 7 7 8 5 8 4 10 2 10 0 12-1 10-3 9-4 9-6 6-6 6-8 4-8 4-10zM714 346l1-10-1-10-3-10-5-10-7-8-7-6-10-5-10-3-10-1-10 1-10 3-10 5-8 7-6 7-5 10-3 10-1 10 1 10 3 10 5 10 7 8 7 6 10 5 10 3 10 1 10-1 10-3 10-5 8-7 6-7 5-10zM847 554l1-4-1-6-3-5-5-3-5-1-6 1-4 3-3 5-1 4 1 6 3 5 5 3 5 1 6-2 4-2z"/>
<path fill="#43ca8b" transform="translate(164.6 301)" d="M582 900l0-48-3-34-5-28-9-24-5-10-7-10-7-7-8-5-8-4-10-1-8 0-8 3-6 4-7 6-11 16-8 20-6 26-4 40-1 60 3 24 5 18 6 10 7 8 8 6 10 4 10 3 10 0 12-1 12-4 8-4 8-6 8-8 5-8 4-10 3-10zM712 346l1-10-1-10-3-10-4-8-6-8-7-6-10-5-10-3-10-1-10 1-10 3-8 4-8 6-6 7-5 10-3 10-1 10 1 10 3 10 4 8 6 8 7 6 10 5 10 3 10 1 10-1 10-3 8-4 8-6 6-7 5-10zM842 552l0-7-2-3-4-2-6 1-4 5-1 4 1 3 2 3 4 2 6-1z"/>
<path fill="#4bcb83" transform="translate(168 307.1)" d="M580 914l1-48-2-38-5-30-8-26-6-12-6-10-6-7-8-6-8-4-10-2-8 0-8 2-6 4-7 5-11 15-8 19-7 26-4 40-1 58 2 24 5 18 5 10 6 8 6 6 8 5 8 3 10 2 10 0 12-2 10-3 8-5 8-6 6-6 5-8 5-10zM710 348l2-10-1-10-3-10-4-8-6-8-7-6-7-5-10-3-10-2-10 1-10 3-8 4-8 6-6 7-5 7-3 10-2 10 1 10 3 10 4 8 6 8 6 6 8 5 10 3 10 2 10-1 10-3 8-4 8-6 6-7 5-7z"/>
<path fill="#55cc7c" transform="translate(171.3 313.2)" d="M578 920l2-36-2-50-4-30-7-26-5-12-6-10-6-8-8-7-8-5-8-2-10-1-8 2-12 7-6 6-6 8-9 20-6 24-5 38-1 56 2 26 4 20 4 8 5 8 6 7 8 5 8 4 10 2 10 1 10-1 10-3 8-4 8-5 7-6 6-8 4-8zM708 348l2-8 0-10-3-10-3-8-6-8-7-6-7-5-10-3-8-2-10 0-10 3-8 3-8 6-6 7-5 7-3 10-2 8 0 10 3 10 3 8 6 8 7 6 7 5 10 3 8 2 10 0 10-3 8-3 8-6 6-7 5-7z"/>
<path fill="#5ecd74" transform="translate(174.7 319.3)" d="M578 908l0-48-2-34-4-28-8-24-6-12-6-9-6-6-8-6-8-4-8-2-8 0-8 3-12 8-10 14-9 20-6 24-4 38-1 58 2 24 5 18 5 9 6 8 8 7 8 4 8 3 10 1 10-1 10-2 10-4 8-5 7-6 6-8 4-8 4-10zM708 340l0-10-2-8-3-8-6-8-6-6-7-5-8-3-10-2-10 0-8 2-8 3-8 6-6 6-5 7-3 8-2 10 0 10 2 8 3 8 6 8 6 6 7 5 8 3 10 2 10 0 8-2 8-3 8-6 6-6 5-7 3-8z"/>
<path fill="#68cd6b" transform="translate(178 325.4)" d="M576 916l1-42-1-40-5-30-6-24-11-21-6-7-8-8-8-4-8-2-8-1-8 2-12 8-6 6-6 9-8 19-6 23-4 38-1 56 2 24 5 18 3 8 6 8 7 7 8 5 8 3 8 1 10 1 10-2 9-3 8-4 7-5 7-7 5-8 4-8zM706 342l0-8-1-8-2-8-5-8-6-7-7-5-8-4-9-2-8 0-8 1-8 2-8 5-7 6-5 7-4 8-2 9 0 8 1 8 2 8 5 8 6 7 7 5 8 4 9 2 8 0 8-1 8-2 8-5 7-6 5-7 4-8z"/>
<path fill="#73cd63" transform="translate(181.3 331.5)" d="M574 922l2-26-1-58-4-30-7-26-10-20-6-8-8-7-8-5-8-2-8-1-8 2-6 3-6 5-10 13-8 18-6 24-5 36 0 54 1 26 4 18 8 15 6 7 6 4 8 4 8 3 8 1 10-1 10-2 8-4 14-10 6-7 5-8zM704 342l1-8-1-8-3-8-5-8-6-6-6-5-8-3-8-2-8-1-8 1-8 3-8 5-6 6-5 6-3 8-2 8-1 8 1 8 3 8 5 8 6 6 6 5 8 3 8 2 8 1 8-1 8-3 8-5 6-6 5-6 3-8z"/>
<path fill="#7ecc5b" transform="translate(184.7 337.6)" d="M574 912l1-46-2-34-4-28-7-23-10-19-7-8-7-6-8-4-8-2-8 0-6 1-6 3-6 5-10 14-8 19-6 24-4 36 0 56 1 22 5 18 4 8 6 8 7 6 7 4 8 3 8 1 10 0 10-2 8-3 8-5 8-6 5-6 7-16zM702 344l1-8-1-8-2-8-4-7-6-7-5-4-7-4-8-2-8-1-8 1-8 2-7 4-5 4-6 7-4 7-2 8-1 8 1 8 2 8 4 7 4 5 7 6 7 4 8 2 8 1 8-1 8-2 7-4 7-6 4-5 4-7z"/>
<path fill="#89cb52" transform="translate(188 343.7)" d="M572 918l1-32-1-48-3-28-7-24-10-21-6-7-8-8-8-4-8-2-8 0-6 2-6 3-6 5-10 14-8 18-5 22-4 36 0 54 1 22 4 18 4 8 6 8 6 6 6 4 8 3 8 2 17-1 16-6 13-10 6-8 4-8zM700 344l1-8-1-8-2-8-4-6-10-10-6-4-8-2-8-1-8 1-8 2-6 4-10 10-4 6-2 8-1 8 1 8 2 8 4 6 10 10 6 4 8 2 8 1 8-1 8-2 6-4 10-10 4-6z"/>
<path fill="#94ca4a" transform="translate(191.4 349.8)" d="M572 902l0-44-2-30-4-24-7-22-10-18-7-8-6-4-6-4-8-2-8 0-6 2-6 3-6 5-10 14-7 18-5 22-4 36 0 54 1 22 5 17 5 9 5 7 6 5 8 5 8 2 10 1 10-1 10-3 14-8 6-6 5-8 4-8 3-10zM698 344l0-14-2-8-3-6-9-10-7-4-7-2-14 0-8 2-6 3-10 9-4 7-2 7 0 14 2 8 3 6 9 10 7 4 7 2 14 0 8-2 6-3 10-9 4-7z"/>
<path fill="#9fc942" transform="translate(194.7 355.9)" d="M570 914l1-40-1-36-4-27-6-22-10-21-6-7-6-6-6-3-8-3-8-1-6 1-11 7-10 12-8 18-5 22-4 36-1 52 1 22 4 18 4 9 5 7 6 6 7 4 14 5 8 0 10-2 8-2 8-4 12-11 4-6 4-9zM696 344l0-14-4-12-9-10-7-4-6-2-14 0-12 4-10 9-4 7-2 6 0 14 4 12 9 10 7 4 6 2 14 0 12-4 10-9 4-7z"/>
<path fill="#a9c73a" transform="translate(198.1 362)" d="M568 918l2-24-1-52-4-28-5-22-10-20-6-8-6-6-6-4-8-3-8-1-6 2-11 6-9 12-8 18-6 22-3 34-1 50 1 24 4 16 7 15 6 6 6 5 14 5 16 0 16-6 12-9 9-14zM694 342l0-12-5-12-9-9-12-5-12 0-12 5-9 9-5 12 0 12 5 12 9 9 12 5 12 0 12-5 9-9z"/>
<path fill="#b3c534" transform="translate(201.4 368.1)" d="M568 906l0-42-1-30-4-24-6-20-9-18-11-12-7-4-6-3-8 0-6 1-10 6-10 13-7 17-6 22-3 34-1 52 1 22 5 16 3 8 6 8 6 5 6 4 8 2 8 1 10 0 8-2 14-8 11-12 6-16zM692 342l0-12-4-10-8-9-6-3-6-2-12 0-10 4-9 8-3 6-2 6 0 12 4 10 8 9 6 3 6 2 12 0 10-4 9-8 3-6z"/>
<path fill="#bdc32e" transform="translate(204.7 374.3)" d="M566 914l1-38-1-36-4-26-5-20-9-19-6-8-6-5-6-4-6-2-8-1-6 1-10 7-10 13-7 16-5 22-3 34-1 48 1 22 4 16 8 14 5 6 6 4 6 3 8 2 16-1 15-6 11-10 8-14zM690 338l-1-10-5-10-10-8-10-2-10 1-10 5-8 10-2 10 1 10 5 10 10 8 10 2 10-1 10-5 8-10z"/>
<path fill="#c6c22a" transform="translate(208.1 380.4)" d="M564 918l2-22-1-52-3-26-6-22-8-18-6-8-6-6-6-4-7-2-7-1-6 2-10 6-9 13-7 16-5 20-3 32-1 48 1 22 4 16 7 14 5 6 6 5 6 2 8 3 14-1 14-5 12-10 8-12zM686 344l2-10-3-10-7-8-8-4-10-2-10 3-8 7-4 8-2 10 3 10 7 8 8 4 10 2 10-3 8-7z"/>
<path fill="#cfc028" transform="translate(211.4 386.5)" d="M564 908l0-40-1-30-4-24-5-19-8-17-11-12-7-4-6-2-6 0-6 1-10 7-9 12-6 16-5 22-3 32-1 48 2 20 4 16 4 8 4 6 6 6 6 3 6 2 8 2 8-1 8-2 8-3 6-5 9-10 6-14zM684 342l1-8-3-9-6-7-8-4-8-1-9 3-7 6-4 8-1 8 3 9 6 7 8 4 8 1 9-3 7-6z"/>
<path fill="#d8be28" transform="translate(214.8 392.6)" d="M562 914l1-32-1-38-3-24-5-21-8-17-10-12-6-4-6-3-8-1-6 2-10 7-8 11-6 16-5 20-3 32-1 46 2 20 3 16 8 14 10 9 6 2 8 2 14-1 14-6 10-10 6-12zM680 344l2-8-2-8-4-6-6-4-8-2-8 2-6 4-4 6-2 8 2 8 4 6 6 4 8 2 8-2 6-4z"/>
<path fill="#e0bc2a" transform="translate(218.1 398.7)" d="M560 918l2-20-1-48-3-26-4-20-8-18-10-13-6-5-6-2-6-1-6 1-10 6-8 10-6 14-5 20-4 30 0 40 0 26 4 18 6 12 9 10 12 5 14 0 14-4 10-8 8-13zM678 338l0-6-3-6-5-4-6-2-6 0-6 3-4 5-2 6 0 6 3 6 5 4 6 2 6 0 6-3 4-5z"/>
<path fill="#e7bb2e" transform="translate(221.4 404.8)" d="M560 906l0-38-1-26-3-22-5-18-7-16-10-12-10-6-6-1-6 1-10 6-7 10-7 16-4 18-3 30-1 46 1 20 3 16 8 14 10 9 6 2 8 2 14-3 12-6 10-11 5-13zM673 340l1-4-2-6-6-5-4-1-6 2-5 6-1 4 2 6 6 5 4 1 6-2z"/>
<path fill="#eeba34" transform="translate(224.8 410.9)" d="M558 912l1-32-1-34-3-22-5-20-7-16-9-11-10-6-6-1-6 1-8 5-8 10-6 14-5 20-3 28-1 42 1 22 3 16 5 12 5 6 5 4 12 5 14-1 12-5 10-9 7-12zM664 338l0-4-4 0 0 4z"/>
<path fill="#f4ba3a" transform="translate(228.1 417)" d="M556 916l2-20-1-44-3-24-4-20-7-16-9-12-10-6-6-1-6 1-8 5-8 10-6 15-4 18-3 28-1 42 1 20 3 16 6 12 8 8 6 3 6 2 12 0 12-4 10-9 6-10z"/>
<path fill="#fabb3d" transform="translate(231.5 423.1)" d="M556 900l0-34-1-24-3-20-5-16-7-15-8-10-10-5-6 0-4 0-8 6-8 11-6 16-4 19-2 30 0 46 2 18 4 12 8 11 10 6 12 1 8-2 6-2 10-8 6-10 4-12z"/>
<path fill="#febe3c" transform="translate(234.8 429.2)" d="M554 908l1-32-1-28-3-20-4-18-7-15-8-10-10-6-6 0-4 0-8 6-6 9-6 14-4 18-3 28 0 40 1 18 2 14 6 12 8 8 6 3 6 1 12-1 11-5 9-9 6-13z"/>
<path fill="#fec239" transform="translate(238.2 435.3)" d="M552 912l1-18-1-42-2-22-4-16-6-15-8-11-8-5-6-1-4 0-8 4-6 8-6 13-4 17-3 24-1 30 0 30 3 16 6 12 7 8 10 4 12 0 10-4 9-8 6-10z"/>
<path fill="#fec736" transform="translate(241.5 441.5)" d="M550 914l2-18-1-40-2-20-4-18-5-15-8-11-8-6-6-1-4 0-8 5-6 8-5 12-4 16-3 22-1 26 1 32 2 16 5 12 7 8 10 5 10 0 10-4 9-7 6-10z"/>
<path fill="#fdcb33" transform="translate(244.8 447.6)" d="M548 916l2-18 0-38-2-22-4-18-5-14-7-10-8-6-6-2-4 0-8 5-6 9-5 12-3 15-2 21-1 30 0 26 3 16 4 10 7 8 7 4 10 1 10-3 8-5 6-9z"/>
<path fill="#fcd030" transform="translate(248.2 453.7)" d="M548 902l-1-50-2-18-3-14-6-14-6-8-8-6-8 0-4 2-4 3-5 9-5 12-3 18-2 26-1 40 2 15 4 12 6 8 8 5 10 1 10-3 8-6 5-8 3-10z"/>
<path fill="#fad52e" transform="translate(251.5 459.8)" d="M546 906l0-52-2-16-4-16-4-11-6-9-8-6-8 0-6 3-6 9-4 10-4 16-2 22 0 28 0 22 2 14 5 10 7 8 8 3 10-1 9-4 7-8 4-10z"/>
<path fill="#f8da2b" transform="translate(254.9 465.9)" d="M544 908l0-50-2-18-3-14-5-14-6-8-6-4-8 0-6 4-5 8-4 10-3 14-2 22-1 34 1 16 2 12 4 9 6 6 8 4 8 0 8-4 7-7 5-10z"/>
<path fill="#f6de29" transform="translate(258.2 472)" d="M542 908l0-48-1-16-3-14-4-12-6-9-6-4-4-2-4 1-6 5-4 6-4 11-3 14-2 22 0 30 1 16 1 10 5 10 6 6 6 3 8-1 8-3 6-7 4-8z"/>
<path fill="#f5e327" transform="translate(261.5 478.1)" d="M540 906l0-44-3-28-5-12-4-8-6-5-6-1-6 4-4 5-4 10-3 13-2 18 0 24 0 22 2 12 3 8 6 7 6 3 8 0 7-4 6-6 3-8z"/>
<path fill="#f5e825" transform="translate(264.9 484.2)" d="M538 904l0-41-4-27-4-12-4-6-4-3-6-2-6 4-4 7-4 12-2 14-1 22 0 30 1 10 3 10 5 6 4 3 6 1 6-2 6-4 4-6 2-6z"/>
<path fill="#f5ec22" transform="translate(268.2 490.3)" d="M534 912l2-12 0-22-1-20-2-14-3-11-4-8-4-4-6-2-4 3-4 5-5 19-2 30 0 22 1 12 2 8 4 6 4 3 4 1 6-1 5-3 5-6z"/>
<path fill="#f6f11f" transform="translate(271.6 496.4)" d="M532 908l1-10 0-24-2-26-3-10-4-7-4-4-4 0-4 2-2 3-3 8-2 10-2 26 1 32 2 7 3 5 5 4 4 0 4-1 4-3 4-6z"/>
<path fill="#f7f51b" transform="translate(274.9 502.5)" d="M528 908l2-10 0-14-2-29-2-9-3-6-3-3-4-1-2 1-3 5-4 14-1 24 1 26 3 9 3 3 3 1 4 0 4-3z"/>
<path fill="#f9f916" transform="translate(278.3 508.6)" d="M524 904l1-18-1-23-4-12-2-2-2 0-4 7-1 10-1 18 0 18 2 6 4 4 2 0 3-2z"/>
</g></g>
<path class="ax" d="M278 231.9L278 274.8L381.1 304.1M381.1 304.1L437.5 249.9M381.1 304.1L379.5 305.6M360.5 298.2L358.9 299.8M339.9 292.4L338.3 293.9M319.2 286.5L317.7 288M298.6 280.7L297 282.2M278 274.8L276.4 276.3M381.1 304.1L383.2 304.7M409.3 277L411.4 277.6M437.5 249.9L439.6 250.5M278 274.8L275.4 274.8M278 260.5L275.4 260.5M278 246.2L275.4 246.2M278 231.9L275.4 231.9"/>
<text class="t" x="377.6" y="313.4" text-anchor="end">0</text>
<text class="t" x="357" y="307.6" text-anchor="end">20</text>
<text class="t" x="336.4" y="301.7" text-anchor="end">40</text>
<text class="t" x="315.7" y="295.9" text-anchor="end">60</text>
<text class="t" x="295.1" y="290" text-anchor="end">80</text>
<text class="t" x="274.5" y="284.1" text-anchor="end">100</text>
<text class="t" x="386.1" y="311.8">0</text>
<text class="t" x="414.3" y="284.6">50</text>
<text class="t" x="442.5" y="257.6">100</text>
<text class="t" x="273.8" y="276.8" text-anchor="end">0</text>
<text class="t" x="273.8" y="262.4" text-anchor="end">50</text>
<text class="t" x="273.8" y="248.2" text-anchor="end">100</text>
<text class="t" x="273.8" y="233.8" text-anchor="end">150</text>
<path d="M381.1 304.1C379.5 301.8 374.9 294.9 371.7 290.3C368.5 285.7 365.3 281 362.2 276.4C359.1 271.8 354.8 265.4 352.8 262.6C350.9 259.8 351.5 260.4 350.5 259.5C349.5 258.6 347.6 258.1 346.6 257.1C345.6 256.1 344.7 254.7 344.3 253.3C343.9 251.9 343.9 250.4 344.3 248.6C344.7 246.8 345.6 244.8 346.6 242.5C347.6 240.2 349.2 237.3 350.5 234.7C351.8 232.1 353.4 229 354.4 227C355.3 225 355.9 223.2 356.2 222.5" fill="none" stroke="#de1030" stroke-width="1.4" stroke-linecap="round" stroke-linejoin="round"/>
<circle cx="352.8" cy="262.6" r="1.1" fill="none" stroke="#3c9a3c" stroke-width=".6"/>
<circle cx="344.3" cy="253.3" r="1.1" fill="none" stroke="#3c9a3c" stroke-width=".6"/>
<rect x="379.6" y="302.6" width="3" height="3" fill="#f6f000" stroke="#c8b400" stroke-width=".3"/>
<polygon points="356.4 219.4 356.9 220.9 358.5 220.9 357.3 221.9 357.7 223.4 356.4 222.5 355.1 223.4 355.5 221.9 354.3 220.9 355.9 220.9" fill="#f4c20a" stroke="#7a5a10" stroke-width=".4"/>
<text class="cap" x="354.8" y="329" text-anchor="middle">(d) PSO</text>
</g>
<g>
<path class="g" d="M17.8 492.9L17.8 433.1M25.8 480.4L25.8 420.6M33.9 467.9L33.9 408.1M41.9 455.4L41.9 395.6M50 442.9L50 383.1M58 430.4L58 370.6M17.8 492.9L58 430.4L196.5 448.2M17.8 473L58 410.5L196.5 428.3M17.8 453L58 390.5L196.5 408.3M17.8 433.1L58 370.6L196.5 388.4M196.5 448.2L196.5 388.4M168.8 444.6L168.8 384.8M141.1 441.1L141.1 381.3M113.4 437.5L113.4 377.7M85.7 434L85.7 374.2M58 430.4L58 370.6"/>
<g filter="url(#b)"><path fill="#3e26a8" d="M156.3 510.7L17.8 492.9L58 430.4L196.5 448.2Z"/>
<g transform="matrix(-.1385 -.0178 .0402 -.0625 156.3 510.7)">
<path fill="#3e27aa" transform="translate(.3 1.2)" d="M1000 616l0-134-7-16-14-22-17-20-18-17-34-25-6-6-5-8-5-14-5-50-7-34-7-18-7-16-9-18-9-14-20-24-24-23-26-18-32-16-18-6-22-6-20-3-22-1-20 0-22 3-22 5-20 6-22 10-20 11-18 12-18 16-14 14-13 16-12 18-17 31-7 7-5 2-6-1-36-13-22-5-24-1-24 5-12 4-12 6-20 15-10 10-8 10-11 22-7 24-1 14 0 14 2 14 4 14 5 12 7 12 15 19 18 14 10 6 14 6 40 12 5 5 3 8 0 42 8 49 0 17-4 16-21 50-10 34-6 26-4 24-4 54-2 72 1 68 5 34 4 14 7 16 384 0 6-14 5-14 4-16 3-18 1-26 0-52-2-98 2-20 3-7 4-7 8-6 10-2 50 7 18 1 16-1 26-4 28-10 16-8 14-9 14-11 12-11 11-12 10-14 10-16z"/>
<path fill="#3e27ac" transform="translate(.8 2.7)" d="M1000 558l-1-26-4-26-10-26-12-22-12-16-15-16-18-15-34-23-7-6-5-8-4-14-3-46-6-30-9-30-15-28-20-28-23-24-26-19-14-8-18-9-22-7-22-5-22-3-22-1-24 2-22 5-20 6-20 8-18 10-18 12-16 13-14 14-12 14-10 14-11 20-15 30-4 6-4 2-4 0-6-2-26-15-18-8-14-4-14-2-18 0-18 3-18 7-14 8-12 9-11 12-9 14-7 14-4 14-3 18 1 18 3 16 5 16 10 16 11 14 14 12 12 7 14 6 16 5 30 4 6 3 3 3 2 4 0 6-2 30 1 20 2 16 9 44 0 12-3 10-21 48-12 36-8 36-6 46-3 68 1 90 2 20 3 18 6 16 6 14 353 0 8-14 6-16 4-16 2-16 1-26 0-50-2-104 4-22 8-19 4-5 6-5 10-3 10 1 30 7 20 3 20 0 20-1 16-4 16-4 16-7 14-8 18-12 14-13 13-14 12-18 8-16 8-20 5-20z"/>
<path fill="#3f28ae" transform="translate(1.3 4.4)" d="M990 572l2-28-3-26-8-26-13-26-13-18-17-18-20-15-36-23-7-6-5-8-3-14-2-44-5-30-9-30-15-30-10-14-11-14-11-12-14-12-14-11-16-9-16-8-16-7-16-4-18-4-18-2-18-1-18 2-18 2-32 10-22 9-22 14-18 14-17 17-13 16-13 20-10 20-13 31-6 8-4 2-6-2-30-24-12-7-12-5-12-3-12-2-22 0-16 3-12 4-12 6-12 9-10 9-9 11-7 12-5 12-3 10-2 14 0 14 2 12 3 14 5 12 7 12 8 10 17 15 18 10 12 4 14 3 38 4 4 2 3 6 0 8-4 30 0 22 4 24 9 38 1 16-5 16-23 48-12 38-9 46-5 58-1 86 1 44 2 16 4 18 6 16 6 14 333 0 7-12 6-14 4-14 3-18 2-26 1-44-1-44-2-56 0-16 2-13 4-13 6-14 6-10 8-9 4-3 6-2 12 2 28 7 16 4 28 2 18-1 16-3 18-6 18-8 18-10 14-11 14-14 11-14 10-16 7-16 6-18z"/>
<path fill="#3f29b0" transform="translate(1.9 6.5)" d="M984 566l1-26-4-26-9-26-13-24-13-16-16-16-18-13-38-22-8-7-4-6-4-14-1-46-4-30-4-16-6-16-8-16-8-14-19-26-24-23-14-10-14-8-16-8-16-6-20-6-22-3-22-1-20 1-20 3-22 6-20 9-20 11-16 11-16 14-13 14-13 16-9 16-8 16-19 53-3 5-3 2-6-3-18-21-10-10-18-13-12-6-14-4-12-3-14 0-14 1-14 4-14 6-12 8-10 9-9 10-7 12-6 14-3 12-2 12 0 14 2 12 4 14 6 12 6 10 9 10 8 7 10 7 12 7 10 3 12 3 12 1 38 0 5 2 2 4-1 8-7 36 0 24 4 26 11 40 1 8 0 8-5 16-23 46-12 36-6 24-4 24-5 54-1 90 1 46 3 18 4 16 5 14 7 14 317 0 9-16 6-16 4-16 3-20 1-22 0-44-3-96 1-20 2-12 5-13 8-16 8-13 4-6 6-5 4-1 6-1 10 2 26 8 18 5 20 2 20 0 28-5 16-6 14-6 16-10 14-11 14-14 11-14 9-16 8-16 5-18z"/>
<path fill="#402ab3" transform="translate(2.6 8.8)" d="M978 568l1-28-4-26-8-24-14-24-14-18-17-15-18-12-39-21-7-6-4-6-3-14 0-46-4-30-4-16-6-16-6-14-9-16-10-14-10-12-11-12-13-11-14-10-14-8-28-12-24-6-24-3-24 0-24 3-24 6-24 10-20 12-20 15-16 16-13 16-12 18-9 18-9 26-6 28-3 22-1 28-2 10-5 11-4 3-4 2-2 0-2-4 4-28 0-16-4-12-6-14-12-18-12-13-16-12-16-8-18-4-18-1-18 3-16 6-16 10-12 11-12 16-7 16-3 12-1 14 1 12 2 14 4 12 7 12 7 10 10 10 10 8 10 5 10 4 12 3 14 2 12 0 38-5 4 1 2 4-2 8-10 38-2 14 0 14 1 14 3 14 14 44 1 8-1 8-4 14-25 48-12 34-6 24-4 22-5 52-2 72 0 42 2 24 2 20 5 16 5 14 7 14 303 0 9-14 7-16 4-18 3-20 1-24 1-44-4-94 1-20 3-12 5-13 20-38 8-9 4-2 6-1 10 2 42 14 28 3 18 0 18-3 16-4 16-6 16-9 14-10 13-12 12-14 10-16 8-16 6-18z"/>
<path fill="#402bb6" transform="translate(3.4 11.8)" d="M446 360l0-16-4-16-7-16-10-14-13-13-14-9-16-6-16-4-18 0-16 4-16 6-14 10-12 12-9 14-7 16-3 16 0 16 4 18 7 16 10 14 12 12 14 9 16 6 16 3 18 0 18-3 20-8 14-8 9-9 7-14 7-18zM972 572l2-26-3-26-8-26-13-24-15-18-17-15-22-14-38-19-7-6-4-6-3-6-1-8 1-40-1-20-3-18-5-20-8-22-12-20-14-20-16-16-25-19-26-14-30-10-16-3-16-2-32 1-30 7-16 5-14 6-26 16-16 14-15 15-12 16-12 20-10 26-7 28-3 26-1 36-3 14-3 6-6 7-28 21-11 12-8 14-7 14-5 14-4 14-2 22 1 24 5 20 13 36 2 8 0 8-2 8-4 8-17 30-8 18-8 20-6 18-6 26-4 24-3 28-1 32-1 86 1 38 3 18 5 16 5 14 7 12 290 0 9-14 7-16 5-18 3-20 1-22 0-42 0-44-3-54 1-22 3-12 5-12 26-48 8-8 4-1 6 0 8 2 26 10 16 5 16 4 18 1 14 0 14-2 16-4 14-6 16-8 14-10 13-11 12-14 10-14 8-16 5-16z"/>
<path fill="#412cba" transform="translate(4.4 15.3)" d="M440 366l1-16-2-16-6-16-8-14-11-12-14-10-14-7-16-4-16-1-18 3-14 5-14 8-12 11-10 13-6 14-4 16-1 16 2 16 6 16 7 12 11 12 13 10 14 7 16 4 16 1 18-2 16-5 16-9 11-10 9-12 7-16zM968 564l0-26-4-26-10-24-14-22-14-16-16-13-20-11-39-18-7-5-4-5-3-8-1-8 2-40-1-22-2-18-6-20-8-22-12-20-13-18-16-16-24-19-14-8-14-6-28-9-30-4-30 2-16 2-16 5-26 10-26 17-18 15-16 19-15 22-10 22-6 20-4 20-1 22 0 36-2 10-2 7-9 11-29 23-14 15-8 12-6 12-5 14-3 12-3 22 2 22 6 22 14 36 2 8 0 8-5 14-19 32-8 16-8 18-6 20-6 24-4 26-4 30-2 34 0 84 2 36 2 16 4 16 6 14 8 14 277 0 10-14 7-16 5-18 3-20 1-24 0-42 0-44-3-52 1-22 3-12 5-12 30-57 4-4 4-3 4-1 6 0 50 19 18 4 16 2 16-1 14-2 14-3 14-5 16-9 14-10 14-12 11-14 10-16 7-14 5-16z"/>
<path fill="#422fc0" transform="translate(5.8 20)" d="M436 358l0-16-4-14-6-14-9-12-11-11-12-8-14-6-16-3-16 0-14 3-14 6-14 10-11 11-7 12-7 16-2 14 0 14 4 16 6 14 9 13 11 11 13 8 14 5 16 3 16 0 14-3 14-6 14-10 11-11 7-12 5-14zM962 566l1-26-4-26-10-24-14-22-15-16-18-13-22-12-38-15-6-4-5-6-2-6-1-10 3-38 0-20-2-20-4-18-8-22-12-22-13-18-16-17-24-18-26-14-28-8-28-4-30 1-28 6-26 11-26 16-18 16-17 19-12 20-10 22-6 20-3 20-2 20 1 38-1 8-3 8-8 10-31 24-15 16-7 10-7 12-5 12-3 14-3 22 3 22 6 22 15 34 2 8 1 8-5 14-19 30-10 20-8 18-6 18-6 24-5 30-4 30-1 34-1 82 2 36 3 16 5 16 5 12 8 14 264 0 10-14 7-16 6-18 3-20 1-26 0-56-4-84 2-20 6-18 19-36 18-36 3-4 4-3 8 0 48 22 16 4 16 3 14 0 16-1 14-3 14-4 16-7 14-9 14-12 11-12 10-14 8-16 6-16zM690 538l-4 3-4 0-12-4-11-9-1-4 0-4 6-4 6-1 8 0 6 2 4 3 3 6 1 6z"/>
<path fill="#4332c9" transform="translate(8.4 28.9)" d="M428 368l2-14-1-14-4-14-6-12-10-12-11-9-12-7-14-5-14-1-14 1-14 4-12 6-11 9-9 10-7 12-4 14-2 14 1 16 4 14 7 12 9 11 10 8 12 7 14 5 14 1 14-1 14-4 12-6 12-9 9-10 6-12zM954 566l1-26-4-24-10-24-7-12-8-10-16-16-20-13-22-10-36-11-8-4-5-6-2-6-1-8 5-40 1-22-1-18-4-20-8-22-10-20-13-19-16-17-22-17-24-12-28-9-28-4-28 2-28 6-26 11-24 16-16 15-15 18-12 20-8 20-6 20-2 18-1 20 2 38-1 8-3 8-8 10-34 24-16 16-8 10-7 12-4 12-3 12-2 22 1 12 2 12 8 22 17 32 3 8 0 6-1 6-3 8-27 40-9 16-6 16-7 18-5 20-8 46-2 32-1 36-1 60 2 28 3 20 4 18 7 16 9 14 244 0 11-14 8-16 6-18 3-22 2-26-1-58-4-82 2-20 7-18 17-30 8-16 13-37 4-8 2-2 4-2 6 2 42 24 16 7 16 4 16 2 14 0 14-1 16-4 16-6 14-8 14-11 12-12 11-14 8-16 6-16zM706 548l-3 10-4 4-5 1-10-4-33-19-11-8-4-5-2-5 0-6 1-4 3-4 4-3 14-4 24-1 10 1 6 2 7 5 3 8 2 14z"/>
<path fill="#4435d1" transform="translate(10.9 37.7)" d="M424 362l1-14-2-12-4-12-7-12-10-10-10-8-12-5-14-4-14 0-12 2-12 4-12 7-10 10-7 10-6 12-3 12 0 12 1 14 5 12 7 12 9 10 10 8 12 5 14 4 14 0 12-2 12-4 12-7 10-9 8-11 5-12zM948 566l1-12 0-14-4-24-5-12-6-12-8-12-8-10-16-14-20-12-22-9-40-9-8-4-4-4-2-6 0-10 7-40 2-22-1-20-3-18-8-24-10-20-13-19-16-17-20-15-24-12-26-8-28-4-26 2-26 6-26 11-22 15-16 15-14 18-12 20-8 20-4 18-2 18-1 20 3 38 0 8-3 8-4 6-5 4-34 22-18 16-8 10-7 12-5 12-3 12-2 22 2 12 3 12 9 22 19 32 3 8 0 6-1 6-3 6-29 40-9 16-7 14-7 20-6 20-7 44-3 32-2 36 0 62 1 28 3 20 6 18 7 16 10 14 228 0 11-14 9-16 6-18 3-20 2-24 0-46-1-42-4-54 2-22 6-18 20-34 10-22 7-22 5-34 2-6 2-1 6 4 25 21 15 11 24 13 16 5 16 3 16 0 16-1 16-4 18-8 16-10 12-11 12-14 9-16 8-18zM716 531l-3 47-1 7-2 2-6-2-34-25-31-18-9-6-4-5-3-5-1-6 0-8 2-6 4-6 6-4 6-2 10-2 20-1 18-1 12 1 10 4 5 7 1 10z"/>
<path fill="#4538d8" transform="translate(13.5 46.5)" d="M420 362l1-14-2-12-5-12-6-10-8-9-10-7-12-6-12-3-12 0-12 1-12 4-10 6-9 8-8 10-6 12-3 12 0 12 2 14 4 12 6 10 8 9 10 7 12 6 12 3 14 0 12-2 12-4 10-7 9-8 7-10 5-10zM944 556l-1-24-3-12-4-12-5-12-6-10-8-10-9-9-16-12-20-10-22-7-42-7-8-3-3-4-1-6 0-8 9-40 3-22 1-20-3-20-7-24-10-22-14-20-16-16-21-16-24-11-26-7-24-3-26 2-24 6-24 11-22 15-15 15-14 18-10 18-8 22-4 16-2 18 1 20 4 38-1 8-3 8-2 4-6 5-36 20-18 15-8 10-8 12-5 12-3 12-2 12 0 12 2 12 3 12 11 22 22 32 2 6 1 6-1 6-4 8-30 36-9 14-8 16-8 20-5 18-5 20-4 24-3 32-2 36 0 66 1 28 3 20 6 18 7 16 10 14 216 0 13-16 9-18 5-12 3-14 2-30 0-68-5-76 1-20 3-10 4-10 21-34 10-22 7-24 1-24-2-12-4-10-6-10-8-10-19-15-12-8-26-13-6-4-6-6-4-10 0-12 3-12 6-8 9-5 18-2 54-2 10 1 6 3 3 5 1 8-3 44 1 24 3 16 5 14 7 10 8 10 21 19 22 12 24 8 24 2 22-2 22-8 20-12 17-15 14-20 9-22z"/>
<path fill="#463cdf" transform="translate(16.1 55.4)" d="M416 364l1-12-1-12-4-12-5-10-7-8-10-8-10-6-12-3-12-1-10 1-12 3-10 6-10 8-7 8-5 10-4 12-1 12 1 12 4 12 5 10 7 8 10 8 10 6 12 3 12 1 12-1 10-3 11-6 9-8 7-8 5-10zM938 568l2-14 0-14-3-14-3-12-5-12-7-12-8-11-10-10-18-13-22-9-26-6-42-3-6-2-4-4-1-4 1-8 12-40 4-22 2-22-2-20-5-24-10-22-12-20-17-18-20-16-22-11-24-7-26-4-26 2-24 6-24 11-20 14-16 15-14 18-9 18-8 22-4 18-1 18 1 20 5 36 0 8-2 6-4 6-5 4-37 19-10 6-10 9-9 10-7 12-5 12-3 12-2 12 1 12 2 12 3 12 12 22 24 30 3 6 1 6-1 6-4 8-32 36-10 14-8 14-8 18-6 18-5 20-4 22-3 30-2 36-1 68 1 30 3 20 5 18 7 16 9 14 4 4 204 0 14-16 10-20 7-24 2-32 0-68-5-74 1-20 2-10 4-10 24-36 8-18 7-22 1-22-2-14-5-12-7-12-8-10-10-8-12-8-38-19-8-9-4-12 0-18 4-13 6-8 6-3 10-2 40-2 38-3 12 0 6 3 3 4 0 8-6 40-1 24 3 20 5 18 6 10 7 10 17 17 20 14 22 8 22 4 22-1 20-5 20-10 18-14 14-17 11-20z"/>
<path fill="#4740e4" transform="translate(18.6 64.2)" d="M414 354l-1-12-3-10-4-10-6-8-8-7-10-6-10-4-12-2-12 1-10 2-10 5-9 7-8 8-6 10-3 10-2 12 1 12 3 10 5 10 7 10 8 6 10 6 10 3 12 2 12-1 10-3 10-5 8-6 7-8 6-10 3-10zM936 554l0-14-2-14-4-12-5-12-7-11-8-10-10-10-10-8-20-10-24-7-26-2-42 3-4-1-3-2 0-4 1-6 16-40 7-24 4-24 0-22-5-26-10-24-14-22-18-20-20-14-22-10-24-7-24-2-24 2-24 7-22 10-20 14-15 16-12 16-10 20-6 20-3 18-1 16 1 20 6 38 0 8-2 7-4 5-6 4-36 16-12 7-9 7-9 10-7 10-6 12-4 14-1 14 1 12 2 12 4 12 7 12 7 10 26 30 4 6 0 6-1 6-4 6-34 34-10 14-9 14-8 16-6 18-6 20-5 24-3 30-3 38 0 68 1 30 2 20 5 18 8 16 10 14 3 4 194 0 8-8 8-10 6-10 5-12 6-26 2-30 0-68-5-72 1-20 2-10 5-10 22-34 10-18 6-22 1-22-2-12-5-12-7-12-8-10-18-14-14-7-26-12-6-4-5-5-4-12 0-22 3-17 2-5 4-4 6-4 8-1 50-2 20-2 38-6 8 0 3 1 1 2 0 6-11 38-4 26 1 26 5 22 6 12 6 10 9 10 8 8 10 7 12 7 12 5 12 4 22 2 22-2 22-8 18-11 16-15 13-19 8-20z"/>
<path fill="#4745e9" transform="translate(21.2 73.1)" d="M410 362l1-10-1-10-3-10-5-10-6-8-8-6-10-6-10-3-12-1-10 1-10 3-10 6-8 6-6 8-5 10-3 10-1 10 1 10 3 10 5 10 6 8 8 6 10 6 10 3 10 1 12-1 10-3 10-6 8-6 6-8 5-10zM794 354l1-24-3-22-7-22-10-20-13-18-18-17-18-12-22-9-22-6-24-1-22 2-22 7-22 11-18 13-16 17-13 19-6 12-5 14-3 14-2 16 1 28 8 46 0 6-1 6-3 4-5 4-41 16-12 6-10 8-9 10-8 12-6 12-3 14-1 12 2 14 3 12 5 12 6 10 9 11 28 27 4 6 1 4-1 6-6 8-36 34-11 14-9 14-9 18-7 18-6 22-5 22-4 32-2 38 0 68 1 30 4 20 6 18 8 16 12 14 184 0 12-12 10-14 6-14 4-14 3-14 1-18 0-74-5-78 1-20 2-9 4-9 24-34 9-18 6-20 1-12 0-10-2-14-5-12-7-12-9-10-9-7-10-7-12-5-27-11-6-4-4-4-3-8-2-12 1-26 2-14 2-6 3-3 8-5 12-1 42 1 24-3 34-8 14-6 8-5 7-6 7-8 15-26 11-28zM932 560l0-18-3-20-7-18-10-15-12-13-16-12-18-9-18-4-20-2-22 1-22 5-14 6-10 9-10 14-8 18-5 22-3 22 2 20 4 18 10 18 13 16 15 12 18 10 20 6 20 2 20-3 18-6 18-10 16-15 12-16 8-18z"/>
<path fill="#4849ed" transform="translate(23.8 81.9)" d="M408 358l0-10-1-10-4-10-6-8-7-8-8-5-8-4-10-2-10 0-10 1-10 4-8 5-8 7-5 8-5 10-2 10 0 10 1 10 4 10 6 8 7 8 8 5 10 4 10 2 10 0 10-2 10-4 8-5 7-8 6-8 3-8zM790 356l1-22-2-22-6-22-10-20-12-18-17-16-18-13-22-9-22-6-22-1-22 2-22 6-20 10-19 13-15 16-14 20-6 14-5 14-3 14-1 16 0 14 2 16 10 44 0 6-1 6-3 4-6 4-41 13-12 5-11 8-10 10-9 12-5 12-4 14-1 14 2 12 4 14 6 12 7 10 9 10 31 26 3 4 2 6-1 6-6 8-39 33-11 13-10 14-9 16-7 18-7 20-5 24-4 32-3 38 0 70 1 30 4 22 6 18 9 16 12 14 176 0 12-12 11-16 6-12 4-14 3-16 1-18 0-74-6-78 1-18 2-10 5-10 23-32 10-18 6-20 1-20-2-14-4-12-8-12-9-10-18-13-12-6-30-11-6-4-4-4-3-8-1-10 1-40 2-12 3-7 4-3 4-1 12-1 40 2 24-2 30-6 12-5 12-6 10-7 8-8 8-10 7-12 12-26 4-14zM928 564l1-18-2-18-6-18-9-16-12-14-14-11-16-9-18-5-20-3-20 1-20 5-16 7-12 9-9 12-8 16-6 20-3 20 1 20 4 18 8 18 13 16 14 13 18 10 18 5 18 2 20-1 18-6 18-9 14-12 13-16 9-18z"/>
<path fill="#484df0" transform="translate(26.3 90.7)" d="M406 354l-1-10-2-8-3-8-6-8-8-7-8-5-8-3-10-2-10 1-10 2-8 4-8 6-7 8-5 8-2 8-2 10 1 10 2 10 4 8 7 8 8 7 8 4 8 3 10 1 10-1 8-2 8-4 8-6 7-8 5-8 3-8zM788 340l-1-20-4-20-8-20-11-18-14-16-16-13-18-11-20-7-20-4-22-1-22 4-20 6-20 11-16 13-14 15-11 17-6 14-5 16-3 14-1 16 1 14 2 16 12 46 1 6-1 6-4 4-5 2-28 6-16 4-12 6-10 6-11 10-9 11-6 13-4 14-1 12 2 14 4 14 6 12 9 12 10 9 33 23 4 4 2 6-2 8-6 8-43 35-11 11-10 14-9 16-8 18-7 20-5 22-4 34-3 36-1 72 2 30 3 22 7 18 9 16 12 14 168 0 15-14 11-16 5-12 4-14 3-16 1-18 0-74-2-32-5-44 1-20 3-10 4-8 24-32 10-18 6-20 1-20-2-14-5-12-7-12-10-10-10-8-12-6-40-14-4-2-4-5-3-7 0-8 0-58 0-8 2-4 3-3 8-2 52 4 16-1 16-2 26-7 22-11 10-7 10-10 9-13 7-12 6-14 6-16 3-16zM926 558l0-18-3-18-7-16-10-15-13-13-15-11-16-6-18-5-20-1-18 3-18 6-14 8-12 12-9 14-7 18-4 18-1 20 3 18 5 16 10 16 13 14 16 11 16 8 18 4 18 0 18-3 18-7 16-10 13-13 10-14 8-18z"/>
<path fill="#4851f4" transform="translate(28.9 99.6)" d="M402 364l1-8 0-10-1-8-4-8-5-8-7-6-8-6-8-3-8-1-10 0-10 2-8 3-8 6-6 7-5 8-3 8-1 8 0 10 2 10 4 8 6 8 7 6 8 5 8 2 8 2 10-1 8-2 9-4 7-5 6-7 5-8zM784 350l1-22-4-22-7-20-10-18-12-16-16-14-18-11-20-9-20-4-22-1-22 3-20 7-18 9-16 12-15 16-11 18-7 14-5 16-2 16-1 18 4 28 16 50 1 6 0 5-3 3-5 2-28 2-18 3-12 4-12 6-12 9-10 12-7 14-4 14-1 14 2 14 5 14 7 12 8 10 12 10 35 20 4 4 2 6-2 10-8 10-9 8-24 16-12 10-12 12-9 12-10 16-8 18-6 18-6 22-5 32-2 40-1 72 1 30 4 22 6 18 10 16 13 14 160 0 15-14 13-18 5-12 4-14 2-16 1-18 0-74-2-30-5-46 1-18 2-10 5-10 24-31 10-17 7-20 1-20-3-14-5-12-8-12-10-10-10-7-12-6-40-12-5-3-3-4-3-10 1-42-4-42 2-4 8-2 52 7 30 0 26-6 24-9 12-8 9-8 9-10 9-12 6-12 6-14 4-14zM922 566l2-16-2-18-5-16-8-16-11-14-12-10-16-9-16-6-18-3-18 1-18 4-16 7-14 10-10 12-7 14-7 18-2 18 0 18 4 18 8 16 10 14 14 13 16 9 18 7 18 2 18-2 18-5 15-8 15-12 11-14 8-16z"/>
<path fill="#4756f6" transform="translate(31.5 108.4)" d="M400 362l1-8 0-8-2-8-4-8-5-8-6-5-8-5-8-3-8-1-10 0-8 2-8 4-8 6-5 6-4 8-3 8-1 8 0 10 3 8 4 8 6 8 6 5 8 4 8 2 8 1 8 0 8-2 8-4 8-6 5-6 5-8zM682 652l1-18-3-16-7-16-10-12-11-9-12-6-16-6-30-7-5-2-4-4-2-10 2-36-2-24-2-12-5-12-4-8-4-5-10-5-14-3-16 0-16 1-14 4-12 6-10 7-10 9-10 16-5 18-1 10 1 10 6 18 9 15 12 12 16 11 32 14 3 4 2 6-4 12-9 12-10 8-24 16-12 9-12 11-10 12-9 14-8 18-7 20-6 20-5 32-3 38-1 74 1 32 4 22 7 18 10 16 14 14 152 0 13-11 11-13 8-14 4-14 4-16 1-18 0-80-2-32-5-44 1-20 2-10 6-10 22-27 8-13 7-14zM780 358l2-24-3-24-7-22-11-20-15-18-18-14-20-11-24-7-24-2-24 3-22 7-20 11-18 15-14 18-11 20-7 24-2 26 3 26 10 30 14 30 7 9 8 6 16 6 26 6 28 3 26-1 26-6 22-11 18-14 15-18 12-24zM920 562l1-18-2-16-6-16-8-14-11-12-14-11-16-8-16-4-18-2-18 2-16 5-14 7-12 10-10 13-8 16-4 18-2 18 2 18 6 16 8 14 12 14 14 11 16 8 16 4 18 1 16-2 16-6 16-9 12-11 11-14 7-16z"/>
<path fill="#475af9" transform="translate(34 117.3)" d="M398 360l1-8-1-8-2-8-4-7-5-7-7-5-14-6-8-1-8 0-8 3-8 4-7 5-5 6-4 8-2 8-1 8 1 8 2 8 4 7 5 7 7 5 14 6 8 1 8 0 8-3 8-4 7-5 5-6 4-8zM680 650l1-16-3-16-8-16-10-12-12-9-12-5-16-5-30-5-6-3-3-3-2-4 0-6 3-34-1-24-3-12-3-10-5-8-6-7-10-6-12-4-14-1-14 1-14 3-12 6-10 6-10 10-10 16-3 10-2 10 0 10 2 10 7 18 10 14 12 10 16 9 32 11 5 4 1 6-2 8-3 8-11 14-9 8-27 16-12 9-12 11-10 12-9 14-9 18-6 18-5 20-6 32-3 38-1 74 2 32 4 22 7 18 10 16 14 14 145 0 15-12 11-14 8-14 4-14 3-16 2-18-1-78-2-32-5-46 1-20 3-10 4-8 23-28 10-14 5-12zM778 352l1-24-4-22-8-22-11-18-16-17-18-14-22-10-22-5-24-1-22 4-22 8-18 11-17 16-14 18-10 22-5 22-1 24 4 26 10 26 13 24 10 11 12 8 22 8 24 5 26 1 24-3 22-7 20-11 16-14 14-20 10-22zM918 558l0-16-2-16-7-16-9-14-12-12-12-9-16-7-16-4-18 0-16 2-16 6-14 8-10 10-10 14-7 16-3 16-1 18 3 16 5 16 9 14 12 13 14 10 16 7 16 3 16 1 16-3 16-6 14-9 12-12 10-14 7-16z"/>
<path fill="#465efb" transform="translate(36.6 126.1)" d="M396 360l1-8-1-8-2-8-4-6-10-11-6-3-8-3-8-1-8 1-8 2-6 3-6 5-6 7-4 6-2 8-1 8 1 8 2 8 4 6 5 6 7 6 6 3 8 2 8 1 8-1 8-3 6-3 10-11 4-6zM678 648l0-18-4-16-8-14-12-12-12-7-14-6-16-3-30-3-6-2-2-3-1-8 6-38 0-20-2-12-5-12-4-8-8-8-8-5-12-5-12-1-14 1-12 2-12 5-10 7-10 9-6 9-4 8-3 10-2 10 1 10 2 10 3 10 5 8 10 12 14 11 18 8 33 7 4 4 1 4-2 8-5 12-7 10-6 8-10 8-28 17-12 8-12 11-10 12-9 14-8 16-7 18-5 20-5 32-4 38-1 74 2 32 4 22 8 20 11 16 13 12 139 0 15-12 13-16 7-14 4-14 3-16 1-18 0-78-2-30-6-48 1-20 2-8 6-10 22-26 10-14 7-14zM776 346l0-22-5-22-8-20-14-20-16-16-19-12-20-8-22-4-22 0-22 5-20 8-20 14-16 16-12 19-8 20-4 22 0 24 5 24 10 24 13 21 12 11 16 9 22 7 24 4 24 0 24-5 20-8 18-12 15-15 13-20 8-22zM916 556l0-16-4-16-5-14-10-14-11-11-14-9-16-7-16-3-16 0-16 3-14 6-14 9-10 10-9 14-6 16-3 16 0 16 3 16 6 16 9 13 11 11 13 9 16 7 16 3 16 0 16-3 16-7 13-9 12-12 9-14 5-14z"/>
<path fill="#4562fc" transform="translate(39.2 134.9)" d="M394 358l0-14-3-8-3-6-6-6-5-4-13-5-14 0-8 2-6 4-6 5-5 6-3 6-2 8 0 14 3 8 3 6 6 6 6 5 6 2 8 2 14 0 8-3 6-4 9-10 3-6zM676 646l0-18-5-16-5-8-6-7-14-12-16-7-18-3-22-1-26 2-4 3-18 35-13 18-11 9-28 16-14 10-14 13-12 16-9 16-8 20-6 22-4 22-3 24-2 28-1 78 3 30 2 14 4 12 6 12 7 10 8 8 9 8 132 0 18-14 12-16 6-12 5-14 3-16 1-20-1-78-2-30-5-46 0-20 3-10 5-8 24-28 10-14 6-14zM576 524l1-14-1-12-2-12-4-10-6-9-7-7-9-5-10-4-12-1-14 1-12 3-12 5-10 7-9 10-6 10-4 12-1 12 1 12 3 12 6 12 9 10 11 9 12 6 12 4 12 1 14 1 16-1 6-2 4-8 6-16zM772 356l2-22-3-22-6-20-11-20-14-16-18-15-20-10-20-5-22-2-22 3-20 6-20 11-16 14-15 18-10 20-5 20-2 22 3 24 8 24 11 21 12 15 14 10 18 9 22 5 24 2 22-2 22-6 20-11 16-13 14-18 10-20zM914 552l-1-16-4-16-7-14-10-12-12-11-14-8-14-4-16-3-16 1-16 4-14 7-11 8-10 12-8 14-5 14-2 16 0 16 4 16 7 14 9 12 12 11 14 9 14 5 16 2 16-1 14-3 15-7 13-10 11-12 8-14 5-14z"/>
<path fill="#4367fd" transform="translate(41.7 143.8)" d="M392 358l0-14-5-12-5-5-6-5-12-5-14 0-8 3-6 3-5 5-5 6-4 12 0 14 6 13 10 9 6 3 8 2 14 0 12-6 5-5 5-6zM674 646l0-16-5-16-9-14-11-10-15-8-16-4-20-1-18 2-10 4-8 6-7 9-17 28-10 12-10 7-28 15-14 10-14 14-12 16-9 18-7 18-5 20-5 24-2 24-2 28-1 78 3 30 3 12 4 12 6 10 7 10 8 9 9 7 125 0 18-13 14-17 7-14 4-14 3-16 1-18-1-78-2-32-6-46 1-20 3-10 5-8 24-26 10-14 6-14zM574 520l1-12-2-12-3-12-5-10-6-8-8-6-9-4-10-3-12-1-12 2-12 4-10 5-10 8-7 9-5 10-3 12-1 12 2 12 4 12 7 10 9 9 10 7 12 6 12 2 12 1 12-1 10-3 6-4 6-7 6-12 4-12zM770 354l2-22-3-20-7-20-11-20-14-16-17-13-20-10-20-5-22-1-20 2-20 7-20 11-16 14-13 17-10 20-5 20-2 22 3 22 7 22 12 21 12 14 14 11 18 8 22 6 24 2 22-3 20-6 20-11 16-14 13-18 10-20zM910 566l2-14-1-16-4-14-7-14-9-12-11-10-14-8-14-5-16-2-16 0-14 4-14 6-11 9-9 10-9 14-5 14-2 16 1 16 3 14 6 14 10 13 12 11 14 8 14 5 16 2 16-1 14-4 14-7 12-10 10-11 8-14z"/>
<path fill="#416bfe" transform="translate(44.3 152.6)" d="M390 358l0-12-5-12-9-10-12-5-8-1-6 1-12 5-9 10-5 12 0 8 0 6 6 12 10 9 12 4 12 0 12-5 9-10zM672 646l0-16-4-14-7-12-11-11-14-8-16-5-18-1-16 2-12 5-10 7-8 11-17 26-9 10-10 8-28 14-14 10-15 14-12 18-8 16-8 20-5 22-4 22-4 52-1 78 4 30 7 22 6 10 8 10 8 8 8 6 119 0 9-6 10-8 8-8 7-10 6-12 4-14 3-16 1-20-1-80-3-30-6-46 1-18 3-10 4-8 25-26 10-14 7-14zM572 516l0-12-2-10-3-10-5-10-8-8-8-6-10-3-10-2-12 0-10 2-12 5-9 6-8 8-6 8-4 10-3 12 0 12 3 10 4 10 7 10 8 8 10 7 12 4 12 3 12 0 10-2 8-3 8-7 6-8 5-10 3-12zM768 352l1-22-3-20-7-20-11-18-14-15-16-12-20-10-20-5-22-1-20 3-20 7-18 11-15 14-12 16-10 20-5 20-1 22 3 22 7 20 12 20 12 14 15 11 18 8 22 5 22 1 22-3 20-7 18-10 16-15 12-16 9-20zM908 564l2-14-1-14-4-14-7-14-10-12-10-9-14-8-14-4-14-2-16 1-14 3-14 7-12 10-9 10-7 14-4 14-2 16 1 14 4 14 7 14 10 12 10 9 14 8 14 4 14 2 16-1 14-5 14-7 12-10 8-10 8-14z"/>
<path fill="#3e70ff" transform="translate(46.9 161.4)" d="M388 356l-1-12-2-6-4-6-9-8-12-3-12 1-10 5-8 9-4 12 1 12 2 6 4 6 9 8 12 3 12-1 10-5 8-9zM670 646l0-14-4-15-8-13-10-10-12-7-16-5-16-1-16 3-12 5-12 9-7 10-17 26-9 10-9 6-28 14-15 10-14 14-13 18-9 18-6 18-6 22-4 22-4 52 0 76 4 30 7 22 6 10 8 10 8 7 10 7 111 0 11-7 10-8 9-9 6-10 6-12 4-14 3-16 1-20-1-78-3-30-6-48 0-18 3-10 5-8 25-25 10-13 7-14zM568 526l2-12 0-10-2-10-4-10-4-8-8-8-8-5-8-4-10-2-12 0-10 2-10 4-10 7-8 8-5 8-5 10-2 10 1 12 2 10 4 10 7 9 8 8 10 6 10 4 10 2 12 0 10-2 10-5 7-6 6-8 5-10zM766 350l1-22-4-20-7-18-11-18-15-16-16-11-18-8-20-5-22-1-20 4-18 7-18 11-16 15-11 16-8 18-5 20-1 20 4 22 8 22 11 18 12 13 16 11 18 8 20 4 22 1 20-3 20-7 18-11 15-14 11-16 9-20zM906 564l2-14-1-14-4-14-7-13-9-11-11-10-12-7-14-4-14-2-16 1-14 4-12 6-12 9-9 11-7 12-4 14-2 16 1 14 4 14 6 12 10 12 11 10 12 6 14 5 14 2 16-2 14-4 12-6 12-10 9-11 7-12z"/>
<path fill="#3974fe" transform="translate(49.4 170.3)" d="M386 356l-1-12-5-10-8-7-10-4-12 1-10 4-8 9-4 11 1 12 5 10 10 8 10 3 12-1 10-6 7-8zM668 646l0-14-4-14-7-12-10-10-13-8-14-4-16 0-14 2-12 5-11 9-9 11-16 25-9 10-9 7-28 13-16 11-16 15-12 18-8 16-7 20-5 20-3 22-4 52 0 78 4 28 4 12 4 10 7 10 6 8 10 8 9 6 104 0 13-7 10-8 8-9 8-12 7-14 3-14 2-16 1-20-1-76-3-30-7-46 0-12 1-8 2-8 5-8 26-26 10-12 7-14zM566 524l2-12-1-10-2-10-3-8-6-8-6-6-8-6-8-3-10-1-10 0-10 2-10 4-9 6-8 8-5 8-4 10-2 10 1 10 2 10 5 10 6 8 8 8 8 4 10 4 12 2 10 0 10-2 8-4 7-6 6-8 5-10zM764 348l1-20-4-20-8-20-11-16-14-15-16-11-18-8-20-4-20-1-20 4-20 8-16 11-15 14-11 16-8 18-4 20-1 20 4 20 7 20 11 18 13 14 16 10 18 8 20 4 22 1 20-4 20-8 16-10 14-13 12-18 8-18zM904 564l2-14-1-14-4-14-7-12-8-11-11-9-11-6-14-5-14-2-14 1-14 3-12 6-12 9-9 10-7 12-4 14-2 14 1 14 4 14 5 12 9 12 11 9 12 7 14 5 14 2 14-1 14-4 12-6 12-9 9-11 7-12z"/>
<path fill="#3579fd" transform="translate(52 179.1)" d="M384 354l-1-10-5-9-8-7-10-3-10 1-10 5-7 9-3 10 1 10 6 10 9 7 10 2 10-1 9-6 6-8zM666 648l0-14-3-14-7-12-9-10-13-8-14-4-14 0-15 2-13 6-10 8-9 12-16 26-9 10-10 6-28 13-14 9-16 15-13 19-7 16-7 18-5 20-4 24-4 52 0 76 5 28 3 12 5 10 7 10 7 8 7 6 10 7 2 1 98 0 12-7 12-9 10-10 6-10 7-14 3-14 2-16 1-22-1-76-3-28-7-48 0-18 3-10 5-8 25-24 10-12 7-12zM564 524l1-10 0-10-2-10-3-8-5-8-7-7-8-5-8-3-10-1-10 0-10 3-8 3-8 6-6 6-6 8-4 10-1 10 0 10 2 10 4 8 6 8 7 7 8 5 10 4 10 2 10 0 10-3 8-4 7-5 6-8 4-8zM762 348l0-20-3-20-7-18-11-16-13-14-16-11-18-9-20-4-20 0-20 3-18 7-16 11-14 13-11 16-9 18-4 20 0 20 3 20 8 20 10 16 13 14 14 10 18 8 20 4 20 1 20-3 18-7 18-11 15-14 11-16 8-18zM902 564l2-12-1-14-4-14-6-12-7-10-12-10-12-7-12-4-14-2-14 1-14 3-12 6-11 9-9 10-6 12-4 12-2 14 1 14 4 14 6 12 7 10 12 10 12 7 12 4 14 2 14-1 14-4 11-6 11-8 9-10 7-12z"/>
<path fill="#317dfb" transform="translate(54.6 188)" d="M380 360l2-10-3-10-7-8-8-4-10-1-8 3-8 6-4 8-2 10 3 10 7 8 8 4 10 1 8-3 8-6zM664 648l1-14-3-12-6-12-10-10-12-7-14-5-14 0-14 2-12 6-12 10-8 11-15 25-9 10-10 7-28 12-16 10-15 15-13 19-7 15-7 18-5 22-3 22-4 52 0 74 4 28 4 12 5 10 7 10 6 7 8 7 10 6 3 2 91 0 14-7 12-9 9-10 8-12 6-14 4-14 2-18 0-22-1-74-3-28-8-48 1-18 3-10 5-7 25-23 10-12 7-12zM562 522l1-10 0-8-2-10-4-8-5-7-6-6-8-5-8-3-8-1-10 0-10 3-8 4-8 6-6 6-5 9-3 8-1 8 0 10 3 10 4 8 6 8 7 6 7 4 10 4 10 1 10 0 8-3 8-4 6-5 5-7 4-8zM760 346l0-20-3-18-8-18-10-16-14-14-17-11-18-8-18-3-20 0-18 3-18 8-16 10-14 14-11 17-8 18-3 18 0 20 4 20 7 18 11 17 12 12 16 10 18 8 20 3 20 0 18-3 18-7 16-11 14-13 10-16 8-18zM900 564l2-12-1-14-3-12-6-12-8-11-10-9-12-7-12-4-12-2-14 0-14 4-12 5-10 8-9 10-7 12-4 12-2 12 0 14 4 14 6 12 8 11 10 9 12 7 12 4 12 2 14-1 14-3 12-6 11-9 9-10 6-12z"/>
<path fill="#2f82fa" transform="translate(57.1 196.8)" d="M379 358l0-10-3-8-6-6-8-4-8 0-8 2-6 6-5 8 0 10 3 8 6 6 8 4 8 0 8-2 7-6zM662 648l1-14-3-12-7-12-9-9-12-7-12-4-14 0-14 3-12 6-10 9-9 12-15 25-8 9-10 7-28 12-16 9-16 16-13 18-7 16-6 18-5 20-4 22-4 50 0 74 4 28 4 12 5 10 6 10 7 8 9 8 8 5 6 3 84 0 14-7 13-9 10-10 8-12 6-14 5-18 1-18 1-30-2-66-3-26-8-46-1-12 1-8 3-8 5-8 25-22 11-12 7-12zM560 520l1-10-1-8-2-8-4-8-4-6-7-6-7-4-8-3-8-1-10 1-8 2-8 4-8 6-6 7-4 8-2 8-1 8 0 10 3 8 4 8 6 7 8 7 8 4 8 2 10 1 8-1 8-2 6-4 7-6 5-7 4-8zM758 346l0-18-3-18-7-18-10-16-14-14-16-11-18-8-18-3-18 0-18 3-18 7-16 10-14 14-11 16-8 18-3 18 0 20 3 18 7 18 11 16 13 14 14 9 18 7 20 4 20 0 18-3 18-8 16-10 13-13 10-16 8-18zM900 552l-1-14-3-12-6-12-8-10-8-8-12-7-12-4-12-2-14 0-12 3-12 5-10 8-9 9-6 10-5 12-2 14 0 14 3 12 6 12 7 10 10 10 10 6 12 5 14 2 14-1 12-3 12-5 10-8 9-10 6-10 5-12z"/>
<path fill="#2e86f7" transform="translate(59.7 205.6)" d="M376 356l0-8-3-8-5-5-8-3-8 1-6 2-6 7-2 6 0 8 3 8 5 5 8 3 8-1 6-2 6-7zM660 650l1-14-2-12-7-12-8-9-11-7-13-4-14 0-12 2-12 6-11 10-9 12-14 25-8 10-10 7-30 11-16 10-15 15-13 19-7 15-6 18-5 20-4 22-3 50 0 74 4 26 4 12 4 10 5 8 8 9 8 7 10 6 8 4 76 0 16-7 13-9 11-11 8-13 7-16 3-18 2-20 0-38-2-56-4-26-7-44-1-12 1-8 2-8 6-8 25-21 11-11 7-12zM558 520l0-16-1-8-4-8-5-7-6-5-6-4-8-3-8-1-10 1-8 2-8 5-6 4-6 7-4 7-2 8-1 8 1 10 2 8 4 7 6 7 6 5 8 4 8 3 8 1 8-1 8-2 7-4 7-6 4-6 4-8zM756 348l0-20-3-18-6-16-10-16-13-14-15-10-17-8-18-4-18-1-18 3-18 7-16 10-14 13-10 15-8 17-4 18 0 20 3 18 7 18 10 16 12 13 14 10 18 7 18 4 20 1 18-4 16-6 16-10 14-13 10-14 8-18zM898 554l0-14-3-12-6-12-7-10-9-8-11-7-12-4-12-2-12 0-12 2-12 5-11 8-9 10-6 10-4 12-2 12 0 12 2 12 6 12 6 10 10 9 10 7 12 5 12 2 14 0 12-3 12-5 10-7 9-10 6-10 5-12z"/>
<path fill="#2d8af5" transform="translate(62.3 214.5)" d="M374 352l-1-6-4-6-5-4-6-1-7 1-6 4-4 6-1 6 1 6 4 6 6 4 7 1 6-1 5-4 4-6zM658 650l1-14-2-12-5-10-10-10-10-6-12-4-14 0-12 2-12 7-10 9-8 12-15 26-7 9-10 7-30 11-16 9-16 15-14 21-7 16-6 18-4 20-4 22-3 50 1 72 4 26 8 20 5 8 8 9 9 7 9 6 10 4 68 0 16-7 14-9 12-11 9-13 6-16 4-20 1-20 0-42-3-54-3-24-8-44 0-18 2-8 5-8 27-22 12-12 6-10zM556 518l1-8-1-8-6-14-4-6-6-5-6-3-8-3-8 0-8 0-8 3-8 4-6 5-5 7-3 6-3 8 0 8 1 8 2 8 4 6 6 7 6 5 8 4 8 2 8 0 8-1 8-3 6-4 6-6 4-6zM754 348l1-18-3-18-6-16-10-16-13-14-15-11-16-7-18-4-18-1-18 3-16 6-16 10-14 13-11 15-7 16-4 18-1 18 3 18 7 18 10 16 13 14 14 9 16 7 18 4 18 1 18-3 18-7 14-9 14-13 11-15 7-16zM896 556l0-12-2-12-5-12-6-10-9-9-10-7-12-5-12-2-12-1-12 3-12 4-10 7-8 8-7 10-5 12-2 12 0 12 2 12 5 12 6 10 9 9 10 7 12 5 12 2 12 0 12-2 12-5 10-7 9-9 6-10 5-10z"/>
<path fill="#2c8ef1" transform="translate(64.8 223.3)" d="M370 356l1-6-3-6-4-4-4-2-6 0-4 2-4 4-2 4-1 6 3 6 4 4 4 2 6 0 4-2 4-4zM656 650l2-12-3-12-5-11-8-9-10-6-12-4-14 0-12 3-12 6-10 10-8 13-12 24-8 10-10 6-30 11-18 10-8 7-8 8-13 20-6 14-6 18-5 20-3 22-3 50 0 70 4 26 8 20 5 8 7 9 8 7 10 6 14 6 60 0 18-7 14-9 13-12 9-14 6-16 4-20 1-20-1-46-2-50-4-24-8-44-1-18 3-8 5-8 27-20 12-12 6-10zM554 516l0-14-3-8-4-6-5-6-6-4-6-3-8-2-14 1-8 3-6 4-6 5-4 6-3 6-2 8 1 14 3 8 3 6 6 6 6 4 6 3 8 2 14 0 8-3 6-4 6-6 4-6zM752 348l1-18-3-18-6-16-10-16-12-12-14-11-16-7-18-4-18-1-18 3-16 6-16 10-12 12-11 14-7 16-4 18-1 18 3 18 7 18 9 15 12 12 14 10 16 7 18 4 18 1 18-3 16-6 16-10 13-12 10-14 7-16zM894 558l1-12-2-12-5-12-6-10-8-9-10-7-10-4-12-3-12-1-12 2-11 4-10 6-9 8-7 10-4 10-3 12-1 12 2 12 5 12 6 10 8 9 10 7 10 4 12 3 12 1 12-2 10-4 10-6 9-8 7-10 5-10z"/>
<path fill="#2b92ee" transform="translate(67.4 232.2)" d="M366 356l1-4-1-4-2-3-4-2-4-1-4 2-4 4-1 4 1 4 2 3 4 2 4 1 4-2zM654 652l2-12-2-12-4-10-8-9-10-7-12-4-12-1-12 3-12 6-11 12-8 12-12 26-7 8-10 7-32 10-16 9-8 7-8 8-7 9-7 12-7 16-6 18-4 20-3 20-3 50 0 70 4 24 4 12 5 9 6 9 7 8 7 6 10 6 16 6 50 0 6-2 18-7 14-9 11-10 9-14 6-16 4-20 1-22 0-48-4-50-3-24-9-42-1-18 3-8 6-8 27-19 10-10 7-9zM552 514l-1-14-3-7-4-6-10-8-6-2-8-2-14 2-12 7-8 10-3 6-2 8 2 14 6 12 11 9 6 3 8 1 8 0 6-1 6-3 6-4 8-11zM750 350l1-18-2-16-5-16-10-16-12-14-13-10-15-7-18-5-18-1-16 2-16 5-16 10-14 12-10 13-7 15-5 18-1 18 2 18 6 16 9 15 12 14 14 10 16 7 16 4 18 1 16-2 16-5 16-9 14-13 10-13 7-15zM892 558l1-12-2-12-4-10-5-10-8-8-10-8-10-5-12-3-12 0-12 2-10 4-10 6-8 7-7 9-4 10-4 12 0 12 2 12 4 10 5 10 8 8 10 8 10 5 10 2 12 1 10-1 12-4 10-6 8-7 8-10 5-10z"/>
<path fill="#2896ec" transform="translate(69.9 241)" d="M358 354l1-2-1-2-2 0-1 2 1 2zM652 652l2-12-1-10-5-11-7-9-9-6-12-4-12-1-12 3-12 7-10 11-7 12-12 26-7 10-10 6-32 9-16 8-8 6-9 9-7 10-7 12-6 14-6 18-4 18-4 22-3 50 1 70 4 26 4 10 5 10 6 9 7 7 8 6 9 5 19 7 39 0 12-3 16-6 14-9 12-12 9-14 6-16 4-20 0-22 0-50-3-48-4-24-10-44-1-10 1-8 3-8 5-6 26-17 12-10 8-11zM548 522l2-14-3-12-8-10-5-4-6-3-6-1-8 0-12 3-10 8-7 11-1 6-1 8 4 12 7 10 12 7 6 2 8 0 12-3 10-8zM748 350l1-18-2-16-5-16-10-16-10-12-14-10-16-8-16-4-18-1-16 2-16 5-16 10-12 10-10 14-8 16-4 16-1 18 2 16 5 16 9 16 11 12 14 11 16 7 16 4 18 1 16-2 16-5 16-10 12-10 10-14 8-16zM890 560l1-10-1-12-4-12-5-10-7-8-10-8-10-5-10-3-12 0-10 1-10 3-10 5-9 7-7 9-6 11-2 10-1 12 1 11 4 11 5 10 7 8 10 8 10 5 10 2 12 1 10-1 10-3 10-6 8-6 8-10 5-10z"/>
<path fill="#2699e9" transform="translate(72.5 249.8)" d="M652 642l-1-10-3-10-6-8-8-7-10-4-10-2-10 1-10 3-10 7-10 11-7 13-10 26-6 8-10 6-33 9-18 9-10 8-7 8-8 10-6 12-6 14-6 18-4 20-3 20-2 50-1 48 1 20 5 24 3 10 5 10 6 8 8 8 17 11 12 4 13 3 23 0 22-5 16-7 14-10 10-10 8-14 6-16 3-20 1-26-1-52-4-44-13-66-2-10 1-8 2-6 5-7 30-18 12-11 9-14zM546 520l1-12-3-12-8-10-10-5-12-1-12 4-10 8-5 10-1 12 3 12 9 10 10 5 12 2 12-4 6-5 4-4zM746 352l2-18-2-16-5-16-8-14-11-13-14-11-14-7-16-5-18-2-16 2-16 5-14 8-13 11-11 14-7 14-5 16-2 16 2 18 5 16 8 14 11 14 12 9 16 9 16 4 18 2 16-2 16-5 14-8 12-10 11-13 8-16zM888 560l2-10-2-12-3-10-5-10-6-8-10-8-10-5-10-3-12-1-10 1-10 4-10 5-8 7-7 8-5 10-3 10-1 12 1 10 4 10 5 10 6 8 10 8 10 5 10 3 12 1 10-2 10-3 10-6 8-6 6-8 5-10z"/>
<path fill="#259de7" transform="translate(75.1 258.7)" d="M650 644l0-10-3-10-6-8-6-6-9-5-10-2-10 0-10 3-12 8-9 12-7 14-8 24-6 9-10 6-34 7-18 9-10 8-8 8-8 11-6 11-6 15-5 16-4 18-3 22-3 48 0 68 4 24 4 10 5 10 5 8 8 8 7 6 10 6 16 5 16 2 18-1 18-4 16-6 14-10 10-10 9-14 6-16 3-20 0-32 0-48-5-46-14-64-2-10 0-8 2-6 5-6 30-17 14-11 8-12zM544 518l1-12-4-10-7-8-10-5-12 0-10 3-8 8-5 10-1 12 4 10 8 9 10 4 12 1 10-4 8-8zM744 352l2-16-2-16-4-16-8-14-11-14-13-10-14-8-16-4-16-2-16 2-16 4-14 8-13 10-11 14-8 14-4 16-2 18 2 16 5 16 8 14 10 12 13 11 14 7 16 4 16 2 16-2 16-4 14-8 14-11 10-13 8-14zM886 562l2-10-1-12-3-10-4-9-6-8-8-7-10-6-10-4-10-1-10 1-10 2-10 5-8 5-8 9-5 9-3 10-2 10 1 12 3 10 4 9 6 8 8 7 10 6 10 3 10 2 10-1 10-2 10-5 9-7 7-8 5-8z"/>
<path fill="#23a0e5" transform="translate(77.6 267.5)" d="M648 644l0-10-2-8-5-8-7-6-8-5-10-2-10 0-10 4-11 7-9 12-6 14-8 28-4 6-4 3-6 3-36 6-18 8-10 7-9 9-7 10-8 14-5 14-6 18-6 38-3 50 0 46 1 20 4 24 8 18 6 8 8 8 8 6 9 5 14 5 16 2 18-1 18-4 16-7 12-8 10-10 9-14 6-18 3-20 1-42-1-40-5-44-4-22-12-44-1-10 0-8 2-6 4-5 30-14 14-10 10-13zM542 516l0-10-4-10-6-6-10-5-10 0-10 5-7 6-4 10 0 10 4 10 7 7 10 4 10 0 10-5 6-6zM744 340l-1-16-4-16-7-15-10-13-12-11-14-8-14-5-16-2-16 1-16 4-15 7-13 10-11 12-8 14-5 14-2 16 1 16 4 16 7 15 9 13 11 10 14 8 16 6 16 2 16-1 16-4 15-7 13-10 11-12 8-14 5-14zM886 552l0-10-3-10-4-10-6-8-9-8-8-4-10-4-10-1-10 0-10 3-9 4-8 6-7 8-5 8-4 10-1 10 0 10 3 10 4 10 6 8 9 8 8 4 10 4 10 1 10-1 10-2 8-4 9-6 7-8 5-8 3-10z"/>
<path fill="#20a4e3" transform="translate(80.2 276.3)" d="M646 644l0-10-3-8-5-8-6-5-8-4-10-2-10 1-8 3-12 9-8 12-6 16-4 27-4 7-10 3-38 5-10 3-8 4-10 7-10 10-8 11-7 13-6 16-5 16-6 38-3 50 0 44 1 20 5 24 8 18 6 8 7 7 16 11 14 5 16 2 18-1 18-4 16-7 12-9 11-12 8-12 5-18 3-20 0-48-1-38-2-22-3-22-5-22-13-44-2-10 0-8 1-4 4-4 30-10 16-10 6-6 6-8 2-6zM539 518l1-10-3-8-5-7-8-4-10-1-8 2-7 6-5 8 0 10 2 8 6 7 8 5 10 0 8-2 7-6zM742 344l0-16-3-16-6-14-9-13-11-11-13-9-14-6-16-3-16 0-16 3-14 6-13 9-11 11-9 13-6 14-3 16 0 16 3 16 6 14 9 14 10 10 14 9 14 6 16 3 16 0 16-3 14-6 13-9 11-11 9-13 6-14zM884 554l0-10-2-10-4-10-6-8-6-6-9-6-9-3-10-2-10 0-10 2-8 3-8 6-8 8-5 8-3 8-2 10 0 10 2 10 4 10 6 8 6 6 9 6 9 3 10 2 10 0 10-2 8-4 8-5 8-8 5-8 3-8z"/>
<path fill="#1ea7e1" transform="translate(82.8 285.2)" d="M604 904l-1-64-4-44-9-40-19-58-3-4-4-2-8-2-14 0-26 2-10 3-8 3-10 7-8 7-13 18-6 12-5 14-8 30-3 22-2 26-1 74 3 28 4 12 4 10 8 12 9 10 12 8 12 4 14 3 14 1 16-2 14-4 13-6 11-8 9-8 7-10 5-12 4-12 2-14zM536 516l0-8-2-7-6-7-6-3-8 0-8 3-6 5-3 7 0 8 2 8 6 6 7 3 8 0 8-3 6-6zM644 644l0-8-2-8-5-8-7-6-8-4-8-1-8 0-8 3-6 4-7 6-5 8-4 8-3 10-1 12 0 10 2 9 4 4 10 2 16-3 14-5 10-6 8-8 6-9zM740 346l1-16-3-14-5-14-8-14-11-11-12-9-14-6-16-4-16-1-14 3-14 5-14 8-11 11-9 12-6 14-4 16-1 16 3 16 6 14 8 13 10 11 12 8 14 7 16 3 16 1 14-3 14-5 14-8 11-11 9-12 6-14zM882 556l1-10-2-8-3-10-5-8-7-8-8-5-8-4-10-2-10-1-9 2-9 3-8 5-6 6-6 8-4 8-2 10-1 10 2 8 3 10 5 8 7 8 8 5 8 4 10 2 10 1 9-2 9-4 8-5 6-5 6-8 4-9z"/>
<path fill="#1babde" transform="translate(85.3 294)" d="M602 916l0-66-3-48-4-22-5-20-17-46-4-8-5-6-6-4-6-2-14-1-14 0-12 2-10 4-10 5-8 7-8 8-6 9-12 24-8 30-3 22-2 26-1 72 2 30 3 12 3 10 6 10 8 10 10 9 12 6 12 4 14 2 14-1 14-2 12-4 12-6 10-7 8-9 7-10 6-12 3-14zM532 516l1-6-1-6-4-5-6-4-6-1-7 2-5 4-3 6-1 8 2 6 4 4 6 3 6 1 6-2 5-4zM642 644l0-8-2-8-4-6-6-6-6-3-8-2-8 0-8 3-6 3-6 5-5 6-4 8-2 8-2 10 0 8 2 8 5 7 8 3 12 0 12-4 12-6 8-8 5-8zM738 348l1-16-2-14-5-14-8-14-10-11-12-9-14-7-14-3-16-1-14 2-14 5-14 8-11 10-9 12-7 14-3 14-1 16 2 14 5 14 8 14 10 11 12 9 14 7 14 3 16 1 14-2 14-5 14-8 11-10 9-12 7-14zM880 558l1-8-1-10-3-10-5-8-5-6-7-6-8-4-10-3-10-1-8 1-8 2-9 5-7 6-6 8-4 8-2 8-1 10 1 8 3 10 5 8 5 6 7 6 8 4 10 3 10 1 8-1 8-3 8-4 7-6 7-8 4-8z"/>
<path fill="#18aedb" transform="translate(87.9 302.9)" d="M600 922l1-20 0-46-3-50-4-20-4-20-7-22-8-20-5-10-6-8-6-5-6-2-12-3-14 0-12 1-12 4-10 6-8 6-8 9-6 9-11 23-8 30-3 22-2 26-1 70 2 30 3 12 4 10 6 11 8 9 9 8 11 6 12 4 12 1 12 0 14-2 12-3 12-5 10-7 9-8 7-10 6-10 4-12zM528 516l1-6-1-4-3-4-3-2-4-2-6 1-4 3-3 4-1 4 1 6 3 4 4 3 6 1 4-2 3-2zM640 644l0-8-2-6-3-6-5-5-6-4-6-1-8-1-6 1-6 3-6 4-6 7-3 6-3 8-2 8 2 14 4 8 6 3 10 2 12-3 10-4 10-8 5-8zM736 350l2-16-2-14-5-14-6-12-10-12-11-9-14-7-14-4-16-2-14 2-14 5-12 6-11 9-10 12-7 14-4 14-2 16 2 14 5 14 7 13 10 12 12 9 12 6 14 4 16 2 14-2 14-5 12-6 11-9 10-12 7-14zM878 558l1-8-1-10-2-8-4-8-6-7-8-6-8-4-8-3-10 0-8 1-8 2-8 5-6 5-6 7-4 8-2 8-1 10 1 8 2 8 4 8 6 7 8 6 8 4 8 2 10 1 8-1 8-3 8-4 6-5 6-7 4-8z"/>
<path fill="#13b1d7" transform="translate(90.5 311.7)" d="M600 892l-1-56-4-40-4-20-5-18-8-21-7-15-5-8-6-7-8-5-8-2-12-2-14 1-10 2-10 4-8 5-8 8-8 10-6 10-10 24-7 30-3 22-1 26-1 70 3 26 4 12 4 10 7 10 10 10 12 8 12 4 14 2 14 0 16-3 14-5 11-6 10-8 9-10 5-10 5-12 2-12zM523 512l-1-4-4-3-5 1-3 4 2 5 4 2 4-1zM638 642l0-6-2-6-4-6-4-4-6-3-6-1-12 1-6 3-6 4-7 10-4 14 1 12 4 7 6 5 10 1 10-1 10-5 8-7 6-8zM734 352l2-14-1-14-4-14-7-14-9-12-11-9-12-7-14-4-14-2-14 1-14 4-14 7-12 9-9 11-7 12-4 14-2 14 1 14 4 14 7 14 9 12 11 9 12 7 14 4 14 2 16-1 14-5 12-6 12-9 9-11 7-12zM876 560l1-8 0-10-2-8-4-8-5-6-6-6-8-5-8-2-8-2-8 1-8 2-8 3-7 5-5 6-5 8-3 8-1 8 0 10 2 8 4 8 5 6 6 6 8 5 8 2 8 1 8 0 8-2 8-4 6-4 6-6 5-8z"/>
<path fill="#0cb3d3" transform="translate(93 320.5)" d="M598 914l0-62-3-44-7-38-13-34-7-14-6-8-6-5-8-5-12-3-12-1-12 2-10 3-8 5-8 6-8 9-6 9-11 24-8 30-3 22-2 24-1 70 3 28 6 21 6 11 8 9 10 8 10 5 12 4 12 1 14 0 14-3 12-4 11-6 9-7 8-9 7-10 4-10 3-14zM635 648l1-6-1-6-4-10-9-6-6-2-6 0-11 4-9 8-4 10-2 12 2 8 5 6 7 4 8 0 10-2 8-5 7-7zM734 342l0-14-3-14-5-12-8-12-10-10-12-8-14-5-14-3-14 0-14 3-12 5-12 8-10 10-8 12-5 14-3 14 0 14 3 14 5 12 8 12 10 10 12 8 14 6 14 2 14 0 14-3 12-5 12-8 10-10 8-12 6-14zM874 560l2-8-1-8-1-8-4-8-4-6-7-6-7-5-8-3-8-1-8 1-8 2-8 3-6 5-6 6-3 6-3 8-2 8 1 8 1 8 4 8 4 6 7 6 7 5 8 2 8 2 8-1 8-2 8-4 6-4 5-6 4-6z"/>
<path fill="#05b6ce" transform="translate(95.6 329.4)" d="M596 922l1-18 0-40-2-48-7-38-5-18-6-16-7-14-6-9-6-7-8-6-10-3-12-2-12 0-12 4-8 4-8 6-8 8-6 9-7 12-5 12-7 28-4 22-2 24-1 68 2 28 6 22 5 10 8 10 9 8 10 6 10 4 12 2 12 0 14-2 12-3 11-5 10-6 8-8 8-10 5-10 4-12zM632 646l1-10-5-9-8-5-10-1-10 3-8 8-4 10 0 10 2 7 4 5 6 2 8 1 8-2 8-5 5-6zM732 344l0-14-2-14-5-12-8-12-9-10-12-8-12-5-14-3-14 0-14 2-12 5-12 8-10 9-8 12-5 12-3 14 0 14 2 14 5 12 8 12 9 10 12 8 12 5 14 3 14 0 14-2 12-5 12-8 10-9 8-12 5-12zM872 560l2-8 0-8-5-14-5-7-6-6-6-4-8-3-8-1-8 0-14 5-6 5-5 5-4 6-3 8-2 8 0 8 5 14 5 7 6 6 6 4 8 3 8 1 8-1 14-5 11-9 4-6z"/>
<path fill="#01b8c9" transform="translate(98.2 338.2)" d="M596 892l-1-54-4-38-8-34-6-16-6-14-7-11-6-7-8-6-8-4-10-2-12-1-10 2-10 4-8 5-8 7-12 17-11 24-7 30-2 22-2 24-1 68 4 28 3 10 4 10 8 11 9 9 11 7 12 4 12 2 14 0 14-3 14-5 10-5 10-8 8-10 6-10 4-12 2-12zM630 644l0-8-5-8-7-4-8-1-8 3-6 6-4 8-1 10 2 6 5 5 6 2 6 0 8-3 6-4 4-6zM730 348l1-14-2-14-4-12-7-12-8-10-10-8-12-6-14-4-14-1-14 2-12 4-12 7-10 8-8 10-6 12-4 14-1 14 2 14 4 12 7 12 8 10 10 8 12 6 14 4 14 1 14-2 12-4 12-7 10-8 8-10 6-12zM872 550l-1-8-2-8-8-12-7-5-6-3-14-3-14 2-6 3-7 6-8 12-3 14 2 14 3 6 5 7 6 5 6 4 14 3 8 0 8-3 12-7 6-7 3-6z"/>
<path fill="#02bac4" transform="translate(100.7 347)" d="M594 914l0-60-2-42-7-34-5-17-6-15-7-12-7-10-6-6-8-6-10-3-12-2-12 1-10 4-8 4-8 7-13 17-10 24-7 28-5 44-1 68 3 28 6 20 6 10 7 8 10 8 10 5 12 4 12 1 14-1 12-2 12-5 10-6 8-6 7-8 6-10 4-10 3-12zM728 350l1-12-1-14-3-12-6-12-9-11-10-9-12-6-12-4-12-1-14 1-12 3-12 6-11 9-9 10-6 12-4 12-1 12 1 14 4 14 6 12 8 10 10 8 12 6 12 4 12 2 14-2 12-3 12-6 12-9 8-10 6-12zM626 646l1-8-3-6-5-4-7-1-6 1-6 4-4 6-2 8 2 6 2 4 4 3 6 1 6-2 5-2 4-4zM870 552l-2-14-6-12-6-6-6-3-6-3-8-1-14 2-12 7-8 10-3 6-1 8 2 14 6 12 10 8 6 3 8 2 14-1 12-6 6-6 4-6 2-6z"/>
<path fill="#07bcbf" transform="translate(103.3 355.9)" d="M592 922l1-18 0-36-2-48-6-36-10-30-6-14-7-10-8-9-8-6-10-4-10-1-12 0-10 3-8 4-8 7-13 16-10 22-7 28-3 20-2 24-1 66 2 28 5 20 5 10 6 8 8 8 10 6 10 4 12 3 12 0 12-2 12-3 10-4 10-7 8-7 6-8 6-10 4-12zM726 350l2-12-1-14-4-12-6-12-8-10-9-8-12-7-12-3-12-2-14 1-12 4-12 6-10 8-8 9-7 12-3 12-2 12 1 14 4 12 6 12 8 10 9 8 12 7 12 3 12 2 14-1 12-4 12-6 10-8 8-9 7-12zM622 646l1-6-1-4-4-4-4-1-6 0-4 3-3 4-2 6 0 4 2 4 7 3 8-2 4-3zM868 552l0-8-2-6-6-11-5-5-6-4-13-3-12 1-12 7-8 9-3 6-1 8 0 8 2 6 6 11 5 5 7 4 12 3 12-1 12-7 8-10 3-7z"/>
<path fill="#0fbeba" transform="translate(105.9 364.7)" d="M592 902l0-54-3-38-7-34-11-28-7-12-6-8-8-7-8-5-10-3-10-1-10 1-10 3-8 5-8 7-12 17-10 23-6 28-5 44 0 66 2 26 7 20 6 10 10 10 10 7 10 4 12 3 12 0 14-2 12-4 10-5 10-7 8-8 5-8 5-10 3-12zM726 342l0-12-2-12-5-12-7-10-10-10-10-7-12-5-12-2-12 0-12 2-12 5-10 7-10 10-7 10-5 12-2 12 0 12 2 12 5 12 7 11 9 9 11 7 12 5 12 2 12 0 12-2 12-5 10-7 10-10 7-10 5-12zM616 644l0-4-4-3-4 2-2 3 0 4 4 2 4-1zM866 552l-1-12-2-6-5-6-10-8-12-3-12 1-11 6-8 10-3 12 1 12 2 6 5 6 10 8 12 3 12-1 10-6 9-10z"/>
<path fill="#19bfb5" transform="translate(108.4 373.6)" d="M590 916l1-56-3-42-6-34-9-28-6-12-7-10-8-9-8-5-10-4-10-2-10 0-10 3-8 5-8 6-12 16-10 22-6 26-3 20-2 24-1 64 2 28 5 20 6 10 7 9 8 7 10 6 10 3 12 2 12-1 12-2 12-4 10-5 8-7 8-8 5-8 4-10 3-12zM724 344l1-12-2-12-5-12-6-10-8-9-10-7-12-5-12-3-12-1-12 2-12 5-10 6-9 8-7 10-5 12-3 12-1 12 2 12 5 12 6 10 8 9 10 7 12 5 12 3 12 1 12-2 12-5 10-6 9-8 7-10 5-12zM864 550l-2-12-6-10-10-7-12-2-12 2-10 7-6 10-2 10 2 12 6 10 9 6 11 3 12-2 10-5 7-10z"/>
<path fill="#22c1b0" transform="translate(111 382.4)" d="M588 922l1-16 1-32-2-50-6-34-9-30-6-12-7-11-8-9-8-6-10-4-10-2-10 0-10 3-8 5-6 5-7 7-6 10-10 22-7 26-4 42-1 64 2 26 5 20 5 10 7 9 7 7 9 5 10 4 10 2 10 1 12-2 12-3 10-4 8-5 9-8 6-8 5-10 4-10zM722 346l1-12-1-12-5-12-6-10-7-8-10-8-10-5-12-3-12-1-12 1-12 5-10 6-8 7-8 10-5 10-3 12-1 12 1 12 5 12 6 10 7 8 10 8 10 5 12 3 12 1 12-1 12-5 10-6 8-7 8-10 5-10zM860 558l2-12-3-10-7-8-10-6-10-1-11 3-8 6-6 10-1 12 3 10 7 8 10 6 10 1 11-3 8-6z"/>
<path fill="#28c3aa" transform="translate(113.6 391.2)" d="M588 908l0-54-3-38-6-32-9-26-6-12-6-9-8-8-8-5-10-4-10-2-10 1-8 2-8 5-6 5-6 7-7 10-9 22-7 26-4 42-1 64 2 26 6 20 5 10 7 8 10 8 10 5 10 3 12 1 12-1 12-3 10-4 10-7 8-7 6-8 5-9 3-10 3-12zM720 348l1-10 0-12-4-12-5-10-8-10-8-7-10-5-12-4-10-1-12 0-12 4-10 5-10 8-7 8-5 10-4 12-2 12 2 12 3 10 5 10 8 10 8 7 10 6 12 3 12 2 12-2 10-3 10-5 10-8 7-8 5-10zM858 558l2-10-3-10-6-8-9-5-10-2-10 3-7 6-5 8-2 10 3 10 6 8 9 5 10 2 9-3 8-6z"/>
<path fill="#2ec4a5" transform="translate(116.1 400.1)" d="M586 918l1-52-2-42-5-32-9-28-6-12-6-10-7-8-8-7-8-4-10-2-10-1-10 3-8 4-7 5-7 8-5 8-10 22-7 26-4 42-1 62 2 26 5 20 6 10 6 8 8 7 8 5 10 4 10 1 10 0 12-1 10-3 10-5 9-6 8-8 5-8 5-10 3-10zM718 350l2-10-1-12-3-12-4-10-8-10-8-7-10-6-10-3-10-2-12 1-12 3-10 4-10 8-7 8-6 10-3 10-2 10 1 12 3 12 4 10 8 10 8 7 10 6 10 3 10 2 12-1 12-3 10-4 10-8 7-8 6-10zM856 556l1-10-3-8-6-8-8-3-10-1-8 3-6 5-4 8-1 10 3 8 6 7 8 4 8 1 8-2 8-6z"/>
<path fill="#32c69f" transform="translate(118.7 408.9)" d="M584 922l2-16 0-26-2-52-5-32-8-28-5-12-8-12-6-7-8-7-8-4-10-3-10-1-10 3-8 4-6 5-12 15-10 21-6 26-5 42-1 60 2 26 5 20 5 10 5 8 7 6 9 6 9 4 10 2 10 0 12-1 10-3 10-4 8-5 7-7 7-8 4-8 4-10zM718 340l0-12-3-10-4-10-7-9-8-8-10-6-10-4-10-1-12 0-10 3-10 4-9 7-8 8-6 10-4 10-1 10 0 12 3 10 4 10 7 10 8 7 10 6 10 4 10 1 12 0 10-3 10-4 10-7 7-8 6-10 4-10zM854 552l0-8-4-8-6-5-8-2-8 0-6 3-5 6-3 8 0 8 4 8 6 5 8 2 8 0 6-3 5-6z"/>
<path fill="#36c898" transform="translate(121.3 417.8)" d="M584 912l0-52-2-38-5-30-8-26-6-12-7-10-6-7-8-6-8-4-10-2-10 0-8 2-8 4-6 5-12 16-9 20-7 26-4 40-1 62 2 26 5 18 5 10 6 8 7 6 10 6 10 4 10 1 12 0 10-2 10-3 10-6 8-6 7-8 5-8 4-10 3-12zM716 344l1-12-2-10-4-10-5-8-7-8-9-7-10-5-10-2-12-1-10 2-10 4-8 5-8 7-7 9-5 10-2 10-1 12 2 10 4 10 5 9 7 7 9 7 10 5 10 2 12 1 10-2 10-4 8-5 8-7 7-9 5-10zM851 554l0-8-2-6-5-5-6-3-6 0-7 2-5 4-3 6 0 8 2 6 5 5 6 3 6 0 7-2 5-4z"/>
<path fill="#3cc992" transform="translate(123.8 426.6)" d="M582 920l1-16 0-30-2-46-4-32-8-26-6-12-6-10-7-8-8-6-8-5-10-2-10 0-8 2-6 3-7 6-11 14-10 20-6 26-5 40-1 62 2 24 5 20 4 8 6 8 7 7 8 5 8 4 10 2 10 0 12-1 10-3 9-4 9-6 6-6 6-8 4-8 4-10zM714 346l1-10-1-10-3-10-5-10-7-8-7-6-10-5-10-3-10-1-10 1-10 3-10 5-8 7-6 7-5 10-3 10-1 10 1 10 3 10 5 10 7 8 7 6 10 5 10 3 10 1 10-1 10-3 10-5 8-7 6-7 5-10zM847 554l1-4-1-6-3-5-5-3-5-1-6 1-4 3-3 5-1 4 1 6 3 5 5 3 5 1 6-2 4-2z"/>
<path fill="#43ca8b" transform="translate(126.4 435.4)" d="M582 900l0-48-3-34-5-28-9-24-5-10-7-10-7-7-8-5-8-4-10-1-8 0-8 3-6 4-7 6-11 16-8 20-6 26-4 40-1 60 3 24 5 18 6 10 7 8 8 6 10 4 10 3 10 0 12-1 12-4 8-4 8-6 8-8 5-8 4-10 3-10zM712 346l1-10-1-10-3-10-4-8-6-8-7-6-10-5-10-3-10-1-10 1-10 3-8 4-8 6-6 7-5 10-3 10-1 10 1 10 3 10 4 8 6 8 7 6 10 5 10 3 10 1 10-1 10-3 8-4 8-6 6-7 5-10zM842 552l0-7-2-3-4-2-6 1-4 5-1 4 1 3 2 3 4 2 6-1z"/>
<path fill="#4bcb83" transform="translate(128.9 444.3)" d="M580 914l1-48-2-38-5-30-8-26-6-12-6-10-6-7-8-6-8-4-10-2-8 0-8 2-6 4-7 5-11 15-8 19-7 26-4 40-1 58 2 24 5 18 5 10 6 8 6 6 8 5 8 3 10 2 10 0 12-2 10-3 8-5 8-6 6-6 5-8 5-10zM710 348l2-10-1-10-3-10-4-8-6-8-7-6-7-5-10-3-10-2-10 1-10 3-8 4-8 6-6 7-5 7-3 10-2 10 1 10 3 10 4 8 6 8 6 6 8 5 10 3 10 2 10-1 10-3 8-4 8-6 6-7 5-7z"/>
<path fill="#55cc7c" transform="translate(131.5 453.1)" d="M578 920l2-36-2-50-4-30-7-26-5-12-6-10-6-8-8-7-8-5-8-2-10-1-8 2-12 7-6 6-6 8-9 20-6 24-5 38-1 56 2 26 4 20 4 8 5 8 6 7 8 5 8 4 10 2 10 1 10-1 10-3 8-4 8-5 7-6 6-8 4-8zM708 348l2-8 0-10-3-10-3-8-6-8-7-6-7-5-10-3-8-2-10 0-10 3-8 3-8 6-6 7-5 7-3 10-2 8 0 10 3 10 3 8 6 8 7 6 7 5 10 3 8 2 10 0 10-3 8-3 8-6 6-7 5-7z"/>
<path fill="#5ecd74" transform="translate(134.1 461.9)" d="M578 908l0-48-2-34-4-28-8-24-6-12-6-9-6-6-8-6-8-4-8-2-8 0-8 3-12 8-10 14-9 20-6 24-4 38-1 58 2 24 5 18 5 9 6 8 8 7 8 4 8 3 10 1 10-1 10-2 10-4 8-5 7-6 6-8 4-8 4-10zM708 340l0-10-2-8-3-8-6-8-6-6-7-5-8-3-10-2-10 0-8 2-8 3-8 6-6 6-5 7-3 8-2 10 0 10 2 8 3 8 6 8 6 6 7 5 8 3 10 2 10 0 8-2 8-3 8-6 6-6 5-7 3-8z"/>
<path fill="#68cd6b" transform="translate(136.6 470.8)" d="M576 916l1-42-1-40-5-30-6-24-11-21-6-7-8-8-8-4-8-2-8-1-8 2-12 8-6 6-6 9-8 19-6 23-4 38-1 56 2 24 5 18 3 8 6 8 7 7 8 5 8 3 8 1 10 1 10-2 9-3 8-4 7-5 7-7 5-8 4-8zM706 342l0-8-1-8-2-8-5-8-6-7-7-5-8-4-9-2-8 0-8 1-8 2-8 5-7 6-5 7-4 8-2 9 0 8 1 8 2 8 5 8 6 7 7 5 8 4 9 2 8 0 8-1 8-2 8-5 7-6 5-7 4-8z"/>
<path fill="#73cd63" transform="translate(139.2 479.6)" d="M574 922l2-26-1-58-4-30-7-26-10-20-6-8-8-7-8-5-8-2-8-1-8 2-6 3-6 5-10 13-8 18-6 24-5 36 0 54 1 26 4 18 8 15 6 7 6 4 8 4 8 3 8 1 10-1 10-2 8-4 14-10 6-7 5-8zM704 342l1-8-1-8-3-8-5-8-6-6-6-5-8-3-8-2-8-1-8 1-8 3-8 5-6 6-5 6-3 8-2 8-1 8 1 8 3 8 5 8 6 6 6 5 8 3 8 2 8 1 8-1 8-3 8-5 6-6 5-6 3-8z"/>
<path fill="#7ecc5b" transform="translate(141.8 488.5)" d="M574 912l1-46-2-34-4-28-7-23-10-19-7-8-7-6-8-4-8-2-8 0-6 1-6 3-6 5-10 14-8 19-6 24-4 36 0 56 1 22 5 18 4 8 6 8 7 6 7 4 8 3 8 1 10 0 10-2 8-3 8-5 8-6 5-6 7-16zM702 344l1-8-1-8-2-8-4-7-6-7-5-4-7-4-8-2-8-1-8 1-8 2-7 4-5 4-6 7-4 7-2 8-1 8 1 8 2 8 4 7 4 5 7 6 7 4 8 2 8 1 8-1 8-2 7-4 7-6 4-5 4-7z"/>
<path fill="#89cb52" transform="translate(144.3 497.3)" d="M572 918l1-32-1-48-3-28-7-24-10-21-6-7-8-8-8-4-8-2-8 0-6 2-6 3-6 5-10 14-8 18-5 22-4 36 0 54 1 22 4 18 4 8 6 8 6 6 6 4 8 3 8 2 17-1 16-6 13-10 6-8 4-8zM700 344l1-8-1-8-2-8-4-6-10-10-6-4-8-2-8-1-8 1-8 2-6 4-10 10-4 6-2 8-1 8 1 8 2 8 4 6 10 10 6 4 8 2 8 1 8-1 8-2 6-4 10-10 4-6z"/>
<path fill="#94ca4a" transform="translate(146.9 506.1)" d="M572 902l0-44-2-30-4-24-7-22-10-18-7-8-6-4-6-4-8-2-8 0-6 2-6 3-6 5-10 14-7 18-5 22-4 36 0 54 1 22 5 17 5 9 5 7 6 5 8 5 8 2 10 1 10-1 10-3 14-8 6-6 5-8 4-8 3-10zM698 344l0-14-2-8-3-6-9-10-7-4-7-2-14 0-8 2-6 3-10 9-4 7-2 7 0 14 2 8 3 6 9 10 7 4 7 2 14 0 8-2 6-3 10-9 4-7z"/>
<path fill="#9fc942" transform="translate(149.5 515)" d="M570 914l1-40-1-36-4-27-6-22-10-21-6-7-6-6-6-3-8-3-8-1-6 1-11 7-10 12-8 18-5 22-4 36-1 52 1 22 4 18 4 9 5 7 6 6 7 4 14 5 8 0 10-2 8-2 8-4 12-11 4-6 4-9zM696 344l0-14-4-12-9-10-7-4-6-2-14 0-12 4-10 9-4 7-2 6 0 14 4 12 9 10 7 4 6 2 14 0 12-4 10-9 4-7z"/>
<path fill="#a9c73a" transform="translate(152 523.8)" d="M568 918l2-24-1-52-4-28-5-22-10-20-6-8-6-6-6-4-8-3-8-1-6 2-11 6-9 12-8 18-6 22-3 34-1 50 1 24 4 16 7 15 6 6 6 5 14 5 16 0 16-6 12-9 9-14zM694 342l0-12-5-12-9-9-12-5-12 0-12 5-9 9-5 12 0 12 5 12 9 9 12 5 12 0 12-5 9-9z"/>
<path fill="#b3c534" transform="translate(154.6 532.6)" d="M568 906l0-42-1-30-4-24-6-20-9-18-11-12-7-4-6-3-8 0-6 1-10 6-10 13-7 17-6 22-3 34-1 52 1 22 5 16 3 8 6 8 6 5 6 4 8 2 8 1 10 0 8-2 14-8 11-12 6-16zM692 342l0-12-4-10-8-9-6-3-6-2-12 0-10 4-9 8-3 6-2 6 0 12 4 10 8 9 6 3 6 2 12 0 10-4 9-8 3-6z"/>
<path fill="#bdc32e" transform="translate(157.2 541.5)" d="M566 914l1-38-1-36-4-26-5-20-9-19-6-8-6-5-6-4-6-2-8-1-6 1-10 7-10 13-7 16-5 22-3 34-1 48 1 22 4 16 8 14 5 6 6 4 6 3 8 2 16-1 15-6 11-10 8-14zM690 338l-1-10-5-10-10-8-10-2-10 1-10 5-8 10-2 10 1 10 5 10 10 8 10 2 10-1 10-5 8-10z"/>
<path fill="#c6c22a" transform="translate(159.7 550.3)" d="M564 918l2-22-1-52-3-26-6-22-8-18-6-8-6-6-6-4-7-2-7-1-6 2-10 6-9 13-7 16-5 20-3 32-1 48 1 22 4 16 7 14 5 6 6 5 6 2 8 3 14-1 14-5 12-10 8-12zM686 344l2-10-3-10-7-8-8-4-10-2-10 3-8 7-4 8-2 10 3 10 7 8 8 4 10 2 10-3 8-7z"/>
<path fill="#cfc028" transform="translate(162.3 559.2)" d="M564 908l0-40-1-30-4-24-5-19-8-17-11-12-7-4-6-2-6 0-6 1-10 7-9 12-6 16-5 22-3 32-1 48 2 20 4 16 4 8 4 6 6 6 6 3 6 2 8 2 8-1 8-2 8-3 6-5 9-10 6-14zM684 342l1-8-3-9-6-7-8-4-8-1-9 3-7 6-4 8-1 8 3 9 6 7 8 4 8 1 9-3 7-6z"/>
<path fill="#d8be28" transform="translate(164.9 568)" d="M562 914l1-32-1-38-3-24-5-21-8-17-10-12-6-4-6-3-8-1-6 2-10 7-8 11-6 16-5 20-3 32-1 46 2 20 3 16 8 14 10 9 6 2 8 2 14-1 14-6 10-10 6-12zM680 344l2-8-2-8-4-6-6-4-8-2-8 2-6 4-4 6-2 8 2 8 4 6 6 4 8 2 8-2 6-4z"/>
<path fill="#e0bc2a" transform="translate(167.4 576.8)" d="M560 918l2-20-1-48-3-26-4-20-8-18-10-13-6-5-6-2-6-1-6 1-10 6-8 10-6 14-5 20-4 30 0 40 0 26 4 18 6 12 9 10 12 5 14 0 14-4 10-8 8-13zM678 338l0-6-3-6-5-4-6-2-6 0-6 3-4 5-2 6 0 6 3 6 5 4 6 2 6 0 6-3 4-5z"/>
<path fill="#e7bb2e" transform="translate(170 585.7)" d="M560 906l0-38-1-26-3-22-5-18-7-16-10-12-10-6-6-1-6 1-10 6-7 10-7 16-4 18-3 30-1 46 1 20 3 16 8 14 10 9 6 2 8 2 14-3 12-6 10-11 5-13zM673 340l1-4-2-6-6-5-4-1-6 2-5 6-1 4 2 6 6 5 4 1 6-2z"/>
<path fill="#eeba34" transform="translate(172.6 594.5)" d="M558 912l1-32-1-34-3-22-5-20-7-16-9-11-10-6-6-1-6 1-8 5-8 10-6 14-5 20-3 28-1 42 1 22 3 16 5 12 5 6 5 4 12 5 14-1 12-5 10-9 7-12zM664 338l0-4-4 0 0 4z"/>
<path fill="#f4ba3a" transform="translate(175.1 603.4)" d="M556 916l2-20-1-44-3-24-4-20-7-16-9-12-10-6-6-1-6 1-8 5-8 10-6 15-4 18-3 28-1 42 1 20 3 16 6 12 8 8 6 3 6 2 12 0 12-4 10-9 6-10z"/>
<path fill="#fabb3d" transform="translate(177.7 612.2)" d="M556 900l0-34-1-24-3-20-5-16-7-15-8-10-10-5-6 0-4 0-8 6-8 11-6 16-4 19-2 30 0 46 2 18 4 12 8 11 10 6 12 1 8-2 6-2 10-8 6-10 4-12z"/>
<path fill="#febe3c" transform="translate(180.3 621)" d="M554 908l1-32-1-28-3-20-4-18-7-15-8-10-10-6-6 0-4 0-8 6-6 9-6 14-4 18-3 28 0 40 1 18 2 14 6 12 8 8 6 3 6 1 12-1 11-5 9-9 6-13z"/>
<path fill="#fec239" transform="translate(182.8 629.9)" d="M552 912l1-18-1-42-2-22-4-16-6-15-8-11-8-5-6-1-4 0-8 4-6 8-6 13-4 17-3 24-1 30 0 30 3 16 6 12 7 8 10 4 12 0 10-4 9-8 6-10z"/>
<path fill="#fec736" transform="translate(185.4 638.7)" d="M550 914l2-18-1-40-2-20-4-18-5-15-8-11-8-6-6-1-4 0-8 5-6 8-5 12-4 16-3 22-1 26 1 32 2 16 5 12 7 8 10 5 10 0 10-4 9-7 6-10z"/>
<path fill="#fdcb33" transform="translate(188 647.5)" d="M548 916l2-18 0-38-2-22-4-18-5-14-7-10-8-6-6-2-4 0-8 5-6 9-5 12-3 15-2 21-1 30 0 26 3 16 4 10 7 8 7 4 10 1 10-3 8-5 6-9z"/>
<path fill="#fcd030" transform="translate(190.5 656.4)" d="M548 902l-1-50-2-18-3-14-6-14-6-8-8-6-8 0-4 2-4 3-5 9-5 12-3 18-2 26-1 40 2 15 4 12 6 8 8 5 10 1 10-3 8-6 5-8 3-10z"/>
<path fill="#fad52e" transform="translate(193.1 665.2)" d="M546 906l0-52-2-16-4-16-4-11-6-9-8-6-8 0-6 3-6 9-4 10-4 16-2 22 0 28 0 22 2 14 5 10 7 8 8 3 10-1 9-4 7-8 4-10z"/>
<path fill="#f8da2b" transform="translate(195.6 674.1)" d="M544 908l0-50-2-18-3-14-5-14-6-8-6-4-8 0-6 4-5 8-4 10-3 14-2 22-1 34 1 16 2 12 4 9 6 6 8 4 8 0 8-4 7-7 5-10z"/>
<path fill="#f6de29" transform="translate(198.2 682.9)" d="M542 908l0-48-1-16-3-14-4-12-6-9-6-4-4-2-4 1-6 5-4 6-4 11-3 14-2 22 0 30 1 16 1 10 5 10 6 6 6 3 8-1 8-3 6-7 4-8z"/>
<path fill="#f5e327" transform="translate(200.8 691.7)" d="M540 906l0-44-3-28-5-12-4-8-6-5-6-1-6 4-4 5-4 10-3 13-2 18 0 24 0 22 2 12 3 8 6 7 6 3 8 0 7-4 6-6 3-8z"/>
<path fill="#f5e825" transform="translate(203.3 700.6)" d="M538 904l0-41-4-27-4-12-4-6-4-3-6-2-6 4-4 7-4 12-2 14-1 22 0 30 1 10 3 10 5 6 4 3 6 1 6-2 6-4 4-6 2-6z"/>
<path fill="#f5ec22" transform="translate(205.9 709.4)" d="M534 912l2-12 0-22-1-20-2-14-3-11-4-8-4-4-6-2-4 3-4 5-5 19-2 30 0 22 1 12 2 8 4 6 4 3 4 1 6-1 5-3 5-6z"/>
<path fill="#f6f11f" transform="translate(208.5 718.3)" d="M532 908l1-10 0-24-2-26-3-10-4-7-4-4-4 0-4 2-2 3-3 8-2 10-2 26 1 32 2 7 3 5 5 4 4 0 4-1 4-3 4-6z"/>
<path fill="#f7f51b" transform="translate(211 727.1)" d="M528 908l2-10 0-14-2-29-2-9-3-6-3-3-4-1-2 1-3 5-4 14-1 24 1 26 3 9 3 3 3 1 4 0 4-3z"/>
<path fill="#f9f916" transform="translate(213.6 735.9)" d="M524 904l1-18-1-23-4-12-2-2-2 0-4 7-1 10-1 18 0 18 2 6 4 4 2 0 3-2z"/>
</g></g>
<path class="ax" d="M17.8 433.1L17.8 492.9L156.3 510.7M156.3 510.7L196.5 448.2M156.3 510.7L155.1 512.6M128.6 507.1L127.4 509M100.9 503.6L99.7 505.4M73.2 500L72 501.9M45.5 496.5L44.3 498.3M17.8 492.9L16.6 494.8M156.3 510.7L158.5 511M164.3 498.2L166.5 498.5M172.4 485.7L174.6 486M180.4 473.2L182.6 473.5M188.5 460.7L190.6 461M196.5 448.2L198.7 448.5M17.8 492.9L15.2 492.9M17.8 473L15.2 473M17.8 453L15.2 453M17.8 433.1L15.2 433.1"/>
<text class="t" x="153.3" y="522.4" text-anchor="end">0</text>
<text class="t" x="125.6" y="518.8" text-anchor="end">20</text>
<text class="t" x="97.9" y="515.2" text-anchor="end">40</text>
<text class="t" x="70.2" y="511.7" text-anchor="end">60</text>
<text class="t" x="42.5" y="508.1" text-anchor="end">80</text>
<text class="t" x="14.8" y="504.5" text-anchor="end">100</text>
<text class="t" x="163.2" y="518">0</text>
<text class="t" x="171.2" y="505.4">20</text>
<text class="t" x="179.3" y="492.9">40</text>
<text class="t" x="187.3" y="480.4">60</text>
<text class="t" x="195.4" y="467.9">80</text>
<text class="t" x="203.4" y="455.4">100</text>
<text class="t" x="13" y="495.3" text-anchor="end">0</text>
<text class="t" x="13" y="475.4" text-anchor="end">50</text>
<text class="t" x="13" y="455.5" text-anchor="end">100</text>
<text class="t" x="13" y="435.5" text-anchor="end">150</text>
<path d="M156.6 510.6C154.2 510.3 147.4 509.7 142.1 508.8C136.8 507.9 130.1 507 124.7 505.1C119.3 503.2 113.5 500.1 109.8 497.6C106.1 495.2 104.1 492.9 102.5 490.4C100.9 487.9 100.7 485.7 100.1 482.6C99.5 479.5 99.5 475 99.1 471.8C98.7 468.6 98.5 465.9 97.5 463.3C96.5 460.7 94.7 458.7 93.2 456.4C91.8 454.1 89.4 452 88.8 449.4C88.2 446.8 89 444.1 89.4 440.9C89.9 437.7 90.9 432.7 91.5 430.1C92.1 427.5 92.4 427.3 92.8 425.5C93.2 423.7 93.8 420.2 94 419.2" fill="none" stroke="#de1030" stroke-width="2.1" stroke-linecap="round" stroke-linejoin="round"/>
<path d="M94 419.2C93.6 419.8 92.4 421.8 91.7 422.8C91 423.9 90.1 425.1 89.8 425.5" fill="none" stroke="#de1030" stroke-width="2.1" stroke-linecap="round" stroke-linejoin="round"/>
<circle cx="102.5" cy="490.4" r="1.1" fill="none" stroke="#3c9a3c" stroke-width=".6"/>
<circle cx="97.5" cy="463.3" r="1.1" fill="none" stroke="#3c9a3c" stroke-width=".6"/>
<circle cx="88.4" cy="449.4" r="1.1" fill="none" stroke="#3c9a3c" stroke-width=".6"/>
<circle cx="94" cy="419" r="1.1" fill="none" stroke="#3c9a3c" stroke-width=".6"/>
<circle cx="156.6" cy="510.6" r="1.9" fill="#f6f000" stroke="#c8b400" stroke-width=".3"/>
<polygon points="89.6 423.4 90.1 424.9 91.7 424.9 90.5 425.9 90.9 427.4 89.6 426.5 88.3 427.4 88.7 425.9 87.5 424.9 89.1 424.9" fill="#f4c20a" stroke="#7a5a10" stroke-width=".4"/>
<text class="cap" x="93.5" y="544.8" text-anchor="middle">(e) GA</text>
</g>
<g>
<path class="g" d="M281.1 473.9L281.1 404.4M298.8 469.3L298.8 399.8M316.4 464.7L316.4 395.2M334.1 460L334.1 390.5M351.7 455.4L351.7 385.9M369.4 450.8L369.4 381.3M281.1 473.9L369.4 450.8L437.6 480.9M281.1 450.7L369.4 427.6L437.6 457.7M281.1 427.6L369.4 404.5L437.6 434.6M281.1 404.4L369.4 381.3L437.6 411.4M437.6 480.9L437.6 411.4M403.5 465.8L403.5 396.4M369.4 450.8L369.4 381.3"/>
<g filter="url(#b)"><path fill="#3e26a8" d="M349.3 504L281.1 473.9L369.4 450.8L437.6 480.9Z"/>
<g transform="matrix(-.0682 -.0301 .0883 -.0231 349.3 504)">
<path fill="#3e27aa" transform="translate(1.9 1.5)" d="M1000 616l0-134-7-16-14-22-17-20-18-17-34-25-6-6-5-8-5-14-5-50-7-34-7-18-7-16-9-18-9-14-20-24-24-23-26-18-32-16-18-6-22-6-20-3-22-1-20 0-22 3-22 5-20 6-22 10-20 11-18 12-18 16-14 14-13 16-12 18-17 31-7 7-5 2-6-1-36-13-22-5-24-1-24 5-12 4-12 6-20 15-10 10-8 10-11 22-7 24-1 14 0 14 2 14 4 14 5 12 7 12 15 19 18 14 10 6 14 6 40 12 5 5 3 8 0 42 8 49 0 17-4 16-21 50-10 34-6 26-4 24-4 54-2 72 1 68 5 34 4 14 7 16 384 0 6-14 5-14 4-16 3-18 1-26 0-52-2-98 2-20 3-7 4-7 8-6 10-2 50 7 18 1 16-1 26-4 28-10 16-8 14-9 14-11 12-11 11-12 10-14 10-16z"/>
<path fill="#3e27ac" transform="translate(4.3 3.4)" d="M1000 558l-1-26-4-26-10-26-12-22-12-16-15-16-18-15-34-23-7-6-5-8-4-14-3-46-6-30-9-30-15-28-20-28-23-24-26-19-14-8-18-9-22-7-22-5-22-3-22-1-24 2-22 5-20 6-20 8-18 10-18 12-16 13-14 14-12 14-10 14-11 20-15 30-4 6-4 2-4 0-6-2-26-15-18-8-14-4-14-2-18 0-18 3-18 7-14 8-12 9-11 12-9 14-7 14-4 14-3 18 1 18 3 16 5 16 10 16 11 14 14 12 12 7 14 6 16 5 30 4 6 3 3 3 2 4 0 6-2 30 1 20 2 16 9 44 0 12-3 10-21 48-12 36-8 36-6 46-3 68 1 90 2 20 3 18 6 16 6 14 353 0 8-14 6-16 4-16 2-16 1-26 0-50-2-104 4-22 8-19 4-5 6-5 10-3 10 1 30 7 20 3 20 0 20-1 16-4 16-4 16-7 14-8 18-12 14-13 13-14 12-18 8-16 8-20 5-20z"/>
<path fill="#3f28ae" transform="translate(7.2 5.6)" d="M990 572l2-28-3-26-8-26-13-26-13-18-17-18-20-15-36-23-7-6-5-8-3-14-2-44-5-30-9-30-15-30-10-14-11-14-11-12-14-12-14-11-16-9-16-8-16-7-16-4-18-4-18-2-18-1-18 2-18 2-32 10-22 9-22 14-18 14-17 17-13 16-13 20-10 20-13 31-6 8-4 2-6-2-30-24-12-7-12-5-12-3-12-2-22 0-16 3-12 4-12 6-12 9-10 9-9 11-7 12-5 12-3 10-2 14 0 14 2 12 3 14 5 12 7 12 8 10 17 15 18 10 12 4 14 3 38 4 4 2 3 6 0 8-4 30 0 22 4 24 9 38 1 16-5 16-23 48-12 38-9 46-5 58-1 86 1 44 2 16 4 18 6 16 6 14 333 0 7-12 6-14 4-14 3-18 2-26 1-44-1-44-2-56 0-16 2-13 4-13 6-14 6-10 8-9 4-3 6-2 12 2 28 7 16 4 28 2 18-1 16-3 18-6 18-8 18-10 14-11 14-14 11-14 10-16 7-16 6-18z"/>
<path fill="#3f29b0" transform="translate(10.6 8.2)" d="M984 566l1-26-4-26-9-26-13-24-13-16-16-16-18-13-38-22-8-7-4-6-4-14-1-46-4-30-4-16-6-16-8-16-8-14-19-26-24-23-14-10-14-8-16-8-16-6-20-6-22-3-22-1-20 1-20 3-22 6-20 9-20 11-16 11-16 14-13 14-13 16-9 16-8 16-19 53-3 5-3 2-6-3-18-21-10-10-18-13-12-6-14-4-12-3-14 0-14 1-14 4-14 6-12 8-10 9-9 10-7 12-6 14-3 12-2 12 0 14 2 12 4 14 6 12 6 10 9 10 8 7 10 7 12 7 10 3 12 3 12 1 38 0 5 2 2 4-1 8-7 36 0 24 4 26 11 40 1 8 0 8-5 16-23 46-12 36-6 24-4 24-5 54-1 90 1 46 3 18 4 16 5 14 7 14 317 0 9-16 6-16 4-16 3-20 1-22 0-44-3-96 1-20 2-12 5-13 8-16 8-13 4-6 6-5 4-1 6-1 10 2 26 8 18 5 20 2 20 0 28-5 16-6 14-6 16-10 14-11 14-14 11-14 9-16 8-16 5-18z"/>
<path fill="#402ab3" transform="translate(14.5 11.2)" d="M978 568l1-28-4-26-8-24-14-24-14-18-17-15-18-12-39-21-7-6-4-6-3-14 0-46-4-30-4-16-6-16-6-14-9-16-10-14-10-12-11-12-13-11-14-10-14-8-28-12-24-6-24-3-24 0-24 3-24 6-24 10-20 12-20 15-16 16-13 16-12 18-9 18-9 26-6 28-3 22-1 28-2 10-5 11-4 3-4 2-2 0-2-4 4-28 0-16-4-12-6-14-12-18-12-13-16-12-16-8-18-4-18-1-18 3-16 6-16 10-12 11-12 16-7 16-3 12-1 14 1 12 2 14 4 12 7 12 7 10 10 10 10 8 10 5 10 4 12 3 14 2 12 0 38-5 4 1 2 4-2 8-10 38-2 14 0 14 1 14 3 14 14 44 1 8-1 8-4 14-25 48-12 34-6 24-4 22-5 52-2 72 0 42 2 24 2 20 5 16 5 14 7 14 303 0 9-14 7-16 4-18 3-20 1-24 1-44-4-94 1-20 3-12 5-13 20-38 8-9 4-2 6-1 10 2 42 14 28 3 18 0 18-3 16-4 16-6 16-9 14-10 13-12 12-14 10-16 8-16 6-18z"/>
<path fill="#402bb6" transform="translate(19.3 14.9)" d="M446 360l0-16-4-16-7-16-10-14-13-13-14-9-16-6-16-4-18 0-16 4-16 6-14 10-12 12-9 14-7 16-3 16 0 16 4 18 7 16 10 14 12 12 14 9 16 6 16 3 18 0 18-3 20-8 14-8 9-9 7-14 7-18zM972 572l2-26-3-26-8-26-13-24-15-18-17-15-22-14-38-19-7-6-4-6-3-6-1-8 1-40-1-20-3-18-5-20-8-22-12-20-14-20-16-16-25-19-26-14-30-10-16-3-16-2-32 1-30 7-16 5-14 6-26 16-16 14-15 15-12 16-12 20-10 26-7 28-3 26-1 36-3 14-3 6-6 7-28 21-11 12-8 14-7 14-5 14-4 14-2 22 1 24 5 20 13 36 2 8 0 8-2 8-4 8-17 30-8 18-8 20-6 18-6 26-4 24-3 28-1 32-1 86 1 38 3 18 5 16 5 14 7 12 290 0 9-14 7-16 5-18 3-20 1-22 0-42 0-44-3-54 1-22 3-12 5-12 26-48 8-8 4-1 6 0 8 2 26 10 16 5 16 4 18 1 14 0 14-2 16-4 14-6 16-8 14-10 13-11 12-14 10-14 8-16 5-16z"/>
<path fill="#412cba" transform="translate(25.1 19.4)" d="M440 366l1-16-2-16-6-16-8-14-11-12-14-10-14-7-16-4-16-1-18 3-14 5-14 8-12 11-10 13-6 14-4 16-1 16 2 16 6 16 7 12 11 12 13 10 14 7 16 4 16 1 18-2 16-5 16-9 11-10 9-12 7-16zM968 564l0-26-4-26-10-24-14-22-14-16-16-13-20-11-39-18-7-5-4-5-3-8-1-8 2-40-1-22-2-18-6-20-8-22-12-20-13-18-16-16-24-19-14-8-14-6-28-9-30-4-30 2-16 2-16 5-26 10-26 17-18 15-16 19-15 22-10 22-6 20-4 20-1 22 0 36-2 10-2 7-9 11-29 23-14 15-8 12-6 12-5 14-3 12-3 22 2 22 6 22 14 36 2 8 0 8-5 14-19 32-8 16-8 18-6 20-6 24-4 26-4 30-2 34 0 84 2 36 2 16 4 16 6 14 8 14 277 0 10-14 7-16 5-18 3-20 1-24 0-42 0-44-3-52 1-22 3-12 5-12 30-57 4-4 4-3 4-1 6 0 50 19 18 4 16 2 16-1 14-2 14-3 14-5 16-9 14-10 14-12 11-14 10-16 7-14 5-16z"/>
<path fill="#422fc0" transform="translate(32.9 25.4)" d="M436 358l0-16-4-14-6-14-9-12-11-11-12-8-14-6-16-3-16 0-14 3-14 6-14 10-11 11-7 12-7 16-2 14 0 14 4 16 6 14 9 13 11 11 13 8 14 5 16 3 16 0 14-3 14-6 14-10 11-11 7-12 5-14zM962 566l1-26-4-26-10-24-14-22-15-16-18-13-22-12-38-15-6-4-5-6-2-6-1-10 3-38 0-20-2-20-4-18-8-22-12-22-13-18-16-17-24-18-26-14-28-8-28-4-30 1-28 6-26 11-26 16-18 16-17 19-12 20-10 22-6 20-3 20-2 20 1 38-1 8-3 8-8 10-31 24-15 16-7 10-7 12-5 12-3 14-3 22 3 22 6 22 15 34 2 8 1 8-5 14-19 30-10 20-8 18-6 18-6 24-5 30-4 30-1 34-1 82 2 36 3 16 5 16 5 12 8 14 264 0 10-14 7-16 6-18 3-20 1-26 0-56-4-84 2-20 6-18 19-36 18-36 3-4 4-3 8 0 48 22 16 4 16 3 14 0 16-1 14-3 14-4 16-7 14-9 14-12 11-12 10-14 8-16 6-16zM690 538l-4 3-4 0-12-4-11-9-1-4 0-4 6-4 6-1 8 0 6 2 4 3 3 6 1 6z"/>
<path fill="#4332c9" transform="translate(47.4 36.6)" d="M428 368l2-14-1-14-4-14-6-12-10-12-11-9-12-7-14-5-14-1-14 1-14 4-12 6-11 9-9 10-7 12-4 14-2 14 1 16 4 14 7 12 9 11 10 8 12 7 14 5 14 1 14-1 14-4 12-6 12-9 9-10 6-12zM954 566l1-26-4-24-10-24-7-12-8-10-16-16-20-13-22-10-36-11-8-4-5-6-2-6-1-8 5-40 1-22-1-18-4-20-8-22-10-20-13-19-16-17-22-17-24-12-28-9-28-4-28 2-28 6-26 11-24 16-16 15-15 18-12 20-8 20-6 20-2 18-1 20 2 38-1 8-3 8-8 10-34 24-16 16-8 10-7 12-4 12-3 12-2 22 1 12 2 12 8 22 17 32 3 8 0 6-1 6-3 8-27 40-9 16-6 16-7 18-5 20-8 46-2 32-1 36-1 60 2 28 3 20 4 18 7 16 9 14 244 0 11-14 8-16 6-18 3-22 2-26-1-58-4-82 2-20 7-18 17-30 8-16 13-37 4-8 2-2 4-2 6 2 42 24 16 7 16 4 16 2 14 0 14-1 16-4 16-6 14-8 14-11 12-12 11-14 8-16 6-16zM706 548l-3 10-4 4-5 1-10-4-33-19-11-8-4-5-2-5 0-6 1-4 3-4 4-3 14-4 24-1 10 1 6 2 7 5 3 8 2 14z"/>
<path fill="#4435d1" transform="translate(61.8 47.8)" d="M424 362l1-14-2-12-4-12-7-12-10-10-10-8-12-5-14-4-14 0-12 2-12 4-12 7-10 10-7 10-6 12-3 12 0 12 1 14 5 12 7 12 9 10 10 8 12 5 14 4 14 0 12-2 12-4 12-7 10-9 8-11 5-12zM948 566l1-12 0-14-4-24-5-12-6-12-8-12-8-10-16-14-20-12-22-9-40-9-8-4-4-4-2-6 0-10 7-40 2-22-1-20-3-18-8-24-10-20-13-19-16-17-20-15-24-12-26-8-28-4-26 2-26 6-26 11-22 15-16 15-14 18-12 20-8 20-4 18-2 18-1 20 3 38 0 8-3 8-4 6-5 4-34 22-18 16-8 10-7 12-5 12-3 12-2 22 2 12 3 12 9 22 19 32 3 8 0 6-1 6-3 6-29 40-9 16-7 14-7 20-6 20-7 44-3 32-2 36 0 62 1 28 3 20 6 18 7 16 10 14 228 0 11-14 9-16 6-18 3-20 2-24 0-46-1-42-4-54 2-22 6-18 20-34 10-22 7-22 5-34 2-6 2-1 6 4 25 21 15 11 24 13 16 5 16 3 16 0 16-1 16-4 18-8 16-10 12-11 12-14 9-16 8-18zM716 531l-3 47-1 7-2 2-6-2-34-25-31-18-9-6-4-5-3-5-1-6 0-8 2-6 4-6 6-4 6-2 10-2 20-1 18-1 12 1 10 4 5 7 1 10z"/>
<path fill="#4538d8" transform="translate(76.3 59)" d="M420 362l1-14-2-12-5-12-6-10-8-9-10-7-12-6-12-3-12 0-12 1-12 4-10 6-9 8-8 10-6 12-3 12 0 12 2 14 4 12 6 10 8 9 10 7 12 6 12 3 14 0 12-2 12-4 10-7 9-8 7-10 5-10zM944 556l-1-24-3-12-4-12-5-12-6-10-8-10-9-9-16-12-20-10-22-7-42-7-8-3-3-4-1-6 0-8 9-40 3-22 1-20-3-20-7-24-10-22-14-20-16-16-21-16-24-11-26-7-24-3-26 2-24 6-24 11-22 15-15 15-14 18-10 18-8 22-4 16-2 18 1 20 4 38-1 8-3 8-2 4-6 5-36 20-18 15-8 10-8 12-5 12-3 12-2 12 0 12 2 12 3 12 11 22 22 32 2 6 1 6-1 6-4 8-30 36-9 14-8 16-8 20-5 18-5 20-4 24-3 32-2 36 0 66 1 28 3 20 6 18 7 16 10 14 216 0 13-16 9-18 5-12 3-14 2-30 0-68-5-76 1-20 3-10 4-10 21-34 10-22 7-24 1-24-2-12-4-10-6-10-8-10-19-15-12-8-26-13-6-4-6-6-4-10 0-12 3-12 6-8 9-5 18-2 54-2 10 1 6 3 3 5 1 8-3 44 1 24 3 16 5 14 7 10 8 10 21 19 22 12 24 8 24 2 22-2 22-8 20-12 17-15 14-20 9-22z"/>
<path fill="#463cdf" transform="translate(90.8 70.2)" d="M416 364l1-12-1-12-4-12-5-10-7-8-10-8-10-6-12-3-12-1-10 1-12 3-10 6-10 8-7 8-5 10-4 12-1 12 1 12 4 12 5 10 7 8 10 8 10 6 12 3 12 1 12-1 10-3 11-6 9-8 7-8 5-10zM938 568l2-14 0-14-3-14-3-12-5-12-7-12-8-11-10-10-18-13-22-9-26-6-42-3-6-2-4-4-1-4 1-8 12-40 4-22 2-22-2-20-5-24-10-22-12-20-17-18-20-16-22-11-24-7-26-4-26 2-24 6-24 11-20 14-16 15-14 18-9 18-8 22-4 18-1 18 1 20 5 36 0 8-2 6-4 6-5 4-37 19-10 6-10 9-9 10-7 12-5 12-3 12-2 12 1 12 2 12 3 12 12 22 24 30 3 6 1 6-1 6-4 8-32 36-10 14-8 14-8 18-6 18-5 20-4 22-3 30-2 36-1 68 1 30 3 20 5 18 7 16 9 14 4 4 204 0 14-16 10-20 7-24 2-32 0-68-5-74 1-20 2-10 4-10 24-36 8-18 7-22 1-22-2-14-5-12-7-12-8-10-10-8-12-8-38-19-8-9-4-12 0-18 4-13 6-8 6-3 10-2 40-2 38-3 12 0 6 3 3 4 0 8-6 40-1 24 3 20 5 18 6 10 7 10 17 17 20 14 22 8 22 4 22-1 20-5 20-10 18-14 14-17 11-20z"/>
<path fill="#4740e4" transform="translate(105.3 81.4)" d="M414 354l-1-12-3-10-4-10-6-8-8-7-10-6-10-4-12-2-12 1-10 2-10 5-9 7-8 8-6 10-3 10-2 12 1 12 3 10 5 10 7 10 8 6 10 6 10 3 12 2 12-1 10-3 10-5 8-6 7-8 6-10 3-10zM936 554l0-14-2-14-4-12-5-12-7-11-8-10-10-10-10-8-20-10-24-7-26-2-42 3-4-1-3-2 0-4 1-6 16-40 7-24 4-24 0-22-5-26-10-24-14-22-18-20-20-14-22-10-24-7-24-2-24 2-24 7-22 10-20 14-15 16-12 16-10 20-6 20-3 18-1 16 1 20 6 38 0 8-2 7-4 5-6 4-36 16-12 7-9 7-9 10-7 10-6 12-4 14-1 14 1 12 2 12 4 12 7 12 7 10 26 30 4 6 0 6-1 6-4 6-34 34-10 14-9 14-8 16-6 18-6 20-5 24-3 30-3 38 0 68 1 30 2 20 5 18 8 16 10 14 3 4 194 0 8-8 8-10 6-10 5-12 6-26 2-30 0-68-5-72 1-20 2-10 5-10 22-34 10-18 6-22 1-22-2-12-5-12-7-12-8-10-18-14-14-7-26-12-6-4-5-5-4-12 0-22 3-17 2-5 4-4 6-4 8-1 50-2 20-2 38-6 8 0 3 1 1 2 0 6-11 38-4 26 1 26 5 22 6 12 6 10 9 10 8 8 10 7 12 7 12 5 12 4 22 2 22-2 22-8 18-11 16-15 13-19 8-20z"/>
<path fill="#4745e9" transform="translate(119.8 92.6)" d="M410 362l1-10-1-10-3-10-5-10-6-8-8-6-10-6-10-3-12-1-10 1-10 3-10 6-8 6-6 8-5 10-3 10-1 10 1 10 3 10 5 10 6 8 8 6 10 6 10 3 10 1 12-1 10-3 10-6 8-6 6-8 5-10zM794 354l1-24-3-22-7-22-10-20-13-18-18-17-18-12-22-9-22-6-24-1-22 2-22 7-22 11-18 13-16 17-13 19-6 12-5 14-3 14-2 16 1 28 8 46 0 6-1 6-3 4-5 4-41 16-12 6-10 8-9 10-8 12-6 12-3 14-1 12 2 14 3 12 5 12 6 10 9 11 28 27 4 6 1 4-1 6-6 8-36 34-11 14-9 14-9 18-7 18-6 22-5 22-4 32-2 38 0 68 1 30 4 20 6 18 8 16 12 14 184 0 12-12 10-14 6-14 4-14 3-14 1-18 0-74-5-78 1-20 2-9 4-9 24-34 9-18 6-20 1-12 0-10-2-14-5-12-7-12-9-10-9-7-10-7-12-5-27-11-6-4-4-4-3-8-2-12 1-26 2-14 2-6 3-3 8-5 12-1 42 1 24-3 34-8 14-6 8-5 7-6 7-8 15-26 11-28zM932 560l0-18-3-20-7-18-10-15-12-13-16-12-18-9-18-4-20-2-22 1-22 5-14 6-10 9-10 14-8 18-5 22-3 22 2 20 4 18 10 18 13 16 15 12 18 10 20 6 20 2 20-3 18-6 18-10 16-15 12-16 8-18z"/>
<path fill="#4849ed" transform="translate(134.3 103.7)" d="M408 358l0-10-1-10-4-10-6-8-7-8-8-5-8-4-10-2-10 0-10 1-10 4-8 5-8 7-5 8-5 10-2 10 0 10 1 10 4 10 6 8 7 8 8 5 10 4 10 2 10 0 10-2 10-4 8-5 7-8 6-8 3-8zM790 356l1-22-2-22-6-22-10-20-12-18-17-16-18-13-22-9-22-6-22-1-22 2-22 6-20 10-19 13-15 16-14 20-6 14-5 14-3 14-1 16 0 14 2 16 10 44 0 6-1 6-3 4-6 4-41 13-12 5-11 8-10 10-9 12-5 12-4 14-1 14 2 12 4 14 6 12 7 10 9 10 31 26 3 4 2 6-1 6-6 8-39 33-11 13-10 14-9 16-7 18-7 20-5 24-4 32-3 38 0 70 1 30 4 22 6 18 9 16 12 14 176 0 12-12 11-16 6-12 4-14 3-16 1-18 0-74-6-78 1-18 2-10 5-10 23-32 10-18 6-20 1-20-2-14-4-12-8-12-9-10-18-13-12-6-30-11-6-4-4-4-3-8-1-10 1-40 2-12 3-7 4-3 4-1 12-1 40 2 24-2 30-6 12-5 12-6 10-7 8-8 8-10 7-12 12-26 4-14zM928 564l1-18-2-18-6-18-9-16-12-14-14-11-16-9-18-5-20-3-20 1-20 5-16 7-12 9-9 12-8 16-6 20-3 20 1 20 4 18 8 18 13 16 14 13 18 10 18 5 18 2 20-1 18-6 18-9 14-12 13-16 9-18z"/>
<path fill="#484df0" transform="translate(148.8 114.9)" d="M406 354l-1-10-2-8-3-8-6-8-8-7-8-5-8-3-10-2-10 1-10 2-8 4-8 6-7 8-5 8-2 8-2 10 1 10 2 10 4 8 7 8 8 7 8 4 8 3 10 1 10-1 8-2 8-4 8-6 7-8 5-8 3-8zM788 340l-1-20-4-20-8-20-11-18-14-16-16-13-18-11-20-7-20-4-22-1-22 4-20 6-20 11-16 13-14 15-11 17-6 14-5 16-3 14-1 16 1 14 2 16 12 46 1 6-1 6-4 4-5 2-28 6-16 4-12 6-10 6-11 10-9 11-6 13-4 14-1 12 2 14 4 14 6 12 9 12 10 9 33 23 4 4 2 6-2 8-6 8-43 35-11 11-10 14-9 16-8 18-7 20-5 22-4 34-3 36-1 72 2 30 3 22 7 18 9 16 12 14 168 0 15-14 11-16 5-12 4-14 3-16 1-18 0-74-2-32-5-44 1-20 3-10 4-8 24-32 10-18 6-20 1-20-2-14-5-12-7-12-10-10-10-8-12-6-40-14-4-2-4-5-3-7 0-8 0-58 0-8 2-4 3-3 8-2 52 4 16-1 16-2 26-7 22-11 10-7 10-10 9-13 7-12 6-14 6-16 3-16zM926 558l0-18-3-18-7-16-10-15-13-13-15-11-16-6-18-5-20-1-18 3-18 6-14 8-12 12-9 14-7 18-4 18-1 20 3 18 5 16 10 16 13 14 16 11 16 8 18 4 18 0 18-3 18-7 16-10 13-13 10-14 8-18z"/>
<path fill="#4851f4" transform="translate(163.3 126.1)" d="M402 364l1-8 0-10-1-8-4-8-5-8-7-6-8-6-8-3-8-1-10 0-10 2-8 3-8 6-6 7-5 8-3 8-1 8 0 10 2 10 4 8 6 8 7 6 8 5 8 2 8 2 10-1 8-2 9-4 7-5 6-7 5-8zM784 350l1-22-4-22-7-20-10-18-12-16-16-14-18-11-20-9-20-4-22-1-22 3-20 7-18 9-16 12-15 16-11 18-7 14-5 16-2 16-1 18 4 28 16 50 1 6 0 5-3 3-5 2-28 2-18 3-12 4-12 6-12 9-10 12-7 14-4 14-1 14 2 14 5 14 7 12 8 10 12 10 35 20 4 4 2 6-2 10-8 10-9 8-24 16-12 10-12 12-9 12-10 16-8 18-6 18-6 22-5 32-2 40-1 72 1 30 4 22 6 18 10 16 13 14 160 0 15-14 13-18 5-12 4-14 2-16 1-18 0-74-2-30-5-46 1-18 2-10 5-10 24-31 10-17 7-20 1-20-3-14-5-12-8-12-10-10-10-7-12-6-40-12-5-3-3-4-3-10 1-42-4-42 2-4 8-2 52 7 30 0 26-6 24-9 12-8 9-8 9-10 9-12 6-12 6-14 4-14zM922 566l2-16-2-18-5-16-8-16-11-14-12-10-16-9-16-6-18-3-18 1-18 4-16 7-14 10-10 12-7 14-7 18-2 18 0 18 4 18 8 16 10 14 14 13 16 9 18 7 18 2 18-2 18-5 15-8 15-12 11-14 8-16z"/>
<path fill="#4756f6" transform="translate(177.8 137.3)" d="M400 362l1-8 0-8-2-8-4-8-5-8-6-5-8-5-8-3-8-1-10 0-8 2-8 4-8 6-5 6-4 8-3 8-1 8 0 10 3 8 4 8 6 8 6 5 8 4 8 2 8 1 8 0 8-2 8-4 8-6 5-6 5-8zM682 652l1-18-3-16-7-16-10-12-11-9-12-6-16-6-30-7-5-2-4-4-2-10 2-36-2-24-2-12-5-12-4-8-4-5-10-5-14-3-16 0-16 1-14 4-12 6-10 7-10 9-10 16-5 18-1 10 1 10 6 18 9 15 12 12 16 11 32 14 3 4 2 6-4 12-9 12-10 8-24 16-12 9-12 11-10 12-9 14-8 18-7 20-6 20-5 32-3 38-1 74 1 32 4 22 7 18 10 16 14 14 152 0 13-11 11-13 8-14 4-14 4-16 1-18 0-80-2-32-5-44 1-20 2-10 6-10 22-27 8-13 7-14zM780 358l2-24-3-24-7-22-11-20-15-18-18-14-20-11-24-7-24-2-24 3-22 7-20 11-18 15-14 18-11 20-7 24-2 26 3 26 10 30 14 30 7 9 8 6 16 6 26 6 28 3 26-1 26-6 22-11 18-14 15-18 12-24zM920 562l1-18-2-16-6-16-8-14-11-12-14-11-16-8-16-4-18-2-18 2-16 5-14 7-12 10-10 13-8 16-4 18-2 18 2 18 6 16 8 14 12 14 14 11 16 8 16 4 18 1 16-2 16-6 16-9 12-11 11-14 7-16z"/>
<path fill="#475af9" transform="translate(192.3 148.5)" d="M398 360l1-8-1-8-2-8-4-7-5-7-7-5-14-6-8-1-8 0-8 3-8 4-7 5-5 6-4 8-2 8-1 8 1 8 2 8 4 7 5 7 7 5 14 6 8 1 8 0 8-3 8-4 7-5 5-6 4-8zM680 650l1-16-3-16-8-16-10-12-12-9-12-5-16-5-30-5-6-3-3-3-2-4 0-6 3-34-1-24-3-12-3-10-5-8-6-7-10-6-12-4-14-1-14 1-14 3-12 6-10 6-10 10-10 16-3 10-2 10 0 10 2 10 7 18 10 14 12 10 16 9 32 11 5 4 1 6-2 8-3 8-11 14-9 8-27 16-12 9-12 11-10 12-9 14-9 18-6 18-5 20-6 32-3 38-1 74 2 32 4 22 7 18 10 16 14 14 145 0 15-12 11-14 8-14 4-14 3-16 2-18-1-78-2-32-5-46 1-20 3-10 4-8 23-28 10-14 5-12zM778 352l1-24-4-22-8-22-11-18-16-17-18-14-22-10-22-5-24-1-22 4-22 8-18 11-17 16-14 18-10 22-5 22-1 24 4 26 10 26 13 24 10 11 12 8 22 8 24 5 26 1 24-3 22-7 20-11 16-14 14-20 10-22zM918 558l0-16-2-16-7-16-9-14-12-12-12-9-16-7-16-4-18 0-16 2-16 6-14 8-10 10-10 14-7 16-3 16-1 18 3 16 5 16 9 14 12 13 14 10 16 7 16 3 16 1 16-3 16-6 14-9 12-12 10-14 7-16z"/>
<path fill="#465efb" transform="translate(206.8 159.7)" d="M396 360l1-8-1-8-2-8-4-6-10-11-6-3-8-3-8-1-8 1-8 2-6 3-6 5-6 7-4 6-2 8-1 8 1 8 2 8 4 6 5 6 7 6 6 3 8 2 8 1 8-1 8-3 6-3 10-11 4-6zM678 648l0-18-4-16-8-14-12-12-12-7-14-6-16-3-30-3-6-2-2-3-1-8 6-38 0-20-2-12-5-12-4-8-8-8-8-5-12-5-12-1-14 1-12 2-12 5-10 7-10 9-6 9-4 8-3 10-2 10 1 10 2 10 3 10 5 8 10 12 14 11 18 8 33 7 4 4 1 4-2 8-5 12-7 10-6 8-10 8-28 17-12 8-12 11-10 12-9 14-8 16-7 18-5 20-5 32-4 38-1 74 2 32 4 22 8 20 11 16 13 12 139 0 15-12 13-16 7-14 4-14 3-16 1-18 0-78-2-30-6-48 1-20 2-8 6-10 22-26 10-14 7-14zM776 346l0-22-5-22-8-20-14-20-16-16-19-12-20-8-22-4-22 0-22 5-20 8-20 14-16 16-12 19-8 20-4 22 0 24 5 24 10 24 13 21 12 11 16 9 22 7 24 4 24 0 24-5 20-8 18-12 15-15 13-20 8-22zM916 556l0-16-4-16-5-14-10-14-11-11-14-9-16-7-16-3-16 0-16 3-14 6-14 9-10 10-9 14-6 16-3 16 0 16 3 16 6 16 9 13 11 11 13 9 16 7 16 3 16 0 16-3 16-7 13-9 12-12 9-14 5-14z"/>
<path fill="#4562fc" transform="translate(221.3 170.9)" d="M394 358l0-14-3-8-3-6-6-6-5-4-13-5-14 0-8 2-6 4-6 5-5 6-3 6-2 8 0 14 3 8 3 6 6 6 6 5 6 2 8 2 14 0 8-3 6-4 9-10 3-6zM676 646l0-18-5-16-5-8-6-7-14-12-16-7-18-3-22-1-26 2-4 3-18 35-13 18-11 9-28 16-14 10-14 13-12 16-9 16-8 20-6 22-4 22-3 24-2 28-1 78 3 30 2 14 4 12 6 12 7 10 8 8 9 8 132 0 18-14 12-16 6-12 5-14 3-16 1-20-1-78-2-30-5-46 0-20 3-10 5-8 24-28 10-14 6-14zM576 524l1-14-1-12-2-12-4-10-6-9-7-7-9-5-10-4-12-1-14 1-12 3-12 5-10 7-9 10-6 10-4 12-1 12 1 12 3 12 6 12 9 10 11 9 12 6 12 4 12 1 14 1 16-1 6-2 4-8 6-16zM772 356l2-22-3-22-6-20-11-20-14-16-18-15-20-10-20-5-22-2-22 3-20 6-20 11-16 14-15 18-10 20-5 20-2 22 3 24 8 24 11 21 12 15 14 10 18 9 22 5 24 2 22-2 22-6 20-11 16-13 14-18 10-20zM914 552l-1-16-4-16-7-14-10-12-12-11-14-8-14-4-16-3-16 1-16 4-14 7-11 8-10 12-8 14-5 14-2 16 0 16 4 16 7 14 9 12 12 11 14 9 14 5 16 2 16-1 14-3 15-7 13-10 11-12 8-14 5-14z"/>
<path fill="#4367fd" transform="translate(235.8 182.1)" d="M392 358l0-14-5-12-5-5-6-5-12-5-14 0-8 3-6 3-5 5-5 6-4 12 0 14 6 13 10 9 6 3 8 2 14 0 12-6 5-5 5-6zM674 646l0-16-5-16-9-14-11-10-15-8-16-4-20-1-18 2-10 4-8 6-7 9-17 28-10 12-10 7-28 15-14 10-14 14-12 16-9 18-7 18-5 20-5 24-2 24-2 28-1 78 3 30 3 12 4 12 6 10 7 10 8 9 9 7 125 0 18-13 14-17 7-14 4-14 3-16 1-18-1-78-2-32-6-46 1-20 3-10 5-8 24-26 10-14 6-14zM574 520l1-12-2-12-3-12-5-10-6-8-8-6-9-4-10-3-12-1-12 2-12 4-10 5-10 8-7 9-5 10-3 12-1 12 2 12 4 12 7 10 9 9 10 7 12 6 12 2 12 1 12-1 10-3 6-4 6-7 6-12 4-12zM770 354l2-22-3-20-7-20-11-20-14-16-17-13-20-10-20-5-22-1-20 2-20 7-20 11-16 14-13 17-10 20-5 20-2 22 3 22 7 22 12 21 12 14 14 11 18 8 22 6 24 2 22-3 20-6 20-11 16-14 13-18 10-20zM910 566l2-14-1-16-4-14-7-14-9-12-11-10-14-8-14-5-16-2-16 0-14 4-14 6-11 9-9 10-9 14-5 14-2 16 1 16 3 14 6 14 10 13 12 11 14 8 14 5 16 2 16-1 14-4 14-7 12-10 10-11 8-14z"/>
<path fill="#416bfe" transform="translate(250.3 193.3)" d="M390 358l0-12-5-12-9-10-12-5-8-1-6 1-12 5-9 10-5 12 0 8 0 6 6 12 10 9 12 4 12 0 12-5 9-10zM672 646l0-16-4-14-7-12-11-11-14-8-16-5-18-1-16 2-12 5-10 7-8 11-17 26-9 10-10 8-28 14-14 10-15 14-12 18-8 16-8 20-5 22-4 22-4 52-1 78 4 30 7 22 6 10 8 10 8 8 8 6 119 0 9-6 10-8 8-8 7-10 6-12 4-14 3-16 1-20-1-80-3-30-6-46 1-18 3-10 4-8 25-26 10-14 7-14zM572 516l0-12-2-10-3-10-5-10-8-8-8-6-10-3-10-2-12 0-10 2-12 5-9 6-8 8-6 8-4 10-3 12 0 12 3 10 4 10 7 10 8 8 10 7 12 4 12 3 12 0 10-2 8-3 8-7 6-8 5-10 3-12zM768 352l1-22-3-20-7-20-11-18-14-15-16-12-20-10-20-5-22-1-20 3-20 7-18 11-15 14-12 16-10 20-5 20-1 22 3 22 7 20 12 20 12 14 15 11 18 8 22 5 22 1 22-3 20-7 18-10 16-15 12-16 9-20zM908 564l2-14-1-14-4-14-7-14-10-12-10-9-14-8-14-4-14-2-16 1-14 3-14 7-12 10-9 10-7 14-4 14-2 16 1 14 4 14 7 14 10 12 10 9 14 8 14 4 14 2 16-1 14-5 14-7 12-10 8-10 8-14z"/>
<path fill="#3e70ff" transform="translate(264.8 204.5)" d="M388 356l-1-12-2-6-4-6-9-8-12-3-12 1-10 5-8 9-4 12 1 12 2 6 4 6 9 8 12 3 12-1 10-5 8-9zM670 646l0-14-4-15-8-13-10-10-12-7-16-5-16-1-16 3-12 5-12 9-7 10-17 26-9 10-9 6-28 14-15 10-14 14-13 18-9 18-6 18-6 22-4 22-4 52 0 76 4 30 7 22 6 10 8 10 8 7 10 7 111 0 11-7 10-8 9-9 6-10 6-12 4-14 3-16 1-20-1-78-3-30-6-48 0-18 3-10 5-8 25-25 10-13 7-14zM568 526l2-12 0-10-2-10-4-10-4-8-8-8-8-5-8-4-10-2-12 0-10 2-10 4-10 7-8 8-5 8-5 10-2 10 1 12 2 10 4 10 7 9 8 8 10 6 10 4 10 2 12 0 10-2 10-5 7-6 6-8 5-10zM766 350l1-22-4-20-7-18-11-18-15-16-16-11-18-8-20-5-22-1-20 4-18 7-18 11-16 15-11 16-8 18-5 20-1 20 4 22 8 22 11 18 12 13 16 11 18 8 20 4 22 1 20-3 20-7 18-11 15-14 11-16 9-20zM906 564l2-14-1-14-4-14-7-13-9-11-11-10-12-7-14-4-14-2-16 1-14 4-12 6-12 9-9 11-7 12-4 14-2 16 1 14 4 14 6 12 10 12 11 10 12 6 14 5 14 2 16-2 14-4 12-6 12-10 9-11 7-12z"/>
<path fill="#3974fe" transform="translate(279.3 215.7)" d="M386 356l-1-12-5-10-8-7-10-4-12 1-10 4-8 9-4 11 1 12 5 10 10 8 10 3 12-1 10-6 7-8zM668 646l0-14-4-14-7-12-10-10-13-8-14-4-16 0-14 2-12 5-11 9-9 11-16 25-9 10-9 7-28 13-16 11-16 15-12 18-8 16-7 20-5 20-3 22-4 52 0 78 4 28 4 12 4 10 7 10 6 8 10 8 9 6 104 0 13-7 10-8 8-9 8-12 7-14 3-14 2-16 1-20-1-76-3-30-7-46 0-12 1-8 2-8 5-8 26-26 10-12 7-14zM566 524l2-12-1-10-2-10-3-8-6-8-6-6-8-6-8-3-10-1-10 0-10 2-10 4-9 6-8 8-5 8-4 10-2 10 1 10 2 10 5 10 6 8 8 8 8 4 10 4 12 2 10 0 10-2 8-4 7-6 6-8 5-10zM764 348l1-20-4-20-8-20-11-16-14-15-16-11-18-8-20-4-20-1-20 4-20 8-16 11-15 14-11 16-8 18-4 20-1 20 4 20 7 20 11 18 13 14 16 10 18 8 20 4 22 1 20-4 20-8 16-10 14-13 12-18 8-18zM904 564l2-14-1-14-4-14-7-12-8-11-11-9-11-6-14-5-14-2-14 1-14 3-12 6-12 9-9 10-7 12-4 14-2 14 1 14 4 14 5 12 9 12 11 9 12 7 14 5 14 2 14-1 14-4 12-6 12-9 9-11 7-12z"/>
<path fill="#3579fd" transform="translate(293.8 226.9)" d="M384 354l-1-10-5-9-8-7-10-3-10 1-10 5-7 9-3 10 1 10 6 10 9 7 10 2 10-1 9-6 6-8zM666 648l0-14-3-14-7-12-9-10-13-8-14-4-14 0-15 2-13 6-10 8-9 12-16 26-9 10-10 6-28 13-14 9-16 15-13 19-7 16-7 18-5 20-4 24-4 52 0 76 5 28 3 12 5 10 7 10 7 8 7 6 10 7 2 1 98 0 12-7 12-9 10-10 6-10 7-14 3-14 2-16 1-22-1-76-3-28-7-48 0-18 3-10 5-8 25-24 10-12 7-12zM564 524l1-10 0-10-2-10-3-8-5-8-7-7-8-5-8-3-10-1-10 0-10 3-8 3-8 6-6 6-6 8-4 10-1 10 0 10 2 10 4 8 6 8 7 7 8 5 10 4 10 2 10 0 10-3 8-4 7-5 6-8 4-8zM762 348l0-20-3-20-7-18-11-16-13-14-16-11-18-9-20-4-20 0-20 3-18 7-16 11-14 13-11 16-9 18-4 20 0 20 3 20 8 20 10 16 13 14 14 10 18 8 20 4 20 1 20-3 18-7 18-11 15-14 11-16 8-18zM902 564l2-12-1-14-4-14-6-12-7-10-12-10-12-7-12-4-14-2-14 1-14 3-12 6-11 9-9 10-6 12-4 12-2 14 1 14 4 14 6 12 7 10 12 10 12 7 12 4 14 2 14-1 14-4 11-6 11-8 9-10 7-12z"/>
<path fill="#317dfb" transform="translate(308.3 238.1)" d="M380 360l2-10-3-10-7-8-8-4-10-1-8 3-8 6-4 8-2 10 3 10 7 8 8 4 10 1 8-3 8-6zM664 648l1-14-3-12-6-12-10-10-12-7-14-5-14 0-14 2-12 6-12 10-8 11-15 25-9 10-10 7-28 12-16 10-15 15-13 19-7 15-7 18-5 22-3 22-4 52 0 74 4 28 4 12 5 10 7 10 6 7 8 7 10 6 3 2 91 0 14-7 12-9 9-10 8-12 6-14 4-14 2-18 0-22-1-74-3-28-8-48 1-18 3-10 5-7 25-23 10-12 7-12zM562 522l1-10 0-8-2-10-4-8-5-7-6-6-8-5-8-3-8-1-10 0-10 3-8 4-8 6-6 6-5 9-3 8-1 8 0 10 3 10 4 8 6 8 7 6 7 4 10 4 10 1 10 0 8-3 8-4 6-5 5-7 4-8zM760 346l0-20-3-18-8-18-10-16-14-14-17-11-18-8-18-3-20 0-18 3-18 8-16 10-14 14-11 17-8 18-3 18 0 20 4 20 7 18 11 17 12 12 16 10 18 8 20 3 20 0 18-3 18-7 16-11 14-13 10-16 8-18zM900 564l2-12-1-14-3-12-6-12-8-11-10-9-12-7-12-4-12-2-14 0-14 4-12 5-10 8-9 10-7 12-4 12-2 12 0 14 4 14 6 12 8 11 10 9 12 7 12 4 12 2 14-1 14-3 12-6 11-9 9-10 6-12z"/>
<path fill="#2f82fa" transform="translate(322.8 249.3)" d="M379 358l0-10-3-8-6-6-8-4-8 0-8 2-6 6-5 8 0 10 3 8 6 6 8 4 8 0 8-2 7-6zM662 648l1-14-3-12-7-12-9-9-12-7-12-4-14 0-14 3-12 6-10 9-9 12-15 25-8 9-10 7-28 12-16 9-16 16-13 18-7 16-6 18-5 20-4 22-4 50 0 74 4 28 4 12 5 10 6 10 7 8 9 8 8 5 6 3 84 0 14-7 13-9 10-10 8-12 6-14 5-18 1-18 1-30-2-66-3-26-8-46-1-12 1-8 3-8 5-8 25-22 11-12 7-12zM560 520l1-10-1-8-2-8-4-8-4-6-7-6-7-4-8-3-8-1-10 1-8 2-8 4-8 6-6 7-4 8-2 8-1 8 0 10 3 8 4 8 6 7 8 7 8 4 8 2 10 1 8-1 8-2 6-4 7-6 5-7 4-8zM758 346l0-18-3-18-7-18-10-16-14-14-16-11-18-8-18-3-18 0-18 3-18 7-16 10-14 14-11 16-8 18-3 18 0 20 3 18 7 18 11 16 13 14 14 9 18 7 20 4 20 0 18-3 18-8 16-10 13-13 10-16 8-18zM900 552l-1-14-3-12-6-12-8-10-8-8-12-7-12-4-12-2-14 0-12 3-12 5-10 8-9 9-6 10-5 12-2 14 0 14 3 12 6 12 7 10 10 10 10 6 12 5 14 2 14-1 12-3 12-5 10-8 9-10 6-10 5-12z"/>
<path fill="#2e86f7" transform="translate(337.3 260.5)" d="M376 356l0-8-3-8-5-5-8-3-8 1-6 2-6 7-2 6 0 8 3 8 5 5 8 3 8-1 6-2 6-7zM660 650l1-14-2-12-7-12-8-9-11-7-13-4-14 0-12 2-12 6-11 10-9 12-14 25-8 10-10 7-30 11-16 10-15 15-13 19-7 15-6 18-5 20-4 22-3 50 0 74 4 26 4 12 4 10 5 8 8 9 8 7 10 6 8 4 76 0 16-7 13-9 11-11 8-13 7-16 3-18 2-20 0-38-2-56-4-26-7-44-1-12 1-8 2-8 6-8 25-21 11-11 7-12zM558 520l0-16-1-8-4-8-5-7-6-5-6-4-8-3-8-1-10 1-8 2-8 5-6 4-6 7-4 7-2 8-1 8 1 10 2 8 4 7 6 7 6 5 8 4 8 3 8 1 8-1 8-2 7-4 7-6 4-6 4-8zM756 348l0-20-3-18-6-16-10-16-13-14-15-10-17-8-18-4-18-1-18 3-18 7-16 10-14 13-10 15-8 17-4 18 0 20 3 18 7 18 10 16 12 13 14 10 18 7 18 4 20 1 18-4 16-6 16-10 14-13 10-14 8-18zM898 554l0-14-3-12-6-12-7-10-9-8-11-7-12-4-12-2-12 0-12 2-12 5-11 8-9 10-6 10-4 12-2 12 0 12 2 12 6 12 6 10 10 9 10 7 12 5 12 2 14 0 12-3 12-5 10-7 9-10 6-10 5-12z"/>
<path fill="#2d8af5" transform="translate(351.8 271.7)" d="M374 352l-1-6-4-6-5-4-6-1-7 1-6 4-4 6-1 6 1 6 4 6 6 4 7 1 6-1 5-4 4-6zM658 650l1-14-2-12-5-10-10-10-10-6-12-4-14 0-12 2-12 7-10 9-8 12-15 26-7 9-10 7-30 11-16 9-16 15-14 21-7 16-6 18-4 20-4 22-3 50 1 72 4 26 8 20 5 8 8 9 9 7 9 6 10 4 68 0 16-7 14-9 12-11 9-13 6-16 4-20 1-20 0-42-3-54-3-24-8-44 0-18 2-8 5-8 27-22 12-12 6-10zM556 518l1-8-1-8-6-14-4-6-6-5-6-3-8-3-8 0-8 0-8 3-8 4-6 5-5 7-3 6-3 8 0 8 1 8 2 8 4 6 6 7 6 5 8 4 8 2 8 0 8-1 8-3 6-4 6-6 4-6zM754 348l1-18-3-18-6-16-10-16-13-14-15-11-16-7-18-4-18-1-18 3-16 6-16 10-14 13-11 15-7 16-4 18-1 18 3 18 7 18 10 16 13 14 14 9 16 7 18 4 18 1 18-3 18-7 14-9 14-13 11-15 7-16zM896 556l0-12-2-12-5-12-6-10-9-9-10-7-12-5-12-2-12-1-12 3-12 4-10 7-8 8-7 10-5 12-2 12 0 12 2 12 5 12 6 10 9 9 10 7 12 5 12 2 12 0 12-2 12-5 10-7 9-9 6-10 5-10z"/>
<path fill="#2c8ef1" transform="translate(366.3 282.9)" d="M370 356l1-6-3-6-4-4-4-2-6 0-4 2-4 4-2 4-1 6 3 6 4 4 4 2 6 0 4-2 4-4zM656 650l2-12-3-12-5-11-8-9-10-6-12-4-14 0-12 3-12 6-10 10-8 13-12 24-8 10-10 6-30 11-18 10-8 7-8 8-13 20-6 14-6 18-5 20-3 22-3 50 0 70 4 26 8 20 5 8 7 9 8 7 10 6 14 6 60 0 18-7 14-9 13-12 9-14 6-16 4-20 1-20-1-46-2-50-4-24-8-44-1-18 3-8 5-8 27-20 12-12 6-10zM554 516l0-14-3-8-4-6-5-6-6-4-6-3-8-2-14 1-8 3-6 4-6 5-4 6-3 6-2 8 1 14 3 8 3 6 6 6 6 4 6 3 8 2 14 0 8-3 6-4 6-6 4-6zM752 348l1-18-3-18-6-16-10-16-12-12-14-11-16-7-18-4-18-1-18 3-16 6-16 10-12 12-11 14-7 16-4 18-1 18 3 18 7 18 9 15 12 12 14 10 16 7 18 4 18 1 18-3 16-6 16-10 13-12 10-14 7-16zM894 558l1-12-2-12-5-12-6-10-8-9-10-7-10-4-12-3-12-1-12 2-11 4-10 6-9 8-7 10-4 10-3 12-1 12 2 12 5 12 6 10 8 9 10 7 10 4 12 3 12 1 12-2 10-4 10-6 9-8 7-10 5-10z"/>
<path fill="#2b92ee" transform="translate(380.8 294.1)" d="M366 356l1-4-1-4-2-3-4-2-4-1-4 2-4 4-1 4 1 4 2 3 4 2 4 1 4-2zM654 652l2-12-2-12-4-10-8-9-10-7-12-4-12-1-12 3-12 6-11 12-8 12-12 26-7 8-10 7-32 10-16 9-8 7-8 8-7 9-7 12-7 16-6 18-4 20-3 20-3 50 0 70 4 24 4 12 5 9 6 9 7 8 7 6 10 6 16 6 50 0 6-2 18-7 14-9 11-10 9-14 6-16 4-20 1-22 0-48-4-50-3-24-9-42-1-18 3-8 6-8 27-19 10-10 7-9zM552 514l-1-14-3-7-4-6-10-8-6-2-8-2-14 2-12 7-8 10-3 6-2 8 2 14 6 12 11 9 6 3 8 1 8 0 6-1 6-3 6-4 8-11zM750 350l1-18-2-16-5-16-10-16-12-14-13-10-15-7-18-5-18-1-16 2-16 5-16 10-14 12-10 13-7 15-5 18-1 18 2 18 6 16 9 15 12 14 14 10 16 7 16 4 18 1 16-2 16-5 16-9 14-13 10-13 7-15zM892 558l1-12-2-12-4-10-5-10-8-8-10-8-10-5-12-3-12 0-12 2-10 4-10 6-8 7-7 9-4 10-4 12 0 12 2 12 4 10 5 10 8 8 10 8 10 5 10 2 12 1 10-1 12-4 10-6 8-7 8-10 5-10z"/>
<path fill="#2896ec" transform="translate(395.3 305.3)" d="M358 354l1-2-1-2-2 0-1 2 1 2zM652 652l2-12-1-10-5-11-7-9-9-6-12-4-12-1-12 3-12 7-10 11-7 12-12 26-7 10-10 6-32 9-16 8-8 6-9 9-7 10-7 12-6 14-6 18-4 18-4 22-3 50 1 70 4 26 4 10 5 10 6 9 7 7 8 6 9 5 19 7 39 0 12-3 16-6 14-9 12-12 9-14 6-16 4-20 0-22 0-50-3-48-4-24-10-44-1-10 1-8 3-8 5-6 26-17 12-10 8-11zM548 522l2-14-3-12-8-10-5-4-6-3-6-1-8 0-12 3-10 8-7 11-1 6-1 8 4 12 7 10 12 7 6 2 8 0 12-3 10-8zM748 350l1-18-2-16-5-16-10-16-10-12-14-10-16-8-16-4-18-1-16 2-16 5-16 10-12 10-10 14-8 16-4 16-1 18 2 16 5 16 9 16 11 12 14 11 16 7 16 4 18 1 16-2 16-5 16-10 12-10 10-14 8-16zM890 560l1-10-1-12-4-12-5-10-7-8-10-8-10-5-10-3-12 0-10 1-10 3-10 5-9 7-7 9-6 11-2 10-1 12 1 11 4 11 5 10 7 8 10 8 10 5 10 2 12 1 10-1 10-3 10-6 8-6 8-10 5-10z"/>
<path fill="#2699e9" transform="translate(409.7 316.5)" d="M652 642l-1-10-3-10-6-8-8-7-10-4-10-2-10 1-10 3-10 7-10 11-7 13-10 26-6 8-10 6-33 9-18 9-10 8-7 8-8 10-6 12-6 14-6 18-4 20-3 20-2 50-1 48 1 20 5 24 3 10 5 10 6 8 8 8 17 11 12 4 13 3 23 0 22-5 16-7 14-10 10-10 8-14 6-16 3-20 1-26-1-52-4-44-13-66-2-10 1-8 2-6 5-7 30-18 12-11 9-14zM546 520l1-12-3-12-8-10-10-5-12-1-12 4-10 8-5 10-1 12 3 12 9 10 10 5 12 2 12-4 6-5 4-4zM746 352l2-18-2-16-5-16-8-14-11-13-14-11-14-7-16-5-18-2-16 2-16 5-14 8-13 11-11 14-7 14-5 16-2 16 2 18 5 16 8 14 11 14 12 9 16 9 16 4 18 2 16-2 16-5 14-8 12-10 11-13 8-16zM888 560l2-10-2-12-3-10-5-10-6-8-10-8-10-5-10-3-12-1-10 1-10 4-10 5-8 7-7 8-5 10-3 10-1 12 1 10 4 10 5 10 6 8 10 8 10 5 10 3 12 1 10-2 10-3 10-6 8-6 6-8 5-10z"/>
<path fill="#259de7" transform="translate(424.2 327.7)" d="M650 644l0-10-3-10-6-8-6-6-9-5-10-2-10 0-10 3-12 8-9 12-7 14-8 24-6 9-10 6-34 7-18 9-10 8-8 8-8 11-6 11-6 15-5 16-4 18-3 22-3 48 0 68 4 24 4 10 5 10 5 8 8 8 7 6 10 6 16 5 16 2 18-1 18-4 16-6 14-10 10-10 9-14 6-16 3-20 0-32 0-48-5-46-14-64-2-10 0-8 2-6 5-6 30-17 14-11 8-12zM544 518l1-12-4-10-7-8-10-5-12 0-10 3-8 8-5 10-1 12 4 10 8 9 10 4 12 1 10-4 8-8zM744 352l2-16-2-16-4-16-8-14-11-14-13-10-14-8-16-4-16-2-16 2-16 4-14 8-13 10-11 14-8 14-4 16-2 18 2 16 5 16 8 14 10 12 13 11 14 7 16 4 16 2 16-2 16-4 14-8 14-11 10-13 8-14zM886 562l2-10-1-12-3-10-4-9-6-8-8-7-10-6-10-4-10-1-10 1-10 2-10 5-8 5-8 9-5 9-3 10-2 10 1 12 3 10 4 9 6 8 8 7 10 6 10 3 10 2 10-1 10-2 10-5 9-7 7-8 5-8z"/>
<path fill="#23a0e5" transform="translate(438.7 338.9)" d="M648 644l0-10-2-8-5-8-7-6-8-5-10-2-10 0-10 4-11 7-9 12-6 14-8 28-4 6-4 3-6 3-36 6-18 8-10 7-9 9-7 10-8 14-5 14-6 18-6 38-3 50 0 46 1 20 4 24 8 18 6 8 8 8 8 6 9 5 14 5 16 2 18-1 18-4 16-7 12-8 10-10 9-14 6-18 3-20 1-42-1-40-5-44-4-22-12-44-1-10 0-8 2-6 4-5 30-14 14-10 10-13zM542 516l0-10-4-10-6-6-10-5-10 0-10 5-7 6-4 10 0 10 4 10 7 7 10 4 10 0 10-5 6-6zM744 340l-1-16-4-16-7-15-10-13-12-11-14-8-14-5-16-2-16 1-16 4-15 7-13 10-11 12-8 14-5 14-2 16 1 16 4 16 7 15 9 13 11 10 14 8 16 6 16 2 16-1 16-4 15-7 13-10 11-12 8-14 5-14zM886 552l0-10-3-10-4-10-6-8-9-8-8-4-10-4-10-1-10 0-10 3-9 4-8 6-7 8-5 8-4 10-1 10 0 10 3 10 4 10 6 8 9 8 8 4 10 4 10 1 10-1 10-2 8-4 9-6 7-8 5-8 3-10z"/>
<path fill="#20a4e3" transform="translate(453.2 350.1)" d="M646 644l0-10-3-8-5-8-6-5-8-4-10-2-10 1-8 3-12 9-8 12-6 16-4 27-4 7-10 3-38 5-10 3-8 4-10 7-10 10-8 11-7 13-6 16-5 16-6 38-3 50 0 44 1 20 5 24 8 18 6 8 7 7 16 11 14 5 16 2 18-1 18-4 16-7 12-9 11-12 8-12 5-18 3-20 0-48-1-38-2-22-3-22-5-22-13-44-2-10 0-8 1-4 4-4 30-10 16-10 6-6 6-8 2-6zM539 518l1-10-3-8-5-7-8-4-10-1-8 2-7 6-5 8 0 10 2 8 6 7 8 5 10 0 8-2 7-6zM742 344l0-16-3-16-6-14-9-13-11-11-13-9-14-6-16-3-16 0-16 3-14 6-13 9-11 11-9 13-6 14-3 16 0 16 3 16 6 14 9 14 10 10 14 9 14 6 16 3 16 0 16-3 14-6 13-9 11-11 9-13 6-14zM884 554l0-10-2-10-4-10-6-8-6-6-9-6-9-3-10-2-10 0-10 2-8 3-8 6-8 8-5 8-3 8-2 10 0 10 2 10 4 10 6 8 6 6 9 6 9 3 10 2 10 0 10-2 8-4 8-5 8-8 5-8 3-8z"/>
<path fill="#1ea7e1" transform="translate(467.7 361.3)" d="M604 904l-1-64-4-44-9-40-19-58-3-4-4-2-8-2-14 0-26 2-10 3-8 3-10 7-8 7-13 18-6 12-5 14-8 30-3 22-2 26-1 74 3 28 4 12 4 10 8 12 9 10 12 8 12 4 14 3 14 1 16-2 14-4 13-6 11-8 9-8 7-10 5-12 4-12 2-14zM536 516l0-8-2-7-6-7-6-3-8 0-8 3-6 5-3 7 0 8 2 8 6 6 7 3 8 0 8-3 6-6zM644 644l0-8-2-8-5-8-7-6-8-4-8-1-8 0-8 3-6 4-7 6-5 8-4 8-3 10-1 12 0 10 2 9 4 4 10 2 16-3 14-5 10-6 8-8 6-9zM740 346l1-16-3-14-5-14-8-14-11-11-12-9-14-6-16-4-16-1-14 3-14 5-14 8-11 11-9 12-6 14-4 16-1 16 3 16 6 14 8 13 10 11 12 8 14 7 16 3 16 1 14-3 14-5 14-8 11-11 9-12 6-14zM882 556l1-10-2-8-3-10-5-8-7-8-8-5-8-4-10-2-10-1-9 2-9 3-8 5-6 6-6 8-4 8-2 10-1 10 2 8 3 10 5 8 7 8 8 5 8 4 10 2 10 1 9-2 9-4 8-5 6-5 6-8 4-9z"/>
<path fill="#1babde" transform="translate(482.2 372.5)" d="M602 916l0-66-3-48-4-22-5-20-17-46-4-8-5-6-6-4-6-2-14-1-14 0-12 2-10 4-10 5-8 7-8 8-6 9-12 24-8 30-3 22-2 26-1 72 2 30 3 12 3 10 6 10 8 10 10 9 12 6 12 4 14 2 14-1 14-2 12-4 12-6 10-7 8-9 7-10 6-12 3-14zM532 516l1-6-1-6-4-5-6-4-6-1-7 2-5 4-3 6-1 8 2 6 4 4 6 3 6 1 6-2 5-4zM642 644l0-8-2-8-4-6-6-6-6-3-8-2-8 0-8 3-6 3-6 5-5 6-4 8-2 8-2 10 0 8 2 8 5 7 8 3 12 0 12-4 12-6 8-8 5-8zM738 348l1-16-2-14-5-14-8-14-10-11-12-9-14-7-14-3-16-1-14 2-14 5-14 8-11 10-9 12-7 14-3 14-1 16 2 14 5 14 8 14 10 11 12 9 14 7 14 3 16 1 14-2 14-5 14-8 11-10 9-12 7-14zM880 558l1-8-1-10-3-10-5-8-5-6-7-6-8-4-10-3-10-1-8 1-8 2-9 5-7 6-6 8-4 8-2 8-1 10 1 8 3 10 5 8 5 6 7 6 8 4 10 3 10 1 8-1 8-3 8-4 7-6 7-8 4-8z"/>
<path fill="#18aedb" transform="translate(496.7 383.7)" d="M600 922l1-20 0-46-3-50-4-20-4-20-7-22-8-20-5-10-6-8-6-5-6-2-12-3-14 0-12 1-12 4-10 6-8 6-8 9-6 9-11 23-8 30-3 22-2 26-1 70 2 30 3 12 4 10 6 11 8 9 9 8 11 6 12 4 12 1 12 0 14-2 12-3 12-5 10-7 9-8 7-10 6-10 4-12zM528 516l1-6-1-4-3-4-3-2-4-2-6 1-4 3-3 4-1 4 1 6 3 4 4 3 6 1 4-2 3-2zM640 644l0-8-2-6-3-6-5-5-6-4-6-1-8-1-6 1-6 3-6 4-6 7-3 6-3 8-2 8 2 14 4 8 6 3 10 2 12-3 10-4 10-8 5-8zM736 350l2-16-2-14-5-14-6-12-10-12-11-9-14-7-14-4-16-2-14 2-14 5-12 6-11 9-10 12-7 14-4 14-2 16 2 14 5 14 7 13 10 12 12 9 12 6 14 4 16 2 14-2 14-5 12-6 11-9 10-12 7-14zM878 558l1-8-1-10-2-8-4-8-6-7-8-6-8-4-8-3-10 0-8 1-8 2-8 5-6 5-6 7-4 8-2 8-1 10 1 8 2 8 4 8 6 7 8 6 8 4 8 2 10 1 8-1 8-3 8-4 6-5 6-7 4-8z"/>
<path fill="#13b1d7" transform="translate(511.2 394.8)" d="M600 892l-1-56-4-40-4-20-5-18-8-21-7-15-5-8-6-7-8-5-8-2-12-2-14 1-10 2-10 4-8 5-8 8-8 10-6 10-10 24-7 30-3 22-1 26-1 70 3 26 4 12 4 10 7 10 10 10 12 8 12 4 14 2 14 0 16-3 14-5 11-6 10-8 9-10 5-10 5-12 2-12zM523 512l-1-4-4-3-5 1-3 4 2 5 4 2 4-1zM638 642l0-6-2-6-4-6-4-4-6-3-6-1-12 1-6 3-6 4-7 10-4 14 1 12 4 7 6 5 10 1 10-1 10-5 8-7 6-8zM734 352l2-14-1-14-4-14-7-14-9-12-11-9-12-7-14-4-14-2-14 1-14 4-14 7-12 9-9 11-7 12-4 14-2 14 1 14 4 14 7 14 9 12 11 9 12 7 14 4 14 2 16-1 14-5 12-6 12-9 9-11 7-12zM876 560l1-8 0-10-2-8-4-8-5-6-6-6-8-5-8-2-8-2-8 1-8 2-8 3-7 5-5 6-5 8-3 8-1 8 0 10 2 8 4 8 5 6 6 6 8 5 8 2 8 1 8 0 8-2 8-4 6-4 6-6 5-8z"/>
<path fill="#0cb3d3" transform="translate(525.7 406)" d="M598 914l0-62-3-44-7-38-13-34-7-14-6-8-6-5-8-5-12-3-12-1-12 2-10 3-8 5-8 6-8 9-6 9-11 24-8 30-3 22-2 24-1 70 3 28 6 21 6 11 8 9 10 8 10 5 12 4 12 1 14 0 14-3 12-4 11-6 9-7 8-9 7-10 4-10 3-14zM635 648l1-6-1-6-4-10-9-6-6-2-6 0-11 4-9 8-4 10-2 12 2 8 5 6 7 4 8 0 10-2 8-5 7-7zM734 342l0-14-3-14-5-12-8-12-10-10-12-8-14-5-14-3-14 0-14 3-12 5-12 8-10 10-8 12-5 14-3 14 0 14 3 14 5 12 8 12 10 10 12 8 14 6 14 2 14 0 14-3 12-5 12-8 10-10 8-12 6-14zM874 560l2-8-1-8-1-8-4-8-4-6-7-6-7-5-8-3-8-1-8 1-8 2-8 3-6 5-6 6-3 6-3 8-2 8 1 8 1 8 4 8 4 6 7 6 7 5 8 2 8 2 8-1 8-2 8-4 6-4 5-6 4-6z"/>
<path fill="#05b6ce" transform="translate(540.2 417.2)" d="M596 922l1-18 0-40-2-48-7-38-5-18-6-16-7-14-6-9-6-7-8-6-10-3-12-2-12 0-12 4-8 4-8 6-8 8-6 9-7 12-5 12-7 28-4 22-2 24-1 68 2 28 6 22 5 10 8 10 9 8 10 6 10 4 12 2 12 0 14-2 12-3 11-5 10-6 8-8 8-10 5-10 4-12zM632 646l1-10-5-9-8-5-10-1-10 3-8 8-4 10 0 10 2 7 4 5 6 2 8 1 8-2 8-5 5-6zM732 344l0-14-2-14-5-12-8-12-9-10-12-8-12-5-14-3-14 0-14 2-12 5-12 8-10 9-8 12-5 12-3 14 0 14 2 14 5 12 8 12 9 10 12 8 12 5 14 3 14 0 14-2 12-5 12-8 10-9 8-12 5-12zM872 560l2-8 0-8-5-14-5-7-6-6-6-4-8-3-8-1-8 0-14 5-6 5-5 5-4 6-3 8-2 8 0 8 5 14 5 7 6 6 6 4 8 3 8 1 8-1 14-5 11-9 4-6z"/>
<path fill="#01b8c9" transform="translate(554.7 428.4)" d="M596 892l-1-54-4-38-8-34-6-16-6-14-7-11-6-7-8-6-8-4-10-2-12-1-10 2-10 4-8 5-8 7-12 17-11 24-7 30-2 22-2 24-1 68 4 28 3 10 4 10 8 11 9 9 11 7 12 4 12 2 14 0 14-3 14-5 10-5 10-8 8-10 6-10 4-12 2-12zM630 644l0-8-5-8-7-4-8-1-8 3-6 6-4 8-1 10 2 6 5 5 6 2 6 0 8-3 6-4 4-6zM730 348l1-14-2-14-4-12-7-12-8-10-10-8-12-6-14-4-14-1-14 2-12 4-12 7-10 8-8 10-6 12-4 14-1 14 2 14 4 12 7 12 8 10 10 8 12 6 14 4 14 1 14-2 12-4 12-7 10-8 8-10 6-12zM872 550l-1-8-2-8-8-12-7-5-6-3-14-3-14 2-6 3-7 6-8 12-3 14 2 14 3 6 5 7 6 5 6 4 14 3 8 0 8-3 12-7 6-7 3-6z"/>
<path fill="#02bac4" transform="translate(569.2 439.6)" d="M594 914l0-60-2-42-7-34-5-17-6-15-7-12-7-10-6-6-8-6-10-3-12-2-12 1-10 4-8 4-8 7-13 17-10 24-7 28-5 44-1 68 3 28 6 20 6 10 7 8 10 8 10 5 12 4 12 1 14-1 12-2 12-5 10-6 8-6 7-8 6-10 4-10 3-12zM728 350l1-12-1-14-3-12-6-12-9-11-10-9-12-6-12-4-12-1-14 1-12 3-12 6-11 9-9 10-6 12-4 12-1 12 1 14 4 14 6 12 8 10 10 8 12 6 12 4 12 2 14-2 12-3 12-6 12-9 8-10 6-12zM626 646l1-8-3-6-5-4-7-1-6 1-6 4-4 6-2 8 2 6 2 4 4 3 6 1 6-2 5-2 4-4zM870 552l-2-14-6-12-6-6-6-3-6-3-8-1-14 2-12 7-8 10-3 6-1 8 2 14 6 12 10 8 6 3 8 2 14-1 12-6 6-6 4-6 2-6z"/>
<path fill="#07bcbf" transform="translate(583.7 450.8)" d="M592 922l1-18 0-36-2-48-6-36-10-30-6-14-7-10-8-9-8-6-10-4-10-1-12 0-10 3-8 4-8 7-13 16-10 22-7 28-3 20-2 24-1 66 2 28 5 20 5 10 6 8 8 8 10 6 10 4 12 3 12 0 12-2 12-3 10-4 10-7 8-7 6-8 6-10 4-12zM726 350l2-12-1-14-4-12-6-12-8-10-9-8-12-7-12-3-12-2-14 1-12 4-12 6-10 8-8 9-7 12-3 12-2 12 1 14 4 12 6 12 8 10 9 8 12 7 12 3 12 2 14-1 12-4 12-6 10-8 8-9 7-12zM622 646l1-6-1-4-4-4-4-1-6 0-4 3-3 4-2 6 0 4 2 4 7 3 8-2 4-3zM868 552l0-8-2-6-6-11-5-5-6-4-13-3-12 1-12 7-8 9-3 6-1 8 0 8 2 6 6 11 5 5 7 4 12 3 12-1 12-7 8-10 3-7z"/>
<path fill="#0fbeba" transform="translate(598.2 462)" d="M592 902l0-54-3-38-7-34-11-28-7-12-6-8-8-7-8-5-10-3-10-1-10 1-10 3-8 5-8 7-12 17-10 23-6 28-5 44 0 66 2 26 7 20 6 10 10 10 10 7 10 4 12 3 12 0 14-2 12-4 10-5 10-7 8-8 5-8 5-10 3-12zM726 342l0-12-2-12-5-12-7-10-10-10-10-7-12-5-12-2-12 0-12 2-12 5-10 7-10 10-7 10-5 12-2 12 0 12 2 12 5 12 7 11 9 9 11 7 12 5 12 2 12 0 12-2 12-5 10-7 10-10 7-10 5-12zM616 644l0-4-4-3-4 2-2 3 0 4 4 2 4-1zM866 552l-1-12-2-6-5-6-10-8-12-3-12 1-11 6-8 10-3 12 1 12 2 6 5 6 10 8 12 3 12-1 10-6 9-10z"/>
<path fill="#19bfb5" transform="translate(612.7 473.2)" d="M590 916l1-56-3-42-6-34-9-28-6-12-7-10-8-9-8-5-10-4-10-2-10 0-10 3-8 5-8 6-12 16-10 22-6 26-3 20-2 24-1 64 2 28 5 20 6 10 7 9 8 7 10 6 10 3 12 2 12-1 12-2 12-4 10-5 8-7 8-8 5-8 4-10 3-12zM724 344l1-12-2-12-5-12-6-10-8-9-10-7-12-5-12-3-12-1-12 2-12 5-10 6-9 8-7 10-5 12-3 12-1 12 2 12 5 12 6 10 8 9 10 7 12 5 12 3 12 1 12-2 12-5 10-6 9-8 7-10 5-12zM864 550l-2-12-6-10-10-7-12-2-12 2-10 7-6 10-2 10 2 12 6 10 9 6 11 3 12-2 10-5 7-10z"/>
<path fill="#22c1b0" transform="translate(627.2 484.4)" d="M588 922l1-16 1-32-2-50-6-34-9-30-6-12-7-11-8-9-8-6-10-4-10-2-10 0-10 3-8 5-6 5-7 7-6 10-10 22-7 26-4 42-1 64 2 26 5 20 5 10 7 9 7 7 9 5 10 4 10 2 10 1 12-2 12-3 10-4 8-5 9-8 6-8 5-10 4-10zM722 346l1-12-1-12-5-12-6-10-7-8-10-8-10-5-12-3-12-1-12 1-12 5-10 6-8 7-8 10-5 10-3 12-1 12 1 12 5 12 6 10 7 8 10 8 10 5 12 3 12 1 12-1 12-5 10-6 8-7 8-10 5-10zM860 558l2-12-3-10-7-8-10-6-10-1-11 3-8 6-6 10-1 12 3 10 7 8 10 6 10 1 11-3 8-6z"/>
<path fill="#28c3aa" transform="translate(641.7 495.6)" d="M588 908l0-54-3-38-6-32-9-26-6-12-6-9-8-8-8-5-10-4-10-2-10 1-8 2-8 5-6 5-6 7-7 10-9 22-7 26-4 42-1 64 2 26 6 20 5 10 7 8 10 8 10 5 10 3 12 1 12-1 12-3 10-4 10-7 8-7 6-8 5-9 3-10 3-12zM720 348l1-10 0-12-4-12-5-10-8-10-8-7-10-5-12-4-10-1-12 0-12 4-10 5-10 8-7 8-5 10-4 12-2 12 2 12 3 10 5 10 8 10 8 7 10 6 12 3 12 2 12-2 10-3 10-5 10-8 7-8 5-10zM858 558l2-10-3-10-6-8-9-5-10-2-10 3-7 6-5 8-2 10 3 10 6 8 9 5 10 2 9-3 8-6z"/>
<path fill="#2ec4a5" transform="translate(656.2 506.8)" d="M586 918l1-52-2-42-5-32-9-28-6-12-6-10-7-8-8-7-8-4-10-2-10-1-10 3-8 4-7 5-7 8-5 8-10 22-7 26-4 42-1 62 2 26 5 20 6 10 6 8 8 7 8 5 10 4 10 1 10 0 12-1 10-3 10-5 9-6 8-8 5-8 5-10 3-10zM718 350l2-10-1-12-3-12-4-10-8-10-8-7-10-6-10-3-10-2-12 1-12 3-10 4-10 8-7 8-6 10-3 10-2 10 1 12 3 12 4 10 8 10 8 7 10 6 10 3 10 2 12-1 12-3 10-4 10-8 7-8 6-10zM856 556l1-10-3-8-6-8-8-3-10-1-8 3-6 5-4 8-1 10 3 8 6 7 8 4 8 1 8-2 8-6z"/>
<path fill="#32c69f" transform="translate(670.7 518)" d="M584 922l2-16 0-26-2-52-5-32-8-28-5-12-8-12-6-7-8-7-8-4-10-3-10-1-10 3-8 4-6 5-12 15-10 21-6 26-5 42-1 60 2 26 5 20 5 10 5 8 7 6 9 6 9 4 10 2 10 0 12-1 10-3 10-4 8-5 7-7 7-8 4-8 4-10zM718 340l0-12-3-10-4-10-7-9-8-8-10-6-10-4-10-1-12 0-10 3-10 4-9 7-8 8-6 10-4 10-1 10 0 12 3 10 4 10 7 10 8 7 10 6 10 4 10 1 12 0 10-3 10-4 10-7 7-8 6-10 4-10zM854 552l0-8-4-8-6-5-8-2-8 0-6 3-5 6-3 8 0 8 4 8 6 5 8 2 8 0 6-3 5-6z"/>
<path fill="#36c898" transform="translate(685.2 529.2)" d="M584 912l0-52-2-38-5-30-8-26-6-12-7-10-6-7-8-6-8-4-10-2-10 0-8 2-8 4-6 5-12 16-9 20-7 26-4 40-1 62 2 26 5 18 5 10 6 8 7 6 10 6 10 4 10 1 12 0 10-2 10-3 10-6 8-6 7-8 5-8 4-10 3-12zM716 344l1-12-2-10-4-10-5-8-7-8-9-7-10-5-10-2-12-1-10 2-10 4-8 5-8 7-7 9-5 10-2 10-1 12 2 10 4 10 5 9 7 7 9 7 10 5 10 2 12 1 10-2 10-4 8-5 8-7 7-9 5-10zM851 554l0-8-2-6-5-5-6-3-6 0-7 2-5 4-3 6 0 8 2 6 5 5 6 3 6 0 7-2 5-4z"/>
<path fill="#3cc992" transform="translate(699.7 540.4)" d="M582 920l1-16 0-30-2-46-4-32-8-26-6-12-6-10-7-8-8-6-8-5-10-2-10 0-8 2-6 3-7 6-11 14-10 20-6 26-5 40-1 62 2 24 5 20 4 8 6 8 7 7 8 5 8 4 10 2 10 0 12-1 10-3 9-4 9-6 6-6 6-8 4-8 4-10zM714 346l1-10-1-10-3-10-5-10-7-8-7-6-10-5-10-3-10-1-10 1-10 3-10 5-8 7-6 7-5 10-3 10-1 10 1 10 3 10 5 10 7 8 7 6 10 5 10 3 10 1 10-1 10-3 10-5 8-7 6-7 5-10zM847 554l1-4-1-6-3-5-5-3-5-1-6 1-4 3-3 5-1 4 1 6 3 5 5 3 5 1 6-2 4-2z"/>
<path fill="#43ca8b" transform="translate(714.2 551.6)" d="M582 900l0-48-3-34-5-28-9-24-5-10-7-10-7-7-8-5-8-4-10-1-8 0-8 3-6 4-7 6-11 16-8 20-6 26-4 40-1 60 3 24 5 18 6 10 7 8 8 6 10 4 10 3 10 0 12-1 12-4 8-4 8-6 8-8 5-8 4-10 3-10zM712 346l1-10-1-10-3-10-4-8-6-8-7-6-10-5-10-3-10-1-10 1-10 3-8 4-8 6-6 7-5 10-3 10-1 10 1 10 3 10 4 8 6 8 7 6 10 5 10 3 10 1 10-1 10-3 8-4 8-6 6-7 5-10zM842 552l0-7-2-3-4-2-6 1-4 5-1 4 1 3 2 3 4 2 6-1z"/>
<path fill="#4bcb83" transform="translate(728.7 562.8)" d="M580 914l1-48-2-38-5-30-8-26-6-12-6-10-6-7-8-6-8-4-10-2-8 0-8 2-6 4-7 5-11 15-8 19-7 26-4 40-1 58 2 24 5 18 5 10 6 8 6 6 8 5 8 3 10 2 10 0 12-2 10-3 8-5 8-6 6-6 5-8 5-10zM710 348l2-10-1-10-3-10-4-8-6-8-7-6-7-5-10-3-10-2-10 1-10 3-8 4-8 6-6 7-5 7-3 10-2 10 1 10 3 10 4 8 6 8 6 6 8 5 10 3 10 2 10-1 10-3 8-4 8-6 6-7 5-7z"/>
<path fill="#55cc7c" transform="translate(743.1 574)" d="M578 920l2-36-2-50-4-30-7-26-5-12-6-10-6-8-8-7-8-5-8-2-10-1-8 2-12 7-6 6-6 8-9 20-6 24-5 38-1 56 2 26 4 20 4 8 5 8 6 7 8 5 8 4 10 2 10 1 10-1 10-3 8-4 8-5 7-6 6-8 4-8zM708 348l2-8 0-10-3-10-3-8-6-8-7-6-7-5-10-3-8-2-10 0-10 3-8 3-8 6-6 7-5 7-3 10-2 8 0 10 3 10 3 8 6 8 7 6 7 5 10 3 8 2 10 0 10-3 8-3 8-6 6-7 5-7z"/>
<path fill="#5ecd74" transform="translate(757.6 585.2)" d="M578 908l0-48-2-34-4-28-8-24-6-12-6-9-6-6-8-6-8-4-8-2-8 0-8 3-12 8-10 14-9 20-6 24-4 38-1 58 2 24 5 18 5 9 6 8 8 7 8 4 8 3 10 1 10-1 10-2 10-4 8-5 7-6 6-8 4-8 4-10zM708 340l0-10-2-8-3-8-6-8-6-6-7-5-8-3-10-2-10 0-8 2-8 3-8 6-6 6-5 7-3 8-2 10 0 10 2 8 3 8 6 8 6 6 7 5 8 3 10 2 10 0 8-2 8-3 8-6 6-6 5-7 3-8z"/>
<path fill="#68cd6b" transform="translate(772.1 596.4)" d="M576 916l1-42-1-40-5-30-6-24-11-21-6-7-8-8-8-4-8-2-8-1-8 2-12 8-6 6-6 9-8 19-6 23-4 38-1 56 2 24 5 18 3 8 6 8 7 7 8 5 8 3 8 1 10 1 10-2 9-3 8-4 7-5 7-7 5-8 4-8zM706 342l0-8-1-8-2-8-5-8-6-7-7-5-8-4-9-2-8 0-8 1-8 2-8 5-7 6-5 7-4 8-2 9 0 8 1 8 2 8 5 8 6 7 7 5 8 4 9 2 8 0 8-1 8-2 8-5 7-6 5-7 4-8z"/>
<path fill="#73cd63" transform="translate(786.6 607.6)" d="M574 922l2-26-1-58-4-30-7-26-10-20-6-8-8-7-8-5-8-2-8-1-8 2-6 3-6 5-10 13-8 18-6 24-5 36 0 54 1 26 4 18 8 15 6 7 6 4 8 4 8 3 8 1 10-1 10-2 8-4 14-10 6-7 5-8zM704 342l1-8-1-8-3-8-5-8-6-6-6-5-8-3-8-2-8-1-8 1-8 3-8 5-6 6-5 6-3 8-2 8-1 8 1 8 3 8 5 8 6 6 6 5 8 3 8 2 8 1 8-1 8-3 8-5 6-6 5-6 3-8z"/>
<path fill="#7ecc5b" transform="translate(801.1 618.8)" d="M574 912l1-46-2-34-4-28-7-23-10-19-7-8-7-6-8-4-8-2-8 0-6 1-6 3-6 5-10 14-8 19-6 24-4 36 0 56 1 22 5 18 4 8 6 8 7 6 7 4 8 3 8 1 10 0 10-2 8-3 8-5 8-6 5-6 7-16zM702 344l1-8-1-8-2-8-4-7-6-7-5-4-7-4-8-2-8-1-8 1-8 2-7 4-5 4-6 7-4 7-2 8-1 8 1 8 2 8 4 7 4 5 7 6 7 4 8 2 8 1 8-1 8-2 7-4 7-6 4-5 4-7z"/>
<path fill="#89cb52" transform="translate(815.6 630)" d="M572 918l1-32-1-48-3-28-7-24-10-21-6-7-8-8-8-4-8-2-8 0-6 2-6 3-6 5-10 14-8 18-5 22-4 36 0 54 1 22 4 18 4 8 6 8 6 6 6 4 8 3 8 2 17-1 16-6 13-10 6-8 4-8zM700 344l1-8-1-8-2-8-4-6-10-10-6-4-8-2-8-1-8 1-8 2-6 4-10 10-4 6-2 8-1 8 1 8 2 8 4 6 10 10 6 4 8 2 8 1 8-1 8-2 6-4 10-10 4-6z"/>
<path fill="#94ca4a" transform="translate(830.1 641.2)" d="M572 902l0-44-2-30-4-24-7-22-10-18-7-8-6-4-6-4-8-2-8 0-6 2-6 3-6 5-10 14-7 18-5 22-4 36 0 54 1 22 5 17 5 9 5 7 6 5 8 5 8 2 10 1 10-1 10-3 14-8 6-6 5-8 4-8 3-10zM698 344l0-14-2-8-3-6-9-10-7-4-7-2-14 0-8 2-6 3-10 9-4 7-2 7 0 14 2 8 3 6 9 10 7 4 7 2 14 0 8-2 6-3 10-9 4-7z"/>
<path fill="#9fc942" transform="translate(844.6 652.4)" d="M570 914l1-40-1-36-4-27-6-22-10-21-6-7-6-6-6-3-8-3-8-1-6 1-11 7-10 12-8 18-5 22-4 36-1 52 1 22 4 18 4 9 5 7 6 6 7 4 14 5 8 0 10-2 8-2 8-4 12-11 4-6 4-9zM696 344l0-14-4-12-9-10-7-4-6-2-14 0-12 4-10 9-4 7-2 6 0 14 4 12 9 10 7 4 6 2 14 0 12-4 10-9 4-7z"/>
<path fill="#a9c73a" transform="translate(859.1 663.6)" d="M568 918l2-24-1-52-4-28-5-22-10-20-6-8-6-6-6-4-8-3-8-1-6 2-11 6-9 12-8 18-6 22-3 34-1 50 1 24 4 16 7 15 6 6 6 5 14 5 16 0 16-6 12-9 9-14zM694 342l0-12-5-12-9-9-12-5-12 0-12 5-9 9-5 12 0 12 5 12 9 9 12 5 12 0 12-5 9-9z"/>
<path fill="#b3c534" transform="translate(873.6 674.7)" d="M568 906l0-42-1-30-4-24-6-20-9-18-11-12-7-4-6-3-8 0-6 1-10 6-10 13-7 17-6 22-3 34-1 52 1 22 5 16 3 8 6 8 6 5 6 4 8 2 8 1 10 0 8-2 14-8 11-12 6-16zM692 342l0-12-4-10-8-9-6-3-6-2-12 0-10 4-9 8-3 6-2 6 0 12 4 10 8 9 6 3 6 2 12 0 10-4 9-8 3-6z"/>
<path fill="#bdc32e" transform="translate(888.1 685.9)" d="M566 914l1-38-1-36-4-26-5-20-9-19-6-8-6-5-6-4-6-2-8-1-6 1-10 7-10 13-7 16-5 22-3 34-1 48 1 22 4 16 8 14 5 6 6 4 6 3 8 2 16-1 15-6 11-10 8-14zM690 338l-1-10-5-10-10-8-10-2-10 1-10 5-8 10-2 10 1 10 5 10 10 8 10 2 10-1 10-5 8-10z"/>
<path fill="#c6c22a" transform="translate(902.6 697.1)" d="M564 918l2-22-1-52-3-26-6-22-8-18-6-8-6-6-6-4-7-2-7-1-6 2-10 6-9 13-7 16-5 20-3 32-1 48 1 22 4 16 7 14 5 6 6 5 6 2 8 3 14-1 14-5 12-10 8-12zM686 344l2-10-3-10-7-8-8-4-10-2-10 3-8 7-4 8-2 10 3 10 7 8 8 4 10 2 10-3 8-7z"/>
<path fill="#cfc028" transform="translate(917.1 708.3)" d="M564 908l0-40-1-30-4-24-5-19-8-17-11-12-7-4-6-2-6 0-6 1-10 7-9 12-6 16-5 22-3 32-1 48 2 20 4 16 4 8 4 6 6 6 6 3 6 2 8 2 8-1 8-2 8-3 6-5 9-10 6-14zM684 342l1-8-3-9-6-7-8-4-8-1-9 3-7 6-4 8-1 8 3 9 6 7 8 4 8 1 9-3 7-6z"/>
<path fill="#d8be28" transform="translate(931.6 719.5)" d="M562 914l1-32-1-38-3-24-5-21-8-17-10-12-6-4-6-3-8-1-6 2-10 7-8 11-6 16-5 20-3 32-1 46 2 20 3 16 8 14 10 9 6 2 8 2 14-1 14-6 10-10 6-12zM680 344l2-8-2-8-4-6-6-4-8-2-8 2-6 4-4 6-2 8 2 8 4 6 6 4 8 2 8-2 6-4z"/>
<path fill="#e0bc2a" transform="translate(946.1 730.7)" d="M560 918l2-20-1-48-3-26-4-20-8-18-10-13-6-5-6-2-6-1-6 1-10 6-8 10-6 14-5 20-4 30 0 40 0 26 4 18 6 12 9 10 12 5 14 0 14-4 10-8 8-13zM678 338l0-6-3-6-5-4-6-2-6 0-6 3-4 5-2 6 0 6 3 6 5 4 6 2 6 0 6-3 4-5z"/>
<path fill="#e7bb2e" transform="translate(960.6 741.9)" d="M560 906l0-38-1-26-3-22-5-18-7-16-10-12-10-6-6-1-6 1-10 6-7 10-7 16-4 18-3 30-1 46 1 20 3 16 8 14 10 9 6 2 8 2 14-3 12-6 10-11 5-13zM673 340l1-4-2-6-6-5-4-1-6 2-5 6-1 4 2 6 6 5 4 1 6-2z"/>
<path fill="#eeba34" transform="translate(975.1 753.1)" d="M558 912l1-32-1-34-3-22-5-20-7-16-9-11-10-6-6-1-6 1-8 5-8 10-6 14-5 20-3 28-1 42 1 22 3 16 5 12 5 6 5 4 12 5 14-1 12-5 10-9 7-12zM664 338l0-4-4 0 0 4z"/>
<path fill="#f4ba3a" transform="translate(989.6 764.3)" d="M556 916l2-20-1-44-3-24-4-20-7-16-9-12-10-6-6-1-6 1-8 5-8 10-6 15-4 18-3 28-1 42 1 20 3 16 6 12 8 8 6 3 6 2 12 0 12-4 10-9 6-10z"/>
<path fill="#fabb3d" transform="translate(1004.1 775.5)" d="M556 900l0-34-1-24-3-20-5-16-7-15-8-10-10-5-6 0-4 0-8 6-8 11-6 16-4 19-2 30 0 46 2 18 4 12 8 11 10 6 12 1 8-2 6-2 10-8 6-10 4-12z"/>
<path fill="#febe3c" transform="translate(1018.6 786.7)" d="M554 908l1-32-1-28-3-20-4-18-7-15-8-10-10-6-6 0-4 0-8 6-6 9-6 14-4 18-3 28 0 40 1 18 2 14 6 12 8 8 6 3 6 1 12-1 11-5 9-9 6-13z"/>
<path fill="#fec239" transform="translate(1033.1 797.9)" d="M552 912l1-18-1-42-2-22-4-16-6-15-8-11-8-5-6-1-4 0-8 4-6 8-6 13-4 17-3 24-1 30 0 30 3 16 6 12 7 8 10 4 12 0 10-4 9-8 6-10z"/>
<path fill="#fec736" transform="translate(1047.6 809.1)" d="M550 914l2-18-1-40-2-20-4-18-5-15-8-11-8-6-6-1-4 0-8 5-6 8-5 12-4 16-3 22-1 26 1 32 2 16 5 12 7 8 10 5 10 0 10-4 9-7 6-10z"/>
<path fill="#fdcb33" transform="translate(1062.1 820.3)" d="M548 916l2-18 0-38-2-22-4-18-5-14-7-10-8-6-6-2-4 0-8 5-6 9-5 12-3 15-2 21-1 30 0 26 3 16 4 10 7 8 7 4 10 1 10-3 8-5 6-9z"/>
<path fill="#fcd030" transform="translate(1076.6 831.5)" d="M548 902l-1-50-2-18-3-14-6-14-6-8-8-6-8 0-4 2-4 3-5 9-5 12-3 18-2 26-1 40 2 15 4 12 6 8 8 5 10 1 10-3 8-6 5-8 3-10z"/>
<path fill="#fad52e" transform="translate(1091 842.7)" d="M546 906l0-52-2-16-4-16-4-11-6-9-8-6-8 0-6 3-6 9-4 10-4 16-2 22 0 28 0 22 2 14 5 10 7 8 8 3 10-1 9-4 7-8 4-10z"/>
<path fill="#f8da2b" transform="translate(1105.5 853.9)" d="M544 908l0-50-2-18-3-14-5-14-6-8-6-4-8 0-6 4-5 8-4 10-3 14-2 22-1 34 1 16 2 12 4 9 6 6 8 4 8 0 8-4 7-7 5-10z"/>
<path fill="#f6de29" transform="translate(1120 865.1)" d="M542 908l0-48-1-16-3-14-4-12-6-9-6-4-4-2-4 1-6 5-4 6-4 11-3 14-2 22 0 30 1 16 1 10 5 10 6 6 6 3 8-1 8-3 6-7 4-8z"/>
<path fill="#f5e327" transform="translate(1134.5 876.3)" d="M540 906l0-44-3-28-5-12-4-8-6-5-6-1-6 4-4 5-4 10-3 13-2 18 0 24 0 22 2 12 3 8 6 7 6 3 8 0 7-4 6-6 3-8z"/>
<path fill="#f5e825" transform="translate(1149 887.5)" d="M538 904l0-41-4-27-4-12-4-6-4-3-6-2-6 4-4 7-4 12-2 14-1 22 0 30 1 10 3 10 5 6 4 3 6 1 6-2 6-4 4-6 2-6z"/>
<path fill="#f5ec22" transform="translate(1163.5 898.7)" d="M534 912l2-12 0-22-1-20-2-14-3-11-4-8-4-4-6-2-4 3-4 5-5 19-2 30 0 22 1 12 2 8 4 6 4 3 4 1 6-1 5-3 5-6z"/>
<path fill="#f6f11f" transform="translate(1178 909.9)" d="M532 908l1-10 0-24-2-26-3-10-4-7-4-4-4 0-4 2-2 3-3 8-2 10-2 26 1 32 2 7 3 5 5 4 4 0 4-1 4-3 4-6z"/>
<path fill="#f7f51b" transform="translate(1192.5 921.1)" d="M528 908l2-10 0-14-2-29-2-9-3-6-3-3-4-1-2 1-3 5-4 14-1 24 1 26 3 9 3 3 3 1 4 0 4-3z"/>
<path fill="#f9f916" transform="translate(1207 932.3)" d="M524 904l1-18-1-23-4-12-2-2-2 0-4 7-1 10-1 18 0 18 2 6 4 4 2 0 3-2z"/>
</g></g>
<path class="ax" d="M281.1 404.4L281.1 473.9L349.3 504M349.3 504L437.6 480.9M349.3 504L347.2 504.6M315.2 488.9L313.1 489.5M281.1 473.9L279 474.5M349.3 504L351.3 504.9M367 499.4L369 500.3M384.6 494.8L386.6 495.6M402.3 490.1L404.3 491M419.9 485.5L422 486.4M437.6 480.9L439.6 481.8M281.1 473.9L278.5 473.9M281.1 450.7L278.5 450.7M281.1 427.6L278.5 427.6M281.1 404.4L278.5 404.4"/>
<text class="t" x="344" y="511.4" text-anchor="end">0</text>
<text class="t" x="309.9" y="496.4" text-anchor="end">50</text>
<text class="t" x="275.8" y="481.3" text-anchor="end">100</text>
<text class="t" x="353.8" y="513">0</text>
<text class="t" x="371.5" y="508.3">20</text>
<text class="t" x="389.1" y="503.7">40</text>
<text class="t" x="406.8" y="499.1">60</text>
<text class="t" x="424.4" y="494.5">80</text>
<text class="t" x="442.1" y="489.8">100</text>
<text class="t" x="276.9" y="475.8" text-anchor="end">0</text>
<text class="t" x="276.9" y="452.7" text-anchor="end">50</text>
<text class="t" x="276.9" y="429.5" text-anchor="end">100</text>
<text class="t" x="276.9" y="406.4" text-anchor="end">150</text>
<path d="M349.3 504C349.8 503.7 352.2 502.6 352 502C351.8 501.4 349.7 501.2 348.2 500.4C346.7 499.5 343.9 498.1 342.8 496.9C341.7 495.7 341.3 494.2 341.7 493C342.1 491.8 343.2 490.9 345.1 489.9C347 488.9 350.4 487.8 352.8 486.8C355.2 485.8 358.1 485 359.8 483.7C361.5 482.4 362.3 480.6 362.9 479.1C363.5 477.6 363.6 475.9 363.3 474.5C363 473.1 362.5 472 361.3 470.6C360.1 469.2 358.1 467.5 355.9 466C353.7 464.5 350.4 463.5 348.2 461.8C346 460.1 344 457.9 342.8 455.9C341.6 453.9 341 451.8 340.9 449.7C340.8 447.6 341.2 445.4 342 443.5C342.8 441.6 344.2 439.4 345.9 438.1C347.6 436.8 349.8 436.2 352 435.8C354.2 435.4 356.6 435.4 359 435.8C361.4 436.2 363.9 437.1 366.7 438.1C369.5 439.1 374.4 441.4 376 442" fill="none" stroke="#de1030" stroke-width="1.6" stroke-linecap="round" stroke-linejoin="round"/>
<circle cx="341.7" cy="493" r="1.1" fill="none" stroke="#3c9a3c" stroke-width=".6"/>
<circle cx="359.8" cy="483.7" r="1.1" fill="none" stroke="#3c9a3c" stroke-width=".6"/>
<circle cx="361.3" cy="470.6" r="1.1" fill="none" stroke="#3c9a3c" stroke-width=".6"/>
<circle cx="348.2" cy="461.8" r="1.1" fill="none" stroke="#3c9a3c" stroke-width=".6"/>
<circle cx="350.5" cy="502.5" r="1.1" fill="none" stroke="#3c9a3c" stroke-width=".6"/>
<rect x="347.5" y="502.6" width="3" height="3" fill="#f6f000" stroke="#c8b400" stroke-width=".3"/>
<text class="cap" x="362.7" y="545" text-anchor="middle">(f) ACA</text>
</g>
</svg>
</body></html>
